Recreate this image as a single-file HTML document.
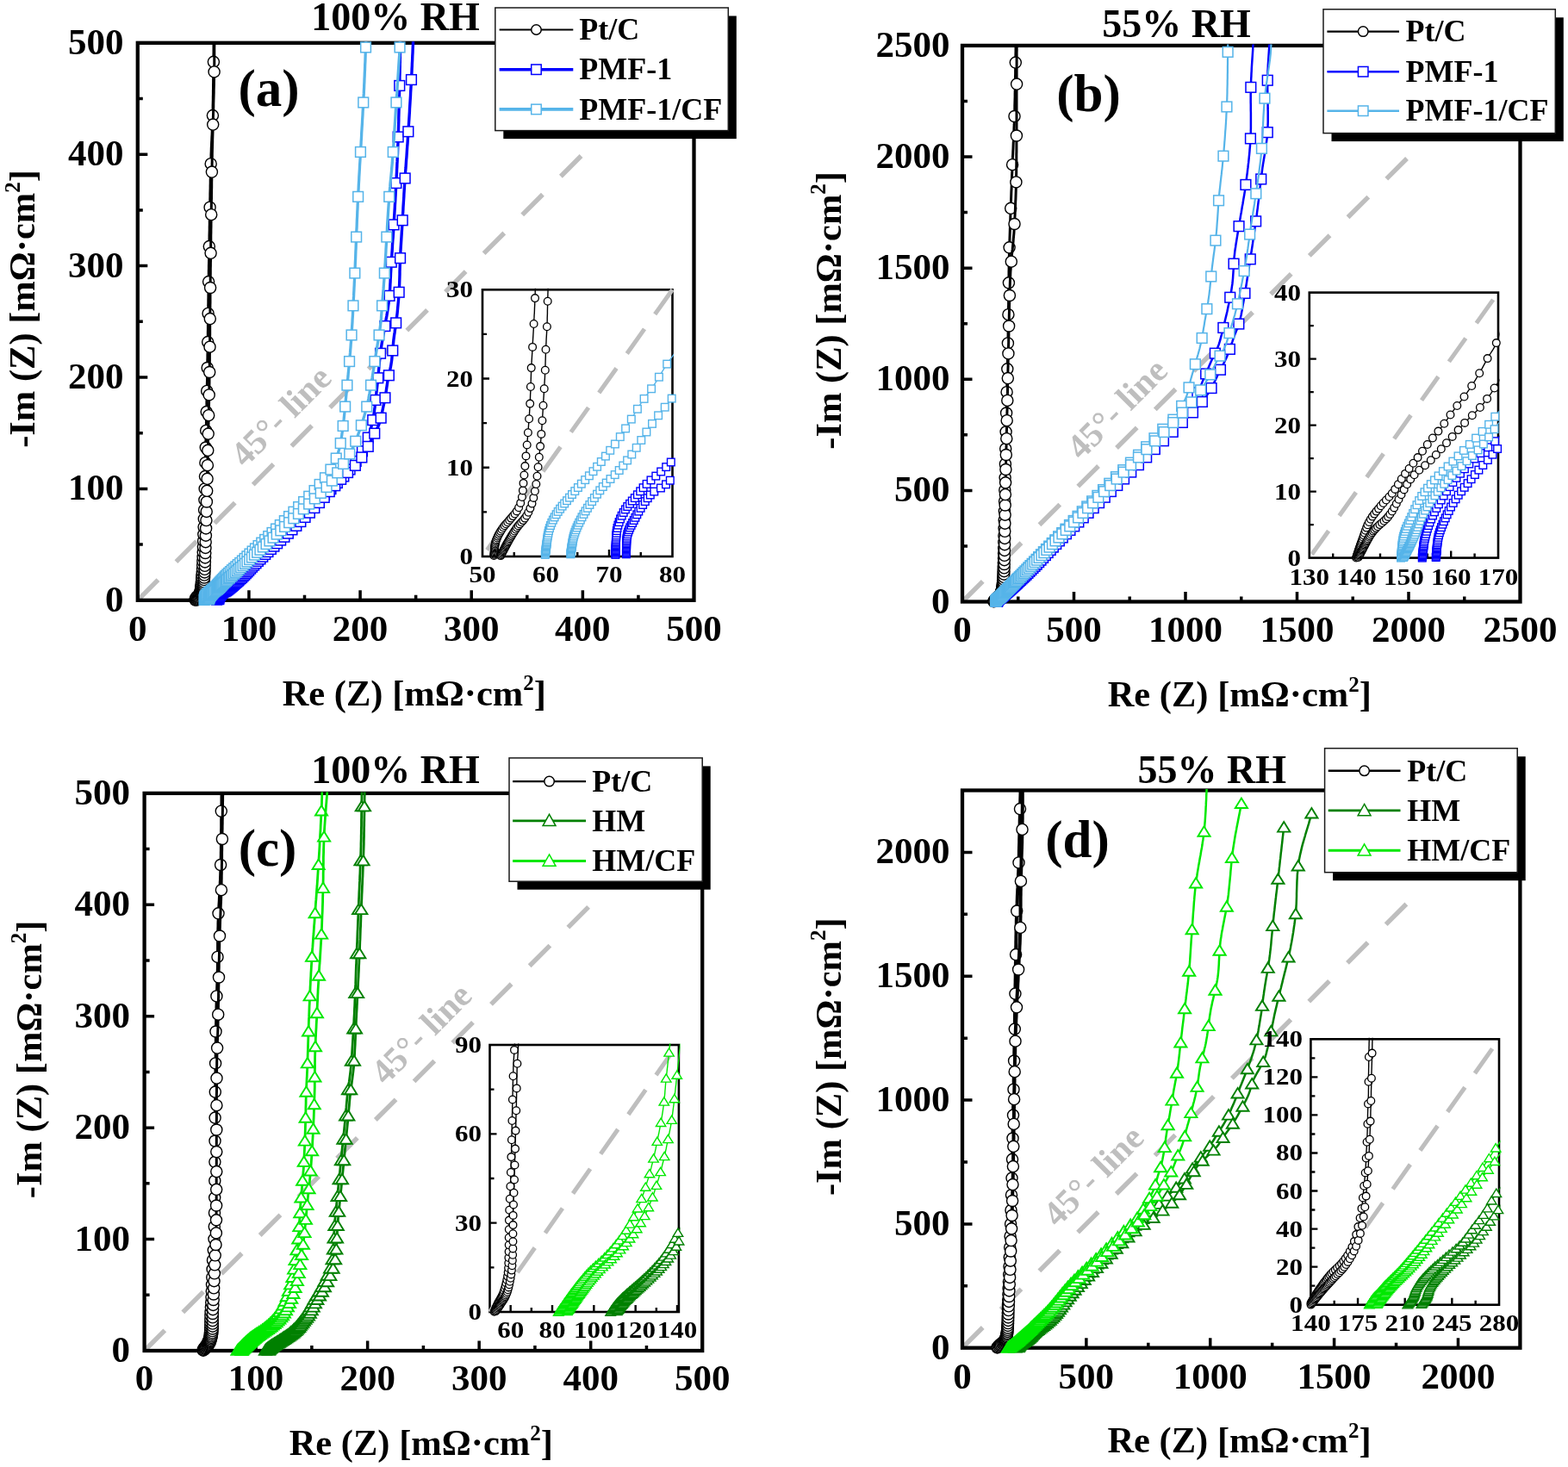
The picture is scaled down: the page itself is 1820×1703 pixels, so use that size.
<!DOCTYPE html>
<html><head><meta charset="utf-8"><title>Nyquist plots</title>
<style>html,body{margin:0;padding:0;background:#fff;} svg{display:block;}</style></head>
<body><svg xmlns="http://www.w3.org/2000/svg" width="1820" height="1703" viewBox="0 0 1820 1703" font-family="'Liberation Serif','Times New Roman',serif" font-weight="bold">
<rect width="1820" height="1703" fill="#fff"/>
<line x1="159.80" y1="696.80" x2="676.36" y2="179.20" stroke="#bebebe" stroke-width="5.4" stroke-dasharray="33.5 29.7" stroke-dashoffset="0"/>
<text x="0" y="0" font-size="41" fill="#bebebe" text-anchor="middle" transform="translate(335.50 492.50) rotate(-45)">45°- line</text>
<rect x="159.80" y="49.80" width="645.70" height="647.00" fill="none" stroke="#000" stroke-width="4.3"/>
<path d="M288.94 696.80v-11.5M418.08 696.80v-11.5M547.22 696.80v-11.5M676.36 696.80v-11.5M224.37 696.80v-6M353.51 696.80v-6M482.65 696.80v-6M611.79 696.80v-6M740.93 696.80v-6M159.80 567.40h11.5M159.80 438.00h11.5M159.80 308.60h11.5M159.80 179.20h11.5M159.80 632.10h6M159.80 502.70h6M159.80 373.30h6M159.80 243.90h6M159.80 114.50h6" stroke="#000" stroke-width="3.5" fill="none"/>
<text x="159.80" y="743.50" font-size="43" text-anchor="middle" fill="#000" >0</text>
<text x="143.50" y="709.80" font-size="43" text-anchor="end" fill="#000" >0</text>
<text x="288.94" y="743.50" font-size="43" text-anchor="middle" fill="#000" >100</text>
<text x="143.50" y="580.40" font-size="43" text-anchor="end" fill="#000" >100</text>
<text x="418.08" y="743.50" font-size="43" text-anchor="middle" fill="#000" >200</text>
<text x="143.50" y="451.00" font-size="43" text-anchor="end" fill="#000" >200</text>
<text x="547.22" y="743.50" font-size="43" text-anchor="middle" fill="#000" >300</text>
<text x="143.50" y="321.60" font-size="43" text-anchor="end" fill="#000" >300</text>
<text x="676.36" y="743.50" font-size="43" text-anchor="middle" fill="#000" >400</text>
<text x="143.50" y="192.20" font-size="43" text-anchor="end" fill="#000" >400</text>
<text x="805.50" y="743.50" font-size="43" text-anchor="middle" fill="#000" >500</text>
<text x="143.50" y="62.80" font-size="43" text-anchor="end" fill="#000" >500</text>
<clipPath id="cl1"><rect x="158.30" y="48.30" width="648.70" height="650.00"/></clipPath>
<g>
<polyline clip-path="url(#cl1)" fill="none" stroke="#000000" stroke-width="3.0" stroke-linejoin="round" points="226.7,696.8 226.8,695.7 227.1,694.6 227.7,693.6 228.5,692.7 229.3,692.0 230.1,691.4 230.9,690.7 231.6,689.9 232.1,689.2 232.4,688.4 232.6,687.2 232.8,685.8 233.0,683.9 233.3,681.9 233.5,680.3 233.7,678.7 233.9,676.8 234.1,674.8 234.2,672.3 234.3,669.8 234.4,668.0 234.6,666.4 234.7,664.7 234.8,663.0 235.0,661.4 235.1,659.2 235.2,657.3 235.3,655.0 235.4,652.3 235.5,649.3 235.6,646.0 235.7,642.6 235.8,639.1 235.9,635.6 236.0,632.1 236.1,629.4 236.2,626.6 236.2,623.7 236.3,620.7 236.4,617.7 236.5,614.6 236.6,611.5 236.7,608.3 236.8,605.1 236.9,601.9 236.9,598.6 237.0,595.3 237.1,592.1 237.2,588.8 237.3,585.5 237.4,582.5 237.4,579.5 237.5,576.5 237.6,573.5 237.6,570.5 237.7,567.4 237.8,564.4 237.9,561.3 237.9,558.2 238.0,555.1 238.1,551.9 238.1,548.7 238.2,545.5 238.3,542.2 238.3,538.9 238.4,535.5 238.5,532.1 238.6,528.6 238.6,525.9 238.7,523.2 238.8,520.4 238.8,517.7 238.9,514.9 238.9,512.1 239.0,509.2 239.1,506.3 239.1,503.5 239.2,500.5 239.3,497.6 239.3,494.6 239.4,491.6 239.5,488.6 239.5,485.6 239.6,482.6 239.7,479.5 239.7,476.4 239.8,473.3 239.9,470.2 239.9,467.0 240.0,463.9 240.1,460.7 240.1,457.5 240.2,454.3 240.3,451.0 240.3,447.8 240.4,444.6 240.5,441.3 240.5,438.0 240.6,435.2 240.6,432.5 240.7,429.7 240.7,426.8 240.8,424.0 240.8,421.1 240.8,418.2 240.9,415.3 240.9,412.4 241.0,409.5 241.0,406.5 241.1,403.6 241.1,400.6 241.2,397.6 241.2,394.6 241.2,391.5 241.3,388.5 241.3,385.5 241.4,382.4 241.4,379.3 241.4,376.3 241.5,373.2 241.5,370.1 241.6,367.0 241.6,363.9 241.7,360.8 241.7,357.7 241.7,354.7 241.8,351.6 241.8,348.5 241.9,345.4 241.9,342.3 242.0,339.2 242.0,336.1 242.1,333.0 242.1,329.9 242.1,326.8 242.2,323.8 242.2,320.7 242.3,317.7 242.3,314.6 242.4,311.6 242.4,308.6 242.5,305.6 242.6,302.5 242.6,299.4 242.7,296.3 242.7,293.1 242.8,289.9 242.8,286.7 242.9,283.5 242.9,280.2 243.0,276.9 243.0,273.7 243.1,270.4 243.2,267.1 243.2,263.8 243.3,260.5 243.3,257.2 243.4,253.9 243.5,250.6 243.5,247.3 243.6,244.0 243.6,240.8 243.7,237.6 243.8,234.4 243.8,231.2 243.9,228.0 243.9,224.9 244.0,221.8 244.1,218.7 244.1,215.7 244.2,212.8 244.2,209.8 244.3,206.9 244.4,204.1 244.4,201.3 244.5,198.6 244.6,195.9 244.6,193.3 244.7,190.8 244.8,188.3 244.8,185.9 244.9,183.6 245.0,181.4 245.0,179.2 245.2,175.2 245.3,171.5 245.5,168.2 245.6,165.0 245.8,162.0 245.9,159.1 246.1,156.2 246.2,153.3 246.3,150.3 246.5,147.2 246.6,143.9 246.7,140.4 246.8,137.6 246.9,134.8 246.9,131.8 247.0,128.8 247.1,125.7 247.1,122.5 247.2,119.2 247.3,115.9 247.3,112.6 247.4,109.2 247.4,105.9 247.5,102.5 247.5,99.2 247.6,95.9 247.6,92.6 247.7,89.4 247.7,86.2 247.7,83.1 247.8,80.1 247.8,77.2 247.8,74.5 247.9,71.8 247.9,68.2 247.9,64.7 248.0,61.4 248.0,58.2 248.0,55.1 248.0,52.1 248.1,49.1 248.1,46.1 248.1,43.1 248.1,40.0 248.1,36.9"/>
<g fill="#fff" stroke="#000000" stroke-width="1.4"><circle cx="226.7" cy="696.5" r="6.55"/><circle cx="226.9" cy="695.6" r="6.55"/><circle cx="227.1" cy="694.7" r="6.55"/><circle cx="227.6" cy="693.8" r="6.55"/><circle cx="228.3" cy="692.9" r="6.55"/><circle cx="229.3" cy="692.0" r="6.55"/><circle cx="230.4" cy="691.1" r="6.55"/><circle cx="231.4" cy="690.2" r="6.55"/><circle cx="232.0" cy="689.3" r="6.55"/><circle cx="232.4" cy="688.4" r="6.55"/><circle cx="232.6" cy="687.4" r="6.55"/><circle cx="232.7" cy="686.4" r="6.55"/><circle cx="232.8" cy="685.2" r="6.55"/><circle cx="233.0" cy="684.0" r="6.55"/><circle cx="233.2" cy="682.5" r="6.55"/><circle cx="233.4" cy="681.0" r="6.55"/><circle cx="233.6" cy="679.2" r="6.55"/><circle cx="233.8" cy="677.3" r="6.55"/><circle cx="234.0" cy="675.1" r="6.55"/><circle cx="234.2" cy="672.7" r="6.55"/><circle cx="234.3" cy="670.0" r="6.55"/><circle cx="234.5" cy="667.1" r="6.55"/><circle cx="234.8" cy="663.8" r="6.55"/><circle cx="235.0" cy="660.1" r="6.55"/><circle cx="235.2" cy="656.0" r="6.55"/><circle cx="235.4" cy="651.5" r="6.55"/><circle cx="235.6" cy="646.5" r="6.55"/><circle cx="235.7" cy="640.9" r="6.55"/><circle cx="235.9" cy="634.8" r="6.55"/><circle cx="236.1" cy="627.9" r="6.55"/><circle cx="236.3" cy="620.3" r="6.55"/><circle cx="236.6" cy="611.8" r="6.55"/><circle cx="236.8" cy="602.4" r="6.55"/><circle cx="237.1" cy="591.9" r="6.55"/><circle cx="237.4" cy="580.3" r="6.55"/><circle cx="237.7" cy="567.4" r="6.55"/><circle cx="238.0" cy="553.1" r="6.55"/><circle cx="238.4" cy="537.2" r="6.55"/><circle cx="238.8" cy="519.5" r="6.55"/><circle cx="239.2" cy="499.9" r="6.55"/><circle cx="239.7" cy="478.1" r="6.55"/><circle cx="240.2" cy="453.9" r="6.55"/><circle cx="240.7" cy="427.0" r="6.55"/><circle cx="241.2" cy="397.1" r="6.55"/><circle cx="241.6" cy="363.9" r="6.55"/><circle cx="242.1" cy="327.1" r="6.55"/><circle cx="242.8" cy="286.1" r="6.55"/><circle cx="243.6" cy="240.7" r="6.55"/><circle cx="244.7" cy="190.2" r="6.55"/><circle cx="246.9" cy="134.1" r="6.55"/><circle cx="247.9" cy="71.8" r="6.55"/></g>
<polyline clip-path="url(#cl1)" fill="none" stroke="#000000" stroke-width="3.0" stroke-linejoin="round" points="228.0,696.8 229.0,695.4 230.1,694.1 230.8,693.2 231.6,692.4 232.4,691.8 233.2,691.1 233.8,690.3 234.3,689.4 234.8,688.3 235.1,687.2 235.3,686.3 235.5,685.3 235.7,683.7 236.0,681.9 236.2,680.5 236.4,678.9 236.6,676.9 236.8,674.7 237.0,672.2 237.2,669.8 237.2,668.2 237.3,666.8 237.4,665.0 237.5,663.2 237.6,661.6 237.7,659.7 237.7,657.8 237.8,655.4 237.9,652.7 238.0,649.6 238.1,646.3 238.2,642.8 238.4,639.2 238.5,635.6 238.6,632.1 238.7,629.4 238.7,626.5 238.8,623.6 238.9,620.7 239.0,617.6 239.1,614.6 239.2,611.4 239.3,608.3 239.4,605.1 239.4,601.8 239.5,598.6 239.6,595.3 239.7,592.1 239.8,588.8 239.9,585.5 239.9,582.5 240.0,579.5 240.1,576.5 240.2,573.5 240.2,570.5 240.3,567.4 240.4,564.4 240.4,561.3 240.5,558.2 240.6,555.1 240.6,551.9 240.7,548.7 240.8,545.5 240.9,542.2 240.9,538.9 241.0,535.5 241.1,532.1 241.2,528.6 241.2,525.9 241.3,523.2 241.3,520.4 241.4,517.7 241.5,514.9 241.5,512.1 241.6,509.2 241.7,506.3 241.7,503.5 241.8,500.5 241.9,497.6 241.9,494.6 242.0,491.6 242.1,488.6 242.2,485.6 242.2,482.6 242.3,479.5 242.4,476.4 242.4,473.3 242.5,470.2 242.6,467.0 242.6,463.9 242.7,460.7 242.8,457.5 242.8,454.3 242.9,451.0 242.9,447.8 243.0,444.6 243.0,441.3 243.1,438.0 243.1,435.2 243.2,432.5 243.2,429.7 243.3,426.8 243.3,424.0 243.3,421.1 243.4,418.2 243.4,415.3 243.4,412.4 243.5,409.5 243.5,406.5 243.5,403.6 243.5,400.6 243.6,397.6 243.6,394.6 243.6,391.5 243.7,388.5 243.7,385.5 243.7,382.4 243.7,379.3 243.8,376.3 243.8,373.2 243.8,370.1 243.8,367.0 243.9,363.9 243.9,360.8 243.9,357.7 243.9,354.7 244.0,351.6 244.0,348.5 244.0,345.4 244.0,342.3 244.1,339.2 244.1,336.1 244.1,333.0 244.2,329.9 244.2,326.8 244.2,323.8 244.2,320.7 244.3,317.7 244.3,314.6 244.3,311.6 244.4,308.6 244.4,305.6 244.5,302.5 244.5,299.4 244.5,296.2 244.6,293.0 244.6,289.8 244.7,286.5 244.7,283.2 244.8,279.9 244.8,276.6 244.8,273.3 244.9,269.9 244.9,266.6 245.0,263.2 245.0,259.9 245.1,256.5 245.1,253.1 245.2,249.8 245.2,246.5 245.3,243.1 245.3,239.9 245.4,236.6 245.4,233.3 245.5,230.1 245.5,226.9 245.6,223.8 245.6,220.7 245.7,217.6 245.7,214.6 245.7,211.6 245.8,208.7 245.8,205.9 245.9,203.1 245.9,200.3 246.0,197.7 246.0,195.1 246.1,192.6 246.1,190.1 246.2,187.8 246.2,185.5 246.2,183.3 246.3,181.2 246.3,179.2 246.4,175.0 246.5,171.4 246.6,168.2 246.7,165.2 246.7,162.3 246.8,159.4 246.9,156.4 247.0,153.1 247.1,149.4 247.2,147.0 247.2,144.4 247.3,141.7 247.4,138.9 247.4,136.0 247.5,133.0 247.6,130.0 247.7,126.9 247.8,123.7 247.8,120.5 247.9,117.3 248.0,114.1 248.1,110.9 248.2,107.7 248.2,104.5 248.3,101.3 248.4,98.2 248.4,95.1 248.5,92.1 248.6,89.1 248.6,86.2 248.6,83.4 248.7,80.1 248.7,76.8 248.8,73.6 248.8,70.4 248.8,67.3 248.8,64.2 248.8,61.2 248.8,58.1 248.8,55.1 248.9,52.1 248.9,49.1 248.9,46.0 248.9,43.0 248.9,39.9 248.9,36.9"/>
<g fill="#fff" stroke="#000000" stroke-width="1.4"><circle cx="228.1" cy="696.6" r="6.55"/><circle cx="228.8" cy="695.7" r="6.55"/><circle cx="229.5" cy="694.8" r="6.55"/><circle cx="230.2" cy="693.9" r="6.55"/><circle cx="231.0" cy="693.0" r="6.55"/><circle cx="232.0" cy="692.1" r="6.55"/><circle cx="233.0" cy="691.2" r="6.55"/><circle cx="233.8" cy="690.3" r="6.55"/><circle cx="234.3" cy="689.4" r="6.55"/><circle cx="234.7" cy="688.5" r="6.55"/><circle cx="235.0" cy="687.6" r="6.55"/><circle cx="235.2" cy="686.6" r="6.55"/><circle cx="235.5" cy="685.5" r="6.55"/><circle cx="235.7" cy="684.2" r="6.55"/><circle cx="235.9" cy="682.8" r="6.55"/><circle cx="236.1" cy="681.3" r="6.55"/><circle cx="236.3" cy="679.5" r="6.55"/><circle cx="236.5" cy="677.6" r="6.55"/><circle cx="236.7" cy="675.5" r="6.55"/><circle cx="236.9" cy="673.1" r="6.55"/><circle cx="237.1" cy="670.5" r="6.55"/><circle cx="237.2" cy="667.6" r="6.55"/><circle cx="237.5" cy="664.4" r="6.55"/><circle cx="237.6" cy="660.8" r="6.55"/><circle cx="237.8" cy="656.8" r="6.55"/><circle cx="237.9" cy="652.4" r="6.55"/><circle cx="238.1" cy="647.4" r="6.55"/><circle cx="238.3" cy="642.0" r="6.55"/><circle cx="238.5" cy="635.9" r="6.55"/><circle cx="238.7" cy="629.2" r="6.55"/><circle cx="238.9" cy="621.7" r="6.55"/><circle cx="239.1" cy="613.4" r="6.55"/><circle cx="239.4" cy="604.1" r="6.55"/><circle cx="239.7" cy="593.9" r="6.55"/><circle cx="239.9" cy="582.5" r="6.55"/><circle cx="240.2" cy="569.8" r="6.55"/><circle cx="240.6" cy="555.8" r="6.55"/><circle cx="240.9" cy="540.2" r="6.55"/><circle cx="241.3" cy="522.8" r="6.55"/><circle cx="241.7" cy="503.6" r="6.55"/><circle cx="242.2" cy="482.2" r="6.55"/><circle cx="242.7" cy="458.4" r="6.55"/><circle cx="243.2" cy="432.0" r="6.55"/><circle cx="243.5" cy="402.7" r="6.55"/><circle cx="243.8" cy="370.1" r="6.55"/><circle cx="244.1" cy="334.0" r="6.55"/><circle cx="244.6" cy="293.8" r="6.55"/><circle cx="245.2" cy="249.2" r="6.55"/><circle cx="245.9" cy="199.6" r="6.55"/><circle cx="247.2" cy="144.6" r="6.55"/><circle cx="248.6" cy="83.4" r="6.55"/></g>
<polyline clip-path="url(#cl1)" fill="none" stroke="#0000ff" stroke-width="3.4" stroke-linejoin="round" points="251.5,696.5 251.6,694.5 251.9,692.7 252.5,691.4 253.3,690.2 254.4,689.1 255.6,688.1 256.8,687.1 257.9,686.2 259.1,685.5 260.3,684.8 261.5,684.0 263.0,683.0 264.8,681.5 267.2,679.6 269.9,677.3 272.8,674.8 275.7,672.2 278.6,669.6 280.6,667.8 282.6,666.0 284.7,664.1 286.7,662.2 288.8,660.2 291.0,658.2 293.2,656.0 295.5,653.8 298.0,651.4 300.6,648.9 302.3,647.2 304.2,645.3 306.2,643.4 308.2,641.4 310.3,639.3 312.4,637.2 314.6,634.9 316.8,632.7 319.1,630.4 321.4,628.0 323.7,625.7 326.1,623.3 328.5,620.9 330.8,618.5 333.2,616.1 335.6,613.7 337.9,611.3 340.3,609.0 342.6,606.6 344.9,604.4 347.1,602.2 349.3,600.0 351.4,597.9 353.5,595.9 356.0,593.5 358.4,591.2 360.9,588.9 363.4,586.5 365.9,584.3 368.3,582.0 370.8,579.8 373.2,577.6 375.5,575.4 377.9,573.3 380.1,571.2 382.4,569.1 384.5,567.1 386.6,565.2 388.6,563.3 390.5,561.4 392.3,559.6 394.9,557.0 397.3,554.6 399.5,552.3 401.6,550.1 403.7,547.8 405.7,545.4 407.7,542.8 409.6,540.4 411.5,537.8 413.3,535.2 415.1,532.5 416.9,529.7 418.6,526.9 420.3,524.0 421.8,521.1 423.2,518.2 424.6,515.2 425.8,512.2 426.9,509.2 428.0,506.1 428.9,503.0 429.8,499.8 430.7,496.5 431.5,493.2 432.3,489.8 432.9,487.0 433.4,484.2 433.9,481.3 434.3,478.4 434.7,475.5 435.1,472.5 435.4,469.4 435.8,466.4 436.1,463.3 436.4,460.2 436.8,457.1 437.1,454.0 437.5,450.9 437.8,448.0 438.1,445.0 438.4,442.0 438.7,438.9 439.0,435.7 439.3,432.6 439.6,429.5 439.9,426.4 440.2,423.2 440.4,420.2 440.8,417.1 441.1,414.1 441.4,411.2 441.7,408.4 442.1,405.6 442.6,402.4 443.1,399.3 443.6,396.2 444.1,393.3 444.6,390.3 445.2,387.4 445.7,384.6 446.3,381.7 446.8,378.8 447.3,375.9 447.8,372.7 448.3,369.6 448.9,366.6 449.4,363.5 449.9,360.4 450.4,357.3 450.8,354.1 451.3,350.8 451.7,347.4 451.9,344.7 452.2,341.8 452.4,339.0 452.6,336.1 452.8,333.1 452.9,330.1 453.1,327.1 453.2,324.0 453.4,320.9 453.5,317.7 453.7,314.5 453.9,311.3 454.0,308.0 454.2,304.7 454.4,301.9 454.6,299.1 454.8,296.3 455.0,293.4 455.2,290.5 455.4,287.5 455.5,284.5 455.7,281.5 455.9,278.5 456.2,275.5 456.4,272.4 456.6,269.3 456.8,266.2 457.0,263.1 457.2,259.9 457.4,256.7 457.5,253.6 457.7,250.4 457.9,247.1 458.1,243.9 458.3,241.1 458.4,238.2 458.6,235.3 458.8,232.5 458.9,229.6 459.1,226.6 459.2,223.7 459.4,220.8 459.6,217.8 459.7,214.9 459.9,211.9 460.0,208.9 460.2,205.9 460.3,202.8 460.5,199.8 460.6,196.7 460.8,193.6 460.9,190.5 461.1,187.4 461.2,184.3 461.3,181.1 461.5,177.9 461.6,174.7 461.7,171.5 461.9,168.2 462.0,165.0 462.1,162.1 462.2,159.2 462.3,156.2 462.4,153.2 462.5,150.0 462.6,146.8 462.7,143.6 462.8,140.3 462.8,136.9 462.9,133.6 463.0,130.2 463.1,126.8 463.2,123.3 463.3,119.9 463.4,116.4 463.4,113.0 463.5,109.6 463.6,106.2 463.7,102.8 463.7,99.5 463.8,96.2 463.9,92.9 463.9,89.7 464.0,86.6 464.1,83.5 464.1,80.6 464.2,77.6 464.2,74.8 464.3,72.1 464.3,69.5 464.4,67.0 464.4,64.6 464.5,62.3 464.5,60.1 464.5,58.1 464.6,56.3 464.6,52.1 464.7,48.6 464.7,45.6 464.8,42.7 464.8,39.9 464.8,36.9"/>
<g fill="#fff" stroke="#0000ff" stroke-width="1.5"><rect x="245.7" y="690.3" width="11.7" height="11.7"/><rect x="245.7" y="689.4" width="11.7" height="11.7"/><rect x="245.8" y="688.5" width="11.7" height="11.7"/><rect x="245.9" y="687.6" width="11.7" height="11.7"/><rect x="246.1" y="686.7" width="11.7" height="11.7"/><rect x="246.5" y="685.8" width="11.7" height="11.7"/><rect x="247.0" y="684.9" width="11.7" height="11.7"/><rect x="247.8" y="684.0" width="11.7" height="11.7"/><rect x="248.7" y="683.1" width="11.7" height="11.7"/><rect x="249.8" y="682.2" width="11.7" height="11.7"/><rect x="250.9" y="681.3" width="11.7" height="11.7"/><rect x="252.0" y="680.4" width="11.7" height="11.7"/><rect x="253.4" y="679.5" width="11.7" height="11.7"/><rect x="254.9" y="678.6" width="11.7" height="11.7"/><rect x="256.2" y="677.7" width="11.7" height="11.7"/><rect x="257.5" y="676.8" width="11.7" height="11.7"/><rect x="258.6" y="675.9" width="11.7" height="11.7"/><rect x="259.7" y="675.0" width="11.7" height="11.7"/><rect x="260.8" y="674.1" width="11.7" height="11.7"/><rect x="261.9" y="673.2" width="11.7" height="11.7"/><rect x="263.1" y="672.2" width="11.7" height="11.7"/><rect x="264.3" y="671.2" width="11.7" height="11.7"/><rect x="265.5" y="670.1" width="11.7" height="11.7"/><rect x="266.8" y="669.0" width="11.7" height="11.7"/><rect x="268.2" y="667.8" width="11.7" height="11.7"/><rect x="269.7" y="666.5" width="11.7" height="11.7"/><rect x="271.2" y="665.2" width="11.7" height="11.7"/><rect x="272.8" y="663.8" width="11.7" height="11.7"/><rect x="274.4" y="662.3" width="11.7" height="11.7"/><rect x="276.2" y="660.7" width="11.7" height="11.7"/><rect x="278.0" y="659.0" width="11.7" height="11.7"/><rect x="279.9" y="657.3" width="11.7" height="11.7"/><rect x="281.8" y="655.4" width="11.7" height="11.7"/><rect x="283.9" y="653.5" width="11.7" height="11.7"/><rect x="286.1" y="651.4" width="11.7" height="11.7"/><rect x="288.4" y="649.2" width="11.7" height="11.7"/><rect x="290.7" y="646.9" width="11.7" height="11.7"/><rect x="293.2" y="644.5" width="11.7" height="11.7"/><rect x="295.9" y="641.9" width="11.7" height="11.7"/><rect x="298.6" y="639.2" width="11.7" height="11.7"/><rect x="301.5" y="636.4" width="11.7" height="11.7"/><rect x="304.5" y="633.4" width="11.7" height="11.7"/><rect x="307.7" y="630.2" width="11.7" height="11.7"/><rect x="311.0" y="626.8" width="11.7" height="11.7"/><rect x="314.5" y="623.3" width="11.7" height="11.7"/><rect x="318.2" y="619.5" width="11.7" height="11.7"/><rect x="322.1" y="615.6" width="11.7" height="11.7"/><rect x="326.2" y="611.4" width="11.7" height="11.7"/><rect x="330.5" y="607.0" width="11.7" height="11.7"/><rect x="335.1" y="602.4" width="11.7" height="11.7"/><rect x="340.1" y="597.5" width="11.7" height="11.7"/><rect x="345.3" y="592.3" width="11.7" height="11.7"/><rect x="351.0" y="586.9" width="11.7" height="11.7"/><rect x="357.1" y="581.1" width="11.7" height="11.7"/><rect x="363.7" y="575.0" width="11.7" height="11.7"/><rect x="370.7" y="568.6" width="11.7" height="11.7"/><rect x="378.1" y="561.8" width="11.7" height="11.7"/><rect x="385.5" y="554.7" width="11.7" height="11.7"/><rect x="393.0" y="547.1" width="11.7" height="11.7"/><rect x="400.2" y="539.1" width="11.7" height="11.7"/><rect x="407.3" y="529.6" width="11.7" height="11.7"/><rect x="414.6" y="517.9" width="11.7" height="11.7"/><rect x="421.4" y="502.2" width="11.7" height="11.7"/><rect x="426.9" y="481.8" width="11.7" height="11.7"/><rect x="430.1" y="458.6" width="11.7" height="11.7"/><rect x="432.9" y="432.9" width="11.7" height="11.7"/><rect x="435.7" y="404.4" width="11.7" height="11.7"/><rect x="441.0" y="372.7" width="11.7" height="11.7"/><rect x="446.2" y="337.5" width="11.7" height="11.7"/><rect x="448.4" y="298.4" width="11.7" height="11.7"/><rect x="451.2" y="255.0" width="11.7" height="11.7"/><rect x="454.0" y="206.7" width="11.7" height="11.7"/><rect x="456.3" y="153.1" width="11.7" height="11.7"/><rect x="457.9" y="93.6" width="11.7" height="11.7"/></g>
<polyline clip-path="url(#cl1)" fill="none" stroke="#0000ff" stroke-width="3.4" stroke-linejoin="round" points="253.7,696.5 253.7,695.0 253.9,693.6 254.6,692.4 255.4,691.4 256.2,690.2 257.2,689.2 258.1,688.2 259.1,687.5 260.1,687.1 261.0,686.7 261.8,686.3 262.7,685.7 264.2,684.5 266.3,682.8 268.8,680.7 271.6,678.3 274.4,675.8 277.3,673.3 279.9,670.9 282.0,669.0 284.0,667.0 285.9,665.0 287.9,663.0 289.9,660.9 292.0,658.8 294.2,656.5 296.6,654.1 299.3,651.5 301.0,649.9 302.8,648.1 304.7,646.3 306.8,644.4 308.8,642.5 311.0,640.5 313.3,638.4 315.5,636.3 317.9,634.2 320.3,632.0 322.7,629.8 325.2,627.6 327.6,625.3 330.1,623.0 332.6,620.7 335.1,618.4 337.6,616.1 340.0,613.8 342.5,611.6 344.9,609.3 347.2,607.1 349.5,604.9 351.8,602.7 354.0,600.6 356.1,598.5 358.4,596.1 360.8,593.7 363.1,591.3 365.4,588.9 367.8,586.4 370.1,584.0 372.4,581.5 374.6,579.0 376.9,576.6 379.1,574.2 381.3,571.8 383.4,569.4 385.6,567.1 387.6,564.9 389.6,562.7 391.6,560.6 393.5,558.6 395.3,556.7 397.0,554.9 398.7,553.2 401.4,550.5 404.0,548.1 406.4,545.9 408.7,543.9 410.8,541.9 412.9,539.8 414.9,537.6 417.1,534.8 419.1,532.0 421.0,529.2 422.8,526.3 424.5,523.4 426.2,520.4 427.8,517.3 429.3,514.1 430.8,511.0 432.3,507.9 433.9,504.8 435.6,501.7 437.2,498.6 438.7,495.5 440.0,492.3 441.0,489.3 441.9,486.2 442.6,483.1 443.2,480.0 443.9,476.8 444.6,473.5 445.3,470.1 446.0,466.8 446.7,463.4 447.3,460.0 447.8,456.7 448.3,453.4 448.8,450.1 449.3,446.7 449.8,443.2 450.4,440.2 451.0,437.2 451.7,434.1 452.4,430.9 453.1,427.7 453.7,424.4 454.2,421.2 454.7,418.1 455.0,414.9 455.3,411.7 455.6,408.5 455.9,405.2 456.2,401.9 456.5,398.6 456.8,395.3 457.2,392.2 457.6,389.1 458.1,385.9 458.5,382.8 459.0,379.6 459.5,376.4 459.9,373.2 460.3,370.0 460.7,366.8 461.1,363.6 461.4,360.3 461.7,357.1 462.0,353.8 462.3,350.6 462.6,347.3 462.8,343.9 463.1,340.5 463.3,337.1 463.4,334.1 463.6,331.1 463.7,328.1 463.8,325.0 463.9,321.9 464.0,318.8 464.0,315.6 464.1,312.4 464.2,309.2 464.3,306.0 464.4,302.8 464.6,299.5 464.7,296.5 464.9,293.4 465.0,290.3 465.2,287.2 465.4,284.1 465.6,280.9 465.8,277.7 466.0,274.5 466.2,271.4 466.4,268.2 466.6,265.0 466.8,261.8 467.0,258.7 467.2,255.5 467.3,252.5 467.5,249.5 467.7,246.5 467.9,243.5 468.0,240.5 468.2,237.5 468.4,234.5 468.6,231.5 468.8,228.5 468.9,225.4 469.1,222.4 469.3,219.2 469.5,216.1 469.7,212.8 469.9,209.9 470.1,207.0 470.3,204.0 470.5,201.1 470.7,198.0 471.0,195.0 471.2,191.9 471.4,188.8 471.6,185.7 471.9,182.6 472.1,179.5 472.3,176.3 472.5,173.2 472.7,170.0 473.0,166.8 473.2,163.6 473.4,160.4 473.6,157.2 473.8,154.2 474.0,151.2 474.2,148.2 474.4,145.1 474.6,142.0 474.8,138.9 475.0,135.8 475.2,132.7 475.4,129.6 475.5,126.4 475.7,123.3 475.9,120.1 476.1,117.0 476.3,113.9 476.5,110.8 476.6,107.7 476.8,104.6 477.0,101.5 477.2,98.5 477.3,95.5 477.5,92.5 477.7,89.3 477.8,86.1 478.0,83.0 478.1,79.9 478.3,76.7 478.4,73.6 478.6,70.6 478.7,67.5 478.8,64.4 479.0,61.4 479.1,58.3 479.2,55.3 479.4,52.2 479.5,49.1 479.6,46.1 479.8,43.0 479.9,39.9 480.1,36.9"/>
<g fill="#fff" stroke="#0000ff" stroke-width="1.5"><rect x="247.9" y="689.8" width="11.7" height="11.7"/><rect x="247.9" y="688.9" width="11.7" height="11.7"/><rect x="248.0" y="688.0" width="11.7" height="11.7"/><rect x="248.4" y="687.1" width="11.7" height="11.7"/><rect x="249.0" y="686.2" width="11.7" height="11.7"/><rect x="249.7" y="685.3" width="11.7" height="11.7"/><rect x="250.3" y="684.4" width="11.7" height="11.7"/><rect x="251.1" y="683.5" width="11.7" height="11.7"/><rect x="252.0" y="682.6" width="11.7" height="11.7"/><rect x="253.1" y="681.7" width="11.7" height="11.7"/><rect x="255.2" y="680.8" width="11.7" height="11.7"/><rect x="256.7" y="679.9" width="11.7" height="11.7"/><rect x="257.9" y="679.0" width="11.7" height="11.7"/><rect x="259.0" y="678.1" width="11.7" height="11.7"/><rect x="260.1" y="677.2" width="11.7" height="11.7"/><rect x="261.2" y="676.3" width="11.7" height="11.7"/><rect x="262.3" y="675.4" width="11.7" height="11.7"/><rect x="263.4" y="674.5" width="11.7" height="11.7"/><rect x="264.4" y="673.6" width="11.7" height="11.7"/><rect x="265.5" y="672.7" width="11.7" height="11.7"/><rect x="266.7" y="671.7" width="11.7" height="11.7"/><rect x="267.9" y="670.6" width="11.7" height="11.7"/><rect x="269.1" y="669.5" width="11.7" height="11.7"/><rect x="270.5" y="668.3" width="11.7" height="11.7"/><rect x="271.8" y="667.1" width="11.7" height="11.7"/><rect x="273.3" y="665.8" width="11.7" height="11.7"/><rect x="274.8" y="664.4" width="11.7" height="11.7"/><rect x="276.3" y="662.9" width="11.7" height="11.7"/><rect x="277.9" y="661.4" width="11.7" height="11.7"/><rect x="279.5" y="659.8" width="11.7" height="11.7"/><rect x="281.2" y="658.1" width="11.7" height="11.7"/><rect x="282.9" y="656.3" width="11.7" height="11.7"/><rect x="284.8" y="654.3" width="11.7" height="11.7"/><rect x="286.7" y="652.3" width="11.7" height="11.7"/><rect x="288.8" y="650.2" width="11.7" height="11.7"/><rect x="291.1" y="648.0" width="11.7" height="11.7"/><rect x="293.5" y="645.6" width="11.7" height="11.7"/><rect x="296.1" y="643.1" width="11.7" height="11.7"/><rect x="298.9" y="640.4" width="11.7" height="11.7"/><rect x="301.9" y="637.6" width="11.7" height="11.7"/><rect x="305.1" y="634.7" width="11.7" height="11.7"/><rect x="308.5" y="631.6" width="11.7" height="11.7"/><rect x="312.1" y="628.3" width="11.7" height="11.7"/><rect x="315.8" y="624.9" width="11.7" height="11.7"/><rect x="319.8" y="621.2" width="11.7" height="11.7"/><rect x="324.1" y="617.4" width="11.7" height="11.7"/><rect x="328.5" y="613.3" width="11.7" height="11.7"/><rect x="333.1" y="609.0" width="11.7" height="11.7"/><rect x="338.0" y="604.5" width="11.7" height="11.7"/><rect x="343.0" y="599.7" width="11.7" height="11.7"/><rect x="348.2" y="594.6" width="11.7" height="11.7"/><rect x="353.5" y="589.3" width="11.7" height="11.7"/><rect x="359.0" y="583.7" width="11.7" height="11.7"/><rect x="364.6" y="577.7" width="11.7" height="11.7"/><rect x="370.4" y="571.5" width="11.7" height="11.7"/><rect x="376.4" y="564.8" width="11.7" height="11.7"/><rect x="382.9" y="557.9" width="11.7" height="11.7"/><rect x="389.8" y="550.5" width="11.7" height="11.7"/><rect x="397.7" y="542.7" width="11.7" height="11.7"/><rect x="406.5" y="534.5" width="11.7" height="11.7"/><rect x="414.0" y="525.1" width="11.7" height="11.7"/><rect x="421.4" y="512.5" width="11.7" height="11.7"/><rect x="428.9" y="497.3" width="11.7" height="11.7"/><rect x="436.3" y="479.3" width="11.7" height="11.7"/><rect x="441.1" y="455.9" width="11.7" height="11.7"/><rect x="445.5" y="429.9" width="11.7" height="11.7"/><rect x="449.9" y="401.1" width="11.7" height="11.7"/><rect x="453.8" y="369.0" width="11.7" height="11.7"/><rect x="457.3" y="333.4" width="11.7" height="11.7"/><rect x="458.7" y="293.8" width="11.7" height="11.7"/><rect x="461.3" y="249.9" width="11.7" height="11.7"/><rect x="464.3" y="201.1" width="11.7" height="11.7"/><rect x="468.0" y="146.9" width="11.7" height="11.7"/><rect x="471.6" y="86.7" width="11.7" height="11.7"/></g>
<polyline clip-path="url(#cl1)" fill="none" stroke="#56b4e9" stroke-width="3.3" stroke-linejoin="round" points="237.2,696.5 237.5,694.5 238.1,692.7 238.8,691.5 239.6,690.5 240.7,689.4 241.9,688.4 243.1,687.4 244.3,686.4 245.5,685.5 246.8,684.5 248.4,683.2 249.9,681.8 251.1,680.7 252.3,679.6 253.4,678.4 254.5,677.1 255.6,675.8 256.8,674.4 258.1,673.1 259.5,671.7 260.7,670.3 262.3,668.5 263.7,667.1 265.3,665.6 267.2,663.8 269.4,661.9 271.7,659.8 274.2,657.5 276.8,655.2 279.5,652.7 282.3,650.2 285.1,647.6 286.9,646.0 288.7,644.2 290.7,642.3 292.8,640.4 294.9,638.4 297.1,636.3 299.4,634.2 301.7,632.0 304.0,629.8 306.4,627.6 308.8,625.3 311.2,623.0 313.7,620.7 316.1,618.3 318.5,616.0 320.9,613.7 323.3,611.4 325.7,609.2 328.0,606.9 330.3,604.7 332.5,602.6 334.6,600.5 336.7,598.4 338.7,596.5 340.6,594.6 343.1,592.1 345.5,589.7 347.9,587.3 350.2,585.0 352.5,582.7 354.7,580.4 356.8,578.2 359.0,576.0 361.0,573.9 363.0,571.7 364.9,569.7 366.8,567.6 368.6,565.5 370.3,563.5 372.4,561.0 374.5,558.5 376.4,556.1 378.2,553.8 379.9,551.4 381.5,549.1 383.0,546.6 384.5,544.1 386.1,541.2 387.6,538.2 389.0,535.1 390.2,532.0 391.4,528.8 392.5,525.5 393.5,522.1 394.3,519.2 395.0,516.1 395.6,513.0 396.1,509.8 396.6,506.6 397.0,503.3 397.5,499.9 397.9,496.5 398.3,493.2 398.7,489.8 399.1,486.9 399.4,484.1 399.7,481.2 400.0,478.3 400.3,475.4 400.6,472.5 400.9,469.5 401.2,466.5 401.4,463.5 401.7,460.4 402.0,457.3 402.3,454.2 402.6,450.9 402.8,448.2 403.1,445.4 403.4,442.5 403.7,439.6 404.0,436.8 404.2,433.8 404.5,430.9 404.8,427.9 405.1,424.9 405.4,421.9 405.7,418.8 405.9,415.7 406.2,412.6 406.5,409.4 406.7,406.3 407.0,403.1 407.2,399.8 407.5,396.6 407.7,393.8 407.9,391.0 408.1,388.2 408.3,385.3 408.4,382.5 408.6,379.6 408.8,376.7 409.0,373.7 409.1,370.8 409.3,367.8 409.5,364.8 409.6,361.8 409.8,358.8 409.9,355.7 410.1,352.7 410.3,349.6 410.4,346.5 410.6,343.4 410.7,340.3 410.9,337.2 411.0,334.1 411.2,331.0 411.3,327.8 411.5,324.7 411.6,321.5 411.8,318.6 411.9,315.7 412.0,312.8 412.2,309.8 412.3,306.8 412.4,303.8 412.6,300.7 412.7,297.7 412.8,294.6 412.9,291.5 413.1,288.5 413.2,285.4 413.3,282.3 413.4,279.2 413.6,276.0 413.7,272.9 413.8,269.8 413.9,266.8 414.1,263.7 414.2,260.6 414.3,257.5 414.4,254.5 414.6,251.5 414.7,248.5 414.8,245.5 415.0,242.5 415.1,239.6 415.2,236.7 415.4,233.8 415.5,231.0 415.7,227.7 415.8,224.5 416.0,221.3 416.2,218.1 416.3,214.9 416.5,211.7 416.7,208.6 416.8,205.4 417.0,202.3 417.2,199.2 417.4,196.1 417.5,193.0 417.7,190.0 417.9,187.0 418.1,184.0 418.2,181.0 418.4,178.1 418.6,175.2 418.7,172.3 418.9,169.4 419.1,166.6 419.2,163.8 419.4,161.1 419.6,157.7 419.7,154.4 419.9,151.3 420.1,148.1 420.3,145.1 420.5,142.0 420.6,139.1 420.8,136.1 421.0,133.1 421.1,130.1 421.3,127.1 421.5,124.0 421.6,120.9 421.8,117.8 422.0,114.5 422.1,111.5 422.3,108.4 422.4,105.1 422.6,101.8 422.7,98.5 422.9,95.1 423.0,91.6 423.2,88.2 423.3,84.8 423.5,81.3 423.6,78.0 423.7,74.7 423.9,71.5 424.0,68.4 424.1,65.4 424.2,62.5 424.3,59.8 424.4,57.3 424.5,55.0 424.7,51.4 424.8,48.2 424.9,45.3 425.0,42.5 425.1,39.8 425.2,36.9"/>
<g fill="#fff" stroke="#56b4e9" stroke-width="1.5"><rect x="231.3" y="690.6" width="11.7" height="11.7"/><rect x="231.5" y="689.7" width="11.7" height="11.7"/><rect x="231.7" y="688.8" width="11.7" height="11.7"/><rect x="231.9" y="687.9" width="11.7" height="11.7"/><rect x="232.2" y="687.0" width="11.7" height="11.7"/><rect x="232.6" y="686.1" width="11.7" height="11.7"/><rect x="233.3" y="685.2" width="11.7" height="11.7"/><rect x="234.1" y="684.3" width="11.7" height="11.7"/><rect x="235.1" y="683.4" width="11.7" height="11.7"/><rect x="236.2" y="682.5" width="11.7" height="11.7"/><rect x="237.2" y="681.6" width="11.7" height="11.7"/><rect x="238.3" y="680.7" width="11.7" height="11.7"/><rect x="239.5" y="679.8" width="11.7" height="11.7"/><rect x="240.7" y="678.9" width="11.7" height="11.7"/><rect x="241.8" y="678.0" width="11.7" height="11.7"/><rect x="242.8" y="677.1" width="11.7" height="11.7"/><rect x="243.8" y="676.2" width="11.7" height="11.7"/><rect x="244.8" y="675.3" width="11.7" height="11.7"/><rect x="245.8" y="674.4" width="11.7" height="11.7"/><rect x="246.7" y="673.5" width="11.7" height="11.7"/><rect x="247.5" y="672.5" width="11.7" height="11.7"/><rect x="248.4" y="671.5" width="11.7" height="11.7"/><rect x="249.3" y="670.4" width="11.7" height="11.7"/><rect x="250.3" y="669.3" width="11.7" height="11.7"/><rect x="251.4" y="668.1" width="11.7" height="11.7"/><rect x="252.6" y="666.9" width="11.7" height="11.7"/><rect x="253.9" y="665.6" width="11.7" height="11.7"/><rect x="255.1" y="664.2" width="11.7" height="11.7"/><rect x="256.4" y="662.7" width="11.7" height="11.7"/><rect x="258.0" y="661.1" width="11.7" height="11.7"/><rect x="259.7" y="659.5" width="11.7" height="11.7"/><rect x="261.6" y="657.8" width="11.7" height="11.7"/><rect x="263.6" y="655.9" width="11.7" height="11.7"/><rect x="265.8" y="654.0" width="11.7" height="11.7"/><rect x="268.0" y="652.0" width="11.7" height="11.7"/><rect x="270.4" y="649.8" width="11.7" height="11.7"/><rect x="272.9" y="647.6" width="11.7" height="11.7"/><rect x="275.6" y="645.2" width="11.7" height="11.7"/><rect x="278.3" y="642.6" width="11.7" height="11.7"/><rect x="281.1" y="640.0" width="11.7" height="11.7"/><rect x="284.1" y="637.2" width="11.7" height="11.7"/><rect x="287.3" y="634.2" width="11.7" height="11.7"/><rect x="290.6" y="631.1" width="11.7" height="11.7"/><rect x="294.2" y="627.7" width="11.7" height="11.7"/><rect x="297.9" y="624.3" width="11.7" height="11.7"/><rect x="301.8" y="620.6" width="11.7" height="11.7"/><rect x="305.9" y="616.7" width="11.7" height="11.7"/><rect x="310.2" y="612.6" width="11.7" height="11.7"/><rect x="314.7" y="608.2" width="11.7" height="11.7"/><rect x="319.5" y="603.7" width="11.7" height="11.7"/><rect x="324.5" y="598.8" width="11.7" height="11.7"/><rect x="329.7" y="593.7" width="11.7" height="11.7"/><rect x="335.1" y="588.4" width="11.7" height="11.7"/><rect x="340.8" y="582.7" width="11.7" height="11.7"/><rect x="346.8" y="576.7" width="11.7" height="11.7"/><rect x="352.9" y="570.4" width="11.7" height="11.7"/><rect x="359.2" y="563.7" width="11.7" height="11.7"/><rect x="365.3" y="556.6" width="11.7" height="11.7"/><rect x="371.6" y="548.9" width="11.7" height="11.7"/><rect x="378.1" y="539.2" width="11.7" height="11.7"/><rect x="384.4" y="526.2" width="11.7" height="11.7"/><rect x="389.4" y="508.7" width="11.7" height="11.7"/><rect x="392.3" y="488.6" width="11.7" height="11.7"/><rect x="394.8" y="466.2" width="11.7" height="11.7"/><rect x="397.1" y="441.3" width="11.7" height="11.7"/><rect x="399.7" y="413.7" width="11.7" height="11.7"/><rect x="402.2" y="383.1" width="11.7" height="11.7"/><rect x="404.1" y="349.0" width="11.7" height="11.7"/><rect x="406.0" y="311.2" width="11.7" height="11.7"/><rect x="407.8" y="269.2" width="11.7" height="11.7"/><rect x="409.8" y="222.5" width="11.7" height="11.7"/><rect x="412.6" y="170.6" width="11.7" height="11.7"/><rect x="415.9" y="113.1" width="11.7" height="11.7"/><rect x="418.7" y="49.1" width="11.7" height="11.7"/></g>
<polyline clip-path="url(#cl1)" fill="none" stroke="#56b4e9" stroke-width="3.3" stroke-linejoin="round" points="242.3,696.5 242.7,695.0 243.1,693.6 243.8,692.3 244.6,691.1 245.7,689.9 246.8,688.6 248.0,687.5 249.2,686.4 250.7,685.4 252.3,684.2 253.8,682.9 255.2,681.5 256.6,680.0 257.9,678.6 258.9,677.6 259.9,676.6 261.1,675.5 262.7,674.0 264.1,672.8 265.7,671.3 267.7,669.5 269.9,667.6 272.3,665.4 274.9,663.1 277.6,660.6 280.3,658.1 283.2,655.5 286.1,652.8 288.9,650.2 290.8,648.5 292.7,646.7 294.7,644.9 296.8,643.0 298.9,641.0 301.1,638.9 303.4,636.9 305.7,634.7 308.0,632.6 310.3,630.4 312.7,628.1 315.1,625.9 317.5,623.7 319.9,621.4 322.4,619.1 324.8,616.9 327.2,614.6 329.5,612.4 331.9,610.2 334.2,608.0 336.5,605.9 338.7,603.8 340.9,601.7 343.0,599.7 345.1,597.7 347.1,595.9 349.5,593.5 352.0,591.2 354.4,589.0 356.9,586.7 359.3,584.5 361.6,582.3 364.0,580.2 366.2,578.1 368.5,576.0 370.6,573.9 372.7,571.9 374.7,569.9 376.7,567.9 378.5,566.0 380.3,564.1 381.9,562.2 384.2,559.5 386.2,556.9 388.1,554.3 389.8,551.9 391.4,549.4 393.1,546.8 394.8,544.1 396.4,541.7 398.1,539.2 399.8,536.6 401.4,534.0 403.1,531.4 404.7,528.8 406.2,526.1 407.7,523.5 409.0,520.8 410.4,518.0 411.6,515.1 412.8,512.2 413.9,509.3 415.0,506.4 416.0,503.5 417.1,500.5 418.1,497.5 419.0,494.7 420.0,491.9 420.9,489.1 421.8,486.2 422.7,483.3 423.5,480.4 424.3,477.5 425.1,474.6 425.8,471.6 426.5,468.7 427.2,465.7 427.8,462.8 428.3,459.8 428.9,456.8 429.4,453.7 429.9,450.7 430.5,447.6 431.0,444.5 431.5,441.4 432.1,438.2 432.6,435.0 433.1,431.7 433.6,428.5 434.1,425.2 434.6,421.9 435.1,418.6 435.6,415.4 436.2,412.1 436.7,408.9 437.2,405.6 437.8,402.4 438.3,399.1 438.9,395.9 439.4,392.6 440.0,389.4 440.5,386.2 440.9,383.0 441.3,379.8 441.7,376.4 442.1,373.1 442.4,369.9 442.6,366.6 442.9,363.3 443.1,360.1 443.4,356.8 443.6,353.4 443.9,350.0 444.1,347.0 444.4,344.0 444.6,341.1 444.8,338.2 445.1,335.2 445.3,332.1 445.5,329.0 445.8,325.8 446.0,322.4 446.2,318.8 446.5,315.1 446.7,312.6 446.8,310.1 447.0,307.4 447.2,304.6 447.3,301.7 447.5,298.7 447.7,295.7 447.9,292.6 448.0,289.4 448.2,286.2 448.4,282.9 448.6,279.6 448.8,276.3 449.0,273.0 449.2,269.6 449.4,266.3 449.5,262.9 449.7,259.6 449.9,256.4 450.1,253.1 450.3,249.9 450.5,246.8 450.7,243.7 450.9,240.7 451.1,237.8 451.3,235.0 451.5,232.3 451.7,229.7 451.9,226.1 452.2,222.7 452.5,219.4 452.8,216.2 453.0,213.1 453.3,210.1 453.6,207.1 453.9,204.2 454.2,201.2 454.5,198.3 454.7,195.2 455.0,192.2 455.3,189.0 455.5,185.7 455.7,182.8 456.0,179.9 456.2,177.0 456.4,174.1 456.6,171.1 456.8,168.1 457.0,165.1 457.2,162.1 457.4,159.0 457.6,155.9 457.8,152.8 458.0,149.7 458.2,146.6 458.4,143.4 458.6,140.3 458.8,137.1 459.0,133.9 459.2,130.7 459.4,127.4 459.6,124.5 459.8,121.5 460.0,118.4 460.2,115.3 460.4,112.0 460.7,108.7 460.9,105.4 461.1,102.1 461.3,98.7 461.6,95.4 461.8,92.0 462.0,88.7 462.2,85.4 462.4,82.1 462.6,79.0 462.8,75.8 463.0,72.8 463.2,69.9 463.4,67.1 463.6,64.4 463.7,61.8 463.8,59.3 464.0,57.1 464.1,55.0 464.2,51.3 464.3,48.0 464.4,45.2 464.4,42.5 464.5,39.7 464.6,36.9"/>
<g fill="#fff" stroke="#56b4e9" stroke-width="1.5"><rect x="236.6" y="690.0" width="11.7" height="11.7"/><rect x="236.8" y="689.1" width="11.7" height="11.7"/><rect x="237.1" y="688.2" width="11.7" height="11.7"/><rect x="237.4" y="687.3" width="11.7" height="11.7"/><rect x="237.9" y="686.4" width="11.7" height="11.7"/><rect x="238.6" y="685.5" width="11.7" height="11.7"/><rect x="239.3" y="684.6" width="11.7" height="11.7"/><rect x="240.1" y="683.7" width="11.7" height="11.7"/><rect x="240.9" y="682.8" width="11.7" height="11.7"/><rect x="241.8" y="681.9" width="11.7" height="11.7"/><rect x="242.8" y="681.0" width="11.7" height="11.7"/><rect x="244.0" y="680.1" width="11.7" height="11.7"/><rect x="245.2" y="679.2" width="11.7" height="11.7"/><rect x="246.5" y="678.3" width="11.7" height="11.7"/><rect x="247.5" y="677.4" width="11.7" height="11.7"/><rect x="248.5" y="676.5" width="11.7" height="11.7"/><rect x="249.4" y="675.6" width="11.7" height="11.7"/><rect x="250.2" y="674.7" width="11.7" height="11.7"/><rect x="251.1" y="673.8" width="11.7" height="11.7"/><rect x="251.9" y="672.9" width="11.7" height="11.7"/><rect x="252.9" y="671.9" width="11.7" height="11.7"/><rect x="253.9" y="670.9" width="11.7" height="11.7"/><rect x="255.1" y="669.8" width="11.7" height="11.7"/><rect x="256.4" y="668.6" width="11.7" height="11.7"/><rect x="257.7" y="667.4" width="11.7" height="11.7"/><rect x="259.2" y="666.1" width="11.7" height="11.7"/><rect x="260.7" y="664.7" width="11.7" height="11.7"/><rect x="262.3" y="663.3" width="11.7" height="11.7"/><rect x="263.9" y="661.8" width="11.7" height="11.7"/><rect x="265.7" y="660.2" width="11.7" height="11.7"/><rect x="267.6" y="658.5" width="11.7" height="11.7"/><rect x="269.6" y="656.7" width="11.7" height="11.7"/><rect x="271.7" y="654.8" width="11.7" height="11.7"/><rect x="273.8" y="652.8" width="11.7" height="11.7"/><rect x="276.2" y="650.7" width="11.7" height="11.7"/><rect x="278.6" y="648.5" width="11.7" height="11.7"/><rect x="281.1" y="646.2" width="11.7" height="11.7"/><rect x="283.8" y="643.7" width="11.7" height="11.7"/><rect x="286.6" y="641.1" width="11.7" height="11.7"/><rect x="289.6" y="638.3" width="11.7" height="11.7"/><rect x="292.8" y="635.4" width="11.7" height="11.7"/><rect x="296.1" y="632.4" width="11.7" height="11.7"/><rect x="299.5" y="629.1" width="11.7" height="11.7"/><rect x="303.2" y="625.7" width="11.7" height="11.7"/><rect x="307.1" y="622.1" width="11.7" height="11.7"/><rect x="311.2" y="618.3" width="11.7" height="11.7"/><rect x="315.4" y="614.3" width="11.7" height="11.7"/><rect x="320.0" y="610.0" width="11.7" height="11.7"/><rect x="324.7" y="605.6" width="11.7" height="11.7"/><rect x="329.8" y="600.8" width="11.7" height="11.7"/><rect x="335.0" y="595.9" width="11.7" height="11.7"/><rect x="340.6" y="590.6" width="11.7" height="11.7"/><rect x="346.5" y="585.0" width="11.7" height="11.7"/><rect x="352.8" y="579.2" width="11.7" height="11.7"/><rect x="359.5" y="573.0" width="11.7" height="11.7"/><rect x="366.4" y="566.5" width="11.7" height="11.7"/><rect x="373.2" y="559.6" width="11.7" height="11.7"/><rect x="379.5" y="552.2" width="11.7" height="11.7"/><rect x="385.9" y="543.0" width="11.7" height="11.7"/><rect x="392.7" y="532.6" width="11.7" height="11.7"/><rect x="399.9" y="521.1" width="11.7" height="11.7"/><rect x="406.9" y="506.4" width="11.7" height="11.7"/><rect x="413.5" y="487.9" width="11.7" height="11.7"/><rect x="419.9" y="466.2" width="11.7" height="11.7"/><rect x="424.7" y="441.3" width="11.7" height="11.7"/><rect x="429.1" y="413.7" width="11.7" height="11.7"/><rect x="434.2" y="383.1" width="11.7" height="11.7"/><rect x="437.7" y="349.0" width="11.7" height="11.7"/><rect x="440.5" y="311.2" width="11.7" height="11.7"/><rect x="443.0" y="269.2" width="11.7" height="11.7"/><rect x="445.9" y="222.5" width="11.7" height="11.7"/><rect x="450.4" y="170.6" width="11.7" height="11.7"/><rect x="454.1" y="113.1" width="11.7" height="11.7"/><rect x="458.2" y="49.1" width="11.7" height="11.7"/></g>
</g>
<rect x="560.00" y="336.30" width="220.50" height="309.70" fill="none" stroke="#000" stroke-width="2.6"/>
<line x1="780.50" y1="336.30" x2="560.00" y2="646.00" stroke="#bebebe" stroke-width="5.0" stroke-dasharray="35 21" stroke-dashoffset="0"/>
<path d="M633.50 646.00v-8M707.00 646.00v-8M596.75 646.00v-5M670.25 646.00v-5M743.75 646.00v-5M560.00 542.77h8M560.00 439.53h8M560.00 594.38h5M560.00 491.15h5M560.00 387.92h5" stroke="#000" stroke-width="2.4" fill="none"/>
<text font-size="27.5" text-anchor="middle" transform="translate(560.00 675.50) scale(1.13 1)">50</text>
<text font-size="27.5" text-anchor="middle" transform="translate(633.50 675.50) scale(1.13 1)">60</text>
<text font-size="27.5" text-anchor="middle" transform="translate(707.00 675.50) scale(1.13 1)">70</text>
<text font-size="27.5" text-anchor="middle" transform="translate(780.50 675.50) scale(1.13 1)">80</text>
<text font-size="27.5" text-anchor="end" transform="translate(549.00 655.00) scale(1.13 1)">0</text>
<text font-size="27.5" text-anchor="end" transform="translate(549.00 551.77) scale(1.13 1)">10</text>
<text font-size="27.5" text-anchor="end" transform="translate(549.00 448.53) scale(1.13 1)">20</text>
<text font-size="27.5" text-anchor="end" transform="translate(549.00 345.30) scale(1.13 1)">30</text>
<clipPath id="cl2"><rect x="558.50" y="334.80" width="223.50" height="312.70"/></clipPath>
<g>
<polyline clip-path="url(#cl2)" fill="none" stroke="#000000" stroke-width="1.4" stroke-linejoin="round" points="573.2,646.0 573.6,642.5 573.8,638.9 574.1,635.3 574.6,631.8 575.4,628.5 576.6,625.2 578.1,621.9 579.9,618.8 581.7,615.8 583.5,613.0 585.6,610.2 587.8,607.7 590.1,605.2 592.3,602.6 594.7,599.9 597.0,597.1 599.3,594.3 601.2,591.3 602.6,588.4 603.8,585.4 604.7,582.3 605.6,578.9 606.2,575.8 606.6,572.6 606.9,569.2 607.2,565.7 607.4,562.0 607.8,558.3 608.1,555.4 608.4,552.4 608.7,549.3 609.0,546.2 609.3,543.0 609.6,539.8 609.9,536.6 610.2,533.4 610.4,530.3 610.7,527.3 611.0,524.0 611.3,520.7 611.6,517.5 611.9,514.4 612.1,511.2 612.4,508.0 612.7,504.8 612.9,501.5 613.2,498.5 613.4,495.5 613.6,492.5 613.9,489.5 614.1,486.4 614.3,483.3 614.5,480.2 614.7,477.0 614.9,473.8 615.1,470.5 615.3,467.6 615.4,464.5 615.5,461.4 615.6,458.2 615.8,455.0 615.9,451.8 616.0,448.6 616.1,445.4 616.2,442.2 616.3,439.1 616.4,436.0 616.5,433.1 616.6,430.2 616.8,426.6 616.9,423.1 617.1,419.8 617.3,416.5 617.5,413.2 617.7,410.0 617.9,406.7 618.1,403.4 618.2,400.1 618.4,396.7 618.6,393.4 618.8,390.1 619.0,386.8 619.2,383.4 619.4,380.0 619.5,376.6 619.7,373.7 619.8,371.0 620.0,368.4 620.1,365.8 620.3,363.2 620.4,360.4 620.5,357.3 620.7,354.0 620.8,350.3 621.0,346.1 621.1,344.4 621.1,342.7 621.2,340.9 621.2,339.0 621.3,337.1 621.4,335.2 621.4,333.1 621.5,331.0 621.6,328.9 621.6,326.7 621.7,324.4 621.8,322.1 621.8,319.7 621.9,317.3 622.0,314.9 622.0,312.4 622.1,309.8 622.2,307.2 622.2,304.6 622.3,301.9 622.4,299.2 622.4,296.4 622.5,293.6 622.6,290.7 622.6,287.8 622.7,284.9 622.8,282.0 622.9,279.0 622.9,275.9 623.0,272.9 623.1,269.8 623.1,266.7 623.2,263.5 623.3,260.3 623.4,257.1 623.4,253.9 623.5,250.6 623.6,247.4 623.7,244.1 623.7,240.7 623.8,237.4 623.9,234.0 624.0,230.6 624.0,227.2 624.1,223.8 624.2,220.4 624.3,217.0 624.3,213.5 624.4,210.1 624.5,206.6 624.6,203.1 624.6,199.6 624.7,196.1 624.8,192.6 624.9,189.1 624.9,185.6 625.0,182.1 625.1,178.6 625.2,175.0 625.2,171.5 625.3,168.0 625.4,164.5 625.5,161.0 625.6,157.5 625.6,154.0 625.7,150.5 625.8,147.0 625.9,143.6 625.9,140.1 626.0,136.7 626.1,133.2 626.1,129.8 626.2,127.2 626.3,124.6 626.3,121.9 626.4,119.3 626.4,116.6 626.5,113.9 626.6,111.2 626.6,108.5 626.7,105.8 626.7,103.0 626.8,100.3 626.8,97.5 626.9,94.8 627.0,92.0 627.0,89.2 627.1,86.4 627.1,83.6 627.2,80.8 627.2,77.9 627.3,75.1 627.4,72.3 627.4,69.4 627.5,66.5 627.5,63.6 627.6,60.7 627.7,57.8 627.7,54.9 627.8,52.0 627.8,49.1 627.9,46.2 628.0,43.2 628.0,40.3 628.1,37.3 628.1,34.3 628.2,31.4 628.3,28.4 628.3,25.4 628.4,22.4 628.4,19.4 628.5,16.4 628.5,13.4 628.6,10.3 628.7,7.3 628.7,4.3 628.8,1.2 628.8,-1.8 628.9,-4.9 629.0,-7.9 629.0,-11.0 629.1,-14.1 629.1,-17.2 629.2,-20.2 629.3,-23.3 629.3,-26.4 629.4,-29.5 629.4,-32.6 629.5,-35.7 629.6,-38.8 629.6,-41.9 629.7,-45.1 629.8,-48.2 629.8,-51.3 629.9,-54.4 629.9,-57.6 630.0,-60.7 630.1,-63.8 630.1,-67.0 630.2,-70.1 630.2,-73.2 630.3,-76.4 630.4,-79.5 630.4,-82.7 630.5,-85.8 630.5,-89.0 630.6,-92.1 630.7,-95.3 630.7,-98.4 630.8,-101.6 630.8,-104.8 630.9,-107.9 631.0,-111.1 631.0,-114.2 631.1,-117.4 631.1,-120.5 631.2,-123.7 631.3,-126.8 631.3,-130.0 631.4,-133.2 631.4,-136.3 631.5,-139.5 631.6,-142.6 631.6,-145.8 631.7,-148.9 631.8,-152.1 631.8,-155.2 631.9,-158.3 631.9,-161.5 632.0,-164.6 632.1,-167.8 632.1,-170.9 632.2,-174.0 632.2,-177.1 632.3,-180.3 632.4,-183.4 632.4,-186.5 632.5,-189.6 632.5,-192.7 632.6,-195.8 632.7,-198.9 632.7,-202.0 632.8,-205.1 632.8,-208.2 632.9,-211.3 633.0,-214.4 633.0,-217.4 633.1,-220.5 633.1,-223.6 633.2,-226.6 633.3,-229.7 633.3,-232.7 633.4,-235.8 633.4,-238.8 633.5,-241.8"/>
<g fill="#fff" stroke="#000000" stroke-width="1.3"><circle cx="573.3" cy="645.0" r="4.35"/><circle cx="573.4" cy="643.8" r="4.35"/><circle cx="573.6" cy="642.6" r="4.35"/><circle cx="573.6" cy="641.4" r="4.35"/><circle cx="573.7" cy="640.2" r="4.35"/><circle cx="573.8" cy="639.0" r="4.35"/><circle cx="573.9" cy="637.8" r="4.35"/><circle cx="574.0" cy="636.6" r="4.35"/><circle cx="574.1" cy="635.4" r="4.35"/><circle cx="574.3" cy="634.2" r="4.35"/><circle cx="574.5" cy="632.9" r="4.35"/><circle cx="574.7" cy="631.5" r="4.35"/><circle cx="575.1" cy="629.9" r="4.35"/><circle cx="575.6" cy="628.1" r="4.35"/><circle cx="576.2" cy="626.4" r="4.35"/><circle cx="577.0" cy="624.5" r="4.35"/><circle cx="577.8" cy="622.6" r="4.35"/><circle cx="578.8" cy="620.6" r="4.35"/><circle cx="580.0" cy="618.6" r="4.35"/><circle cx="581.2" cy="616.6" r="4.35"/><circle cx="582.5" cy="614.5" r="4.35"/><circle cx="584.0" cy="612.3" r="4.35"/><circle cx="585.6" cy="610.2" r="4.35"/><circle cx="587.3" cy="608.2" r="4.35"/><circle cx="589.2" cy="606.2" r="4.35"/><circle cx="591.2" cy="603.9" r="4.35"/><circle cx="593.2" cy="601.6" r="4.35"/><circle cx="595.3" cy="599.1" r="4.35"/><circle cx="597.5" cy="596.5" r="4.35"/><circle cx="599.8" cy="593.4" r="4.35"/><circle cx="602.1" cy="589.3" r="4.35"/><circle cx="604.2" cy="583.9" r="4.35"/><circle cx="605.9" cy="577.0" r="4.35"/><circle cx="606.9" cy="569.4" r="4.35"/><circle cx="607.5" cy="560.9" r="4.35"/><circle cx="608.4" cy="551.5" r="4.35"/><circle cx="609.4" cy="541.1" r="4.35"/><circle cx="610.5" cy="529.4" r="4.35"/><circle cx="611.7" cy="516.5" r="4.35"/><circle cx="612.9" cy="502.2" r="4.35"/><circle cx="614.1" cy="486.3" r="4.35"/><circle cx="615.2" cy="468.6" r="4.35"/><circle cx="615.9" cy="449.0" r="4.35"/><circle cx="616.7" cy="427.1" r="4.35"/><circle cx="618.1" cy="402.9" r="4.35"/><circle cx="619.6" cy="376.0" r="4.35"/><circle cx="621.0" cy="346.1" r="4.35"/></g>
<polyline clip-path="url(#cl2)" fill="none" stroke="#000000" stroke-width="1.4" stroke-linejoin="round" points="580.6,646.0 582.1,643.3 583.5,640.4 585.0,637.6 586.5,634.8 588.0,632.0 589.5,629.3 590.9,626.8 592.3,624.3 594.1,621.4 595.9,618.6 597.6,615.9 599.4,613.4 601.2,610.9 603.4,608.2 605.7,605.8 607.9,603.3 610.0,600.6 611.9,597.5 613.6,594.2 615.2,590.7 616.6,587.2 617.5,584.4 618.4,581.5 619.1,578.5 619.8,575.5 620.4,572.5 621.0,569.6 621.6,566.6 622.0,563.8 622.4,560.9 622.8,557.9 623.2,554.6 623.5,551.9 623.9,549.1 624.2,546.1 624.6,542.9 624.9,539.8 625.2,536.6 625.5,533.4 625.8,530.3 626.1,527.3 626.5,523.8 626.8,520.5 627.1,517.2 627.5,513.9 627.8,510.6 628.1,507.1 628.4,503.5 628.6,500.7 628.8,497.8 629.0,494.8 629.2,491.7 629.4,488.6 629.6,485.5 629.8,482.3 630.0,479.1 630.2,475.9 630.4,472.7 630.6,469.5 630.7,466.5 630.9,463.5 631.1,460.4 631.3,457.3 631.5,454.1 631.7,451.0 631.9,447.9 632.0,444.7 632.2,441.7 632.4,438.7 632.5,435.8 632.6,432.9 632.8,430.2 632.9,426.6 633.0,423.1 633.1,419.8 633.2,416.5 633.3,413.3 633.4,410.0 633.5,406.5 633.6,403.4 633.8,400.3 634.0,397.1 634.1,393.8 634.3,390.6 634.5,387.3 634.7,384.0 634.8,380.8 635.0,377.6 635.1,374.6 635.2,371.9 635.2,369.2 635.3,366.6 635.4,363.9 635.4,361.0 635.5,357.7 635.6,354.0 635.7,349.7 635.7,348.1 635.8,346.4 635.8,344.7 635.9,342.9 635.9,341.0 636.0,339.1 636.0,337.1 636.1,335.0 636.1,332.9 636.2,330.7 636.2,328.5 636.3,326.2 636.3,323.9 636.4,321.5 636.5,319.0 636.5,316.6 636.6,314.0 636.6,311.4 636.7,308.8 636.8,306.1 636.8,303.4 636.9,300.6 637.0,297.8 637.0,295.0 637.1,292.1 637.2,289.2 637.3,286.2 637.3,283.2 637.4,280.2 637.5,277.1 637.5,274.0 637.6,270.9 637.7,267.7 637.8,264.5 637.9,261.3 637.9,258.0 638.0,254.8 638.1,251.5 638.2,248.2 638.2,244.8 638.3,241.5 638.4,238.1 638.5,234.7 638.6,231.3 638.6,227.8 638.7,224.4 638.8,220.9 638.9,217.4 639.0,214.0 639.0,210.5 639.1,206.9 639.2,203.4 639.3,199.9 639.4,196.4 639.4,192.9 639.5,189.3 639.6,185.8 639.7,182.2 639.8,178.7 639.8,175.2 639.9,171.6 640.0,168.1 640.1,164.6 640.2,161.1 640.2,157.5 640.3,154.0 640.4,150.5 640.5,147.1 640.6,143.6 640.6,140.1 640.7,136.7 640.8,133.2 640.9,129.8 640.9,127.2 641.0,124.6 641.0,121.9 641.1,119.2 641.1,116.5 641.2,113.8 641.2,111.1 641.3,108.4 641.4,105.7 641.4,102.9 641.5,100.2 641.5,97.4 641.6,94.7 641.7,91.9 641.7,89.1 641.8,86.3 641.8,83.4 641.9,80.6 641.9,77.8 642.0,74.9 642.1,72.1 642.1,69.2 642.2,66.3 642.2,63.4 642.3,60.6 642.4,57.6 642.4,54.7 642.5,51.8 642.5,48.9 642.6,46.0 642.6,43.0 642.7,40.1 642.8,37.1 642.8,34.1 642.9,31.1 642.9,28.2 643.0,25.2 643.1,22.2 643.1,19.2 643.2,16.2 643.2,13.1 643.3,10.1 643.4,7.1 643.4,4.0 643.5,1.0 643.5,-2.0 643.6,-5.1 643.7,-8.2 643.7,-11.2 643.8,-14.3 643.8,-17.4 643.9,-20.5 644.0,-23.5 644.0,-26.6 644.1,-29.7 644.1,-32.8 644.2,-35.9 644.3,-39.0 644.3,-42.1 644.4,-45.2 644.4,-48.4 644.5,-51.5 644.6,-54.6 644.6,-57.7 644.7,-60.9 644.8,-64.0 644.8,-67.1 644.9,-70.3 644.9,-73.4 645.0,-76.5 645.1,-79.7 645.1,-82.8 645.2,-86.0 645.2,-89.1 645.3,-92.3 645.4,-95.4 645.4,-98.6 645.5,-101.7 645.5,-104.9 645.6,-108.0 645.7,-111.2 645.7,-114.3 645.8,-117.5 645.8,-120.6 645.9,-123.8 646.0,-126.9 646.0,-130.1 646.1,-133.2 646.1,-136.4 646.2,-139.5 646.3,-142.7 646.3,-145.8 646.4,-149.0 646.5,-152.1 646.5,-155.3 646.6,-158.4 646.6,-161.5 646.7,-164.7 646.8,-167.8 646.8,-170.9 646.9,-174.1 646.9,-177.2 647.0,-180.3 647.1,-183.4 647.1,-186.5 647.2,-189.6 647.2,-192.7 647.3,-195.9 647.4,-198.9 647.4,-202.0 647.5,-205.1 647.5,-208.2 647.6,-211.3 647.7,-214.4 647.7,-217.4 647.8,-220.5 647.8,-223.6 647.9,-226.6 648.0,-229.7 648.0,-232.7 648.1,-235.8 648.1,-238.8 648.2,-241.8"/>
<g fill="#fff" stroke="#000000" stroke-width="1.3"><circle cx="581.1" cy="645.1" r="4.35"/><circle cx="581.7" cy="643.9" r="4.35"/><circle cx="582.3" cy="642.7" r="4.35"/><circle cx="583.0" cy="641.5" r="4.35"/><circle cx="583.6" cy="640.3" r="4.35"/><circle cx="584.2" cy="639.1" r="4.35"/><circle cx="584.9" cy="637.9" r="4.35"/><circle cx="585.5" cy="636.7" r="4.35"/><circle cx="586.1" cy="635.5" r="4.35"/><circle cx="586.8" cy="634.3" r="4.35"/><circle cx="587.4" cy="633.1" r="4.35"/><circle cx="588.1" cy="631.9" r="4.35"/><circle cx="588.7" cy="630.7" r="4.35"/><circle cx="589.4" cy="629.5" r="4.35"/><circle cx="590.1" cy="628.2" r="4.35"/><circle cx="590.9" cy="626.8" r="4.35"/><circle cx="591.8" cy="625.3" r="4.35"/><circle cx="592.7" cy="623.7" r="4.35"/><circle cx="593.7" cy="622.1" r="4.35"/><circle cx="594.8" cy="620.3" r="4.35"/><circle cx="596.0" cy="618.5" r="4.35"/><circle cx="597.2" cy="616.5" r="4.35"/><circle cx="598.6" cy="614.5" r="4.35"/><circle cx="600.0" cy="612.4" r="4.35"/><circle cx="601.6" cy="610.4" r="4.35"/><circle cx="603.3" cy="608.4" r="4.35"/><circle cx="605.2" cy="606.3" r="4.35"/><circle cx="607.2" cy="604.1" r="4.35"/><circle cx="609.2" cy="601.6" r="4.35"/><circle cx="611.3" cy="598.5" r="4.35"/><circle cx="613.3" cy="594.7" r="4.35"/><circle cx="615.4" cy="590.1" r="4.35"/><circle cx="617.5" cy="584.6" r="4.35"/><circle cx="619.3" cy="577.9" r="4.35"/><circle cx="620.9" cy="570.3" r="4.35"/><circle cx="622.3" cy="562.0" r="4.35"/><circle cx="623.5" cy="552.7" r="4.35"/><circle cx="624.6" cy="542.3" r="4.35"/><circle cx="625.8" cy="530.8" r="4.35"/><circle cx="627.1" cy="518.1" r="4.35"/><circle cx="628.3" cy="503.9" r="4.35"/><circle cx="629.4" cy="488.2" r="4.35"/><circle cx="630.5" cy="470.7" r="4.35"/><circle cx="631.7" cy="451.3" r="4.35"/><circle cx="632.8" cy="429.8" r="4.35"/><circle cx="633.5" cy="405.8" r="4.35"/><circle cx="634.9" cy="379.3" r="4.35"/><circle cx="635.7" cy="349.7" r="4.35"/></g>
<polyline clip-path="url(#cl2)" fill="none" stroke="#0000ff" stroke-width="1.4" stroke-linejoin="round" points="714.4,643.9 714.5,640.8 714.7,637.6 714.8,634.4 714.8,631.2 714.9,628.0 715.1,624.8 715.3,621.7 715.6,618.7 716.0,615.7 716.6,613.0 717.4,609.9 718.3,606.9 719.4,604.0 720.5,601.3 721.8,598.6 723.2,595.9 724.6,593.4 726.3,590.8 728.0,588.4 729.9,586.0 731.9,583.7 733.9,581.4 735.9,579.1 737.9,576.8 740.0,574.2 742.2,571.5 744.4,568.8 746.6,566.2 748.8,563.7 751.1,561.3 753.7,558.9 756.3,556.7 758.9,554.5 761.6,552.3 764.3,550.0 766.4,548.2 768.4,546.5 770.3,544.7 772.3,542.9 774.5,540.8 777.0,538.4 779.8,535.5 781.0,534.3 782.2,532.9 783.5,531.5 784.9,530.0 786.3,528.4 787.8,526.8 789.3,525.1 790.9,523.3 792.5,521.4 794.1,519.5 795.9,517.6 797.6,515.6 799.4,513.5 801.2,511.4 803.1,509.2 805.0,507.0 806.9,504.7 808.9,502.4 810.8,500.0 812.9,497.6 814.9,495.2 817.0,492.7 819.0,490.2 821.1,487.7 823.3,485.1 825.4,482.6 827.6,480.0 829.7,477.3 831.9,474.7 834.1,472.0 836.3,469.4 838.5,466.7 840.7,464.0 842.9,461.3 845.1,458.6 847.3,455.9 849.4,453.2 851.6,450.5 853.8,447.8 856.0,445.1 858.1,442.4 860.3,439.7 862.4,437.1 864.5,434.4 866.6,431.8 868.7,429.2 870.4,427.1 872.1,425.0 873.8,422.8 875.5,420.6 877.2,418.4 878.9,416.3 880.6,414.0 882.4,411.8 884.1,409.6 885.9,407.3 887.6,405.1 889.4,402.8 891.1,400.5 892.9,398.2 894.7,395.9 896.5,393.6 898.2,391.2 900.0,388.9 901.8,386.5 903.6,384.2 905.4,381.8 907.2,379.4 909.0,377.0 910.8,374.6 912.7,372.2 914.5,369.8 916.3,367.4 918.1,365.0 920.0,362.5 921.8,360.1 923.6,357.6 925.5,355.2 927.3,352.7 929.1,350.3 931.0,347.8 932.8,345.3 934.7,342.9 936.5,340.4 938.4,337.9 940.2,335.4 942.1,333.0 943.9,330.5 945.8,328.0 947.6,325.5 949.5,323.0 951.3,320.5 953.2,318.0 955.0,315.6 956.9,313.1 958.8,310.6 960.6,308.1 962.5,305.6 964.3,303.1 966.2,300.7 968.0,298.2 969.9,295.7 971.7,293.2 973.5,290.8 975.4,288.3 977.2,285.9 979.1,283.4 980.9,281.0 982.7,278.5 984.6,276.1 986.4,273.7 988.2,271.3 990.0,268.8 991.8,266.4 993.6,264.0"/>
<g fill="#fff" stroke="#0000ff" stroke-width="1.4"><rect x="710.1" y="639.6" width="8.6" height="8.6"/><rect x="710.1" y="638.4" width="8.6" height="8.6"/><rect x="710.2" y="637.2" width="8.6" height="8.6"/><rect x="710.3" y="636.0" width="8.6" height="8.6"/><rect x="710.3" y="634.8" width="8.6" height="8.6"/><rect x="710.3" y="633.6" width="8.6" height="8.6"/><rect x="710.4" y="632.4" width="8.6" height="8.6"/><rect x="710.4" y="631.2" width="8.6" height="8.6"/><rect x="710.5" y="630.0" width="8.6" height="8.6"/><rect x="710.5" y="628.8" width="8.6" height="8.6"/><rect x="710.5" y="627.6" width="8.6" height="8.6"/><rect x="710.6" y="626.3" width="8.6" height="8.6"/><rect x="710.6" y="624.8" width="8.6" height="8.6"/><rect x="710.7" y="623.2" width="8.6" height="8.6"/><rect x="710.7" y="621.4" width="8.6" height="8.6"/><rect x="710.9" y="619.3" width="8.6" height="8.6"/><rect x="711.0" y="617.1" width="8.6" height="8.6"/><rect x="711.3" y="614.6" width="8.6" height="8.6"/><rect x="711.6" y="611.8" width="8.6" height="8.6"/><rect x="712.2" y="608.7" width="8.6" height="8.6"/><rect x="713.1" y="605.3" width="8.6" height="8.6"/><rect x="714.3" y="601.8" width="8.6" height="8.6"/><rect x="715.7" y="598.1" width="8.6" height="8.6"/><rect x="717.4" y="594.4" width="8.6" height="8.6"/><rect x="719.4" y="590.7" width="8.6" height="8.6"/><rect x="721.6" y="587.1" width="8.6" height="8.6"/><rect x="724.0" y="583.7" width="8.6" height="8.6"/><rect x="726.7" y="580.5" width="8.6" height="8.6"/><rect x="729.5" y="577.2" width="8.6" height="8.6"/><rect x="732.5" y="573.8" width="8.6" height="8.6"/><rect x="735.6" y="570.0" width="8.6" height="8.6"/><rect x="738.9" y="566.0" width="8.6" height="8.6"/><rect x="742.3" y="561.9" width="8.6" height="8.6"/><rect x="746.3" y="557.6" width="8.6" height="8.6"/><rect x="751.2" y="553.1" width="8.6" height="8.6"/><rect x="757.0" y="548.3" width="8.6" height="8.6"/><rect x="762.9" y="543.2" width="8.6" height="8.6"/><rect x="768.9" y="537.8" width="8.6" height="8.6"/><rect x="774.5" y="532.2" width="8.6" height="8.6"/></g>
<polyline clip-path="url(#cl2)" fill="none" stroke="#0000ff" stroke-width="1.4" stroke-linejoin="round" points="726.8,643.9 727.0,640.5 727.0,637.0 727.1,633.5 727.1,630.1 727.3,626.6 727.7,623.3 728.3,620.2 729.3,617.1 730.5,614.1 731.8,611.2 733.3,608.3 734.9,605.5 736.4,602.6 738.0,599.7 739.6,596.6 741.3,593.6 743.1,590.7 744.9,587.8 746.7,585.1 748.8,582.1 750.9,579.2 753.1,576.4 755.4,573.9 757.7,571.7 760.4,569.8 763.2,568.4 766.1,567.1 768.7,565.5 771.0,563.8 773.1,562.2 775.4,560.1 778.3,557.2 779.3,556.2 780.4,555.1 781.5,553.9 782.7,552.5 784.0,551.1 785.4,549.6 786.8,548.1 788.3,546.4 789.8,544.7 791.4,542.8 793.1,541.0 794.8,539.0 796.6,537.0 798.4,534.9 800.2,532.7 802.1,530.5 804.1,528.2 806.1,525.9 808.1,523.5 810.1,521.1 812.2,518.6 814.3,516.1 816.5,513.5 818.6,510.9 820.8,508.3 823.1,505.6 825.3,502.9 827.5,500.2 829.8,497.4 832.1,494.7 834.3,491.9 836.6,489.1 838.9,486.3 841.2,483.5 843.5,480.7 845.8,477.8 848.0,475.0 850.3,472.2 852.6,469.4 854.8,466.6 857.1,463.8 859.3,461.0 861.5,458.2 863.6,455.5 865.8,452.7 867.9,450.0 870.0,447.4 872.0,444.7 874.1,442.1 876.0,439.5 877.8,437.3 879.5,435.0 881.3,432.7 883.0,430.4 884.8,428.1 886.5,425.8 888.2,423.4 890.0,421.1 891.7,418.7 893.5,416.4 895.2,414.0 897.0,411.6 898.7,409.2 900.5,406.8 902.2,404.4 904.0,402.0 905.7,399.5 907.5,397.1 909.2,394.7 910.9,392.2 912.7,389.8 914.4,387.3 916.2,384.8 918.0,382.4 919.7,379.9 921.5,377.4 923.2,374.9 925.0,372.4 926.7,369.9 928.5,367.4 930.2,364.9 932.0,362.4 933.7,359.9 935.5,357.4 937.2,354.9 939.0,352.4 940.7,349.8 942.5,347.3 944.2,344.8 946.0,342.3 947.7,339.7 949.5,337.2 951.3,334.7 953.0,332.2 954.8,329.7 956.5,327.1 958.3,324.6 960.0,322.1 961.8,319.6 963.5,317.1 965.3,314.5 967.0,312.0 968.8,309.5 970.5,307.0 972.3,304.5 974.0,302.0 975.8,299.5 977.5,297.0 979.3,294.6 981.0,292.1 982.8,289.6 984.5,287.1 986.3,284.7"/>
<g fill="#fff" stroke="#0000ff" stroke-width="1.4"><rect x="722.6" y="639.0" width="8.6" height="8.6"/><rect x="722.6" y="637.8" width="8.6" height="8.6"/><rect x="722.7" y="636.6" width="8.6" height="8.6"/><rect x="722.7" y="635.4" width="8.6" height="8.6"/><rect x="722.7" y="634.2" width="8.6" height="8.6"/><rect x="722.7" y="633.0" width="8.6" height="8.6"/><rect x="722.7" y="631.8" width="8.6" height="8.6"/><rect x="722.8" y="630.6" width="8.6" height="8.6"/><rect x="722.8" y="629.4" width="8.6" height="8.6"/><rect x="722.8" y="628.2" width="8.6" height="8.6"/><rect x="722.8" y="627.0" width="8.6" height="8.6"/><rect x="722.8" y="625.6" width="8.6" height="8.6"/><rect x="722.9" y="624.0" width="8.6" height="8.6"/><rect x="723.0" y="622.3" width="8.6" height="8.6"/><rect x="723.2" y="620.4" width="8.6" height="8.6"/><rect x="723.6" y="618.2" width="8.6" height="8.6"/><rect x="724.0" y="615.9" width="8.6" height="8.6"/><rect x="724.8" y="613.3" width="8.6" height="8.6"/><rect x="725.8" y="610.8" width="8.6" height="8.6"/><rect x="726.9" y="608.1" width="8.6" height="8.6"/><rect x="728.3" y="605.5" width="8.6" height="8.6"/><rect x="729.8" y="602.7" width="8.6" height="8.6"/><rect x="731.4" y="599.7" width="8.6" height="8.6"/><rect x="733.1" y="596.5" width="8.6" height="8.6"/><rect x="735.0" y="593.0" width="8.6" height="8.6"/><rect x="737.0" y="589.3" width="8.6" height="8.6"/><rect x="739.3" y="585.5" width="8.6" height="8.6"/><rect x="741.8" y="581.7" width="8.6" height="8.6"/><rect x="744.5" y="577.8" width="8.6" height="8.6"/><rect x="747.4" y="573.9" width="8.6" height="8.6"/><rect x="750.5" y="570.2" width="8.6" height="8.6"/><rect x="755.0" y="566.3" width="8.6" height="8.6"/><rect x="762.6" y="562.2" width="8.6" height="8.6"/><rect x="768.7" y="558.0" width="8.6" height="8.6"/><rect x="773.5" y="553.4" width="8.6" height="8.6"/></g>
<polyline clip-path="url(#cl2)" fill="none" stroke="#56b4e9" stroke-width="1.4" stroke-linejoin="round" points="632.8,643.9 633.2,640.8 633.7,637.6 634.1,634.3 634.5,631.1 634.9,627.8 635.4,624.6 635.9,621.5 636.5,618.5 637.1,615.7 637.9,613.0 639.1,609.7 640.4,606.6 641.8,603.7 643.3,600.9 645.0,598.2 646.7,595.4 648.4,593.0 650.2,590.5 652.1,588.2 654.1,585.8 656.0,583.5 658.0,581.2 660.0,578.9 662.1,576.3 664.3,573.7 666.5,571.1 668.7,568.5 670.9,566.0 673.2,563.4 675.2,561.2 677.3,559.1 679.4,556.9 681.5,554.8 683.6,552.6 685.7,550.3 687.9,547.9 689.8,545.7 691.8,543.4 693.8,540.9 695.8,538.5 697.8,536.0 699.8,533.5 701.8,531.0 703.7,528.6 705.5,526.2 707.5,523.7 709.5,521.2 711.4,518.7 713.3,516.2 715.1,513.8 716.9,511.3 718.8,508.7 720.6,506.0 722.4,503.2 724.2,500.5 725.9,497.7 727.7,494.8 729.5,492.0 731.3,489.1 732.9,486.4 734.5,483.7 736.1,481.0 737.7,478.3 739.4,475.6 741.0,472.8 742.7,470.1 744.5,467.4 746.3,464.7 748.2,462.0 750.1,459.3 752.1,456.7 754.1,454.0 756.0,451.3 758.0,448.5 759.9,445.7 761.5,443.3 762.9,441.1 764.2,438.8 765.5,436.6 766.9,434.3 768.3,431.9 769.9,429.3 771.7,426.4 773.7,423.3 776.1,419.9 777.1,418.5 778.1,417.1 779.1,415.7 780.2,414.2 781.3,412.6 782.5,411.0 783.7,409.4 784.9,407.8 786.2,406.1 787.5,404.3 788.8,402.6 790.2,400.8 791.6,398.9 793.0,397.0 794.5,395.1 796.0,393.2 797.5,391.2 799.1,389.2 800.7,387.2 802.3,385.1 803.9,383.0 805.6,380.9 807.3,378.7 809.0,376.5 810.8,374.3 812.5,372.0 814.3,369.8 816.2,367.5 818.0,365.1 819.9,362.8 821.8,360.4 823.7,358.0 825.6,355.5 827.5,353.1 829.5,350.6 831.5,348.1 833.5,345.6 835.5,343.0 837.6,340.5 839.6,337.9 841.7,335.3 843.8,332.7 845.8,330.0 848.0,327.4 850.1,324.7 852.2,322.0 854.4,319.3 856.5,316.6 858.7,313.8 860.9,311.1 863.0,308.3 865.2,305.5 867.4,302.7 869.7,299.9 871.9,297.1 874.1,294.2 876.3,291.4 878.5,288.5 880.8,285.7 883.0,282.8 885.3,279.9 887.5,277.0 889.7,274.1 892.0,271.2 894.2,268.3 896.5,265.4 898.7,262.5 901.0,259.6 903.2,256.6 905.5,253.7 906.9,251.9 908.3,250.0 909.7,248.1 911.2,246.2 912.6,244.3 914.1,242.4 915.5,240.5 917.0,238.5 918.5,236.6 920.0,234.6 921.5,232.6 923.0,230.7 924.5,228.7 926.0,226.7 927.5,224.6 929.1,222.6 930.6,220.6 932.2,218.5 933.7,216.4 935.3,214.4 936.9,212.3 938.4,210.2 940.0,208.1 941.6,206.0 943.2,203.8 944.8,201.7 946.4,199.6 948.1,197.4 949.7,195.2 951.3,193.1 953.0,190.9 954.6,188.7 956.3,186.5 957.9,184.3 959.6,182.1 961.3,179.8 963.0,177.6 964.6,175.3 966.3,173.1 968.0,170.8 969.7,168.6 971.4,166.3 973.2,164.0 974.9,161.7 976.6,159.4 978.3,157.1 980.1,154.8 981.8,152.4 983.6,150.1 985.3,147.8 987.1,145.4 988.8,143.0 990.6,140.7 992.4,138.3 994.1,135.9 995.9,133.6 997.7,131.2 999.5,128.8 1001.3,126.4 1003.1,123.9 1004.9,121.5 1006.7,119.1 1008.5,116.7 1010.3,114.2 1012.2,111.8 1014.0,109.4 1015.8,106.9 1017.6,104.5 1019.5,102.0 1021.3,99.5 1023.2,97.1 1025.0,94.6 1026.9,92.1 1028.7,89.6 1030.6,87.1 1032.4,84.6 1034.3,82.1 1036.2,79.6 1038.0,77.1 1039.9,74.6 1041.8,72.1 1043.6,69.6 1045.5,67.0 1047.4,64.5 1049.3,62.0 1051.2,59.4 1053.1,56.9 1055.0,54.3 1056.8,51.8 1058.7,49.3 1060.6,46.7 1062.5,44.1 1064.4,41.6 1066.3,39.0 1068.3,36.5 1070.2,33.9 1072.1,31.3 1074.0,28.8 1075.9,26.2 1077.8,23.6 1079.7,21.0 1081.6,18.5 1083.5,15.9 1085.5,13.3 1087.4,10.7 1089.3,8.1 1091.2,5.6 1093.1,3.0 1095.1,0.4 1097.0,-2.2 1098.9,-4.8 1100.8,-7.4 1102.8,-10.0 1104.7,-12.6 1106.6,-15.1 1108.5,-17.7 1110.5,-20.3 1112.4,-22.9 1114.3,-25.5 1116.2,-28.1 1118.2,-30.7 1120.1,-33.3 1122.0,-35.9 1123.9,-38.5 1125.9,-41.0 1127.8,-43.6 1129.7,-46.2 1131.6,-48.8 1133.5,-51.4 1135.5,-54.0 1137.4,-56.6 1139.3,-59.1 1141.2,-61.7 1143.1,-64.3 1145.0,-66.9 1147.0,-69.4 1148.9,-72.0 1150.8,-74.6 1152.7,-77.1 1154.6,-79.7 1156.5,-82.3 1158.4,-84.8 1160.3,-87.4 1162.2,-89.9 1164.1,-92.5 1166.0,-95.0 1167.9,-97.6 1169.8,-100.1 1171.7,-102.7 1173.5,-105.2 1175.4,-107.7 1177.3,-110.3 1179.2,-112.8 1181.1,-115.3 1182.9,-117.8 1184.8,-120.3 1186.7,-122.8 1188.5,-125.3 1190.4,-127.8 1192.3,-130.3 1194.1,-132.8 1196.0,-135.3 1197.8,-137.8 1199.7,-140.3 1201.5,-142.7 1203.3,-145.2 1205.2,-147.7 1207.0,-150.1 1208.8,-152.6 1210.6,-155.0 1212.5,-157.4 1214.3,-159.9 1216.1,-162.3 1217.9,-164.7 1219.7,-167.1 1221.5,-169.5"/>
<g fill="#fff" stroke="#56b4e9" stroke-width="1.4"><rect x="628.5" y="639.6" width="8.6" height="8.6"/><rect x="628.7" y="638.4" width="8.6" height="8.6"/><rect x="628.8" y="637.2" width="8.6" height="8.6"/><rect x="629.0" y="636.0" width="8.6" height="8.6"/><rect x="629.2" y="634.8" width="8.6" height="8.6"/><rect x="629.3" y="633.6" width="8.6" height="8.6"/><rect x="629.5" y="632.4" width="8.6" height="8.6"/><rect x="629.6" y="631.2" width="8.6" height="8.6"/><rect x="629.8" y="630.0" width="8.6" height="8.6"/><rect x="629.9" y="628.8" width="8.6" height="8.6"/><rect x="630.1" y="627.6" width="8.6" height="8.6"/><rect x="630.3" y="626.3" width="8.6" height="8.6"/><rect x="630.5" y="624.8" width="8.6" height="8.6"/><rect x="630.7" y="623.2" width="8.6" height="8.6"/><rect x="630.9" y="621.4" width="8.6" height="8.6"/><rect x="631.2" y="619.3" width="8.6" height="8.6"/><rect x="631.6" y="617.1" width="8.6" height="8.6"/><rect x="632.1" y="614.6" width="8.6" height="8.6"/><rect x="632.7" y="611.8" width="8.6" height="8.6"/><rect x="633.6" y="608.8" width="8.6" height="8.6"/><rect x="634.7" y="605.7" width="8.6" height="8.6"/><rect x="636.0" y="602.5" width="8.6" height="8.6"/><rect x="637.6" y="599.3" width="8.6" height="8.6"/><rect x="639.3" y="596.1" width="8.6" height="8.6"/><rect x="641.3" y="592.9" width="8.6" height="8.6"/><rect x="643.4" y="589.6" width="8.6" height="8.6"/><rect x="645.8" y="586.4" width="8.6" height="8.6"/><rect x="648.3" y="583.3" width="8.6" height="8.6"/><rect x="650.9" y="580.2" width="8.6" height="8.6"/><rect x="653.7" y="576.9" width="8.6" height="8.6"/><rect x="656.7" y="573.4" width="8.6" height="8.6"/><rect x="659.7" y="569.7" width="8.6" height="8.6"/><rect x="663.0" y="565.8" width="8.6" height="8.6"/><rect x="666.6" y="561.7" width="8.6" height="8.6"/><rect x="670.5" y="557.4" width="8.6" height="8.6"/><rect x="674.9" y="552.8" width="8.6" height="8.6"/><rect x="679.6" y="548.0" width="8.6" height="8.6"/><rect x="684.2" y="542.9" width="8.6" height="8.6"/><rect x="688.8" y="537.5" width="8.6" height="8.6"/><rect x="693.5" y="531.7" width="8.6" height="8.6"/><rect x="698.6" y="525.3" width="8.6" height="8.6"/><rect x="703.9" y="518.5" width="8.6" height="8.6"/><rect x="709.6" y="511.2" width="8.6" height="8.6"/><rect x="715.5" y="502.8" width="8.6" height="8.6"/><rect x="721.8" y="493.1" width="8.6" height="8.6"/><rect x="728.5" y="482.3" width="8.6" height="8.6"/><rect x="735.6" y="470.5" width="8.6" height="8.6"/><rect x="743.3" y="458.6" width="8.6" height="8.6"/><rect x="751.8" y="447.0" width="8.6" height="8.6"/><rect x="760.6" y="433.4" width="8.6" height="8.6"/><rect x="769.9" y="418.3" width="8.6" height="8.6"/></g>
<polyline clip-path="url(#cl2)" fill="none" stroke="#56b4e9" stroke-width="1.4" stroke-linejoin="round" points="662.2,643.9 662.7,640.9 663.1,637.9 663.6,634.9 664.1,631.9 664.5,628.9 665.1,625.9 665.8,623.0 666.6,620.2 667.6,617.2 668.7,614.4 669.9,611.6 671.2,608.8 672.5,606.0 673.9,603.3 675.4,600.6 677.0,597.7 678.7,594.9 680.5,592.0 682.3,589.2 684.1,586.4 686.0,583.7 687.9,581.0 689.7,578.4 691.5,575.8 693.3,573.3 695.2,570.8 697.1,568.3 699.1,565.9 701.1,563.4 703.2,561.2 705.3,559.0 707.5,556.9 709.8,554.8 712.1,552.6 714.4,550.4 716.6,548.2 718.8,545.9 720.7,543.6 722.7,541.3 724.6,538.9 726.5,536.5 728.4,534.1 730.2,531.7 732.1,529.2 733.9,526.7 735.7,524.2 737.5,521.6 739.3,518.9 741.0,516.2 742.8,513.5 744.5,510.7 746.2,508.0 747.8,505.4 749.5,502.9 751.1,500.4 753.0,497.7 754.8,495.1 756.5,492.6 758.3,490.1 760.2,487.6 762.1,485.0 763.9,482.6 765.5,480.5 767.2,478.3 769.0,476.1 770.9,473.7 773.0,471.0 775.5,467.9 778.3,464.3 779.2,463.1 780.2,461.9 781.2,460.6 782.3,459.2 783.4,457.8 784.5,456.4 785.7,454.9 786.9,453.4 788.1,451.9 789.4,450.3 790.6,448.6 792.0,446.9 793.3,445.2 794.7,443.5 796.1,441.7 797.6,439.8 799.1,438.0 800.6,436.1 802.1,434.1 803.7,432.1 805.3,430.1 806.9,428.1 808.5,426.0 810.2,423.9 811.9,421.7 813.6,419.6 815.4,417.4 817.1,415.1 818.9,412.9 820.7,410.6 822.6,408.2 824.4,405.9 826.3,403.5 828.2,401.1 830.1,398.7 832.0,396.3 834.0,393.8 836.0,391.3 837.9,388.8 839.9,386.2 842.0,383.7 844.0,381.1 846.0,378.5 848.1,375.9 850.2,373.2 852.3,370.6 854.4,367.9 856.5,365.2 858.6,362.5 860.8,359.8 862.9,357.0 865.1,354.3 867.3,351.5 869.4,348.8 871.6,346.0 873.8,343.2 876.0,340.4 878.2,337.5 880.5,334.7 882.7,331.9 884.9,329.0 887.1,326.2 889.4,323.3 891.6,320.5 893.9,317.6 896.1,314.7 898.4,311.8 900.6,309.0 902.9,306.1 905.1,303.2 907.4,300.3 909.6,297.4 911.9,294.5 914.1,291.6 916.3,288.7 918.6,285.9 920.8,283.0 923.1,280.1 925.3,277.2 927.5,274.4 929.0,272.5 930.5,270.5 932.0,268.6 933.5,266.7 935.0,264.7 936.5,262.7 938.0,260.8 939.5,258.8 941.1,256.8 942.6,254.8 944.2,252.8 945.7,250.8 947.3,248.7 948.9,246.7 950.5,244.6 952.0,242.6 953.6,240.5 955.2,238.4 956.8,236.3 958.5,234.2 960.1,232.1 961.7,230.0 963.3,227.9 965.0,225.7 966.6,223.6 968.3,221.4 969.9,219.3 971.6,217.1 973.3,214.9 974.9,212.8 976.6,210.6 978.3,208.4 980.0,206.2 981.7,203.9 983.4,201.7 985.1,199.5 986.8,197.2 988.6,195.0 990.3,192.7 992.0,190.5 993.8,188.2 995.5,185.9 997.2,183.6 999.0,181.3 1000.8,179.1 1002.5,176.7 1004.3,174.4 1006.1,172.1 1007.8,169.8 1009.6,167.5 1011.4,165.1 1013.2,162.8 1015.0,160.4 1016.8,158.1 1018.6,155.7 1020.4,153.3 1022.2,151.0 1024.0,148.6 1025.8,146.2 1027.7,143.8 1029.5,141.4 1031.3,139.0 1033.2,136.6 1035.0,134.2 1036.8,131.8 1038.7,129.4 1040.5,126.9 1042.4,124.5 1044.2,122.1 1046.1,119.6 1048.0,117.2 1049.8,114.7 1051.7,112.3 1053.6,109.8 1055.5,107.3 1057.3,104.9 1059.2,102.4 1061.1,99.9 1063.0,97.4 1064.9,95.0 1066.8,92.5 1068.7,90.0 1070.6,87.5 1072.5,85.0 1074.4,82.5 1076.3,80.0 1078.2,77.5 1080.1,75.0 1082.0,72.5 1083.9,69.9 1085.8,67.4 1087.8,64.9 1089.7,62.4 1091.6,59.9 1093.5,57.3 1095.4,54.8 1097.4,52.3 1099.3,49.7 1101.2,47.2 1103.2,44.7 1105.1,42.1 1107.0,39.6 1109.0,37.0 1110.9,34.5 1112.8,31.9 1114.8,29.4 1116.7,26.8 1118.6,24.3 1120.6,21.7 1122.5,19.2 1124.5,16.6 1126.4,14.1 1128.4,11.5 1130.3,9.0 1132.2,6.4 1134.2,3.8 1136.1,1.3 1138.1,-1.3 1140.0,-3.8 1142.0,-6.4 1143.9,-9.0 1145.9,-11.5 1147.8,-14.1 1149.7,-16.6 1151.7,-19.2 1153.6,-21.8 1155.6,-24.3 1157.5,-26.9 1159.5,-29.4 1161.4,-32.0 1163.3,-34.5 1165.3,-37.1 1167.2,-39.6 1169.2,-42.2 1171.1,-44.7 1173.0,-47.3 1175.0,-49.8 1176.9,-52.4 1178.9,-54.9 1180.8,-57.5 1182.7,-60.0 1184.7,-62.6 1186.6,-65.1 1188.5,-67.6 1190.4,-70.2 1192.4,-72.7 1194.3,-75.2 1196.2,-77.8 1198.1,-80.3 1200.0,-82.8 1202.0,-85.3 1203.9,-87.8 1205.8,-90.3 1207.7,-92.9 1209.6,-95.4 1211.5,-97.9 1213.4,-100.4 1215.3,-102.9 1217.2,-105.4 1219.1,-107.9 1221.0,-110.3 1222.9,-112.8 1224.8,-115.3 1226.7,-117.8 1228.6,-120.3 1230.4,-122.7 1232.3,-125.2 1234.2,-127.7 1236.1,-130.1 1237.9,-132.6 1239.8,-135.0 1241.7,-137.5 1243.5,-139.9 1245.4,-142.3 1247.2,-144.8 1249.1,-147.2 1250.9,-149.6 1252.8,-152.0 1254.6,-154.4 1256.4,-156.8 1258.2,-159.2"/>
<g fill="#fff" stroke="#56b4e9" stroke-width="1.4"><rect x="658.0" y="639.0" width="8.6" height="8.6"/><rect x="658.2" y="637.8" width="8.6" height="8.6"/><rect x="658.4" y="636.6" width="8.6" height="8.6"/><rect x="658.6" y="635.4" width="8.6" height="8.6"/><rect x="658.8" y="634.2" width="8.6" height="8.6"/><rect x="658.9" y="633.0" width="8.6" height="8.6"/><rect x="659.1" y="631.8" width="8.6" height="8.6"/><rect x="659.3" y="630.6" width="8.6" height="8.6"/><rect x="659.5" y="629.4" width="8.6" height="8.6"/><rect x="659.7" y="628.2" width="8.6" height="8.6"/><rect x="659.9" y="627.0" width="8.6" height="8.6"/><rect x="660.1" y="625.6" width="8.6" height="8.6"/><rect x="660.4" y="624.0" width="8.6" height="8.6"/><rect x="660.7" y="622.3" width="8.6" height="8.6"/><rect x="661.1" y="620.4" width="8.6" height="8.6"/><rect x="661.6" y="618.2" width="8.6" height="8.6"/><rect x="662.3" y="615.9" width="8.6" height="8.6"/><rect x="663.1" y="613.5" width="8.6" height="8.6"/><rect x="664.1" y="610.9" width="8.6" height="8.6"/><rect x="665.2" y="608.2" width="8.6" height="8.6"/><rect x="666.4" y="605.4" width="8.6" height="8.6"/><rect x="667.9" y="602.4" width="8.6" height="8.6"/><rect x="669.5" y="599.3" width="8.6" height="8.6"/><rect x="671.2" y="596.0" width="8.6" height="8.6"/><rect x="673.2" y="592.6" width="8.6" height="8.6"/><rect x="675.3" y="589.1" width="8.6" height="8.6"/><rect x="677.6" y="585.5" width="8.6" height="8.6"/><rect x="680.1" y="581.7" width="8.6" height="8.6"/><rect x="682.8" y="577.8" width="8.6" height="8.6"/><rect x="685.6" y="573.7" width="8.6" height="8.6"/><rect x="688.7" y="569.4" width="8.6" height="8.6"/><rect x="692.0" y="565.0" width="8.6" height="8.6"/><rect x="695.5" y="560.7" width="8.6" height="8.6"/><rect x="699.4" y="556.3" width="8.6" height="8.6"/><rect x="704.2" y="551.7" width="8.6" height="8.6"/><rect x="709.4" y="546.8" width="8.6" height="8.6"/><rect x="714.4" y="541.7" width="8.6" height="8.6"/><rect x="719.0" y="536.2" width="8.6" height="8.6"/><rect x="723.8" y="530.1" width="8.6" height="8.6"/><rect x="729.0" y="523.2" width="8.6" height="8.6"/><rect x="734.4" y="515.5" width="8.6" height="8.6"/><rect x="740.0" y="506.7" width="8.6" height="8.6"/><rect x="746.1" y="497.2" width="8.6" height="8.6"/><rect x="752.7" y="487.6" width="8.6" height="8.6"/><rect x="759.8" y="478.0" width="8.6" height="8.6"/><rect x="767.4" y="468.4" width="8.6" height="8.6"/><rect x="775.4" y="458.3" width="8.6" height="8.6"/></g>
</g>
<text x="459.10" y="34.50" font-size="46" text-anchor="middle" fill="#000" >100% RH</text>
<text x="312.00" y="122.70" font-size="61" text-anchor="middle" fill="#000" >(a)</text>
<text x="480.75" y="818.60" font-size="42.5" text-anchor="middle">Re (Z) [mΩ·cm<tspan font-size="25" dy="-17.5">2</tspan><tspan dy="17.5">]</tspan></text>
<text x="0" y="0" font-size="42.5" text-anchor="middle" transform="translate(40.20 358.50) rotate(-90)">-Im (Z) [mΩ·cm<tspan font-size="25" dy="-17.5">2</tspan><tspan dy="17.5">]</tspan></text>
<rect x="584.30" y="18.50" width="270.5" height="142.6" fill="#000"/>
<rect x="574.80" y="9.00" width="270.5" height="142.6" fill="#fff" stroke="#1a1a1a" stroke-width="1.5"/>
<line x1="579.6" y1="34.5" x2="665.3" y2="34.5" stroke="#000" stroke-width="2.2"/>
<circle cx="622.45" cy="34.50" r="5.75" fill="#fff" stroke="#000" stroke-width="1.5"/>
<text x="672.30" y="46.20" font-size="36" text-anchor="start" fill="#000" >Pt/C</text>
<line x1="579.6" y1="80.7" x2="665.3" y2="80.7" stroke="#0000ff" stroke-width="3.6"/>
<rect x="616.70" y="74.95" width="11.50" height="11.50" fill="#fff" stroke="#0000ff" stroke-width="1.5"/>
<text x="672.30" y="92.40" font-size="36" text-anchor="start" fill="#000" >PMF-1</text>
<line x1="579.6" y1="126.9" x2="665.3" y2="126.9" stroke="#56b4e9" stroke-width="3.6"/>
<rect x="616.70" y="121.15" width="11.50" height="11.50" fill="#fff" stroke="#56b4e9" stroke-width="1.5"/>
<text x="672.30" y="138.60" font-size="36" text-anchor="start" fill="#000" >PMF-1/CF</text>
<line x1="1117.00" y1="698.50" x2="1635.00" y2="182.02" stroke="#bebebe" stroke-width="5.4" stroke-dasharray="33.5 29.7" stroke-dashoffset="0"/>
<text x="0" y="0" font-size="41" fill="#bebebe" text-anchor="middle" transform="translate(1306.00 484.00) rotate(-45)">45°- line</text>
<rect x="1117.00" y="52.90" width="647.50" height="645.60" fill="none" stroke="#000" stroke-width="4.3"/>
<path d="M1246.50 698.50v-11.5M1376.00 698.50v-11.5M1505.50 698.50v-11.5M1635.00 698.50v-11.5M1181.75 698.50v-6M1311.25 698.50v-6M1440.75 698.50v-6M1570.25 698.50v-6M1699.75 698.50v-6M1117.00 569.38h11.5M1117.00 440.26h11.5M1117.00 311.14h11.5M1117.00 182.02h11.5M1117.00 633.94h6M1117.00 504.82h6M1117.00 375.70h6M1117.00 246.58h6M1117.00 117.46h6" stroke="#000" stroke-width="3.5" fill="none"/>
<text x="1117.00" y="745.00" font-size="43" text-anchor="middle" fill="#000" >0</text>
<text x="1102.50" y="711.50" font-size="43" text-anchor="end" fill="#000" >0</text>
<text x="1246.50" y="745.00" font-size="43" text-anchor="middle" fill="#000" >500</text>
<text x="1102.50" y="582.38" font-size="43" text-anchor="end" fill="#000" >500</text>
<text x="1376.00" y="745.00" font-size="43" text-anchor="middle" fill="#000" >1000</text>
<text x="1102.50" y="453.26" font-size="43" text-anchor="end" fill="#000" >1000</text>
<text x="1505.50" y="745.00" font-size="43" text-anchor="middle" fill="#000" >1500</text>
<text x="1102.50" y="324.14" font-size="43" text-anchor="end" fill="#000" >1500</text>
<text x="1635.00" y="745.00" font-size="43" text-anchor="middle" fill="#000" >2000</text>
<text x="1102.50" y="195.02" font-size="43" text-anchor="end" fill="#000" >2000</text>
<text x="1764.50" y="745.00" font-size="43" text-anchor="middle" fill="#000" >2500</text>
<text x="1102.50" y="65.90" font-size="43" text-anchor="end" fill="#000" >2500</text>
<clipPath id="cl3"><rect x="1115.50" y="51.40" width="650.50" height="648.60"/></clipPath>
<g>
<polyline clip-path="url(#cl3)" fill="none" stroke="#000000" stroke-width="3.0" stroke-linejoin="round" points="1153.2,698.5 1153.4,698.2 1153.5,697.9 1153.7,697.5 1154.0,697.1 1154.3,696.8 1154.6,696.5 1154.9,696.2 1155.2,696.0 1155.5,695.6 1155.8,695.3 1156.2,695.0 1156.5,694.7 1156.8,694.4 1157.1,694.1 1157.5,693.7 1158.0,693.4 1158.3,693.0 1158.6,692.7 1158.9,692.4 1159.2,692.1 1159.6,691.8 1159.9,691.5 1160.2,691.1 1160.5,690.6 1160.7,690.4 1160.9,690.1 1161.7,688.3 1162.6,685.6 1163.1,682.9 1163.5,679.9 1163.9,676.5 1164.1,673.6 1164.3,670.5 1164.4,667.2 1164.5,663.6 1164.7,659.8 1164.7,657.1 1164.8,654.3 1164.9,651.3 1165.0,648.3 1165.0,645.1 1165.1,641.8 1165.1,638.4 1165.2,635.0 1165.3,631.5 1165.3,628.0 1165.4,624.5 1165.4,621.0 1165.5,618.1 1165.5,615.2 1165.6,612.3 1165.6,609.4 1165.7,606.5 1165.7,603.5 1165.8,600.5 1165.8,597.4 1165.9,594.3 1165.9,591.2 1166.0,588.1 1166.0,584.8 1166.1,581.6 1166.2,578.2 1166.2,574.8 1166.3,571.4 1166.3,567.8 1166.4,565.2 1166.4,562.5 1166.5,559.8 1166.5,557.0 1166.6,554.2 1166.7,551.3 1166.7,548.4 1166.8,545.4 1166.8,542.4 1166.9,539.4 1166.9,536.3 1167.0,533.3 1167.1,530.2 1167.1,527.0 1167.2,523.9 1167.2,520.8 1167.3,517.6 1167.4,514.4 1167.4,511.3 1167.5,508.1 1167.6,504.9 1167.6,501.8 1167.7,498.6 1167.8,495.5 1167.8,492.4 1167.9,489.3 1168.0,486.2 1168.0,483.1 1168.1,480.1 1168.1,477.1 1168.2,474.1 1168.3,471.0 1168.3,467.9 1168.4,464.8 1168.5,461.7 1168.5,458.6 1168.6,455.6 1168.7,452.5 1168.8,449.5 1168.8,446.4 1168.9,443.4 1169.0,440.4 1169.0,437.4 1169.1,434.3 1169.2,431.3 1169.3,428.3 1169.3,425.3 1169.4,422.3 1169.5,419.2 1169.5,416.2 1169.6,413.2 1169.7,410.1 1169.7,407.1 1169.8,404.0 1169.9,401.0 1169.9,397.9 1170.0,394.8 1170.0,391.7 1170.1,388.6 1170.1,385.6 1170.2,382.5 1170.2,379.3 1170.3,376.2 1170.3,373.0 1170.4,369.8 1170.4,366.5 1170.5,363.3 1170.5,360.0 1170.5,356.7 1170.6,353.5 1170.6,350.2 1170.6,346.9 1170.7,343.6 1170.7,340.4 1170.8,337.2 1170.8,333.9 1170.8,330.7 1170.9,327.6 1170.9,324.4 1170.9,321.3 1171.0,318.3 1171.0,315.2 1171.1,312.3 1171.1,309.4 1171.2,306.5 1171.2,303.7 1171.3,300.9 1171.3,298.3 1171.4,295.6 1171.5,292.1 1171.6,288.6 1171.7,285.3 1171.8,282.1 1171.9,279.0 1172.0,276.0 1172.1,273.0 1172.2,270.0 1172.3,267.1 1172.4,264.2 1172.5,261.2 1172.6,258.2 1172.7,255.2 1172.8,252.1 1172.9,248.9 1173.0,246.0 1173.2,243.0 1173.3,240.0 1173.4,237.0 1173.5,234.0 1173.6,231.0 1173.7,227.9 1173.8,224.9 1173.9,221.8 1174.1,218.7 1174.2,215.6 1174.3,212.5 1174.4,209.4 1174.5,206.3 1174.6,203.2 1174.8,200.1 1174.9,197.0 1175.0,193.9 1175.1,190.9 1175.3,187.8 1175.4,184.8 1175.5,181.7 1175.7,178.7 1175.8,175.7 1176.0,172.6 1176.1,169.5 1176.2,166.5 1176.4,163.4 1176.5,160.3 1176.7,157.2 1176.8,154.1 1176.9,151.0 1177.0,147.8 1177.2,144.7 1177.3,141.5 1177.4,138.3 1177.5,135.0 1177.6,132.0 1177.7,128.9 1177.8,125.7 1177.8,122.5 1177.9,119.2 1178.0,115.8 1178.1,112.4 1178.1,109.0 1178.2,105.6 1178.3,102.2 1178.3,98.8 1178.4,95.4 1178.5,92.1 1178.5,88.8 1178.6,85.6 1178.6,82.4 1178.7,79.3 1178.7,76.3 1178.7,73.5 1178.8,70.7 1178.8,68.1 1178.9,65.6 1178.9,63.2 1179.0,59.2 1179.0,55.7 1179.0,52.4 1179.1,49.3 1179.1,46.3 1179.1,43.2 1179.2,40.0"/>
<g fill="#fff" stroke="#000000" stroke-width="1.4"><circle cx="1153.5" cy="697.9" r="6.55"/><circle cx="1154.0" cy="697.0" r="6.55"/><circle cx="1155.1" cy="696.1" r="6.55"/><circle cx="1155.9" cy="695.2" r="6.55"/><circle cx="1156.9" cy="694.3" r="6.55"/><circle cx="1157.9" cy="693.4" r="6.55"/><circle cx="1158.9" cy="692.5" r="6.55"/><circle cx="1159.7" cy="691.6" r="6.55"/><circle cx="1160.5" cy="690.7" r="6.55"/><circle cx="1161.1" cy="689.8" r="6.55"/><circle cx="1161.5" cy="688.9" r="6.55"/><circle cx="1161.8" cy="688.0" r="6.55"/><circle cx="1162.2" cy="686.9" r="6.55"/><circle cx="1162.6" cy="685.6" r="6.55"/><circle cx="1162.9" cy="684.2" r="6.55"/><circle cx="1163.2" cy="682.6" r="6.55"/><circle cx="1163.4" cy="680.9" r="6.55"/><circle cx="1163.6" cy="678.9" r="6.55"/><circle cx="1163.9" cy="676.8" r="6.55"/><circle cx="1164.1" cy="674.4" r="6.55"/><circle cx="1164.2" cy="671.7" r="6.55"/><circle cx="1164.4" cy="668.7" r="6.55"/><circle cx="1164.5" cy="665.4" r="6.55"/><circle cx="1164.6" cy="661.7" r="6.55"/><circle cx="1164.7" cy="657.7" r="6.55"/><circle cx="1164.8" cy="653.2" r="6.55"/><circle cx="1165.0" cy="648.1" r="6.55"/><circle cx="1165.1" cy="642.6" r="6.55"/><circle cx="1165.2" cy="636.4" r="6.55"/><circle cx="1165.3" cy="629.5" r="6.55"/><circle cx="1165.4" cy="621.9" r="6.55"/><circle cx="1165.6" cy="613.4" r="6.55"/><circle cx="1165.7" cy="603.9" r="6.55"/><circle cx="1165.9" cy="593.5" r="6.55"/><circle cx="1166.1" cy="581.9" r="6.55"/><circle cx="1166.3" cy="568.9" r="6.55"/><circle cx="1166.6" cy="554.6" r="6.55"/><circle cx="1166.9" cy="538.7" r="6.55"/><circle cx="1167.2" cy="521.0" r="6.55"/><circle cx="1167.6" cy="501.3" r="6.55"/><circle cx="1168.1" cy="479.5" r="6.55"/><circle cx="1168.6" cy="455.2" r="6.55"/><circle cx="1169.3" cy="428.3" r="6.55"/><circle cx="1169.9" cy="398.4" r="6.55"/><circle cx="1170.4" cy="365.2" r="6.55"/><circle cx="1170.9" cy="328.3" r="6.55"/><circle cx="1171.6" cy="287.3" r="6.55"/><circle cx="1173.2" cy="241.8" r="6.55"/><circle cx="1175.1" cy="191.2" r="6.55"/><circle cx="1177.5" cy="135.0" r="6.55"/><circle cx="1178.8" cy="72.6" r="6.55"/></g>
<polyline clip-path="url(#cl3)" fill="none" stroke="#000000" stroke-width="3.0" stroke-linejoin="round" points="1153.3,698.5 1153.7,698.0 1154.2,697.5 1154.6,697.2 1155.0,696.9 1155.6,696.1 1156.3,695.4 1156.8,695.0 1157.3,694.7 1157.9,694.3 1158.4,693.9 1158.8,693.5 1159.2,693.2 1159.7,692.9 1160.1,692.6 1160.4,692.3 1160.8,691.9 1161.6,691.1 1162.3,690.0 1163.3,687.5 1164.1,684.3 1164.6,681.3 1164.8,677.9 1165.0,674.1 1165.2,670.1 1165.3,667.4 1165.4,664.7 1165.5,661.8 1165.6,658.9 1165.7,655.8 1165.7,652.5 1165.8,649.1 1165.9,645.5 1166.0,641.7 1166.0,639.3 1166.0,636.8 1166.1,634.2 1166.1,631.5 1166.2,628.7 1166.2,625.9 1166.2,622.9 1166.3,620.0 1166.3,616.9 1166.4,613.8 1166.4,610.7 1166.4,607.5 1166.5,604.2 1166.5,601.0 1166.6,597.7 1166.6,594.4 1166.6,591.1 1166.7,587.7 1166.7,584.4 1166.8,581.0 1166.8,577.7 1166.9,574.4 1166.9,571.1 1167.0,567.8 1167.0,565.0 1167.1,562.1 1167.2,559.2 1167.2,556.2 1167.3,553.3 1167.3,550.3 1167.4,547.3 1167.5,544.3 1167.5,541.3 1167.6,538.3 1167.7,535.2 1167.7,532.2 1167.8,529.1 1167.9,526.0 1167.9,522.9 1168.0,519.8 1168.1,516.8 1168.2,513.7 1168.2,510.6 1168.3,507.5 1168.4,504.4 1168.4,501.3 1168.5,498.2 1168.6,495.2 1168.7,492.1 1168.7,489.1 1168.8,486.1 1168.9,483.0 1168.9,480.0 1169.0,477.1 1169.1,474.1 1169.1,471.0 1169.2,467.8 1169.3,464.7 1169.3,461.6 1169.4,458.5 1169.5,455.4 1169.5,452.3 1169.6,449.2 1169.6,446.1 1169.7,443.0 1169.8,439.9 1169.8,436.8 1169.9,433.8 1169.9,430.7 1170.0,427.6 1170.1,424.6 1170.1,421.5 1170.2,418.5 1170.3,415.5 1170.3,412.4 1170.4,409.4 1170.5,406.4 1170.5,403.4 1170.6,400.4 1170.7,397.5 1170.7,394.5 1170.8,391.6 1170.9,388.6 1170.9,385.4 1171.0,382.3 1171.1,379.1 1171.2,375.9 1171.2,372.7 1171.3,369.5 1171.3,366.3 1171.4,363.2 1171.5,360.0 1171.5,356.9 1171.6,353.7 1171.7,350.6 1171.7,347.5 1171.8,344.4 1171.9,341.4 1172.0,338.3 1172.1,335.3 1172.2,332.4 1172.3,329.4 1172.4,326.5 1172.5,323.6 1172.7,320.8 1172.8,318.0 1172.9,315.3 1173.2,311.8 1173.4,308.4 1173.7,305.1 1173.9,301.9 1174.2,298.7 1174.5,295.6 1174.8,292.5 1175.2,289.4 1175.5,286.4 1175.8,283.3 1176.1,280.2 1176.3,277.1 1176.6,274.0 1176.9,270.8 1177.1,267.5 1177.3,264.5 1177.5,261.6 1177.6,258.6 1177.8,255.5 1177.9,252.5 1178.1,249.5 1178.2,246.4 1178.4,243.3 1178.5,240.2 1178.6,237.2 1178.7,234.1 1178.9,231.0 1179.0,227.9 1179.1,224.8 1179.2,221.7 1179.3,218.6 1179.3,215.6 1179.4,212.5 1179.5,209.4 1179.6,206.4 1179.6,203.4 1179.7,200.3 1179.7,197.3 1179.7,194.3 1179.8,191.3 1179.8,188.2 1179.8,185.2 1179.8,182.2 1179.8,179.1 1179.9,176.1 1179.9,173.0 1179.9,169.9 1179.9,166.9 1179.9,163.8 1179.9,160.6 1179.9,157.5 1180.0,154.4 1180.0,151.4 1180.0,148.3 1180.0,145.2 1180.0,142.1 1180.0,138.9 1180.0,135.8 1180.0,132.6 1180.0,129.4 1180.0,126.2 1180.0,123.1 1180.0,119.9 1180.0,116.7 1180.0,113.6 1180.0,110.4 1180.0,107.3 1180.1,104.2 1180.1,101.1 1180.1,98.0 1180.1,95.0 1180.1,91.9 1180.1,88.7 1180.1,85.6 1180.1,82.5 1180.1,79.5 1180.1,76.4 1180.1,73.3 1180.1,70.3 1180.1,67.3 1180.1,64.2 1180.1,61.2 1180.2,58.2 1180.2,55.2 1180.2,52.1 1180.2,49.1 1180.2,46.1 1180.2,43.0 1180.2,40.0"/>
<g fill="#fff" stroke="#000000" stroke-width="1.4"><circle cx="1153.5" cy="698.3" r="6.55"/><circle cx="1154.3" cy="697.4" r="6.55"/><circle cx="1155.4" cy="696.5" r="6.55"/><circle cx="1156.1" cy="695.6" r="6.55"/><circle cx="1157.4" cy="694.7" r="6.55"/><circle cx="1158.5" cy="693.8" r="6.55"/><circle cx="1159.7" cy="692.9" r="6.55"/><circle cx="1160.8" cy="692.0" r="6.55"/><circle cx="1161.6" cy="691.1" r="6.55"/><circle cx="1162.2" cy="690.2" r="6.55"/><circle cx="1162.6" cy="689.3" r="6.55"/><circle cx="1163.0" cy="688.4" r="6.55"/><circle cx="1163.4" cy="687.4" r="6.55"/><circle cx="1163.7" cy="686.2" r="6.55"/><circle cx="1164.0" cy="684.8" r="6.55"/><circle cx="1164.3" cy="683.3" r="6.55"/><circle cx="1164.5" cy="681.6" r="6.55"/><circle cx="1164.7" cy="679.7" r="6.55"/><circle cx="1164.8" cy="677.6" r="6.55"/><circle cx="1164.9" cy="675.3" r="6.55"/><circle cx="1165.1" cy="672.7" r="6.55"/><circle cx="1165.2" cy="669.9" r="6.55"/><circle cx="1165.3" cy="666.7" r="6.55"/><circle cx="1165.5" cy="663.2" r="6.55"/><circle cx="1165.6" cy="659.3" r="6.55"/><circle cx="1165.7" cy="655.0" r="6.55"/><circle cx="1165.8" cy="650.2" r="6.55"/><circle cx="1165.9" cy="644.8" r="6.55"/><circle cx="1166.0" cy="638.9" r="6.55"/><circle cx="1166.1" cy="632.2" r="6.55"/><circle cx="1166.2" cy="624.9" r="6.55"/><circle cx="1166.3" cy="616.8" r="6.55"/><circle cx="1166.4" cy="607.7" r="6.55"/><circle cx="1166.6" cy="597.7" r="6.55"/><circle cx="1166.7" cy="586.5" r="6.55"/><circle cx="1166.9" cy="574.1" r="6.55"/><circle cx="1167.1" cy="560.3" r="6.55"/><circle cx="1167.4" cy="545.0" r="6.55"/><circle cx="1167.8" cy="528.0" r="6.55"/><circle cx="1168.3" cy="509.2" r="6.55"/><circle cx="1168.7" cy="488.2" r="6.55"/><circle cx="1169.3" cy="464.9" r="6.55"/><circle cx="1169.8" cy="439.1" r="6.55"/><circle cx="1170.4" cy="410.4" r="6.55"/><circle cx="1171.1" cy="378.5" r="6.55"/><circle cx="1171.9" cy="343.0" r="6.55"/><circle cx="1173.8" cy="303.7" r="6.55"/><circle cx="1177.5" cy="260.0" r="6.55"/><circle cx="1179.4" cy="211.4" r="6.55"/><circle cx="1179.9" cy="157.5" r="6.55"/><circle cx="1180.1" cy="97.6" r="6.55"/></g>
<polyline clip-path="url(#cl3)" fill="none" stroke="#0000ff" stroke-width="2.5" stroke-linejoin="round" points="1156.9,698.5 1156.9,698.1 1157.0,697.7 1157.2,697.4 1157.3,697.0 1157.6,696.6 1157.9,696.3 1158.2,695.9 1158.5,695.6 1158.9,695.3 1159.2,695.0 1159.6,694.7 1160.0,694.5 1160.4,694.3 1160.9,693.9 1161.8,693.2 1163.0,692.1 1164.6,690.8 1166.5,689.1 1168.6,687.1 1170.9,685.0 1173.4,682.7 1176.1,680.2 1178.8,677.6 1181.6,675.0 1184.3,672.4 1187.1,669.7 1189.8,667.2 1192.3,664.7 1194.7,662.3 1196.8,660.3 1198.9,658.2 1201.0,656.1 1203.1,653.9 1205.2,651.8 1207.2,649.6 1209.3,647.4 1211.4,645.2 1213.6,643.0 1215.7,640.8 1217.8,638.5 1220.0,636.3 1222.2,634.0 1224.4,631.7 1226.6,629.4 1228.9,627.0 1231.2,624.7 1233.5,622.3 1235.6,620.3 1237.6,618.3 1239.6,616.2 1241.7,614.2 1243.7,612.1 1245.8,610.1 1247.9,608.0 1250.0,605.9 1252.1,603.8 1254.3,601.7 1256.5,599.6 1258.6,597.4 1260.8,595.3 1263.0,593.1 1265.3,590.9 1267.5,588.7 1269.8,586.5 1272.0,584.3 1274.3,582.1 1276.7,579.8 1279.0,577.6 1281.3,575.3 1283.7,573.0 1286.1,570.7 1288.5,568.3 1290.5,566.4 1292.6,564.4 1294.7,562.3 1297.0,560.2 1299.2,558.1 1301.6,556.0 1303.9,553.8 1306.3,551.6 1308.8,549.3 1311.2,547.0 1313.7,544.8 1316.2,542.5 1318.7,540.2 1321.3,537.9 1323.8,535.6 1326.3,533.3 1328.8,530.9 1331.3,528.7 1333.8,526.4 1336.2,524.1 1338.6,521.8 1341.0,519.6 1343.3,517.4 1345.6,515.2 1347.9,513.1 1350.0,511.0 1352.2,508.9 1354.2,506.9 1356.2,504.9 1358.1,503.0 1359.9,501.1 1361.6,499.3 1363.2,497.6 1364.7,495.9 1366.1,494.2 1367.5,492.7 1369.9,489.5 1372.1,486.6 1373.9,483.8 1375.5,481.2 1376.9,478.7 1378.3,476.3 1379.7,473.8 1381.2,471.2 1383.0,468.2 1384.7,465.3 1386.4,462.4 1388.0,459.5 1389.5,456.6 1391.0,453.7 1392.5,450.5 1394.0,447.3 1395.3,444.1 1396.6,440.9 1398.0,437.7 1399.3,434.7 1400.6,431.7 1401.9,428.7 1403.2,425.6 1404.5,422.6 1405.8,419.6 1407.1,416.7 1408.5,413.9 1409.9,411.1 1411.3,408.3 1412.6,405.4 1413.8,402.3 1414.8,399.6 1415.7,396.7 1416.5,393.8 1417.3,390.8 1418.1,387.8 1418.8,384.8 1419.5,381.8 1420.3,378.8 1421.0,375.9 1421.7,373.0 1422.4,370.0 1423.1,367.1 1423.8,364.2 1424.5,361.3 1425.1,358.3 1425.7,355.3 1426.4,352.2 1427.0,349.0 1427.7,345.9 1428.3,342.7 1428.9,339.5 1429.4,336.2 1429.9,332.9 1430.4,329.5 1430.7,326.6 1431.0,323.6 1431.2,320.5 1431.4,317.5 1431.6,314.3 1431.8,311.2 1431.9,308.0 1432.1,304.8 1432.4,301.6 1432.6,298.4 1433.0,295.1 1433.3,292.2 1433.7,289.2 1434.2,286.2 1434.6,283.2 1435.1,280.2 1435.6,277.1 1436.1,274.1 1436.6,271.0 1437.1,267.9 1437.7,264.8 1438.2,261.8 1438.7,258.7 1439.2,255.6 1439.7,252.5 1440.2,249.4 1440.8,246.3 1441.3,243.2 1441.8,240.1 1442.4,237.0 1442.9,233.9 1443.4,230.8 1444.0,227.6 1444.5,224.4 1445.0,221.2 1445.5,217.9 1445.9,214.6 1446.3,211.8 1446.7,208.9 1447.0,206.1 1447.4,203.2 1447.8,200.3 1448.1,197.3 1448.5,194.4 1448.8,191.4 1449.2,188.4 1449.5,185.3 1449.8,182.3 1450.1,179.3 1450.4,176.2 1450.6,173.1 1450.9,170.1 1451.1,167.0 1451.3,163.9 1451.5,160.8 1451.6,157.9 1451.8,155.0 1451.8,152.0 1451.9,149.0 1451.9,146.0 1451.9,143.0 1451.9,140.0 1451.9,136.9 1451.9,133.9 1451.9,130.9 1451.8,127.8 1451.8,124.8 1451.8,121.7 1451.7,118.7 1451.7,115.6 1451.7,112.6 1451.7,109.5 1451.8,106.5 1451.8,103.4 1451.9,100.4 1452.0,97.4 1452.1,94.4 1452.2,91.3 1452.4,88.3 1452.5,85.3 1452.7,82.3 1452.8,79.3 1453.0,76.2 1453.2,73.2 1453.4,70.2 1453.6,67.2 1453.8,64.2 1454.0,61.1 1454.2,58.1 1454.3,55.1 1454.5,52.1 1454.7,49.1 1454.9,46.0 1455.1,43.0 1455.3,40.0"/>
<g fill="#fff" stroke="#0000ff" stroke-width="1.5"><rect x="1151.1" y="692.3" width="11.7" height="11.7"/><rect x="1151.4" y="691.4" width="11.7" height="11.7"/><rect x="1152.0" y="690.5" width="11.7" height="11.7"/><rect x="1152.8" y="689.6" width="11.7" height="11.7"/><rect x="1154.0" y="688.7" width="11.7" height="11.7"/><rect x="1155.4" y="687.8" width="11.7" height="11.7"/><rect x="1156.5" y="686.9" width="11.7" height="11.7"/><rect x="1157.5" y="686.0" width="11.7" height="11.7"/><rect x="1158.5" y="685.1" width="11.7" height="11.7"/><rect x="1159.5" y="684.2" width="11.7" height="11.7"/><rect x="1160.5" y="683.3" width="11.7" height="11.7"/><rect x="1161.5" y="682.4" width="11.7" height="11.7"/><rect x="1162.5" y="681.5" width="11.7" height="11.7"/><rect x="1163.5" y="680.6" width="11.7" height="11.7"/><rect x="1164.5" y="679.7" width="11.7" height="11.7"/><rect x="1165.4" y="678.8" width="11.7" height="11.7"/><rect x="1166.4" y="677.9" width="11.7" height="11.7"/><rect x="1167.4" y="677.0" width="11.7" height="11.7"/><rect x="1168.3" y="676.1" width="11.7" height="11.7"/><rect x="1169.3" y="675.2" width="11.7" height="11.7"/><rect x="1170.3" y="674.2" width="11.7" height="11.7"/><rect x="1171.4" y="673.2" width="11.7" height="11.7"/><rect x="1172.6" y="672.1" width="11.7" height="11.7"/><rect x="1173.8" y="671.0" width="11.7" height="11.7"/><rect x="1175.1" y="669.8" width="11.7" height="11.7"/><rect x="1176.4" y="668.5" width="11.7" height="11.7"/><rect x="1177.8" y="667.2" width="11.7" height="11.7"/><rect x="1179.3" y="665.7" width="11.7" height="11.7"/><rect x="1180.8" y="664.3" width="11.7" height="11.7"/><rect x="1182.5" y="662.7" width="11.7" height="11.7"/><rect x="1184.2" y="661.0" width="11.7" height="11.7"/><rect x="1186.0" y="659.3" width="11.7" height="11.7"/><rect x="1187.9" y="657.4" width="11.7" height="11.7"/><rect x="1189.9" y="655.5" width="11.7" height="11.7"/><rect x="1192.0" y="653.4" width="11.7" height="11.7"/><rect x="1194.1" y="651.2" width="11.7" height="11.7"/><rect x="1196.4" y="648.9" width="11.7" height="11.7"/><rect x="1198.8" y="646.5" width="11.7" height="11.7"/><rect x="1201.2" y="643.9" width="11.7" height="11.7"/><rect x="1203.8" y="641.2" width="11.7" height="11.7"/><rect x="1206.6" y="638.4" width="11.7" height="11.7"/><rect x="1209.4" y="635.4" width="11.7" height="11.7"/><rect x="1212.5" y="632.2" width="11.7" height="11.7"/><rect x="1215.7" y="628.8" width="11.7" height="11.7"/><rect x="1219.1" y="625.3" width="11.7" height="11.7"/><rect x="1222.7" y="621.5" width="11.7" height="11.7"/><rect x="1226.6" y="617.6" width="11.7" height="11.7"/><rect x="1230.7" y="613.4" width="11.7" height="11.7"/><rect x="1235.1" y="609.0" width="11.7" height="11.7"/><rect x="1239.8" y="604.4" width="11.7" height="11.7"/><rect x="1244.7" y="599.5" width="11.7" height="11.7"/><rect x="1250.0" y="594.3" width="11.7" height="11.7"/><rect x="1255.5" y="588.9" width="11.7" height="11.7"/><rect x="1261.4" y="583.1" width="11.7" height="11.7"/><rect x="1267.6" y="577.0" width="11.7" height="11.7"/><rect x="1274.2" y="570.6" width="11.7" height="11.7"/><rect x="1281.2" y="563.9" width="11.7" height="11.7"/><rect x="1288.6" y="556.7" width="11.7" height="11.7"/><rect x="1296.7" y="549.2" width="11.7" height="11.7"/><rect x="1305.4" y="541.2" width="11.7" height="11.7"/><rect x="1314.5" y="532.8" width="11.7" height="11.7"/><rect x="1324.2" y="523.9" width="11.7" height="11.7"/><rect x="1334.3" y="514.6" width="11.7" height="11.7"/><rect x="1344.6" y="504.7" width="11.7" height="11.7"/><rect x="1355.0" y="494.3" width="11.7" height="11.7"/><rect x="1364.6" y="483.0" width="11.7" height="11.7"/><rect x="1374.1" y="467.6" width="11.7" height="11.7"/><rect x="1384.0" y="450.0" width="11.7" height="11.7"/><rect x="1393.8" y="428.1" width="11.7" height="11.7"/><rect x="1404.5" y="404.3" width="11.7" height="11.7"/><rect x="1414.0" y="374.6" width="11.7" height="11.7"/><rect x="1421.9" y="339.4" width="11.7" height="11.7"/><rect x="1426.2" y="300.3" width="11.7" height="11.7"/><rect x="1432.2" y="256.8" width="11.7" height="11.7"/><rect x="1440.1" y="208.6" width="11.7" height="11.7"/><rect x="1445.6" y="155.0" width="11.7" height="11.7"/><rect x="1446.0" y="95.5" width="11.7" height="11.7"/></g>
<polyline clip-path="url(#cl3)" fill="none" stroke="#0000ff" stroke-width="2.5" stroke-linejoin="round" points="1157.6,698.5 1157.7,698.1 1157.8,697.6 1158.0,697.2 1158.2,696.9 1158.4,696.5 1158.7,696.2 1159.0,695.9 1159.3,695.6 1159.7,695.3 1160.1,695.0 1160.4,694.8 1160.8,694.4 1161.6,693.7 1162.8,692.7 1164.4,691.3 1166.2,689.7 1168.4,687.8 1170.7,685.7 1173.2,683.4 1175.9,681.0 1178.7,678.6 1181.5,676.0 1184.3,673.4 1187.0,670.9 1189.7,668.4 1192.3,665.9 1194.7,663.6 1196.8,661.6 1198.9,659.5 1201.0,657.4 1203.1,655.3 1205.1,653.1 1207.2,651.0 1209.3,648.8 1211.4,646.6 1213.5,644.3 1215.6,642.1 1217.8,639.8 1219.9,637.6 1222.1,635.3 1224.3,633.0 1226.6,630.7 1228.9,628.3 1231.2,626.0 1233.5,623.6 1235.5,621.7 1237.5,619.7 1239.5,617.7 1241.6,615.8 1243.6,613.8 1245.7,611.8 1247.8,609.8 1249.9,607.8 1252.0,605.8 1254.2,603.7 1256.3,601.7 1258.5,599.6 1260.7,597.6 1262.9,595.5 1265.1,593.4 1267.4,591.3 1269.6,589.2 1271.9,587.0 1274.2,584.9 1276.5,582.7 1278.8,580.5 1281.1,578.3 1283.5,576.1 1285.8,573.9 1288.2,571.6 1290.5,569.4 1292.5,567.4 1294.6,565.5 1296.7,563.4 1298.9,561.4 1301.1,559.2 1303.4,557.1 1305.6,554.9 1308.0,552.7 1310.3,550.4 1312.7,548.1 1315.0,545.9 1317.4,543.5 1319.9,541.2 1322.3,538.9 1324.7,536.6 1327.1,534.2 1329.5,531.9 1331.9,529.6 1334.3,527.3 1336.7,525.0 1339.1,522.7 1341.4,520.5 1343.7,518.3 1346.0,516.1 1348.2,513.9 1350.4,511.8 1352.6,509.7 1354.7,507.6 1356.7,505.7 1358.7,503.7 1360.6,501.8 1362.5,500.0 1364.3,498.2 1366.1,496.6 1367.7,494.9 1369.3,493.4 1370.8,491.9 1373.8,489.1 1376.5,486.5 1379.0,484.1 1381.3,481.9 1383.5,479.8 1385.6,477.8 1387.6,475.7 1389.6,473.5 1391.5,471.2 1393.6,468.8 1395.5,466.3 1397.4,463.8 1399.2,461.3 1400.9,458.7 1402.6,456.2 1404.1,453.7 1405.7,451.1 1407.2,448.4 1408.6,445.6 1409.9,442.9 1411.2,440.1 1412.5,437.4 1413.7,434.7 1415.0,432.0 1416.5,429.0 1418.0,426.2 1419.6,423.3 1421.1,420.4 1422.5,417.5 1423.9,414.4 1425.1,411.6 1426.2,408.6 1427.3,405.7 1428.3,402.6 1429.3,399.6 1430.4,396.6 1431.4,393.5 1432.6,390.4 1433.7,387.4 1434.9,384.3 1436.1,381.2 1437.2,378.1 1438.2,374.9 1439.2,371.6 1439.9,368.7 1440.6,365.7 1441.2,362.6 1441.8,359.5 1442.3,356.4 1442.8,353.2 1443.4,350.1 1443.9,347.0 1444.4,343.9 1444.9,340.7 1445.5,337.5 1446.0,334.4 1446.5,331.2 1447.0,328.1 1447.5,324.8 1448.0,321.5 1448.5,318.1 1449.0,315.1 1449.5,312.0 1450.0,308.9 1450.5,305.7 1451.0,302.4 1451.5,299.1 1452.0,295.8 1452.5,292.5 1453.0,289.3 1453.5,286.0 1454.0,282.7 1454.4,279.5 1454.9,276.3 1455.4,273.2 1455.8,270.0 1456.3,266.9 1456.7,263.7 1457.2,260.5 1457.6,257.2 1458.1,253.9 1458.6,250.6 1459.0,247.1 1459.4,244.2 1459.8,241.3 1460.1,238.3 1460.5,235.3 1460.9,232.2 1461.2,229.1 1461.6,225.9 1462.0,222.8 1462.3,219.6 1462.7,216.4 1463.1,213.3 1463.5,210.1 1463.8,207.0 1464.2,203.9 1464.6,200.8 1465.0,197.8 1465.4,194.6 1465.9,191.4 1466.4,188.3 1466.9,185.2 1467.4,182.2 1467.9,179.1 1468.4,176.1 1468.9,173.0 1469.4,169.9 1469.8,166.8 1470.2,163.6 1470.6,160.4 1470.9,157.0 1471.2,153.6 1471.4,150.8 1471.5,147.8 1471.6,144.8 1471.7,141.8 1471.7,138.7 1471.7,135.5 1471.7,132.3 1471.7,129.1 1471.6,125.9 1471.6,122.6 1471.5,119.4 1471.5,116.1 1471.4,112.9 1471.3,109.6 1471.3,106.4 1471.2,103.2 1471.2,100.1 1471.2,97.0 1471.2,93.9 1471.2,90.9 1471.3,88.0 1471.4,84.8 1471.5,81.7 1471.7,78.5 1471.8,75.5 1472.0,72.5 1472.2,69.5 1472.4,66.5 1472.6,63.5 1472.8,60.6 1473.0,57.7 1473.2,54.7 1473.4,51.8 1473.6,48.9 1473.8,45.9 1474.0,43.0 1474.2,40.0"/>
<g fill="#fff" stroke="#0000ff" stroke-width="1.5"><rect x="1151.8" y="692.4" width="11.7" height="11.7"/><rect x="1152.0" y="691.5" width="11.7" height="11.7"/><rect x="1152.6" y="690.6" width="11.7" height="11.7"/><rect x="1153.6" y="689.7" width="11.7" height="11.7"/><rect x="1154.6" y="688.8" width="11.7" height="11.7"/><rect x="1155.7" y="687.9" width="11.7" height="11.7"/><rect x="1156.7" y="687.0" width="11.7" height="11.7"/><rect x="1157.8" y="686.1" width="11.7" height="11.7"/><rect x="1158.8" y="685.2" width="11.7" height="11.7"/><rect x="1159.8" y="684.3" width="11.7" height="11.7"/><rect x="1160.8" y="683.4" width="11.7" height="11.7"/><rect x="1161.9" y="682.5" width="11.7" height="11.7"/><rect x="1162.9" y="681.6" width="11.7" height="11.7"/><rect x="1163.9" y="680.7" width="11.7" height="11.7"/><rect x="1164.9" y="679.8" width="11.7" height="11.7"/><rect x="1165.9" y="678.9" width="11.7" height="11.7"/><rect x="1166.9" y="678.0" width="11.7" height="11.7"/><rect x="1167.9" y="677.1" width="11.7" height="11.7"/><rect x="1168.9" y="676.2" width="11.7" height="11.7"/><rect x="1169.9" y="675.3" width="11.7" height="11.7"/><rect x="1171.0" y="674.3" width="11.7" height="11.7"/><rect x="1172.1" y="673.3" width="11.7" height="11.7"/><rect x="1173.3" y="672.2" width="11.7" height="11.7"/><rect x="1174.6" y="671.1" width="11.7" height="11.7"/><rect x="1175.9" y="669.9" width="11.7" height="11.7"/><rect x="1177.2" y="668.7" width="11.7" height="11.7"/><rect x="1178.7" y="667.3" width="11.7" height="11.7"/><rect x="1180.2" y="665.9" width="11.7" height="11.7"/><rect x="1181.8" y="664.4" width="11.7" height="11.7"/><rect x="1183.5" y="662.9" width="11.7" height="11.7"/><rect x="1185.3" y="661.2" width="11.7" height="11.7"/><rect x="1187.1" y="659.5" width="11.7" height="11.7"/><rect x="1189.0" y="657.6" width="11.7" height="11.7"/><rect x="1191.0" y="655.7" width="11.7" height="11.7"/><rect x="1193.1" y="653.6" width="11.7" height="11.7"/><rect x="1195.2" y="651.5" width="11.7" height="11.7"/><rect x="1197.4" y="649.2" width="11.7" height="11.7"/><rect x="1199.8" y="646.8" width="11.7" height="11.7"/><rect x="1202.2" y="644.2" width="11.7" height="11.7"/><rect x="1204.8" y="641.5" width="11.7" height="11.7"/><rect x="1207.5" y="638.7" width="11.7" height="11.7"/><rect x="1210.3" y="635.7" width="11.7" height="11.7"/><rect x="1213.3" y="632.6" width="11.7" height="11.7"/><rect x="1216.5" y="629.2" width="11.7" height="11.7"/><rect x="1219.9" y="625.7" width="11.7" height="11.7"/><rect x="1223.5" y="622.0" width="11.7" height="11.7"/><rect x="1227.4" y="618.1" width="11.7" height="11.7"/><rect x="1231.6" y="613.9" width="11.7" height="11.7"/><rect x="1236.1" y="609.6" width="11.7" height="11.7"/><rect x="1240.9" y="605.0" width="11.7" height="11.7"/><rect x="1246.0" y="600.1" width="11.7" height="11.7"/><rect x="1251.4" y="595.0" width="11.7" height="11.7"/><rect x="1257.2" y="589.5" width="11.7" height="11.7"/><rect x="1263.3" y="583.8" width="11.7" height="11.7"/><rect x="1269.7" y="577.8" width="11.7" height="11.7"/><rect x="1276.4" y="571.4" width="11.7" height="11.7"/><rect x="1283.5" y="564.7" width="11.7" height="11.7"/><rect x="1290.9" y="557.6" width="11.7" height="11.7"/><rect x="1298.7" y="550.1" width="11.7" height="11.7"/><rect x="1306.9" y="542.2" width="11.7" height="11.7"/><rect x="1315.6" y="533.8" width="11.7" height="11.7"/><rect x="1324.8" y="525.0" width="11.7" height="11.7"/><rect x="1334.4" y="515.7" width="11.7" height="11.7"/><rect x="1344.6" y="505.9" width="11.7" height="11.7"/><rect x="1355.3" y="495.5" width="11.7" height="11.7"/><rect x="1366.5" y="484.6" width="11.7" height="11.7"/><rect x="1378.6" y="473.0" width="11.7" height="11.7"/><rect x="1389.5" y="460.6" width="11.7" height="11.7"/><rect x="1400.2" y="444.7" width="11.7" height="11.7"/><rect x="1410.6" y="423.4" width="11.7" height="11.7"/><rect x="1421.5" y="399.5" width="11.7" height="11.7"/><rect x="1432.0" y="370.2" width="11.7" height="11.7"/><rect x="1439.1" y="334.6" width="11.7" height="11.7"/><rect x="1445.4" y="295.0" width="11.7" height="11.7"/><rect x="1451.8" y="251.0" width="11.7" height="11.7"/><rect x="1457.9" y="202.1" width="11.7" height="11.7"/><rect x="1465.4" y="147.8" width="11.7" height="11.7"/><rect x="1465.4" y="87.4" width="11.7" height="11.7"/></g>
<polyline clip-path="url(#cl3)" fill="none" stroke="#56b4e9" stroke-width="2.2" stroke-linejoin="round" points="1155.7,698.5 1155.8,698.1 1155.8,697.6 1156.0,697.2 1156.3,696.9 1156.5,696.5 1156.8,696.1 1157.2,695.8 1157.6,695.5 1158.0,695.2 1158.4,694.9 1158.8,694.5 1159.2,694.2 1159.7,693.9 1160.1,693.6 1160.3,693.4 1160.7,693.1 1161.4,692.5 1162.5,691.4 1163.9,690.0 1165.6,688.3 1167.5,686.3 1169.6,684.1 1171.9,681.7 1174.4,679.1 1176.9,676.5 1179.5,673.7 1182.2,671.0 1184.8,668.2 1187.5,665.5 1190.0,662.8 1192.4,660.3 1194.7,658.0 1196.8,655.8 1198.9,653.6 1201.0,651.4 1203.1,649.3 1205.2,647.1 1207.3,644.9 1209.5,642.7 1211.6,640.5 1213.7,638.2 1215.9,636.0 1218.1,633.8 1220.2,631.5 1222.4,629.2 1224.6,627.0 1226.8,624.7 1229.1,622.3 1231.3,620.0 1233.5,617.7 1235.6,615.5 1237.7,613.4 1239.8,611.2 1241.9,609.0 1244.0,606.7 1246.1,604.5 1248.3,602.2 1250.4,599.9 1252.6,597.7 1254.7,595.4 1256.9,593.1 1259.1,590.8 1261.3,588.5 1263.4,586.2 1265.6,583.9 1267.8,581.6 1270.0,579.4 1272.1,577.1 1274.3,574.9 1276.4,572.7 1278.6,570.5 1280.7,568.3 1282.9,566.1 1285.1,563.9 1287.3,561.7 1289.6,559.5 1291.8,557.3 1294.1,555.1 1296.3,552.9 1298.5,550.7 1300.8,548.5 1303.0,546.4 1305.2,544.2 1307.4,542.1 1309.6,540.0 1311.8,537.8 1313.9,535.8 1316.0,533.7 1318.1,531.6 1320.2,529.5 1322.2,527.5 1324.2,525.5 1326.5,523.1 1328.8,520.8 1331.1,518.3 1333.3,515.9 1335.6,513.5 1337.9,511.1 1340.1,508.7 1342.2,506.3 1344.3,504.1 1346.4,501.9 1348.3,499.8 1350.2,497.8 1352.0,496.0 1353.7,494.2 1355.3,492.7 1358.2,490.1 1360.7,488.1 1363.0,486.1 1365.1,483.9 1366.9,481.3 1368.3,478.5 1369.6,475.6 1371.0,472.6 1372.7,469.4 1374.4,466.1 1376.0,462.7 1377.5,459.1 1378.4,456.2 1379.3,453.1 1380.0,449.9 1380.7,446.7 1381.4,443.5 1382.2,440.3 1383.1,437.1 1384.0,433.9 1385.0,430.7 1385.9,427.6 1386.9,424.3 1387.8,421.0 1388.7,417.8 1389.6,414.6 1390.6,411.3 1391.5,408.0 1392.4,404.7 1393.2,401.3 1394.0,397.9 1394.7,394.8 1395.3,391.6 1395.9,388.4 1396.4,385.2 1396.9,381.9 1397.5,378.6 1398.0,375.4 1398.5,372.1 1399.1,369.1 1399.6,366.1 1400.1,363.1 1400.6,360.1 1401.1,357.1 1401.7,354.1 1402.2,351.0 1402.6,347.9 1403.1,344.7 1403.5,341.8 1403.8,338.9 1404.2,335.9 1404.5,332.9 1404.8,329.8 1405.2,326.7 1405.5,323.7 1405.8,320.5 1406.1,317.4 1406.5,314.3 1406.8,311.1 1407.2,308.0 1407.6,304.9 1408.0,301.8 1408.4,298.7 1408.8,295.5 1409.3,292.3 1409.7,289.2 1410.1,285.9 1410.5,282.7 1410.9,279.5 1411.3,276.2 1411.6,272.9 1411.9,269.9 1412.2,266.9 1412.4,263.8 1412.6,260.7 1412.8,257.7 1413.1,254.6 1413.3,251.4 1413.5,248.3 1413.7,245.2 1413.9,242.0 1414.1,238.8 1414.3,235.7 1414.6,232.5 1414.8,229.3 1415.1,226.3 1415.4,223.3 1415.7,220.3 1416.1,217.3 1416.4,214.3 1416.7,211.3 1417.1,208.3 1417.4,205.3 1417.8,202.2 1418.1,199.2 1418.5,196.1 1418.8,193.0 1419.1,189.9 1419.4,186.8 1419.7,183.6 1420.0,180.5 1420.3,177.4 1420.6,174.4 1420.8,171.3 1421.1,168.2 1421.3,165.2 1421.6,162.0 1421.8,158.9 1422.0,155.8 1422.2,152.7 1422.5,149.5 1422.7,146.3 1422.9,143.2 1423.1,140.0 1423.3,136.8 1423.4,133.6 1423.6,130.4 1423.8,127.1 1423.9,123.9 1424.0,120.8 1424.2,117.6 1424.3,114.3 1424.4,111.0 1424.5,107.6 1424.5,104.2 1424.6,100.8 1424.7,97.4 1424.7,94.0 1424.8,90.6 1424.8,87.2 1424.9,83.9 1424.9,80.7 1424.9,77.5 1425.0,74.5 1425.0,71.5 1425.0,68.7 1425.1,66.0 1425.1,63.4 1425.1,61.0 1425.1,57.4 1425.2,54.2 1425.2,51.2 1425.2,48.4 1425.2,45.7 1425.2,42.9 1425.2,40.0"/>
<g fill="#fff" stroke="#56b4e9" stroke-width="1.5"><rect x="1149.9" y="692.1" width="11.7" height="11.7"/><rect x="1150.3" y="691.2" width="11.7" height="11.7"/><rect x="1150.9" y="690.3" width="11.7" height="11.7"/><rect x="1151.9" y="689.4" width="11.7" height="11.7"/><rect x="1153.2" y="688.5" width="11.7" height="11.7"/><rect x="1154.4" y="687.6" width="11.7" height="11.7"/><rect x="1155.4" y="686.7" width="11.7" height="11.7"/><rect x="1156.3" y="685.8" width="11.7" height="11.7"/><rect x="1157.2" y="684.9" width="11.7" height="11.7"/><rect x="1158.1" y="684.0" width="11.7" height="11.7"/><rect x="1159.0" y="683.1" width="11.7" height="11.7"/><rect x="1159.9" y="682.2" width="11.7" height="11.7"/><rect x="1160.7" y="681.3" width="11.7" height="11.7"/><rect x="1161.6" y="680.4" width="11.7" height="11.7"/><rect x="1162.5" y="679.5" width="11.7" height="11.7"/><rect x="1163.4" y="678.6" width="11.7" height="11.7"/><rect x="1164.2" y="677.7" width="11.7" height="11.7"/><rect x="1165.1" y="676.8" width="11.7" height="11.7"/><rect x="1166.0" y="675.9" width="11.7" height="11.7"/><rect x="1166.9" y="675.0" width="11.7" height="11.7"/><rect x="1167.8" y="674.0" width="11.7" height="11.7"/><rect x="1168.8" y="673.0" width="11.7" height="11.7"/><rect x="1169.8" y="671.9" width="11.7" height="11.7"/><rect x="1170.9" y="670.8" width="11.7" height="11.7"/><rect x="1172.1" y="669.6" width="11.7" height="11.7"/><rect x="1173.3" y="668.3" width="11.7" height="11.7"/><rect x="1174.6" y="666.9" width="11.7" height="11.7"/><rect x="1176.0" y="665.5" width="11.7" height="11.7"/><rect x="1177.4" y="664.0" width="11.7" height="11.7"/><rect x="1179.0" y="662.4" width="11.7" height="11.7"/><rect x="1180.6" y="660.7" width="11.7" height="11.7"/><rect x="1182.3" y="658.9" width="11.7" height="11.7"/><rect x="1184.1" y="657.1" width="11.7" height="11.7"/><rect x="1186.0" y="655.1" width="11.7" height="11.7"/><rect x="1188.0" y="653.0" width="11.7" height="11.7"/><rect x="1190.1" y="650.8" width="11.7" height="11.7"/><rect x="1192.3" y="648.5" width="11.7" height="11.7"/><rect x="1194.7" y="646.1" width="11.7" height="11.7"/><rect x="1197.2" y="643.5" width="11.7" height="11.7"/><rect x="1199.8" y="640.7" width="11.7" height="11.7"/><rect x="1202.6" y="637.9" width="11.7" height="11.7"/><rect x="1205.5" y="634.8" width="11.7" height="11.7"/><rect x="1208.6" y="631.6" width="11.7" height="11.7"/><rect x="1211.9" y="628.2" width="11.7" height="11.7"/><rect x="1215.4" y="624.6" width="11.7" height="11.7"/><rect x="1219.0" y="620.9" width="11.7" height="11.7"/><rect x="1222.8" y="616.9" width="11.7" height="11.7"/><rect x="1226.9" y="612.7" width="11.7" height="11.7"/><rect x="1231.1" y="608.3" width="11.7" height="11.7"/><rect x="1235.6" y="603.6" width="11.7" height="11.7"/><rect x="1240.3" y="598.6" width="11.7" height="11.7"/><rect x="1245.2" y="593.4" width="11.7" height="11.7"/><rect x="1250.4" y="587.9" width="11.7" height="11.7"/><rect x="1255.9" y="582.1" width="11.7" height="11.7"/><rect x="1261.8" y="576.0" width="11.7" height="11.7"/><rect x="1268.0" y="569.5" width="11.7" height="11.7"/><rect x="1274.7" y="562.7" width="11.7" height="11.7"/><rect x="1281.9" y="555.4" width="11.7" height="11.7"/><rect x="1289.6" y="547.8" width="11.7" height="11.7"/><rect x="1297.9" y="539.8" width="11.7" height="11.7"/><rect x="1306.6" y="531.3" width="11.7" height="11.7"/><rect x="1315.7" y="522.4" width="11.7" height="11.7"/><rect x="1324.8" y="512.9" width="11.7" height="11.7"/><rect x="1334.1" y="502.9" width="11.7" height="11.7"/><rect x="1343.9" y="492.4" width="11.7" height="11.7"/><rect x="1356.0" y="481.3" width="11.7" height="11.7"/><rect x="1365.8" y="465.5" width="11.7" height="11.7"/><rect x="1374.2" y="444.0" width="11.7" height="11.7"/><rect x="1381.5" y="416.9" width="11.7" height="11.7"/><rect x="1389.3" y="386.6" width="11.7" height="11.7"/><rect x="1395.0" y="352.8" width="11.7" height="11.7"/><rect x="1399.9" y="315.1" width="11.7" height="11.7"/><rect x="1405.1" y="273.3" width="11.7" height="11.7"/><rect x="1408.7" y="226.9" width="11.7" height="11.7"/><rect x="1414.1" y="175.3" width="11.7" height="11.7"/><rect x="1418.1" y="118.1" width="11.7" height="11.7"/><rect x="1419.3" y="54.5" width="11.7" height="11.7"/></g>
<polyline clip-path="url(#cl3)" fill="none" stroke="#56b4e9" stroke-width="2.2" stroke-linejoin="round" points="1155.8,698.5 1156.1,698.1 1156.4,697.7 1156.6,697.3 1156.9,696.8 1157.3,696.4 1157.7,696.0 1158.1,695.6 1158.5,695.3 1158.9,695.0 1159.3,694.7 1159.8,694.4 1160.2,694.1 1160.4,693.9 1160.8,693.5 1161.5,692.8 1162.6,691.7 1164.0,690.3 1165.6,688.7 1167.6,686.7 1169.7,684.6 1172.0,682.3 1174.4,679.8 1177.0,677.2 1179.6,674.6 1182.2,671.9 1184.9,669.2 1187.5,666.6 1190.0,664.0 1192.4,661.6 1194.7,659.2 1196.8,657.1 1198.9,655.0 1201.0,652.8 1203.1,650.7 1205.2,648.5 1207.3,646.3 1209.4,644.1 1211.5,641.9 1213.7,639.7 1215.8,637.5 1218.0,635.2 1220.2,633.0 1222.3,630.7 1224.5,628.5 1226.8,626.2 1229.0,623.9 1231.3,621.6 1233.5,619.2 1235.6,617.2 1237.6,615.1 1239.6,613.1 1241.6,611.0 1243.7,608.9 1245.7,606.8 1247.7,604.8 1249.8,602.7 1251.9,600.6 1254.0,598.4 1256.1,596.3 1258.2,594.2 1260.3,592.0 1262.5,589.8 1264.6,587.7 1266.8,585.4 1269.0,583.2 1271.2,581.0 1273.5,578.7 1275.8,576.4 1278.1,574.1 1280.4,571.7 1282.8,569.4 1284.7,567.4 1286.7,565.4 1288.8,563.3 1290.9,561.2 1293.1,559.0 1295.3,556.8 1297.6,554.6 1299.9,552.3 1302.2,550.0 1304.6,547.7 1306.9,545.3 1309.3,543.0 1311.7,540.6 1314.1,538.2 1316.6,535.8 1319.0,533.4 1321.4,531.1 1323.7,528.7 1326.1,526.4 1328.5,524.0 1330.8,521.7 1333.1,519.5 1335.3,517.2 1337.6,515.0 1339.7,512.9 1341.8,510.7 1343.9,508.7 1345.9,506.7 1347.9,504.7 1349.7,502.8 1351.5,501.0 1353.2,499.3 1354.9,497.6 1356.4,496.0 1357.9,494.5 1360.8,491.5 1363.4,488.7 1365.7,486.3 1367.9,483.9 1369.9,481.7 1371.9,479.5 1373.9,477.2 1376.0,474.9 1378.1,472.5 1380.1,470.1 1382.1,467.7 1384.1,465.3 1386.0,462.9 1387.9,460.6 1389.8,458.2 1391.5,455.8 1393.4,453.2 1395.1,450.6 1396.9,448.1 1398.5,445.5 1400.1,442.9 1401.7,440.3 1403.2,437.7 1404.8,434.7 1406.4,431.6 1407.8,428.6 1409.3,425.6 1410.7,422.6 1412.3,419.6 1413.8,416.9 1415.4,414.2 1417.0,411.6 1418.6,409.0 1420.1,406.2 1421.5,403.3 1422.7,400.4 1423.8,397.3 1424.8,394.1 1425.8,390.9 1426.7,387.6 1427.6,384.3 1428.6,381.1 1429.5,377.9 1430.5,374.8 1431.4,371.6 1432.3,368.5 1433.3,365.3 1434.1,362.0 1435.0,358.7 1435.7,355.7 1436.4,352.8 1437.1,349.8 1437.8,346.7 1438.4,343.7 1439.1,340.5 1439.7,337.4 1440.4,334.2 1441.0,331.0 1441.6,328.1 1442.1,325.2 1442.7,322.2 1443.3,319.2 1443.8,316.1 1444.4,313.1 1444.9,310.0 1445.4,306.9 1446.0,303.9 1446.5,300.8 1447.0,297.7 1447.5,294.6 1447.9,291.5 1448.4,288.4 1448.8,285.3 1449.2,282.2 1449.7,279.1 1450.1,276.0 1450.5,272.8 1451.0,269.6 1451.4,266.4 1451.9,263.1 1452.3,260.2 1452.8,257.3 1453.2,254.4 1453.7,251.5 1454.2,248.5 1454.6,245.5 1455.1,242.5 1455.6,239.5 1456.1,236.5 1456.5,233.4 1457.0,230.4 1457.5,227.4 1457.9,224.3 1458.4,221.3 1458.8,218.2 1459.2,215.1 1459.7,212.0 1460.1,208.9 1460.6,205.8 1461.0,202.7 1461.4,199.6 1461.8,196.5 1462.2,193.4 1462.6,190.2 1463.0,186.9 1463.4,183.6 1463.7,180.3 1464.1,176.9 1464.3,174.0 1464.6,171.0 1464.8,168.0 1465.0,164.9 1465.2,161.8 1465.3,158.7 1465.5,155.5 1465.7,152.3 1465.8,149.1 1466.0,145.8 1466.1,142.6 1466.3,139.3 1466.4,136.1 1466.6,132.9 1466.8,129.7 1467.0,126.5 1467.2,123.3 1467.4,120.2 1467.7,117.1 1467.9,114.1 1468.3,110.8 1468.7,107.5 1469.1,104.1 1469.5,100.8 1470.0,97.4 1470.5,94.0 1470.9,90.7 1471.4,87.3 1471.9,84.1 1472.4,80.9 1472.9,77.7 1473.3,74.6 1473.7,71.7 1474.1,68.8 1474.4,66.0 1474.7,63.4 1474.9,60.9 1475.2,56.9 1475.4,53.2 1475.5,49.9 1475.6,46.6 1475.6,43.4 1475.7,40.0"/>
<g fill="#fff" stroke="#56b4e9" stroke-width="1.5"><rect x="1150.1" y="692.4" width="11.7" height="11.7"/><rect x="1150.7" y="691.5" width="11.7" height="11.7"/><rect x="1151.3" y="690.6" width="11.7" height="11.7"/><rect x="1152.3" y="689.7" width="11.7" height="11.7"/><rect x="1153.5" y="688.8" width="11.7" height="11.7"/><rect x="1154.7" y="687.9" width="11.7" height="11.7"/><rect x="1155.6" y="687.0" width="11.7" height="11.7"/><rect x="1156.5" y="686.1" width="11.7" height="11.7"/><rect x="1157.4" y="685.2" width="11.7" height="11.7"/><rect x="1158.3" y="684.3" width="11.7" height="11.7"/><rect x="1159.2" y="683.4" width="11.7" height="11.7"/><rect x="1160.1" y="682.5" width="11.7" height="11.7"/><rect x="1161.0" y="681.6" width="11.7" height="11.7"/><rect x="1161.9" y="680.7" width="11.7" height="11.7"/><rect x="1162.8" y="679.8" width="11.7" height="11.7"/><rect x="1163.7" y="678.9" width="11.7" height="11.7"/><rect x="1164.6" y="678.0" width="11.7" height="11.7"/><rect x="1165.4" y="677.1" width="11.7" height="11.7"/><rect x="1166.3" y="676.2" width="11.7" height="11.7"/><rect x="1167.2" y="675.3" width="11.7" height="11.7"/><rect x="1168.2" y="674.3" width="11.7" height="11.7"/><rect x="1169.2" y="673.3" width="11.7" height="11.7"/><rect x="1170.3" y="672.3" width="11.7" height="11.7"/><rect x="1171.4" y="671.1" width="11.7" height="11.7"/><rect x="1172.6" y="669.9" width="11.7" height="11.7"/><rect x="1173.8" y="668.7" width="11.7" height="11.7"/><rect x="1175.1" y="667.3" width="11.7" height="11.7"/><rect x="1176.5" y="665.9" width="11.7" height="11.7"/><rect x="1178.0" y="664.5" width="11.7" height="11.7"/><rect x="1179.5" y="662.9" width="11.7" height="11.7"/><rect x="1181.1" y="661.2" width="11.7" height="11.7"/><rect x="1182.9" y="659.5" width="11.7" height="11.7"/><rect x="1184.7" y="657.7" width="11.7" height="11.7"/><rect x="1186.6" y="655.7" width="11.7" height="11.7"/><rect x="1188.6" y="653.7" width="11.7" height="11.7"/><rect x="1190.7" y="651.5" width="11.7" height="11.7"/><rect x="1192.9" y="649.2" width="11.7" height="11.7"/><rect x="1195.3" y="646.8" width="11.7" height="11.7"/><rect x="1197.7" y="644.3" width="11.7" height="11.7"/><rect x="1200.3" y="641.6" width="11.7" height="11.7"/><rect x="1203.1" y="638.8" width="11.7" height="11.7"/><rect x="1206.0" y="635.8" width="11.7" height="11.7"/><rect x="1209.0" y="632.6" width="11.7" height="11.7"/><rect x="1212.2" y="629.3" width="11.7" height="11.7"/><rect x="1215.6" y="625.8" width="11.7" height="11.7"/><rect x="1219.2" y="622.0" width="11.7" height="11.7"/><rect x="1223.1" y="618.1" width="11.7" height="11.7"/><rect x="1227.1" y="614.0" width="11.7" height="11.7"/><rect x="1231.4" y="609.6" width="11.7" height="11.7"/><rect x="1235.9" y="605.0" width="11.7" height="11.7"/><rect x="1240.7" y="600.2" width="11.7" height="11.7"/><rect x="1245.7" y="595.0" width="11.7" height="11.7"/><rect x="1251.1" y="589.6" width="11.7" height="11.7"/><rect x="1256.7" y="583.9" width="11.7" height="11.7"/><rect x="1262.7" y="577.9" width="11.7" height="11.7"/><rect x="1269.0" y="571.5" width="11.7" height="11.7"/><rect x="1275.7" y="564.8" width="11.7" height="11.7"/><rect x="1282.8" y="557.7" width="11.7" height="11.7"/><rect x="1290.3" y="550.2" width="11.7" height="11.7"/><rect x="1298.3" y="542.3" width="11.7" height="11.7"/><rect x="1306.7" y="533.9" width="11.7" height="11.7"/><rect x="1315.6" y="525.1" width="11.7" height="11.7"/><rect x="1325.0" y="515.8" width="11.7" height="11.7"/><rect x="1334.8" y="506.0" width="11.7" height="11.7"/><rect x="1345.2" y="495.7" width="11.7" height="11.7"/><rect x="1355.8" y="484.7" width="11.7" height="11.7"/><rect x="1366.5" y="473.2" width="11.7" height="11.7"/><rect x="1377.0" y="461.0" width="11.7" height="11.7"/><rect x="1387.8" y="447.0" width="11.7" height="11.7"/><rect x="1398.9" y="429.0" width="11.7" height="11.7"/><rect x="1410.2" y="407.3" width="11.7" height="11.7"/><rect x="1421.1" y="380.8" width="11.7" height="11.7"/><rect x="1430.6" y="346.9" width="11.7" height="11.7"/><rect x="1438.3" y="308.7" width="11.7" height="11.7"/><rect x="1444.8" y="266.2" width="11.7" height="11.7"/><rect x="1452.0" y="218.9" width="11.7" height="11.7"/><rect x="1458.6" y="166.5" width="11.7" height="11.7"/><rect x="1462.1" y="108.3" width="11.7" height="11.7"/></g>
</g>
<rect x="1519.80" y="339.60" width="219.20" height="308.00" fill="none" stroke="#000" stroke-width="2.6"/>
<line x1="1519.80" y1="647.60" x2="1739.00" y2="339.60" stroke="#bebebe" stroke-width="5.0" stroke-dasharray="33.5 21.4" stroke-dashoffset="-5"/>
<path d="M1574.60 647.60v-8M1629.40 647.60v-8M1684.20 647.60v-8M1547.20 647.60v-5M1602.00 647.60v-5M1656.80 647.60v-5M1711.60 647.60v-5M1519.80 570.60h8M1519.80 493.60h8M1519.80 416.60h8M1519.80 609.10h5M1519.80 532.10h5M1519.80 455.10h5M1519.80 378.10h5" stroke="#000" stroke-width="2.4" fill="none"/>
<text font-size="27.5" text-anchor="middle" transform="translate(1519.80 678.50) scale(1.13 1)">130</text>
<text font-size="27.5" text-anchor="middle" transform="translate(1574.60 678.50) scale(1.13 1)">140</text>
<text font-size="27.5" text-anchor="middle" transform="translate(1629.40 678.50) scale(1.13 1)">150</text>
<text font-size="27.5" text-anchor="middle" transform="translate(1684.20 678.50) scale(1.13 1)">160</text>
<text font-size="27.5" text-anchor="middle" transform="translate(1739.00 678.50) scale(1.13 1)">170</text>
<text font-size="27.5" text-anchor="end" transform="translate(1510.00 656.60) scale(1.13 1)">0</text>
<text font-size="27.5" text-anchor="end" transform="translate(1510.00 579.60) scale(1.13 1)">10</text>
<text font-size="27.5" text-anchor="end" transform="translate(1510.00 502.60) scale(1.13 1)">20</text>
<text font-size="27.5" text-anchor="end" transform="translate(1510.00 425.60) scale(1.13 1)">30</text>
<text font-size="27.5" text-anchor="end" transform="translate(1510.00 348.60) scale(1.13 1)">40</text>
<clipPath id="cl4"><rect x="1518.30" y="338.10" width="222.20" height="311.00"/></clipPath>
<g>
<polyline clip-path="url(#cl4)" fill="none" stroke="#000000" stroke-width="1.4" stroke-linejoin="round" points="1574.1,647.6 1575.1,644.4 1576.2,641.2 1577.3,638.1 1578.3,634.9 1579.5,631.7 1580.6,628.4 1581.6,625.5 1582.6,622.6 1583.6,619.6 1584.6,616.6 1585.6,613.7 1586.8,610.8 1588.0,607.9 1589.4,605.2 1591.0,602.5 1592.8,599.8 1594.6,597.3 1596.6,594.8 1598.6,592.4 1600.6,589.9 1602.5,587.5 1604.8,584.9 1607.1,582.4 1609.4,579.9 1611.8,577.4 1614.0,574.9 1616.2,572.1 1618.2,569.5 1620.1,566.6 1621.9,563.7 1623.8,560.8 1625.6,557.8 1627.5,554.9 1629.4,552.1 1631.3,549.5 1633.3,546.9 1635.2,544.4 1637.2,541.9 1639.2,539.4 1641.2,536.9 1643.1,534.4 1645.0,531.9 1646.8,529.4 1648.6,526.9 1650.5,524.4 1652.3,521.9 1654.2,519.3 1656.3,516.7 1658.1,514.3 1660.1,511.9 1662.2,509.4 1664.3,506.8 1666.4,504.3 1668.4,501.8 1670.5,499.3 1672.5,496.8 1674.3,494.4 1676.4,491.7 1678.3,489.0 1680.1,486.3 1682.0,483.7 1683.8,481.1 1685.6,478.5 1687.5,475.9 1689.4,473.3 1691.4,470.8 1693.4,468.3 1695.4,465.8 1697.3,463.3 1699.3,460.8 1701.2,458.2 1703.1,455.4 1705.0,452.7 1706.9,449.9 1708.8,447.0 1710.6,444.1 1712.5,441.2 1714.3,438.2 1715.9,435.5 1717.5,432.8 1719.1,430.0 1720.6,427.1 1722.2,424.2 1723.7,421.4 1725.2,418.7 1726.7,416.0 1728.0,413.5 1729.9,410.5 1731.6,407.9 1733.2,405.3 1735.0,402.2 1736.8,398.1 1737.4,396.6 1738.0,395.0 1738.7,393.3 1739.3,391.4 1740.0,389.5 1740.7,387.5 1741.4,385.4 1742.2,383.2 1742.9,381.0 1743.6,378.6 1744.4,376.2 1745.2,373.7 1746.0,371.1 1746.8,368.5 1747.6,365.7 1748.4,363.0 1749.2,360.1 1750.0,357.2 1750.8,354.3 1751.7,351.2 1752.5,348.2 1753.3,345.1 1754.2,341.9 1755.0,338.7 1755.9,335.5 1756.7,332.2 1757.5,328.9 1758.4,325.5 1759.2,322.1 1760.0,318.7 1760.8,315.3 1761.7,311.8 1762.5,308.3 1763.3,304.8 1764.0,301.3 1764.8,297.8 1765.6,294.3 1766.4,290.8 1767.1,287.2 1767.8,283.7 1768.5,280.1 1769.2,276.6 1769.9,273.1 1770.6,269.6 1771.2,266.1 1771.9,262.6 1772.3,260.1 1772.8,257.6 1773.2,255.1 1773.6,252.5 1774.0,250.0 1774.4,247.4 1774.8,244.8 1775.2,242.1 1775.6,239.5 1776.0,236.8 1776.4,234.1 1776.8,231.4 1777.2,228.7 1777.5,225.9 1777.9,223.1 1778.2,220.4 1778.6,217.5 1779.0,214.7 1779.3,211.9 1779.6,209.0 1780.0,206.2 1780.3,203.3 1780.6,200.4 1781.0,197.5 1781.3,194.6 1781.6,191.6 1781.9,188.7 1782.2,185.7 1782.6,182.7 1782.9,179.7 1783.2,176.7 1783.5,173.7 1783.8,170.7 1784.1,167.7 1784.3,164.6 1784.6,161.6 1784.9,158.5 1785.2,155.5 1785.5,152.4 1785.8,149.3 1786.0,146.2 1786.3,143.1 1786.6,140.0 1786.9,136.9 1787.1,133.7 1787.4,130.6 1787.7,127.5 1787.9,124.3 1788.2,121.2 1788.5,118.0 1788.7,114.9 1789.0,111.7 1789.3,108.6 1789.5,105.4 1789.8,102.3 1790.0,99.1 1790.3,95.9 1790.6,92.8 1790.8,89.6 1791.1,86.4 1791.3,83.3 1791.6,80.1 1791.8,76.9 1792.1,73.8 1792.4,70.6 1792.6,67.4 1792.9,64.3 1793.1,61.1 1793.4,57.9 1793.7,54.8 1793.9,51.7 1794.2,48.5 1794.5,45.4 1794.7,42.2 1795.0,39.1 1795.3,36.0 1795.5,32.9 1795.8,29.8 1796.1,26.7 1796.4,23.6 1796.7,20.5 1796.9,17.4 1797.2,14.3 1797.5,11.3 1797.8,8.2 1798.1,5.2 1798.4,2.1 1798.7,-0.9 1799.0,-3.9 1799.3,-6.9"/>
<g fill="#fff" stroke="#000000" stroke-width="1.3"><circle cx="1574.1" cy="647.5" r="4.35"/><circle cx="1574.5" cy="646.3" r="4.35"/><circle cx="1574.9" cy="645.1" r="4.35"/><circle cx="1575.3" cy="643.9" r="4.35"/><circle cx="1575.7" cy="642.7" r="4.35"/><circle cx="1576.1" cy="641.5" r="4.35"/><circle cx="1576.5" cy="640.3" r="4.35"/><circle cx="1576.9" cy="639.1" r="4.35"/><circle cx="1577.3" cy="637.9" r="4.35"/><circle cx="1577.7" cy="636.7" r="4.35"/><circle cx="1578.1" cy="635.5" r="4.35"/><circle cx="1578.5" cy="634.3" r="4.35"/><circle cx="1579.0" cy="632.9" r="4.35"/><circle cx="1579.5" cy="631.4" r="4.35"/><circle cx="1580.1" cy="629.8" r="4.35"/><circle cx="1580.7" cy="628.0" r="4.35"/><circle cx="1581.4" cy="626.1" r="4.35"/><circle cx="1582.2" cy="623.8" r="4.35"/><circle cx="1583.0" cy="621.4" r="4.35"/><circle cx="1583.9" cy="618.7" r="4.35"/><circle cx="1584.9" cy="615.8" r="4.35"/><circle cx="1586.1" cy="612.6" r="4.35"/><circle cx="1587.4" cy="609.3" r="4.35"/><circle cx="1589.0" cy="606.0" r="4.35"/><circle cx="1590.9" cy="602.8" r="4.35"/><circle cx="1592.9" cy="599.6" r="4.35"/><circle cx="1595.2" cy="596.6" r="4.35"/><circle cx="1597.5" cy="593.6" r="4.35"/><circle cx="1600.1" cy="590.6" r="4.35"/><circle cx="1602.7" cy="587.3" r="4.35"/><circle cx="1605.6" cy="584.0" r="4.35"/><circle cx="1608.9" cy="580.5" r="4.35"/><circle cx="1612.4" cy="576.7" r="4.35"/><circle cx="1615.8" cy="572.7" r="4.35"/><circle cx="1619.2" cy="567.9" r="4.35"/><circle cx="1622.9" cy="562.2" r="4.35"/><circle cx="1626.8" cy="556.0" r="4.35"/><circle cx="1631.0" cy="549.9" r="4.35"/><circle cx="1635.6" cy="544.0" r="4.35"/><circle cx="1640.4" cy="537.8" r="4.35"/><circle cx="1645.6" cy="531.1" r="4.35"/><circle cx="1651.0" cy="523.7" r="4.35"/><circle cx="1656.8" cy="516.0" r="4.35"/><circle cx="1662.9" cy="508.5" r="4.35"/><circle cx="1669.4" cy="500.6" r="4.35"/><circle cx="1676.3" cy="491.8" r="4.35"/><circle cx="1683.5" cy="481.5" r="4.35"/><circle cx="1691.3" cy="471.0" r="4.35"/><circle cx="1699.5" cy="460.5" r="4.35"/><circle cx="1708.2" cy="448.0" r="4.35"/><circle cx="1717.2" cy="433.3" r="4.35"/><circle cx="1726.6" cy="416.1" r="4.35"/><circle cx="1736.8" cy="398.1" r="4.35"/></g>
<polyline clip-path="url(#cl4)" fill="none" stroke="#000000" stroke-width="1.4" stroke-linejoin="round" points="1576.2,647.6 1577.8,644.8 1579.4,641.9 1580.9,638.9 1582.4,636.0 1584.0,633.0 1585.5,630.1 1587.1,627.2 1588.7,624.4 1590.3,621.8 1592.0,619.2 1593.8,616.8 1595.9,614.3 1598.1,612.1 1600.3,610.1 1602.6,608.2 1604.9,606.2 1607.2,604.1 1609.6,601.8 1611.9,599.1 1613.4,597.0 1615.0,594.7 1616.5,592.3 1618.1,589.7 1619.6,587.0 1621.2,584.2 1622.7,581.3 1624.3,578.4 1625.9,575.4 1627.4,572.5 1629.0,569.6 1630.6,566.7 1632.2,564.0 1633.8,561.4 1635.4,558.9 1637.1,556.6 1638.7,554.4 1641.1,551.7 1643.5,549.2 1645.9,547.0 1648.4,544.9 1650.9,542.9 1653.3,540.9 1655.8,538.8 1658.2,536.7 1660.6,534.4 1662.7,532.3 1664.8,530.1 1666.9,527.9 1669.0,525.6 1671.0,523.3 1673.1,521.0 1675.2,518.7 1677.2,516.4 1679.2,514.1 1681.2,511.9 1683.1,509.8 1685.5,507.2 1687.8,504.6 1690.0,502.0 1692.3,499.5 1694.5,497.0 1696.7,494.6 1698.9,492.2 1701.2,489.8 1703.4,487.5 1705.6,485.3 1707.8,483.1 1710.1,481.0 1712.3,478.8 1714.5,476.6 1716.6,474.4 1718.7,472.0 1720.8,469.6 1722.8,467.2 1724.7,464.7 1726.6,462.2 1728.5,459.6 1730.5,456.8 1732.5,453.8 1734.6,450.5 1736.0,448.4 1737.3,446.3 1738.8,444.1 1740.2,441.9 1741.7,439.6 1743.3,437.3 1744.8,434.9 1746.4,432.4 1748.0,429.9 1749.6,427.3 1751.2,424.6 1752.8,421.9 1754.4,419.1 1756.0,416.2 1757.5,413.2 1759.1,410.1 1760.6,407.0 1762.1,403.8 1763.6,400.4 1765.0,397.0 1766.4,393.5 1767.2,391.3 1768.0,389.1 1768.8,386.8 1769.6,384.5 1770.4,382.1 1771.1,379.7 1771.9,377.2 1772.7,374.6 1773.4,372.1 1774.1,369.4 1774.9,366.8 1775.6,364.1 1776.3,361.3 1777.0,358.5 1777.7,355.7 1778.4,352.8 1779.1,349.9 1779.8,347.0 1780.4,344.1 1781.1,341.1 1781.8,338.1 1782.4,335.0 1783.1,331.9 1783.7,328.9 1784.4,325.8 1785.0,322.6 1785.7,319.5 1786.3,316.3 1786.9,313.1 1787.6,309.9 1788.2,306.7 1788.8,303.5 1789.5,300.3 1790.1,297.1 1790.7,293.8 1791.3,290.6 1792.0,287.3 1792.6,284.1 1793.2,280.8 1793.8,277.6 1794.5,274.3 1795.1,271.1 1795.7,267.9 1796.3,264.6 1797.0,261.4 1797.6,258.2 1798.2,255.0 1798.9,251.8 1799.5,248.7 1800.2,245.5 1800.8,242.4 1801.5,239.3 1802.1,236.2 1802.8,233.1 1803.4,230.1 1804.1,227.1 1804.8,224.1"/>
<g fill="#fff" stroke="#000000" stroke-width="1.3"><circle cx="1576.6" cy="647.0" r="4.35"/><circle cx="1577.3" cy="645.8" r="4.35"/><circle cx="1577.9" cy="644.6" r="4.35"/><circle cx="1578.6" cy="643.4" r="4.35"/><circle cx="1579.2" cy="642.2" r="4.35"/><circle cx="1579.8" cy="641.0" r="4.35"/><circle cx="1580.5" cy="639.8" r="4.35"/><circle cx="1581.1" cy="638.6" r="4.35"/><circle cx="1581.7" cy="637.4" r="4.35"/><circle cx="1582.3" cy="636.2" r="4.35"/><circle cx="1582.9" cy="635.0" r="4.35"/><circle cx="1583.6" cy="633.8" r="4.35"/><circle cx="1584.2" cy="632.6" r="4.35"/><circle cx="1584.9" cy="631.3" r="4.35"/><circle cx="1585.6" cy="630.0" r="4.35"/><circle cx="1586.3" cy="628.6" r="4.35"/><circle cx="1587.2" cy="627.1" r="4.35"/><circle cx="1588.1" cy="625.5" r="4.35"/><circle cx="1589.1" cy="623.8" r="4.35"/><circle cx="1590.1" cy="622.1" r="4.35"/><circle cx="1591.3" cy="620.3" r="4.35"/><circle cx="1592.6" cy="618.4" r="4.35"/><circle cx="1593.9" cy="616.6" r="4.35"/><circle cx="1595.4" cy="614.9" r="4.35"/><circle cx="1597.1" cy="613.1" r="4.35"/><circle cx="1599.1" cy="611.2" r="4.35"/><circle cx="1601.4" cy="609.1" r="4.35"/><circle cx="1604.0" cy="607.0" r="4.35"/><circle cx="1606.5" cy="604.7" r="4.35"/><circle cx="1609.0" cy="602.4" r="4.35"/><circle cx="1611.2" cy="599.9" r="4.35"/><circle cx="1613.4" cy="597.0" r="4.35"/><circle cx="1615.8" cy="593.5" r="4.35"/><circle cx="1618.2" cy="589.4" r="4.35"/><circle cx="1620.8" cy="584.8" r="4.35"/><circle cx="1623.5" cy="579.8" r="4.35"/><circle cx="1626.5" cy="574.2" r="4.35"/><circle cx="1629.7" cy="568.4" r="4.35"/><circle cx="1633.2" cy="562.3" r="4.35"/><circle cx="1637.2" cy="556.4" r="4.35"/><circle cx="1641.6" cy="551.2" r="4.35"/><circle cx="1647.3" cy="545.8" r="4.35"/><circle cx="1654.1" cy="540.2" r="4.35"/><circle cx="1660.8" cy="534.2" r="4.35"/><circle cx="1666.8" cy="528.0" r="4.35"/><circle cx="1672.8" cy="521.3" r="4.35"/><circle cx="1679.0" cy="514.3" r="4.35"/><circle cx="1685.7" cy="506.9" r="4.35"/><circle cx="1692.6" cy="499.1" r="4.35"/><circle cx="1700.1" cy="490.9" r="4.35"/><circle cx="1708.8" cy="482.2" r="4.35"/><circle cx="1717.9" cy="473.0" r="4.35"/><circle cx="1726.1" cy="462.9" r="4.35"/><circle cx="1734.6" cy="450.5" r="4.35"/></g>
<polyline clip-path="url(#cl4)" fill="none" stroke="#0000ff" stroke-width="1.4" stroke-linejoin="round" points="1650.8,647.6 1651.2,644.6 1651.5,641.6 1651.8,638.5 1652.2,635.5 1652.5,632.5 1653.0,629.5 1653.5,626.6 1654.1,623.7 1654.8,620.8 1655.6,617.9 1656.4,615.0 1657.4,612.2 1658.4,609.4 1659.5,606.6 1660.6,603.7 1661.8,600.9 1663.1,598.1 1664.5,595.3 1666.0,592.5 1667.5,589.6 1669.0,586.8 1670.6,584.1 1672.1,581.4 1673.9,578.4 1675.7,575.5 1677.5,572.6 1679.4,569.7 1681.3,566.9 1683.3,564.1 1685.3,561.4 1687.2,559.0 1689.1,556.6 1691.0,554.2 1693.1,551.9 1695.1,549.6 1697.1,547.3 1699.2,545.1 1701.2,542.9 1703.3,540.6 1705.5,538.3 1707.6,536.1 1709.7,534.0 1711.9,531.8 1714.2,529.7 1716.5,527.5 1718.7,525.6 1720.8,524.0 1722.9,522.5 1725.0,521.0 1727.4,519.2 1730.1,517.0 1733.2,514.2 1736.8,510.5 1737.9,509.4 1739.0,508.2 1740.2,506.9 1741.4,505.6 1742.7,504.2 1744.0,502.7 1745.4,501.2 1746.8,499.5 1748.3,497.9 1749.8,496.1 1751.3,494.3 1752.9,492.5 1754.6,490.5 1756.3,488.6 1758.0,486.5 1759.8,484.4 1761.6,482.2 1763.5,480.0 1765.4,477.7 1767.4,475.3 1769.3,472.9 1771.4,470.5 1773.5,467.9 1775.6,465.4 1777.7,462.7 1780.0,460.0 1782.2,457.3 1784.5,454.5 1786.8,451.6 1789.2,448.7 1791.6,445.7 1794.0,442.7 1796.5,439.6 1799.0,436.5 1801.5,433.3 1804.1,430.0 1806.7,426.7 1809.4,423.4 1812.1,420.0 1814.8,416.6 1817.6,413.1 1820.4,409.6 1823.2,406.0 1826.1,402.4 1829.0,398.7 1831.9,394.9 1834.9,391.2 1837.9,387.4 1840.9,383.5 1844.0,379.6 1847.1,375.6 1850.2,371.7 1853.4,367.6 1856.6,363.5 1859.8,359.4 1863.0,355.2 1866.3,351.0 1869.6,346.8 1873.0,342.5 1876.3,338.2 1879.7,333.8 1883.1,329.4 1886.6,325.0 1890.0,320.5 1893.5,316.0 1897.1,311.4 1900.6,306.8 1904.2,302.2 1907.8,297.5 1911.4,292.8 1915.0,288.1 1918.7,283.3 1922.4,278.6 1926.1,273.7 1929.8,268.9 1933.6,264.0 1937.4,259.0 1941.2,254.1 1945.0,249.1 1948.9,244.1 1952.7,239.0 1956.6,233.9 1960.5,228.8 1964.4,223.7 1968.4,218.5 1972.3,213.4 1976.3,208.1 1980.3,202.9 1984.3,197.6 1988.4,192.4 1992.4,187.0 1996.5,181.7 2000.5,176.3 2004.6,170.9 2008.7,165.5 2012.9,160.1 2017.0,154.7 2021.2,149.2 2025.3,143.7 2029.5,138.2 2033.7,132.6 2037.9,127.1 2042.1,121.5 2046.3,115.9 2050.6,110.3 2054.8,104.7 2059.1,99.1 2063.4,93.4 2067.7,87.7 2072.0,82.0 2076.3,76.3 2080.6,70.6 2084.9,64.9 2089.2,59.1 2093.5,53.4 2097.9,47.6 2102.2,41.8 2106.6,36.1 2111.0,30.2 2115.3,24.4 2119.7,18.6 2124.1,12.8 2128.5,6.9 2132.8,1.1 2137.2,-4.8 2141.6,-10.6 2146.0,-16.5 2150.4,-22.4 2154.8,-28.3 2159.2,-34.1 2163.7,-40.0 2168.1,-45.9 2172.5,-51.8 2176.9,-57.7 2181.3,-63.7 2185.7,-69.6 2190.1,-75.5 2194.5,-81.4 2199.0,-87.3 2203.4,-93.2 2207.8,-99.1 2212.2,-105.1 2216.6,-111.0 2221.0,-116.9 2225.4,-122.8 2229.8,-128.7 2234.2,-134.6 2238.5,-140.5 2242.9,-146.4 2247.3,-152.3 2251.7,-158.2 2256.0,-164.1 2260.4,-169.9 2264.7,-175.8 2269.1,-181.7 2273.4,-187.5 2277.7,-193.4 2282.1,-199.2 2286.4,-205.0 2290.7,-210.9 2295.0,-216.7 2299.3,-222.5 2303.5,-228.3 2307.8,-234.1 2312.1,-239.8 2316.3,-245.6 2320.5,-251.3 2324.8,-257.0 2329.0,-262.8 2333.2,-268.5 2337.3,-274.1 2341.5,-279.8 2345.7,-285.5 2349.8,-291.1 2353.9,-296.7 2358.0,-302.3 2362.1,-307.9 2366.2,-313.5 2370.3,-319.0 2374.3,-324.6 2378.4,-330.1 2382.4,-335.6 2386.4,-341.0 2390.4,-346.5 2394.3,-351.9 2398.3,-357.3 2402.2,-362.7 2406.1,-368.1 2410.0,-373.4 2413.9,-378.7 2417.7,-384.0 2421.6,-389.3 2425.4,-394.5 2429.2,-399.7 2432.9,-404.9 2436.7,-410.1 2440.4,-415.2 2444.1,-420.3 2447.7,-425.4 2451.4,-430.4 2455.4,-436.0 2459.5,-441.6 2463.5,-447.1 2467.5,-452.7 2471.6,-458.3 2475.6,-464.0 2479.6,-469.6 2483.7,-475.2 2487.7,-480.8 2491.8,-486.5 2495.8,-492.1 2499.9,-497.8 2503.9,-503.5 2508.0,-509.1 2512.0,-514.8 2516.1,-520.5 2520.1,-526.2 2524.2,-531.9 2528.2,-537.6 2532.3,-543.3 2536.4,-549.0 2540.4,-554.8 2544.5,-560.5 2548.5,-566.2 2552.6,-572.0 2556.7,-577.7 2560.7,-583.5 2564.8,-589.3 2568.9,-595.0 2573.0,-600.8 2577.0,-606.6 2581.1,-612.4 2585.2,-618.2 2589.3,-624.0 2593.3,-629.8 2597.4,-635.6 2601.5,-641.4 2605.6,-647.2 2609.7,-653.1 2613.7,-658.9 2617.8,-664.8 2621.9,-670.6 2626.0,-676.5 2630.1,-682.3 2634.2,-688.2 2638.3,-694.1 2642.4,-699.9 2646.5,-705.8 2650.5,-711.7 2654.6,-717.6 2658.7,-723.5 2662.8,-729.4 2666.9,-735.3 2671.0,-741.2 2675.1,-747.1 2679.2,-753.0 2683.3,-759.0 2687.4,-764.9 2691.5,-770.8 2695.6,-776.8 2699.7,-782.7 2703.8,-788.6 2708.0,-794.6 2712.1,-800.5 2716.2,-806.5 2720.3,-812.5 2724.4,-818.4 2728.5,-824.4 2732.6,-830.4 2736.7,-836.4 2740.8,-842.3 2744.9,-848.3 2749.1,-854.3 2753.2,-860.3 2757.3,-866.3 2761.4,-872.3 2765.5,-878.3 2769.6,-884.3 2773.8,-890.3 2777.9,-896.3 2782.0,-902.4 2786.1,-908.4 2790.2,-914.4 2794.4,-920.4 2798.5,-926.5 2802.6,-932.5 2806.7,-938.5 2810.9,-944.6 2815.0,-950.6 2819.1,-956.6 2823.2,-962.7 2827.4,-968.7 2831.5,-974.8 2835.6,-980.8 2839.7,-986.9 2843.9,-993.0 2848.0,-999.0 2852.1,-1005.1 2856.3,-1011.1 2860.4,-1017.2 2864.5,-1023.3 2868.7,-1029.3 2872.8,-1035.4 2876.9,-1041.5 2881.0,-1047.6 2885.2,-1053.6 2889.3,-1059.7 2893.4,-1065.8 2897.6,-1071.9 2901.7,-1078.0 2905.8,-1084.0 2910.0,-1090.1 2914.1,-1096.2 2918.2,-1102.3 2922.4,-1108.4 2926.5,-1114.5 2930.7,-1120.6 2934.8,-1126.7 2938.9,-1132.8 2943.1,-1138.9 2947.2,-1145.0 2951.3,-1151.1 2955.5,-1157.1 2959.6,-1163.2 2963.7,-1169.3 2967.9,-1175.4 2972.0,-1181.5 2976.1,-1187.6 2980.3,-1193.7 2984.4,-1199.8 2988.6,-1205.9 2992.7,-1212.0 2996.8,-1218.1 3001.0,-1224.2 3005.1,-1230.3 3009.2,-1236.4 3013.4,-1242.5 3017.5,-1248.6 3021.7,-1254.7 3025.8,-1260.8 3029.9,-1266.9 3034.1,-1273.0 3038.2,-1279.1 3042.3,-1285.2 3046.5,-1291.3 3050.6,-1297.4 3054.7,-1303.5 3058.9,-1309.6 3063.0,-1315.7 3067.1,-1321.8 3071.3,-1327.9 3075.4,-1334.0 3079.6,-1340.1 3083.7,-1346.2 3087.8,-1352.2 3092.0,-1358.3 3096.1,-1364.4 3100.2,-1370.5 3104.4,-1376.6 3108.5,-1382.7 3112.6,-1388.7 3116.7,-1394.8 3120.9,-1400.9 3125.0,-1407.0 3129.1,-1413.0 3133.3,-1419.1 3137.4,-1425.2 3141.5,-1431.2 3145.7,-1437.3 3149.8,-1443.4 3153.9,-1449.4 3158.0,-1455.5 3162.2,-1461.5 3166.3,-1467.6 3170.4,-1473.6 3174.6,-1479.7 3178.7,-1485.7 3182.8,-1491.8 3186.9,-1497.8 3191.1,-1503.8 3195.2,-1509.9 3199.3,-1515.9 3203.4,-1521.9 3207.5,-1528.0 3211.7,-1534.0 3215.8,-1540.0 3219.9,-1546.0 3224.0,-1552.0 3228.1,-1558.0 3232.3,-1564.0 3236.4,-1570.0 3240.5,-1576.0 3244.6,-1582.0 3248.7,-1588.0 3252.8,-1594.0 3257.0,-1600.0 3261.1,-1606.0 3265.2,-1612.0 3269.3,-1617.9 3273.4,-1623.9"/>
<g fill="#fff" stroke="#0000ff" stroke-width="1.4"><rect x="1646.5" y="643.3" width="8.6" height="8.6"/><rect x="1646.6" y="642.1" width="8.6" height="8.6"/><rect x="1646.8" y="640.9" width="8.6" height="8.6"/><rect x="1646.9" y="639.7" width="8.6" height="8.6"/><rect x="1647.1" y="638.5" width="8.6" height="8.6"/><rect x="1647.2" y="637.3" width="8.6" height="8.6"/><rect x="1647.3" y="636.1" width="8.6" height="8.6"/><rect x="1647.5" y="634.9" width="8.6" height="8.6"/><rect x="1647.6" y="633.7" width="8.6" height="8.6"/><rect x="1647.7" y="632.5" width="8.6" height="8.6"/><rect x="1647.9" y="631.3" width="8.6" height="8.6"/><rect x="1648.0" y="630.0" width="8.6" height="8.6"/><rect x="1648.2" y="628.5" width="8.6" height="8.6"/><rect x="1648.4" y="626.8" width="8.6" height="8.6"/><rect x="1648.7" y="625.0" width="8.6" height="8.6"/><rect x="1649.0" y="623.0" width="8.6" height="8.6"/><rect x="1649.5" y="620.7" width="8.6" height="8.6"/><rect x="1650.1" y="618.2" width="8.6" height="8.6"/><rect x="1650.8" y="615.5" width="8.6" height="8.6"/><rect x="1651.6" y="612.5" width="8.6" height="8.6"/><rect x="1652.6" y="609.2" width="8.6" height="8.6"/><rect x="1653.8" y="605.8" width="8.6" height="8.6"/><rect x="1655.2" y="602.1" width="8.6" height="8.6"/><rect x="1656.8" y="598.2" width="8.6" height="8.6"/><rect x="1658.7" y="594.2" width="8.6" height="8.6"/><rect x="1660.7" y="590.0" width="8.6" height="8.6"/><rect x="1663.0" y="585.6" width="8.6" height="8.6"/><rect x="1665.6" y="581.0" width="8.6" height="8.6"/><rect x="1668.4" y="576.2" width="8.6" height="8.6"/><rect x="1671.4" y="571.2" width="8.6" height="8.6"/><rect x="1674.7" y="566.0" width="8.6" height="8.6"/><rect x="1678.3" y="560.8" width="8.6" height="8.6"/><rect x="1682.1" y="555.6" width="8.6" height="8.6"/><rect x="1686.2" y="550.5" width="8.6" height="8.6"/><rect x="1690.7" y="545.4" width="8.6" height="8.6"/><rect x="1695.6" y="540.0" width="8.6" height="8.6"/><rect x="1701.0" y="534.2" width="8.6" height="8.6"/><rect x="1707.0" y="528.2" width="8.6" height="8.6"/><rect x="1713.9" y="521.8" width="8.6" height="8.6"/><rect x="1723.0" y="515.0" width="8.6" height="8.6"/><rect x="1730.8" y="507.9" width="8.6" height="8.6"/></g>
<polyline clip-path="url(#cl4)" fill="none" stroke="#0000ff" stroke-width="1.4" stroke-linejoin="round" points="1666.7,647.6 1667.0,644.3 1667.3,641.0 1667.6,637.7 1667.9,634.3 1668.3,631.0 1668.7,627.8 1669.3,624.6 1670.0,621.4 1670.9,618.1 1672.0,614.8 1673.2,611.6 1674.5,608.4 1675.9,605.3 1677.3,602.2 1678.7,599.1 1680.1,596.1 1681.6,593.2 1683.1,590.3 1684.7,587.4 1686.3,584.6 1687.9,581.8 1689.7,579.1 1691.5,576.4 1693.4,573.9 1695.3,571.3 1697.3,568.8 1699.3,566.4 1701.3,563.9 1703.4,561.4 1705.2,559.1 1707.1,556.7 1709.0,554.4 1710.9,552.1 1712.9,549.8 1714.8,547.5 1716.8,545.2 1718.7,542.9 1720.8,540.6 1722.6,538.6 1724.4,536.7 1726.3,534.7 1728.5,532.3 1731.2,529.2 1734.6,525.2 1735.6,524.0 1736.6,522.8 1737.7,521.5 1738.8,520.2 1739.9,518.8 1741.2,517.3 1742.4,515.8 1743.7,514.2 1745.1,512.5 1746.5,510.8 1748.0,509.0 1749.5,507.2 1751.1,505.3 1752.7,503.3 1754.3,501.3 1756.0,499.2 1757.8,497.1 1759.6,494.9 1761.4,492.6 1763.3,490.3 1765.2,488.0 1767.2,485.5 1769.2,483.1 1771.3,480.5 1773.4,477.9 1775.5,475.3 1777.7,472.6 1779.9,469.9 1782.2,467.1 1784.5,464.2 1786.9,461.3 1789.3,458.3 1791.7,455.3 1794.2,452.3 1796.7,449.2 1799.3,446.0 1801.8,442.8 1804.5,439.5 1807.1,436.2 1809.8,432.9 1812.6,429.5 1815.4,426.1 1818.2,422.6 1821.0,419.0 1823.9,415.4 1826.8,411.8 1829.8,408.1 1832.8,404.4 1835.8,400.7 1838.9,396.9 1841.9,393.0 1845.1,389.1 1848.2,385.2 1851.4,381.3 1854.6,377.2 1857.9,373.2 1861.2,369.1 1864.5,365.0 1867.8,360.8 1871.2,356.6 1874.6,352.4 1878.0,348.1 1881.4,343.8 1884.9,339.4 1888.4,335.0 1892.0,330.6 1895.5,326.1 1899.1,321.6 1902.7,317.1 1906.4,312.6 1910.1,308.0 1913.7,303.3 1917.5,298.7 1921.2,294.0 1925.0,289.3 1928.8,284.5 1932.6,279.7 1936.4,274.9 1940.2,270.1 1944.1,265.2 1948.0,260.3 1951.9,255.4 1955.9,250.4 1959.8,245.4 1963.8,240.4 1967.8,235.4 1971.8,230.3 1975.9,225.2 1979.9,220.1 1984.0,215.0 1988.1,209.8 1992.2,204.6 1996.3,199.4 2000.4,194.2 2004.6,189.0 2008.8,183.7 2013.0,178.4 2017.2,173.1 2021.4,167.7 2025.6,162.4 2029.8,157.0 2034.1,151.6 2038.4,146.2 2042.6,140.8 2046.9,135.4 2051.2,129.9 2055.5,124.4 2059.9,118.9 2064.2,113.4 2068.6,107.9 2072.9,102.4 2077.3,96.8 2081.6,91.2 2086.0,85.7 2090.4,80.1 2094.8,74.5 2099.2,68.8 2103.6,63.2 2108.0,57.6 2112.5,51.9 2116.9,46.3 2121.3,40.6 2125.8,34.9 2130.2,29.2 2134.7,23.6 2139.1,17.9 2143.6,12.2 2148.0,6.4 2152.5,0.7 2156.9,-5.0 2161.4,-10.7 2165.9,-16.5 2170.3,-22.2 2174.8,-28.0 2179.3,-33.7 2183.7,-39.4 2188.2,-45.2 2192.7,-50.9 2197.1,-56.7 2201.6,-62.5 2206.1,-68.2 2210.5,-74.0 2215.0,-79.7 2219.4,-85.5 2223.9,-91.2 2228.3,-97.0 2232.8,-102.7 2237.2,-108.5 2241.6,-114.2 2246.0,-120.0 2250.5,-125.7 2254.9,-131.4 2259.3,-137.2 2263.7,-142.9 2268.1,-148.6 2272.4,-154.3 2276.8,-160.0 2281.2,-165.7 2285.5,-171.4 2289.9,-177.0 2294.2,-182.7 2298.5,-188.4 2302.9,-194.0 2307.2,-199.7 2311.5,-205.3 2315.7,-210.9 2320.0,-216.5 2324.3,-222.1 2328.5,-227.7 2332.7,-233.3 2336.9,-238.8 2341.1,-244.3 2345.3,-249.9 2349.5,-255.4 2353.7,-260.9 2357.8,-266.4 2361.9,-271.8 2366.0,-277.3 2370.1,-282.7 2374.2,-288.1 2378.2,-293.5 2382.3,-298.9 2386.3,-304.2 2390.3,-309.6 2394.3,-314.9 2398.2,-320.2 2402.2,-325.5 2406.1,-330.7 2410.0,-335.9 2413.9,-341.1 2417.7,-346.3 2421.6,-351.5 2425.4,-356.6 2429.2,-361.7 2432.9,-366.8 2436.7,-371.9 2440.4,-376.9 2444.1,-382.0 2447.8,-386.9 2451.4,-391.9 2455.5,-397.4 2459.5,-403.0 2463.6,-408.5 2467.6,-414.0 2471.7,-419.6 2475.7,-425.2 2479.8,-430.7 2483.8,-436.3 2487.9,-441.9 2492.0,-447.5 2496.0,-453.1 2500.1,-458.8 2504.2,-464.4 2508.2,-470.0 2512.3,-475.7 2516.4,-481.3 2520.4,-487.0 2524.5,-492.6 2528.6,-498.3 2532.7,-504.0 2536.7,-509.7 2540.8,-515.4 2544.9,-521.1 2549.0,-526.8 2553.0,-532.5 2557.1,-538.2 2561.2,-544.0 2565.3,-549.7 2569.3,-555.4 2573.4,-561.2 2577.5,-567.0 2581.6,-572.7 2585.7,-578.5 2589.8,-584.3 2593.9,-590.1 2597.9,-595.9 2602.0,-601.7 2606.1,-607.5 2610.2,-613.3 2614.3,-619.1 2618.4,-624.9 2622.5,-630.8 2626.6,-636.6 2630.7,-642.5 2634.8,-648.3 2638.9,-654.2 2643.0,-660.0 2647.1,-665.9 2651.2,-671.8 2655.3,-677.7 2659.4,-683.5 2663.5,-689.4 2667.6,-695.3 2671.7,-701.2 2675.8,-707.1 2679.9,-713.1 2684.0,-719.0 2688.1,-724.9 2692.2,-730.8 2696.3,-736.8 2700.4,-742.7 2704.5,-748.6 2708.6,-754.6 2712.7,-760.5 2716.8,-766.5 2720.9,-772.5 2725.0,-778.4 2729.1,-784.4 2733.3,-790.4 2737.4,-796.4 2741.5,-802.3 2745.6,-808.3 2749.7,-814.3 2753.8,-820.3 2757.9,-826.3 2762.0,-832.3 2766.2,-838.3 2770.3,-844.3 2774.4,-850.4 2778.5,-856.4 2782.6,-862.4 2786.7,-868.4 2790.9,-874.5 2795.0,-880.5 2799.1,-886.5 2803.2,-892.6 2807.3,-898.6 2811.5,-904.7 2815.6,-910.7 2819.7,-916.8 2823.8,-922.8 2827.9,-928.9 2832.1,-934.9 2836.2,-941.0 2840.3,-947.1 2844.4,-953.1 2848.6,-959.2 2852.7,-965.3 2856.8,-971.4 2860.9,-977.4 2865.1,-983.5 2869.2,-989.6 2873.3,-995.7 2877.4,-1001.8 2881.6,-1007.9 2885.7,-1013.9 2889.8,-1020.0 2893.9,-1026.1 2898.1,-1032.2 2902.2,-1038.3 2906.3,-1044.4 2910.5,-1050.5 2914.6,-1056.6 2918.7,-1062.7 2922.8,-1068.8 2927.0,-1074.9 2931.1,-1081.1 2935.2,-1087.2 2939.3,-1093.3 2943.5,-1099.4 2947.6,-1105.5 2951.7,-1111.6 2955.9,-1117.7 2960.0,-1123.8 2964.1,-1129.9 2968.3,-1136.1 2972.4,-1142.2 2976.5,-1148.3 2980.6,-1154.4 2984.8,-1160.5 2988.9,-1166.6 2993.0,-1172.8 2997.2,-1178.9 3001.3,-1185.0 3005.4,-1191.1 3009.5,-1197.2 3013.7,-1203.3 3017.8,-1209.5 3021.9,-1215.6 3026.1,-1221.7 3030.2,-1227.8 3034.3,-1233.9 3038.5,-1240.0 3042.6,-1246.2 3046.7,-1252.3 3050.8,-1258.4 3055.0,-1264.5 3059.1,-1270.6 3063.2,-1276.7 3067.4,-1282.8 3071.5,-1288.9 3075.6,-1295.0 3079.7,-1301.1 3083.9,-1307.2 3088.0,-1313.3 3092.1,-1319.4 3096.2,-1325.5 3100.4,-1331.6 3104.5,-1337.7 3108.6,-1343.8 3112.8,-1349.9 3116.9,-1356.0 3121.0,-1362.1 3125.1,-1368.2 3129.3,-1374.3 3133.4,-1380.4 3137.5,-1386.4 3141.6,-1392.5 3145.8,-1398.6 3149.9,-1404.7 3154.0,-1410.7 3158.1,-1416.8 3162.2,-1422.9 3166.4,-1428.9 3170.5,-1435.0 3174.6,-1441.0 3178.7,-1447.1 3182.9,-1453.1 3187.0,-1459.2 3191.1,-1465.2 3195.2,-1471.3 3199.3,-1477.3 3203.5,-1483.4 3207.6,-1489.4 3211.7,-1495.4 3215.8,-1501.4 3219.9,-1507.5 3224.0,-1513.5 3228.2,-1519.5 3232.3,-1525.5 3236.4,-1531.5 3240.5,-1537.5 3244.6,-1543.5 3248.7,-1549.5 3252.8,-1555.5 3257.0,-1561.5 3261.1,-1567.5 3265.2,-1573.5 3269.3,-1579.4 3273.4,-1585.4"/>
<g fill="#fff" stroke="#0000ff" stroke-width="1.4"><rect x="1662.4" y="642.7" width="8.6" height="8.6"/><rect x="1662.6" y="641.5" width="8.6" height="8.6"/><rect x="1662.7" y="640.3" width="8.6" height="8.6"/><rect x="1662.8" y="639.1" width="8.6" height="8.6"/><rect x="1662.9" y="637.9" width="8.6" height="8.6"/><rect x="1663.0" y="636.7" width="8.6" height="8.6"/><rect x="1663.1" y="635.5" width="8.6" height="8.6"/><rect x="1663.3" y="634.3" width="8.6" height="8.6"/><rect x="1663.4" y="633.1" width="8.6" height="8.6"/><rect x="1663.5" y="631.9" width="8.6" height="8.6"/><rect x="1663.6" y="630.6" width="8.6" height="8.6"/><rect x="1663.7" y="629.2" width="8.6" height="8.6"/><rect x="1663.9" y="627.7" width="8.6" height="8.6"/><rect x="1664.1" y="625.9" width="8.6" height="8.6"/><rect x="1664.3" y="624.0" width="8.6" height="8.6"/><rect x="1664.7" y="621.9" width="8.6" height="8.6"/><rect x="1665.1" y="619.5" width="8.6" height="8.6"/><rect x="1665.7" y="616.9" width="8.6" height="8.6"/><rect x="1666.5" y="614.0" width="8.6" height="8.6"/><rect x="1667.5" y="611.0" width="8.6" height="8.6"/><rect x="1668.7" y="607.8" width="8.6" height="8.6"/><rect x="1670.1" y="604.4" width="8.6" height="8.6"/><rect x="1671.6" y="600.9" width="8.6" height="8.6"/><rect x="1673.4" y="597.1" width="8.6" height="8.6"/><rect x="1675.3" y="593.0" width="8.6" height="8.6"/><rect x="1677.4" y="588.7" width="8.6" height="8.6"/><rect x="1679.7" y="584.2" width="8.6" height="8.6"/><rect x="1682.4" y="579.6" width="8.6" height="8.6"/><rect x="1685.3" y="575.0" width="8.6" height="8.6"/><rect x="1688.4" y="570.4" width="8.6" height="8.6"/><rect x="1691.8" y="566.0" width="8.6" height="8.6"/><rect x="1695.4" y="561.5" width="8.6" height="8.6"/><rect x="1699.3" y="556.8" width="8.6" height="8.6"/><rect x="1703.3" y="551.9" width="8.6" height="8.6"/><rect x="1707.6" y="546.7" width="8.6" height="8.6"/><rect x="1712.1" y="541.3" width="8.6" height="8.6"/><rect x="1717.0" y="535.7" width="8.6" height="8.6"/><rect x="1722.6" y="529.7" width="8.6" height="8.6"/><rect x="1728.2" y="523.4" width="8.6" height="8.6"/><rect x="1733.8" y="516.7" width="8.6" height="8.6"/></g>
<polyline clip-path="url(#cl4)" fill="none" stroke="#56b4e9" stroke-width="1.4" stroke-linejoin="round" points="1626.1,647.6 1626.5,644.3 1626.8,641.0 1627.1,637.7 1627.3,634.3 1627.7,631.0 1628.1,627.8 1628.7,624.6 1629.4,621.4 1630.3,618.5 1631.3,615.6 1632.4,612.8 1633.6,610.1 1634.8,607.3 1636.1,604.6 1637.4,601.8 1638.7,599.1 1640.0,596.3 1641.2,593.4 1642.5,590.6 1643.8,587.7 1645.2,584.9 1646.6,582.2 1648.1,579.4 1649.7,576.8 1651.4,574.1 1653.3,571.5 1655.2,569.0 1657.2,566.5 1659.3,564.0 1661.4,561.5 1663.5,559.1 1665.6,556.7 1667.7,554.4 1669.8,552.2 1672.0,550.0 1674.2,547.8 1676.4,545.6 1678.7,543.4 1680.9,541.3 1683.1,539.0 1685.4,536.7 1687.6,534.4 1689.9,532.1 1692.1,529.8 1694.4,527.5 1696.7,525.1 1698.9,522.8 1701.2,520.6 1703.4,518.3 1705.6,516.1 1707.9,513.8 1710.1,511.6 1712.3,509.4 1714.5,507.2 1716.7,505.0 1718.7,502.8 1720.9,500.5 1722.8,498.6 1724.6,496.8 1726.6,494.5 1729.1,491.5 1732.4,487.4 1733.3,486.3 1734.3,485.0 1735.3,483.7 1736.4,482.3 1737.5,480.8 1738.7,479.2 1739.9,477.6 1741.2,475.9 1742.5,474.1 1743.8,472.2 1745.3,470.3 1746.7,468.3 1748.2,466.2 1749.8,464.0 1751.4,461.8 1753.1,459.5 1754.8,457.1 1756.5,454.7 1758.3,452.1 1760.2,449.6 1762.1,446.9 1764.0,444.2 1766.0,441.4 1768.0,438.5 1770.1,435.6 1772.2,432.6 1774.3,429.6 1776.5,426.4 1778.8,423.3 1781.0,420.0 1783.4,416.7 1785.7,413.3 1788.1,409.9 1790.6,406.4 1793.0,402.8 1795.6,399.2 1798.1,395.6 1800.7,391.8 1803.4,388.0 1806.0,384.2 1808.8,380.3 1811.5,376.3 1814.3,372.3 1817.1,368.2 1820.0,364.1 1822.9,359.9 1825.8,355.7 1828.8,351.4 1831.8,347.1 1834.8,342.7 1837.9,338.2 1841.0,333.7 1844.1,329.2 1847.2,324.6 1850.4,320.0 1853.7,315.3 1856.9,310.5 1860.2,305.8 1863.5,300.9 1866.9,296.1 1870.3,291.1 1873.7,286.2 1877.1,281.2 1880.6,276.1 1884.1,271.0 1887.6,265.9 1891.2,260.7 1894.7,255.5 1898.3,250.2 1902.0,244.9 1905.6,239.6 1909.3,234.2 1913.0,228.8 1916.7,223.3 1920.5,217.9 1924.3,212.3 1928.1,206.8 1931.9,201.2 1935.8,195.6 1939.6,189.9 1943.5,184.2 1947.4,178.5 1951.4,172.7 1955.3,166.9 1959.3,161.1 1963.3,155.2 1967.3,149.3 1971.4,143.4 1975.4,137.5 1979.5,131.5 1983.6,125.5 1987.7,119.5 1991.8,113.4 1996.0,107.4 2000.1,101.3 2004.3,95.1 2008.5,89.0 2012.7,82.8 2016.9,76.6 2021.1,70.4 2025.4,64.2 2029.7,57.9 2033.9,51.6 2038.2,45.3 2042.5,39.0 2046.8,32.7 2051.2,26.3 2055.5,20.0 2059.9,13.6 2064.2,7.2 2068.6,0.7 2073.0,-5.7 2077.4,-12.1 2081.8,-18.6 2086.2,-25.1 2090.6,-31.6 2095.0,-38.1 2099.4,-44.6 2103.9,-51.1 2108.3,-57.6 2112.8,-64.2 2117.2,-70.7 2121.7,-77.3 2126.2,-83.9 2130.6,-90.5 2135.1,-97.0 2139.6,-103.6 2144.1,-110.2 2148.6,-116.8 2153.1,-123.4 2157.5,-130.0 2162.0,-136.6 2166.5,-143.3 2171.0,-149.9 2175.5,-156.5 2180.0,-163.1 2184.5,-169.7 2189.0,-176.3 2193.5,-183.0 2198.0,-189.6 2202.5,-196.2 2207.0,-202.8 2211.5,-209.4 2216.0,-216.0 2220.5,-222.6 2225.0,-229.2 2229.5,-235.8 2233.9,-242.4 2238.4,-248.9 2242.9,-255.5 2247.3,-262.1 2251.8,-268.6 2256.3,-275.2 2260.7,-281.7 2265.1,-288.2 2269.6,-294.7 2274.0,-301.2 2278.4,-307.7 2282.8,-314.2 2287.2,-320.6 2291.6,-327.1 2296.0,-333.5 2300.3,-339.9 2304.7,-346.3 2309.0,-352.7 2313.4,-359.1 2317.7,-365.4 2322.0,-371.8 2326.3,-378.1 2330.6,-384.4 2334.9,-390.7 2339.1,-396.9 2343.4,-403.1 2347.6,-409.3 2351.8,-415.5 2356.0,-421.7 2360.2,-427.8 2364.4,-434.0 2368.6,-440.1 2372.7,-446.1 2376.8,-452.2 2380.9,-458.2 2385.0,-464.2 2389.1,-470.1 2393.1,-476.1 2397.2,-482.0 2401.2,-487.9 2405.2,-493.7 2409.1,-499.5 2413.1,-505.3 2417.0,-511.0 2420.9,-516.8 2424.8,-522.5 2428.7,-528.1 2432.5,-533.7 2436.4,-539.3 2440.1,-544.9 2443.9,-550.4 2447.7,-555.9 2451.4,-561.3 2455.4,-567.1 2459.4,-572.9 2463.3,-578.7 2467.3,-584.5 2471.3,-590.4 2475.3,-596.2 2479.3,-602.0 2483.3,-607.8 2487.3,-613.7 2491.3,-619.5 2495.3,-625.4 2499.3,-631.2 2503.3,-637.1 2507.3,-642.9 2511.3,-648.8 2515.3,-654.6 2519.3,-660.5 2523.3,-666.4 2527.4,-672.2 2531.4,-678.1 2535.4,-684.0 2539.4,-689.9 2543.5,-695.8 2547.5,-701.6 2551.5,-707.5 2555.6,-713.4 2559.6,-719.3 2563.7,-725.2 2567.7,-731.1 2571.7,-737.0 2575.8,-743.0 2579.8,-748.9 2583.9,-754.8 2587.9,-760.7 2592.0,-766.6 2596.1,-772.6 2600.1,-778.5 2604.2,-784.4 2608.2,-790.4 2612.3,-796.3 2616.4,-802.2 2620.4,-808.2 2624.5,-814.1 2628.6,-820.1 2632.7,-826.0 2636.7,-832.0 2640.8,-838.0 2644.9,-843.9 2649.0,-849.9 2653.1,-855.8 2657.2,-861.8 2661.2,-867.8 2665.3,-873.8 2669.4,-879.7 2673.5,-885.7 2677.6,-891.7 2681.7,-897.7 2685.8,-903.7 2689.9,-909.7 2694.0,-915.6 2698.1,-921.6 2702.2,-927.6 2706.3,-933.6 2710.4,-939.6 2714.5,-945.6 2718.6,-951.6 2722.7,-957.6 2726.8,-963.6 2731.0,-969.7 2735.1,-975.7 2739.2,-981.7 2743.3,-987.7 2747.4,-993.7 2751.5,-999.7 2755.7,-1005.8 2759.8,-1011.8 2763.9,-1017.8 2768.0,-1023.8 2772.1,-1029.9 2776.3,-1035.9 2780.4,-1041.9 2784.5,-1048.0 2788.7,-1054.0 2792.8,-1060.0 2796.9,-1066.1 2801.1,-1072.1 2805.2,-1078.1 2809.3,-1084.2 2813.5,-1090.2 2817.6,-1096.3 2821.7,-1102.3 2825.9,-1108.4 2830.0,-1114.4 2834.1,-1120.5 2838.3,-1126.5 2842.4,-1132.6 2846.6,-1138.6 2850.7,-1144.7 2854.8,-1150.7 2859.0,-1156.8 2863.1,-1162.8 2867.3,-1168.9 2871.4,-1175.0 2875.6,-1181.0 2879.7,-1187.1 2883.9,-1193.1 2888.0,-1199.2 2892.2,-1205.3 2896.3,-1211.3 2900.5,-1217.4 2904.6,-1223.5 2908.8,-1229.5 2912.9,-1235.6 2917.1,-1241.7 2921.2,-1247.7 2925.4,-1253.8 2929.5,-1259.9 2933.7,-1266.0 2937.8,-1272.0 2942.0,-1278.1 2946.1,-1284.2 2950.3,-1290.2 2954.4,-1296.3 2958.6,-1302.4 2962.8,-1308.5 2966.9,-1314.5 2971.1,-1320.6 2975.2,-1326.7 2979.4,-1332.7 2983.5,-1338.8 2987.7,-1344.9 2991.8,-1351.0 2996.0,-1357.0 3000.2,-1363.1 3004.3,-1369.2 3008.5,-1375.3 3012.6,-1381.3 3016.8,-1387.4 3020.9,-1393.5 3025.1,-1399.6 3029.2,-1405.6 3033.4,-1411.7 3037.5,-1417.8 3041.7,-1423.9 3045.9,-1429.9 3050.0,-1436.0 3054.2,-1442.1 3058.3,-1448.1 3062.5,-1454.2 3066.6,-1460.3 3070.8,-1466.4 3074.9,-1472.4 3079.1,-1478.5 3083.2,-1484.6 3087.4,-1490.6 3091.5,-1496.7 3095.7,-1502.8 3099.8,-1508.8 3104.0,-1514.9 3108.1,-1521.0 3112.3,-1527.0 3116.4,-1533.1 3120.6,-1539.1 3124.7,-1545.2 3128.9,-1551.3 3133.0,-1557.3 3137.2,-1563.4 3141.3,-1569.4 3145.4,-1575.5 3149.6,-1581.5 3153.7,-1587.6 3157.9,-1593.6 3162.0,-1599.7 3166.1,-1605.7 3170.3,-1611.8 3174.4,-1617.8 3178.6,-1623.9 3182.7,-1629.9 3186.8,-1636.0 3191.0,-1642.0 3195.1,-1648.1 3199.2,-1654.1 3203.3,-1660.1 3207.5,-1666.2 3211.6,-1672.2 3215.7,-1678.2 3219.9,-1684.3 3224.0,-1690.3 3228.1,-1696.3 3232.2,-1702.3 3236.4,-1708.4 3240.5,-1714.4 3244.6,-1720.4 3248.7,-1726.4 3252.8,-1732.4 3256.9,-1738.5 3261.1,-1744.5 3265.2,-1750.5 3269.3,-1756.5 3273.4,-1762.5"/>
<g fill="#fff" stroke="#56b4e9" stroke-width="1.4"><rect x="1621.8" y="643.3" width="8.6" height="8.6"/><rect x="1621.9" y="642.1" width="8.6" height="8.6"/><rect x="1622.1" y="640.9" width="8.6" height="8.6"/><rect x="1622.2" y="639.7" width="8.6" height="8.6"/><rect x="1622.3" y="638.5" width="8.6" height="8.6"/><rect x="1622.4" y="637.3" width="8.6" height="8.6"/><rect x="1622.5" y="636.1" width="8.6" height="8.6"/><rect x="1622.6" y="634.9" width="8.6" height="8.6"/><rect x="1622.7" y="633.7" width="8.6" height="8.6"/><rect x="1622.8" y="632.5" width="8.6" height="8.6"/><rect x="1622.9" y="631.3" width="8.6" height="8.6"/><rect x="1623.1" y="630.0" width="8.6" height="8.6"/><rect x="1623.2" y="628.5" width="8.6" height="8.6"/><rect x="1623.4" y="626.8" width="8.6" height="8.6"/><rect x="1623.6" y="625.0" width="8.6" height="8.6"/><rect x="1623.9" y="623.0" width="8.6" height="8.6"/><rect x="1624.3" y="620.7" width="8.6" height="8.6"/><rect x="1624.8" y="618.2" width="8.6" height="8.6"/><rect x="1625.6" y="615.5" width="8.6" height="8.6"/><rect x="1626.5" y="612.6" width="8.6" height="8.6"/><rect x="1627.6" y="609.6" width="8.6" height="8.6"/><rect x="1629.0" y="606.5" width="8.6" height="8.6"/><rect x="1630.5" y="603.2" width="8.6" height="8.6"/><rect x="1632.1" y="599.7" width="8.6" height="8.6"/><rect x="1633.9" y="595.9" width="8.6" height="8.6"/><rect x="1635.8" y="591.6" width="8.6" height="8.6"/><rect x="1637.9" y="586.9" width="8.6" height="8.6"/><rect x="1640.2" y="581.9" width="8.6" height="8.6"/><rect x="1642.9" y="576.8" width="8.6" height="8.6"/><rect x="1645.9" y="571.7" width="8.6" height="8.6"/><rect x="1649.2" y="566.9" width="8.6" height="8.6"/><rect x="1652.7" y="562.4" width="8.6" height="8.6"/><rect x="1656.5" y="557.8" width="8.6" height="8.6"/><rect x="1660.7" y="553.1" width="8.6" height="8.6"/><rect x="1665.3" y="548.1" width="8.6" height="8.6"/><rect x="1670.6" y="542.8" width="8.6" height="8.6"/><rect x="1676.3" y="537.2" width="8.6" height="8.6"/><rect x="1682.1" y="531.3" width="8.6" height="8.6"/><rect x="1688.2" y="525.1" width="8.6" height="8.6"/><rect x="1694.6" y="518.6" width="8.6" height="8.6"/><rect x="1701.5" y="511.6" width="8.6" height="8.6"/><rect x="1708.8" y="504.3" width="8.6" height="8.6"/><rect x="1716.3" y="496.6" width="8.6" height="8.6"/><rect x="1723.8" y="488.5" width="8.6" height="8.6"/><rect x="1731.0" y="479.4" width="8.6" height="8.6"/></g>
<polyline clip-path="url(#cl4)" fill="none" stroke="#56b4e9" stroke-width="1.4" stroke-linejoin="round" points="1628.9,647.6 1630.3,644.7 1631.7,641.9 1633.2,639.0 1634.7,636.2 1636.1,633.3 1637.5,630.5 1639.0,627.5 1640.4,624.5 1641.5,621.8 1642.6,619.1 1643.7,616.3 1644.8,613.5 1645.9,610.6 1647.0,607.8 1648.1,605.0 1649.3,602.2 1650.5,599.5 1651.9,596.8 1653.4,593.9 1655.0,591.0 1656.7,588.2 1658.5,585.4 1660.3,582.7 1662.1,580.0 1664.0,577.3 1665.9,574.7 1667.8,572.1 1669.8,569.5 1672.0,566.9 1674.1,564.3 1676.3,561.8 1678.5,559.3 1680.8,556.9 1683.0,554.5 1685.3,552.1 1687.5,549.8 1689.8,547.6 1692.0,545.4 1694.3,543.2 1696.6,541.0 1698.9,538.8 1701.1,536.6 1703.4,534.4 1705.6,532.2 1707.9,530.0 1710.1,527.8 1712.4,525.7 1714.6,523.5 1716.8,521.2 1718.9,519.0 1720.9,516.7 1722.9,514.4 1724.5,512.4 1726.0,510.4 1727.5,508.2 1729.3,505.6 1731.6,502.4 1734.6,498.2 1735.5,497.0 1736.5,495.7 1737.5,494.3 1738.5,492.8 1739.6,491.2 1740.8,489.6 1742.0,487.9 1743.3,486.2 1744.6,484.3 1745.9,482.4 1747.3,480.5 1748.8,478.4 1750.3,476.3 1751.9,474.1 1753.5,471.9 1755.1,469.5 1756.8,467.2 1758.5,464.7 1760.3,462.2 1762.2,459.6 1764.1,457.0 1766.0,454.2 1767.9,451.5 1770.0,448.6 1772.0,445.7 1774.1,442.8 1776.3,439.7 1778.4,436.7 1780.7,433.5 1782.9,430.3 1785.3,427.0 1787.6,423.7 1790.0,420.3 1792.4,416.9 1794.9,413.4 1797.4,409.8 1800.0,406.2 1802.6,402.6 1805.2,398.8 1807.9,395.1 1810.6,391.2 1813.3,387.4 1816.1,383.4 1818.9,379.4 1821.7,375.4 1824.6,371.3 1827.6,367.2 1830.5,363.0 1833.5,358.8 1836.5,354.5 1839.6,350.1 1842.7,345.8 1845.8,341.3 1849.0,336.9 1852.1,332.3 1855.4,327.8 1858.6,323.2 1861.9,318.5 1865.2,313.8 1868.5,309.1 1871.9,304.3 1875.3,299.5 1878.8,294.6 1882.2,289.7 1885.7,284.7 1889.2,279.7 1892.8,274.7 1896.3,269.6 1899.9,264.5 1903.5,259.4 1907.2,254.2 1910.9,249.0 1914.6,243.7 1918.3,238.4 1922.0,233.1 1925.8,227.8 1929.6,222.4 1933.4,216.9 1937.3,211.5 1941.1,206.0 1945.0,200.5 1948.9,194.9 1952.8,189.3 1956.8,183.7 1960.8,178.1 1964.7,172.4 1968.8,166.7 1972.8,161.0 1976.8,155.2 1980.9,149.4 1985.0,143.6 1989.1,137.8 1993.2,131.9 1997.3,126.1 2001.5,120.2 2005.6,114.2 2009.8,108.3 2014.0,102.3 2018.2,96.3 2022.5,90.3 2026.7,84.3 2031.0,78.2 2035.2,72.1 2039.5,66.0 2043.8,59.9 2048.1,53.8 2052.4,47.6 2056.8,41.5 2061.1,35.3 2065.4,29.1 2069.8,22.9 2074.2,16.7 2078.6,10.4 2082.9,4.2 2087.3,-2.1 2091.8,-8.4 2096.2,-14.7 2100.6,-21.0 2105.0,-27.3 2109.5,-33.6 2113.9,-39.9 2118.3,-46.3 2122.8,-52.6 2127.2,-59.0 2131.7,-65.4 2136.2,-71.7 2140.7,-78.1 2145.1,-84.5 2149.6,-90.9 2154.1,-97.3 2158.6,-103.7 2163.1,-110.1 2167.5,-116.5 2172.0,-122.9 2176.5,-129.3 2181.0,-135.7 2185.5,-142.1 2190.0,-148.5 2194.5,-154.9 2199.0,-161.3 2203.4,-167.7 2207.9,-174.1 2212.4,-180.5 2216.9,-186.9 2221.4,-193.3 2225.8,-199.7 2230.3,-206.1 2234.8,-212.4 2239.2,-218.8 2243.7,-225.2 2248.1,-231.5 2252.6,-237.9 2257.0,-244.2 2261.4,-250.6 2265.9,-256.9 2270.3,-263.2 2274.7,-269.5 2279.1,-275.8 2283.5,-282.1 2287.9,-288.3 2292.2,-294.6 2296.6,-300.8 2301.0,-307.1 2305.3,-313.3 2309.6,-319.5 2314.0,-325.7 2318.3,-331.8 2322.6,-338.0 2326.8,-344.1 2331.1,-350.2 2335.4,-356.3 2339.6,-362.4 2343.9,-368.5 2348.1,-374.5 2352.3,-380.5 2356.5,-386.5 2360.6,-392.5 2364.8,-398.5 2368.9,-404.4 2373.1,-410.3 2377.2,-416.2 2381.2,-422.1 2385.3,-427.9 2389.4,-433.7 2393.4,-439.5 2397.4,-445.3 2401.4,-451.0 2405.4,-456.7 2409.3,-462.4 2413.3,-468.0 2417.2,-473.6 2421.1,-479.2 2425.0,-484.8 2428.8,-490.3 2432.6,-495.8 2436.4,-501.3 2440.2,-506.7 2444.0,-512.1 2447.7,-517.5 2451.4,-522.8 2455.4,-528.5 2459.4,-534.3 2463.4,-540.0 2467.3,-545.7 2471.3,-551.5 2475.3,-557.2 2479.3,-563.0 2483.3,-568.8 2487.3,-574.5 2491.3,-580.3 2495.4,-586.1 2499.4,-591.9 2503.4,-597.6 2507.4,-603.4 2511.4,-609.2 2515.4,-615.0 2519.4,-620.8 2523.5,-626.6 2527.5,-632.4 2531.5,-638.2 2535.6,-644.1 2539.6,-649.9 2543.6,-655.7 2547.7,-661.5 2551.7,-667.4 2555.7,-673.2 2559.8,-679.0 2563.8,-684.9 2567.9,-690.7 2571.9,-696.6 2576.0,-702.5 2580.0,-708.3 2584.1,-714.2 2588.1,-720.0 2592.2,-725.9 2596.3,-731.8 2600.3,-737.7 2604.4,-743.5 2608.4,-749.4 2612.5,-755.3 2616.6,-761.2 2620.7,-767.1 2624.7,-773.0 2628.8,-778.9 2632.9,-784.8 2637.0,-790.7 2641.0,-796.6 2645.1,-802.5 2649.2,-808.5 2653.3,-814.4 2657.4,-820.3 2661.5,-826.2 2665.6,-832.2 2669.6,-838.1 2673.7,-844.0 2677.8,-850.0 2681.9,-855.9 2686.0,-861.9 2690.1,-867.8 2694.2,-873.8 2698.3,-879.7 2702.4,-885.7 2706.5,-891.6 2710.6,-897.6 2714.8,-903.5 2718.9,-909.5 2723.0,-915.5 2727.1,-921.4 2731.2,-927.4 2735.3,-933.4 2739.4,-939.4 2743.5,-945.3 2747.7,-951.3 2751.8,-957.3 2755.9,-963.3 2760.0,-969.3 2764.1,-975.3 2768.3,-981.3 2772.4,-987.3 2776.5,-993.3 2780.6,-999.2 2784.8,-1005.2 2788.9,-1011.2 2793.0,-1017.3 2797.1,-1023.3 2801.3,-1029.3 2805.4,-1035.3 2809.5,-1041.3 2813.7,-1047.3 2817.8,-1053.3 2821.9,-1059.3 2826.1,-1065.3 2830.2,-1071.4 2834.4,-1077.4 2838.5,-1083.4 2842.6,-1089.4 2846.8,-1095.4 2850.9,-1101.5 2855.1,-1107.5 2859.2,-1113.5 2863.3,-1119.5 2867.5,-1125.6 2871.6,-1131.6 2875.8,-1137.6 2879.9,-1143.7 2884.1,-1149.7 2888.2,-1155.7 2892.3,-1161.8 2896.5,-1167.8 2900.6,-1173.8 2904.8,-1179.9 2908.9,-1185.9 2913.1,-1192.0 2917.2,-1198.0 2921.4,-1204.1 2925.5,-1210.1 2929.7,-1216.1 2933.8,-1222.2 2938.0,-1228.2 2942.1,-1234.3 2946.3,-1240.3 2950.4,-1246.4 2954.6,-1252.4 2958.7,-1258.4 2962.9,-1264.5 2967.0,-1270.5 2971.2,-1276.6 2975.4,-1282.6 2979.5,-1288.7 2983.7,-1294.7 2987.8,-1300.8 2992.0,-1306.8 2996.1,-1312.9 3000.3,-1318.9 3004.4,-1325.0 3008.6,-1331.0 3012.7,-1337.1 3016.9,-1343.1 3021.0,-1349.2 3025.2,-1355.2 3029.3,-1361.3 3033.5,-1367.3 3037.6,-1373.3 3041.8,-1379.4 3045.9,-1385.4 3050.1,-1391.5 3054.2,-1397.5 3058.4,-1403.6 3062.5,-1409.6 3066.7,-1415.7 3070.8,-1421.7 3075.0,-1427.7 3079.1,-1433.8 3083.3,-1439.8 3087.4,-1445.9 3091.6,-1451.9 3095.7,-1457.9 3099.9,-1464.0 3104.0,-1470.0 3108.2,-1476.1 3112.3,-1482.1 3116.5,-1488.1 3120.6,-1494.2 3124.8,-1500.2 3128.9,-1506.2 3133.0,-1512.2 3137.2,-1518.3 3141.3,-1524.3 3145.5,-1530.3 3149.6,-1536.4 3153.7,-1542.4 3157.9,-1548.4 3162.0,-1554.4 3166.2,-1560.4 3170.3,-1566.5 3174.4,-1572.5 3178.6,-1578.5 3182.7,-1584.5 3186.8,-1590.5 3191.0,-1596.5 3195.1,-1602.5 3199.2,-1608.5 3203.4,-1614.5 3207.5,-1620.5 3211.6,-1626.5 3215.7,-1632.5 3219.9,-1638.5 3224.0,-1644.5 3228.1,-1650.5 3232.2,-1656.5 3236.4,-1662.5 3240.5,-1668.5 3244.6,-1674.5 3248.7,-1680.5 3252.8,-1686.4 3256.9,-1692.4 3261.1,-1698.4 3265.2,-1704.4 3269.3,-1710.3 3273.4,-1716.3"/>
<g fill="#fff" stroke="#56b4e9" stroke-width="1.4"><rect x="1624.9" y="642.7" width="8.6" height="8.6"/><rect x="1625.5" y="641.5" width="8.6" height="8.6"/><rect x="1626.1" y="640.3" width="8.6" height="8.6"/><rect x="1626.7" y="639.1" width="8.6" height="8.6"/><rect x="1627.3" y="637.9" width="8.6" height="8.6"/><rect x="1627.9" y="636.7" width="8.6" height="8.6"/><rect x="1628.5" y="635.5" width="8.6" height="8.6"/><rect x="1629.1" y="634.3" width="8.6" height="8.6"/><rect x="1629.7" y="633.1" width="8.6" height="8.6"/><rect x="1630.4" y="631.9" width="8.6" height="8.6"/><rect x="1631.0" y="630.7" width="8.6" height="8.6"/><rect x="1631.6" y="629.5" width="8.6" height="8.6"/><rect x="1632.2" y="628.3" width="8.6" height="8.6"/><rect x="1632.8" y="627.0" width="8.6" height="8.6"/><rect x="1633.5" y="625.6" width="8.6" height="8.6"/><rect x="1634.2" y="624.1" width="8.6" height="8.6"/><rect x="1635.0" y="622.4" width="8.6" height="8.6"/><rect x="1635.9" y="620.6" width="8.6" height="8.6"/><rect x="1636.8" y="618.5" width="8.6" height="8.6"/><rect x="1637.8" y="616.2" width="8.6" height="8.6"/><rect x="1638.8" y="613.6" width="8.6" height="8.6"/><rect x="1639.9" y="610.7" width="8.6" height="8.6"/><rect x="1641.1" y="607.6" width="8.6" height="8.6"/><rect x="1642.5" y="604.1" width="8.6" height="8.6"/><rect x="1644.0" y="600.3" width="8.6" height="8.6"/><rect x="1645.7" y="596.4" width="8.6" height="8.6"/><rect x="1647.6" y="592.4" width="8.6" height="8.6"/><rect x="1649.9" y="588.3" width="8.6" height="8.6"/><rect x="1652.3" y="584.1" width="8.6" height="8.6"/><rect x="1655.0" y="579.8" width="8.6" height="8.6"/><rect x="1658.0" y="575.4" width="8.6" height="8.6"/><rect x="1661.1" y="571.0" width="8.6" height="8.6"/><rect x="1664.5" y="566.5" width="8.6" height="8.6"/><rect x="1668.1" y="562.0" width="8.6" height="8.6"/><rect x="1672.0" y="557.5" width="8.6" height="8.6"/><rect x="1676.3" y="552.8" width="8.6" height="8.6"/><rect x="1681.1" y="547.7" width="8.6" height="8.6"/><rect x="1686.3" y="542.4" width="8.6" height="8.6"/><rect x="1692.1" y="536.8" width="8.6" height="8.6"/><rect x="1698.2" y="530.9" width="8.6" height="8.6"/><rect x="1704.6" y="524.7" width="8.6" height="8.6"/><rect x="1711.3" y="518.1" width="8.6" height="8.6"/><rect x="1717.6" y="511.2" width="8.6" height="8.6"/><rect x="1723.8" y="503.1" width="8.6" height="8.6"/><rect x="1730.3" y="493.9" width="8.6" height="8.6"/></g>
</g>
<text x="1365.50" y="43.20" font-size="46" text-anchor="middle" fill="#000" >55% RH</text>
<text x="1263.50" y="129.00" font-size="61" text-anchor="middle" fill="#000" >(b)</text>
<text x="1438.75" y="820.00" font-size="42.5" text-anchor="middle">Re (Z) [mΩ·cm<tspan font-size="25" dy="-17.5">2</tspan><tspan dy="17.5">]</tspan></text>
<text x="0" y="0" font-size="42.5" text-anchor="middle" transform="translate(975.50 360.40) rotate(-90)">-Im (Z) [mΩ·cm<tspan font-size="25" dy="-17.5">2</tspan><tspan dy="17.5">]</tspan></text>
<rect x="1545.50" y="20.30" width="269.3" height="143.8" fill="#000"/>
<rect x="1536.00" y="10.80" width="269.3" height="143.8" fill="#fff" stroke="#1a1a1a" stroke-width="1.5"/>
<line x1="1540.4" y1="36.6" x2="1624" y2="36.6" stroke="#000" stroke-width="2.2"/>
<circle cx="1582.20" cy="36.60" r="5.75" fill="#fff" stroke="#000" stroke-width="1.5"/>
<text x="1631.50" y="48.30" font-size="36" text-anchor="start" fill="#000" >Pt/C</text>
<line x1="1540.4" y1="83.2" x2="1624" y2="83.2" stroke="#0000ff" stroke-width="2.6"/>
<rect x="1576.45" y="77.45" width="11.50" height="11.50" fill="#fff" stroke="#0000ff" stroke-width="1.5"/>
<text x="1631.50" y="94.90" font-size="36" text-anchor="start" fill="#000" >PMF-1</text>
<line x1="1540.4" y1="128.7" x2="1624" y2="128.7" stroke="#56b4e9" stroke-width="2.4"/>
<rect x="1576.45" y="122.95" width="11.50" height="11.50" fill="#fff" stroke="#56b4e9" stroke-width="1.5"/>
<text x="1631.50" y="140.40" font-size="36" text-anchor="start" fill="#000" >PMF-1/CF</text>
<line x1="167.60" y1="1568.00" x2="685.68" y2="1050.32" stroke="#bebebe" stroke-width="5.4" stroke-dasharray="33.5 29.7" stroke-dashoffset="0"/>
<text x="0" y="0" font-size="41" fill="#bebebe" text-anchor="middle" transform="translate(498.50 1209.40) rotate(-45)">45°- line</text>
<rect x="167.60" y="920.90" width="647.60" height="647.10" fill="none" stroke="#000" stroke-width="4.3"/>
<path d="M297.12 1568.00v-11.5M426.64 1568.00v-11.5M556.16 1568.00v-11.5M685.68 1568.00v-11.5M232.36 1568.00v-6M361.88 1568.00v-6M491.40 1568.00v-6M620.92 1568.00v-6M750.44 1568.00v-6M167.60 1438.58h11.5M167.60 1309.16h11.5M167.60 1179.74h11.5M167.60 1050.32h11.5M167.60 1503.29h6M167.60 1373.87h6M167.60 1244.45h6M167.60 1115.03h6M167.60 985.61h6" stroke="#000" stroke-width="3.5" fill="none"/>
<text x="167.60" y="1614.00" font-size="43" text-anchor="middle" fill="#000" >0</text>
<text x="151.00" y="1581.00" font-size="43" text-anchor="end" fill="#000" >0</text>
<text x="297.12" y="1614.00" font-size="43" text-anchor="middle" fill="#000" >100</text>
<text x="151.00" y="1451.58" font-size="43" text-anchor="end" fill="#000" >100</text>
<text x="426.64" y="1614.00" font-size="43" text-anchor="middle" fill="#000" >200</text>
<text x="151.00" y="1322.16" font-size="43" text-anchor="end" fill="#000" >200</text>
<text x="556.16" y="1614.00" font-size="43" text-anchor="middle" fill="#000" >300</text>
<text x="151.00" y="1192.74" font-size="43" text-anchor="end" fill="#000" >300</text>
<text x="685.68" y="1614.00" font-size="43" text-anchor="middle" fill="#000" >400</text>
<text x="151.00" y="1063.32" font-size="43" text-anchor="end" fill="#000" >400</text>
<text x="815.20" y="1614.00" font-size="43" text-anchor="middle" fill="#000" >500</text>
<text x="151.00" y="933.90" font-size="43" text-anchor="end" fill="#000" >500</text>
<clipPath id="cl5"><rect x="166.10" y="919.40" width="650.60" height="650.10"/></clipPath>
<g>
<polyline clip-path="url(#cl5)" fill="none" stroke="#000000" stroke-width="3.0" stroke-linejoin="round" points="235.1,1568.0 236.3,1566.1 237.5,1564.1 239.0,1562.3 240.5,1560.2 242.2,1556.3 243.5,1552.0 244.0,1547.9 244.1,1543.5 244.2,1540.6 244.3,1537.3 244.3,1533.8 244.3,1530.3 244.4,1526.8 244.5,1523.5 244.7,1520.1 244.9,1516.8 245.1,1513.4 245.3,1510.0 245.5,1506.7 245.6,1503.3 245.7,1499.9 245.8,1496.6 246.0,1493.2 246.1,1489.8 246.2,1486.5 246.3,1483.1 246.4,1479.7 246.5,1476.4 246.6,1472.9 246.7,1469.3 246.8,1465.7 247.0,1462.5 247.1,1459.7 247.4,1456.7 247.6,1453.7 247.8,1451.2 248.0,1448.6 248.2,1445.5 248.4,1441.8 248.6,1437.3 248.6,1435.8 248.6,1434.2 248.7,1432.5 248.7,1430.7 248.8,1428.8 248.8,1426.7 248.8,1424.6 248.9,1422.3 248.9,1420.0 248.9,1417.5 248.9,1415.0 249.0,1412.4 249.0,1409.6 249.0,1406.9 249.1,1404.0 249.1,1401.1 249.1,1398.1 249.1,1395.0 249.1,1391.9 249.2,1388.7 249.2,1385.5 249.2,1382.2 249.2,1378.9 249.2,1375.5 249.3,1372.1 249.3,1368.6 249.3,1365.2 249.3,1361.7 249.3,1358.1 249.4,1354.6 249.4,1351.0 249.4,1347.5 249.4,1343.9 249.4,1340.3 249.4,1336.7 249.4,1333.1 249.5,1329.5 249.5,1326.0 249.5,1322.4 249.5,1318.9 249.5,1315.4 249.5,1311.9 249.5,1308.4 249.6,1305.0 249.6,1301.6 249.6,1298.3 249.6,1294.9 249.6,1291.7 249.6,1288.5 249.7,1285.3 249.7,1282.2 249.7,1279.2 249.7,1276.2 249.7,1273.3 249.8,1270.5 249.8,1267.7 249.8,1265.1 249.8,1262.5 249.8,1260.0 249.9,1256.4 249.9,1253.0 249.9,1249.5 250.0,1246.1 250.0,1242.8 250.0,1239.5 250.1,1236.2 250.1,1233.0 250.1,1229.9 250.2,1226.7 250.2,1223.6 250.2,1220.6 250.3,1217.6 250.3,1214.6 250.3,1211.6 250.4,1208.7 250.4,1205.8 250.4,1203.0 250.5,1200.1 250.5,1197.4 250.6,1194.6 250.6,1191.8 250.6,1189.1 250.7,1186.4 250.7,1183.8 250.8,1181.1 250.8,1178.5 250.9,1175.9 251.0,1172.4 251.0,1169.1 251.1,1165.8 251.2,1162.7 251.3,1159.6 251.4,1156.5 251.5,1153.5 251.6,1150.5 251.7,1147.6 251.8,1144.6 251.9,1141.7 252.0,1138.8 252.1,1135.8 252.2,1132.8 252.2,1129.8 252.3,1126.7 252.4,1123.7 252.4,1120.7 252.4,1117.7 252.5,1114.7 252.5,1111.7 252.5,1108.8 252.5,1105.8 252.6,1102.8 252.6,1099.8 252.6,1096.7 252.6,1093.7 252.7,1090.6 252.7,1087.5 252.7,1084.4 252.8,1081.3 252.9,1078.1 253.0,1074.9 253.0,1072.1 253.1,1069.2 253.3,1066.3 253.4,1063.4 253.5,1060.5 253.7,1057.5 253.8,1054.5 253.9,1051.5 254.1,1048.5 254.3,1045.5 254.4,1042.4 254.6,1039.4 254.7,1036.3 254.9,1033.3 255.1,1030.2 255.2,1027.2 255.3,1024.1 255.5,1021.1 255.6,1018.0 255.7,1015.0 255.8,1011.9 255.9,1008.9 256.0,1005.8 256.1,1002.7 256.2,999.6 256.2,996.4 256.3,993.2 256.3,990.0 256.4,986.7 256.4,983.5 256.5,980.3 256.5,977.1 256.5,973.9 256.6,970.7 256.6,967.5 256.6,964.4 256.7,961.3 256.7,958.3 256.7,955.3 256.7,952.4 256.8,949.6 256.8,946.9 256.8,944.2 256.8,941.6 256.9,938.1 256.9,934.8 257.0,931.6 257.0,928.5 257.0,925.5 257.1,922.6 257.1,919.7 257.1,916.8 257.2,913.9 257.2,911.0 257.2,908.0"/>
<g fill="#fff" stroke="#000000" stroke-width="1.4"><circle cx="235.6" cy="1567.2" r="6.55"/><circle cx="236.1" cy="1566.3" r="6.55"/><circle cx="236.7" cy="1565.4" r="6.55"/><circle cx="237.3" cy="1564.5" r="6.55"/><circle cx="238.0" cy="1563.6" r="6.55"/><circle cx="238.7" cy="1562.7" r="6.55"/><circle cx="239.4" cy="1561.8" r="6.55"/><circle cx="240.0" cy="1560.9" r="6.55"/><circle cx="240.6" cy="1560.0" r="6.55"/><circle cx="241.0" cy="1559.1" r="6.55"/><circle cx="241.4" cy="1558.2" r="6.55"/><circle cx="241.8" cy="1557.3" r="6.55"/><circle cx="242.2" cy="1556.3" r="6.55"/><circle cx="242.6" cy="1555.1" r="6.55"/><circle cx="243.0" cy="1553.7" r="6.55"/><circle cx="243.5" cy="1552.1" r="6.55"/><circle cx="243.7" cy="1550.4" r="6.55"/><circle cx="243.9" cy="1548.4" r="6.55"/><circle cx="244.0" cy="1546.2" r="6.55"/><circle cx="244.1" cy="1543.8" r="6.55"/><circle cx="244.2" cy="1541.2" r="6.55"/><circle cx="244.3" cy="1538.2" r="6.55"/><circle cx="244.3" cy="1534.9" r="6.55"/><circle cx="244.3" cy="1531.2" r="6.55"/><circle cx="244.4" cy="1527.1" r="6.55"/><circle cx="244.6" cy="1522.6" r="6.55"/><circle cx="244.9" cy="1517.6" r="6.55"/><circle cx="245.2" cy="1512.0" r="6.55"/><circle cx="245.5" cy="1505.8" r="6.55"/><circle cx="245.8" cy="1498.9" r="6.55"/><circle cx="246.0" cy="1491.3" r="6.55"/><circle cx="246.3" cy="1482.8" r="6.55"/><circle cx="246.6" cy="1473.4" r="6.55"/><circle cx="247.0" cy="1462.9" r="6.55"/><circle cx="247.8" cy="1451.3" r="6.55"/><circle cx="248.5" cy="1438.3" r="6.55"/><circle cx="248.8" cy="1424.0" r="6.55"/><circle cx="249.0" cy="1408.0" r="6.55"/><circle cx="249.2" cy="1390.3" r="6.55"/><circle cx="249.3" cy="1370.7" r="6.55"/><circle cx="249.4" cy="1348.8" r="6.55"/><circle cx="249.5" cy="1324.5" r="6.55"/><circle cx="249.6" cy="1297.6" r="6.55"/><circle cx="249.8" cy="1267.6" r="6.55"/><circle cx="250.1" cy="1234.4" r="6.55"/><circle cx="250.5" cy="1197.5" r="6.55"/><circle cx="251.4" cy="1156.4" r="6.55"/><circle cx="252.5" cy="1110.9" r="6.55"/><circle cx="253.5" cy="1060.3" r="6.55"/><circle cx="256.1" cy="1004.0" r="6.55"/><circle cx="256.8" cy="941.6" r="6.55"/></g>
<polyline clip-path="url(#cl5)" fill="none" stroke="#000000" stroke-width="3.0" stroke-linejoin="round" points="235.7,1568.0 237.6,1566.1 239.5,1564.1 241.2,1562.3 242.7,1560.2 244.4,1556.3 245.6,1552.0 246.2,1547.9 246.6,1543.5 246.7,1540.6 246.8,1537.3 246.8,1533.8 246.8,1530.3 246.9,1526.8 247.0,1523.5 247.1,1520.1 247.3,1516.8 247.5,1513.4 247.6,1510.0 247.8,1506.7 247.9,1503.3 248.0,1499.9 248.2,1496.6 248.3,1493.2 248.4,1489.8 248.6,1486.5 248.7,1483.1 248.8,1479.7 248.9,1476.4 249.0,1472.9 249.1,1469.3 249.2,1465.7 249.3,1462.5 249.5,1459.7 249.7,1456.7 250.0,1453.7 250.1,1451.3 250.3,1448.6 250.5,1445.6 250.6,1441.9 250.8,1437.3 250.8,1435.9 250.8,1434.4 250.8,1432.7 250.9,1431.0 250.9,1429.1 250.9,1427.1 251.0,1425.0 251.0,1422.7 251.0,1420.4 251.0,1418.0 251.0,1415.4 251.1,1412.8 251.1,1410.1 251.1,1407.3 251.1,1404.5 251.1,1401.5 251.1,1398.5 251.2,1395.4 251.2,1392.2 251.2,1389.0 251.2,1385.7 251.2,1382.3 251.2,1378.9 251.2,1375.5 251.2,1372.0 251.2,1368.4 251.2,1364.9 251.2,1361.3 251.3,1357.6 251.3,1353.9 251.3,1350.3 251.3,1346.5 251.3,1342.8 251.3,1339.1 251.3,1335.3 251.3,1331.6 251.3,1327.8 251.3,1324.1 251.3,1320.3 251.3,1316.6 251.3,1312.9 251.3,1309.2 251.3,1305.5 251.3,1301.8 251.4,1298.2 251.4,1294.6 251.4,1291.0 251.4,1287.5 251.4,1284.0 251.4,1280.5 251.4,1277.2 251.4,1273.8 251.4,1270.5 251.5,1267.3 251.5,1264.2 251.5,1261.1 251.5,1258.1 251.5,1255.2 251.5,1252.3 251.6,1249.5 251.6,1246.8 251.6,1244.2 251.6,1241.7 251.6,1239.3 251.7,1237.0 251.7,1234.8 251.7,1232.8 251.8,1230.8 251.8,1228.9 251.9,1224.7 252.0,1221.0 252.1,1217.5 252.2,1214.4 252.3,1211.4 252.4,1208.6 252.5,1205.9 252.6,1203.2 252.7,1200.5 252.8,1197.6 252.9,1194.6 253.0,1191.4 253.0,1188.4 253.1,1185.4 253.2,1182.4 253.2,1179.3 253.3,1176.2 253.3,1173.0 253.4,1169.9 253.4,1166.7 253.5,1163.4 253.5,1160.2 253.6,1157.0 253.6,1153.8 253.7,1150.5 253.7,1147.3 253.8,1144.1 253.9,1140.9 253.9,1137.9 254.0,1134.9 254.0,1131.8 254.1,1128.8 254.1,1125.8 254.2,1122.7 254.2,1119.7 254.3,1116.7 254.3,1113.6 254.4,1110.6 254.5,1107.5 254.5,1104.5 254.6,1101.4 254.7,1098.4 254.7,1095.3 254.8,1092.2 254.9,1089.1 255.0,1086.2 255.1,1083.2 255.2,1080.2 255.3,1077.2 255.4,1074.2 255.5,1071.2 255.6,1068.2 255.8,1065.2 255.9,1062.2 256.0,1059.2 256.1,1056.2 256.2,1053.2 256.3,1050.1 256.5,1047.1 256.6,1044.0 256.7,1041.0 256.8,1037.9 256.8,1034.8 256.9,1031.8 257.0,1028.9 257.1,1025.9 257.1,1022.9 257.2,1019.9 257.2,1016.9 257.3,1013.9 257.3,1010.8 257.4,1007.8 257.4,1004.7 257.5,1001.7 257.5,998.6 257.6,995.6 257.6,992.5 257.6,989.4 257.7,986.3 257.7,983.3 257.8,980.2 257.8,977.1 257.9,974.0 257.9,971.0 258.0,968.1 258.0,965.1 258.1,962.1 258.1,959.1 258.2,956.2 258.2,953.2 258.3,950.2 258.3,947.2 258.3,944.1 258.4,941.1 258.4,938.1 258.5,935.1 258.5,932.1 258.6,929.1 258.6,926.0 258.7,923.0 258.7,920.0 258.8,917.0 258.8,914.0 258.9,911.0 258.9,908.0"/>
<g fill="#fff" stroke="#000000" stroke-width="1.4"><circle cx="236.0" cy="1567.7" r="6.55"/><circle cx="236.9" cy="1566.8" r="6.55"/><circle cx="237.8" cy="1565.9" r="6.55"/><circle cx="238.6" cy="1565.0" r="6.55"/><circle cx="239.5" cy="1564.1" r="6.55"/><circle cx="240.3" cy="1563.2" r="6.55"/><circle cx="241.2" cy="1562.3" r="6.55"/><circle cx="241.8" cy="1561.4" r="6.55"/><circle cx="242.5" cy="1560.5" r="6.55"/><circle cx="243.0" cy="1559.6" r="6.55"/><circle cx="243.4" cy="1558.7" r="6.55"/><circle cx="243.7" cy="1557.8" r="6.55"/><circle cx="244.1" cy="1556.9" r="6.55"/><circle cx="244.5" cy="1555.8" r="6.55"/><circle cx="244.9" cy="1554.4" r="6.55"/><circle cx="245.3" cy="1552.9" r="6.55"/><circle cx="245.7" cy="1551.3" r="6.55"/><circle cx="246.0" cy="1549.4" r="6.55"/><circle cx="246.3" cy="1547.4" r="6.55"/><circle cx="246.5" cy="1545.1" r="6.55"/><circle cx="246.7" cy="1542.5" r="6.55"/><circle cx="246.8" cy="1539.7" r="6.55"/><circle cx="246.8" cy="1536.6" r="6.55"/><circle cx="246.8" cy="1533.1" r="6.55"/><circle cx="246.8" cy="1529.3" r="6.55"/><circle cx="246.9" cy="1525.0" r="6.55"/><circle cx="247.1" cy="1520.2" r="6.55"/><circle cx="247.4" cy="1514.9" r="6.55"/><circle cx="247.7" cy="1509.0" r="6.55"/><circle cx="247.9" cy="1502.5" r="6.55"/><circle cx="248.2" cy="1495.3" r="6.55"/><circle cx="248.5" cy="1487.2" r="6.55"/><circle cx="248.9" cy="1478.3" r="6.55"/><circle cx="249.2" cy="1468.3" r="6.55"/><circle cx="249.7" cy="1457.3" r="6.55"/><circle cx="250.5" cy="1445.0" r="6.55"/><circle cx="250.9" cy="1431.4" r="6.55"/><circle cx="251.0" cy="1416.3" r="6.55"/><circle cx="251.1" cy="1399.5" r="6.55"/><circle cx="251.2" cy="1380.8" r="6.55"/><circle cx="251.3" cy="1360.1" r="6.55"/><circle cx="251.3" cy="1337.1" r="6.55"/><circle cx="251.3" cy="1311.5" r="6.55"/><circle cx="251.4" cy="1283.2" r="6.55"/><circle cx="251.5" cy="1251.6" r="6.55"/><circle cx="252.1" cy="1216.6" r="6.55"/><circle cx="253.2" cy="1177.7" r="6.55"/><circle cx="254.0" cy="1134.5" r="6.55"/><circle cx="255.0" cy="1086.5" r="6.55"/><circle cx="256.9" cy="1033.2" r="6.55"/><circle cx="257.9" cy="974.0" r="6.55"/></g>
<polyline clip-path="url(#cl5)" fill="none" stroke="#008000" stroke-width="2.8" stroke-linejoin="round" points="307.5,1568.0 308.7,1566.7 310.1,1565.4 312.1,1563.7 314.6,1561.9 317.2,1560.2 320.4,1558.3 323.6,1556.3 326.7,1554.4 330.0,1552.2 333.2,1550.0 336.2,1547.7 338.8,1545.5 341.2,1543.3 343.4,1541.1 345.8,1538.2 348.2,1535.1 349.9,1532.9 351.7,1530.5 353.6,1528.0 355.4,1525.3 357.0,1522.7 358.5,1519.8 360.0,1516.9 361.6,1514.0 363.2,1511.1 365.0,1508.0 366.8,1504.8 368.7,1501.7 370.5,1498.6 372.2,1495.5 374.0,1492.3 375.6,1489.1 377.2,1485.9 378.7,1482.6 380.1,1479.5 381.4,1476.5 382.7,1473.3 383.9,1469.8 384.9,1465.8 385.4,1463.4 385.8,1460.8 386.2,1458.1 386.5,1455.2 386.7,1452.2 387.0,1449.0 387.2,1445.8 387.3,1442.5 387.5,1439.1 387.7,1435.8 387.8,1432.4 388.0,1429.1 388.2,1425.8 388.4,1422.6 388.6,1419.5 388.8,1416.6 389.1,1413.4 389.4,1410.4 389.7,1407.3 390.0,1404.3 390.3,1401.3 390.6,1398.4 390.9,1395.4 391.2,1392.5 391.5,1389.6 391.8,1386.6 392.1,1383.7 392.4,1380.7 392.7,1377.8 393.0,1374.7 393.3,1371.7 393.6,1368.7 393.9,1365.6 394.2,1362.6 394.6,1359.6 394.9,1356.5 395.2,1353.5 395.5,1350.4 395.8,1347.4 396.1,1344.4 396.4,1341.3 396.7,1338.3 397.0,1335.2 397.3,1332.1 397.7,1329.0 398.0,1325.9 398.3,1322.8 398.6,1319.7 399.0,1316.6 399.3,1313.5 399.6,1310.5 399.9,1307.5 400.2,1304.5 400.5,1301.6 400.7,1298.8 401.1,1295.4 401.3,1292.2 401.6,1289.0 401.9,1285.9 402.1,1282.8 402.4,1279.7 402.7,1276.7 403.0,1273.5 403.3,1270.3 403.7,1267.3 404.0,1264.4 404.4,1261.4 404.8,1258.5 405.3,1255.5 405.7,1252.5 406.1,1249.4 406.5,1246.2 406.9,1242.8 407.2,1239.3 407.5,1236.6 407.7,1233.8 407.9,1231.0 408.2,1228.1 408.4,1225.1 408.6,1222.0 408.8,1218.9 409.0,1215.7 409.2,1212.5 409.4,1209.2 409.6,1206.0 409.8,1202.7 410.0,1199.4 410.2,1196.1 410.4,1192.8 410.6,1189.5 410.8,1186.2 410.9,1183.0 411.1,1179.7 411.3,1176.7 411.4,1173.7 411.5,1170.6 411.7,1167.6 411.8,1164.5 411.9,1161.5 412.1,1158.4 412.2,1155.3 412.3,1152.2 412.4,1149.1 412.5,1146.0 412.7,1142.9 412.8,1139.8 412.9,1136.7 413.0,1133.6 413.1,1130.5 413.2,1127.4 413.3,1124.3 413.4,1121.2 413.6,1118.1 413.7,1115.0 413.8,1111.9 413.9,1108.9 414.1,1105.8 414.2,1102.7 414.3,1099.6 414.4,1096.5 414.6,1093.5 414.7,1090.4 414.8,1087.3 414.9,1084.2 415.0,1081.1 415.2,1078.1 415.3,1075.0 415.4,1071.9 415.5,1068.8 415.7,1065.7 415.8,1062.6 415.9,1059.6 416.0,1056.5 416.2,1053.4 416.3,1050.3 416.4,1047.2 416.5,1044.2 416.7,1041.1 416.8,1038.1 416.9,1035.0 417.1,1032.0 417.2,1029.0 417.3,1025.9 417.5,1022.9 417.6,1019.9 417.7,1016.8 417.9,1013.8 418.0,1010.7 418.1,1007.6 418.2,1004.5 418.3,1001.4 418.5,998.3 418.6,995.2 418.7,992.0 418.8,988.8 418.9,985.6 419.0,982.6 419.0,979.6 419.1,976.6 419.2,973.6 419.2,970.5 419.3,967.5 419.3,964.4 419.4,961.3 419.5,958.2 419.5,955.1 419.5,951.9 419.6,948.8 419.6,945.7 419.7,942.5 419.7,939.4 419.8,936.2 419.8,933.1 419.8,929.9 419.9,926.7 419.9,923.6 420.0,920.5 420.0,917.3 420.1,914.2 420.1,911.1 420.2,908.0"/>
<g fill="#fff" stroke="#008000" stroke-width="1.9"><path d="M307.9 1561.3L315.0 1572.8H300.9Z"/><path d="M308.8 1560.4L315.9 1571.9H301.7Z"/><path d="M309.7 1559.5L316.8 1571.0H302.7Z"/><path d="M310.8 1558.6L317.9 1570.1H303.7Z"/><path d="M311.9 1557.7L318.9 1569.2H304.8Z"/><path d="M313.1 1556.8L320.2 1568.3H306.0Z"/><path d="M314.3 1555.9L321.4 1567.4H307.2Z"/><path d="M315.7 1555.0L322.7 1566.5H308.6Z"/><path d="M317.1 1554.1L324.1 1565.6H310.0Z"/><path d="M318.5 1553.2L325.6 1564.7H311.4Z"/><path d="M320.0 1552.3L327.1 1563.8H312.9Z"/><path d="M321.5 1551.4L328.6 1562.9H314.4Z"/><path d="M323.0 1550.5L330.0 1562.0H315.9Z"/><path d="M324.4 1549.6L331.5 1561.1H317.3Z"/><path d="M325.8 1548.7L332.9 1560.2H318.8Z"/><path d="M327.2 1547.8L334.3 1559.3H320.2Z"/><path d="M328.6 1546.9L335.7 1558.4H321.5Z"/><path d="M329.9 1546.0L337.0 1557.5H322.9Z"/><path d="M331.2 1545.1L338.3 1556.6H324.2Z"/><path d="M332.6 1544.2L339.7 1555.6H325.5Z"/><path d="M333.9 1543.2L341.0 1554.7H326.9Z"/><path d="M335.3 1542.2L342.4 1553.6H328.2Z"/><path d="M336.7 1541.1L343.8 1552.5H329.6Z"/><path d="M338.0 1539.9L345.1 1551.4H331.0Z"/><path d="M339.4 1538.7L346.5 1550.2H332.3Z"/><path d="M340.8 1537.4L347.9 1548.9H333.7Z"/><path d="M342.1 1536.1L349.2 1547.6H335.1Z"/><path d="M343.5 1534.7L350.6 1546.1H336.4Z"/><path d="M344.8 1533.2L351.9 1544.6H337.7Z"/><path d="M346.1 1531.5L353.2 1543.0H339.1Z"/><path d="M347.5 1529.7L354.6 1541.2H340.5Z"/><path d="M349.0 1527.8L356.1 1539.2H342.0Z"/><path d="M350.6 1525.7L357.7 1537.2H343.6Z"/><path d="M352.3 1523.5L359.4 1534.9H345.2Z"/><path d="M354.1 1521.0L361.2 1532.5H347.0Z"/><path d="M356.0 1518.1L363.0 1529.6H348.9Z"/><path d="M357.9 1514.7L365.0 1526.2H350.8Z"/><path d="M359.9 1510.9L367.0 1522.4H352.9Z"/><path d="M362.1 1506.7L369.2 1518.2H355.1Z"/><path d="M364.6 1502.4L371.7 1513.9H357.5Z"/><path d="M367.3 1497.9L374.3 1509.4H360.2Z"/><path d="M370.1 1493.0L377.2 1504.5H363.1Z"/><path d="M373.2 1487.6L380.2 1499.1H366.1Z"/><path d="M376.3 1481.5L383.4 1492.9H369.3Z"/><path d="M379.6 1474.3L386.7 1485.8H372.6Z"/><path d="M383.0 1466.1L390.1 1477.6H376.0Z"/><path d="M385.6 1455.8L392.7 1467.2H378.5Z"/><path d="M386.9 1444.0L393.9 1455.5H379.8Z"/><path d="M387.6 1431.0L394.7 1442.5H380.5Z"/><path d="M388.4 1416.5L395.4 1428.0H381.3Z"/><path d="M389.8 1400.4L396.8 1411.9H382.7Z"/><path d="M391.6 1382.6L398.6 1394.0H384.5Z"/><path d="M393.6 1362.7L400.7 1374.2H386.5Z"/><path d="M395.8 1340.7L402.9 1352.2H388.8Z"/><path d="M398.4 1316.2L405.4 1327.7H391.3Z"/><path d="M401.1 1289.0L408.1 1300.5H394.0Z"/><path d="M404.0 1258.8L411.0 1270.3H396.9Z"/><path d="M407.9 1225.3L415.0 1236.8H400.8Z"/><path d="M410.3 1188.0L417.4 1199.5H403.2Z"/><path d="M412.3 1146.7L419.4 1158.1H405.2Z"/><path d="M414.0 1100.7L421.1 1112.2H406.9Z"/><path d="M416.1 1049.7L423.1 1061.1H409.0Z"/><path d="M418.4 993.0L425.5 1004.4H411.4Z"/><path d="M419.8 930.0L426.8 941.4H412.7Z"/></g>
<polyline clip-path="url(#cl5)" fill="none" stroke="#008000" stroke-width="2.8" stroke-linejoin="round" points="311.4,1568.0 312.6,1566.7 314.0,1565.4 316.0,1563.7 318.5,1561.9 321.0,1560.2 324.0,1558.3 327.2,1556.3 330.1,1554.4 333.5,1552.2 336.8,1550.0 339.9,1547.7 342.4,1545.5 344.8,1543.3 347.0,1541.1 349.3,1538.2 351.5,1535.1 353.3,1532.9 355.3,1530.5 357.4,1528.0 359.3,1525.3 360.9,1522.7 362.4,1519.9 363.9,1516.9 365.5,1514.0 367.1,1511.1 368.8,1508.0 370.7,1504.8 372.6,1501.7 374.4,1498.6 376.1,1495.5 377.9,1492.3 379.5,1489.1 381.1,1485.9 382.6,1482.6 383.9,1479.5 385.2,1476.5 386.4,1473.3 387.5,1469.8 388.4,1465.8 388.9,1463.4 389.3,1460.8 389.6,1458.1 389.9,1455.2 390.2,1452.1 390.4,1449.0 390.6,1445.8 390.8,1442.5 391.0,1439.1 391.1,1435.8 391.3,1432.4 391.5,1429.1 391.7,1425.8 391.9,1422.6 392.1,1419.5 392.3,1416.6 392.6,1413.4 392.9,1410.4 393.2,1407.3 393.5,1404.3 393.8,1401.3 394.1,1398.4 394.4,1395.4 394.7,1392.5 395.0,1389.6 395.3,1386.6 395.6,1383.7 395.9,1380.7 396.2,1377.8 396.5,1374.7 396.8,1371.7 397.1,1368.7 397.4,1365.6 397.7,1362.6 398.0,1359.6 398.3,1356.5 398.6,1353.5 398.9,1350.4 399.2,1347.4 399.5,1344.4 399.8,1341.3 400.1,1338.3 400.4,1335.2 400.7,1332.1 401.0,1329.0 401.3,1325.9 401.6,1322.8 401.9,1319.7 402.2,1316.6 402.5,1313.5 402.8,1310.5 403.1,1307.5 403.4,1304.5 403.7,1301.6 404.0,1298.8 404.3,1295.4 404.6,1292.2 404.8,1289.0 405.1,1285.9 405.4,1282.8 405.6,1279.7 405.9,1276.7 406.2,1273.5 406.6,1270.3 406.9,1267.3 407.3,1264.4 407.7,1261.4 408.1,1258.5 408.5,1255.5 408.9,1252.5 409.3,1249.4 409.7,1246.2 410.1,1242.8 410.5,1239.3 410.7,1236.6 410.9,1233.8 411.1,1231.0 411.3,1228.1 411.5,1225.1 411.7,1222.0 411.8,1218.9 412.0,1215.7 412.2,1212.5 412.3,1209.2 412.5,1206.0 412.6,1202.7 412.8,1199.4 412.9,1196.1 413.1,1192.8 413.2,1189.5 413.4,1186.2 413.5,1183.0 413.7,1179.7 413.8,1176.7 414.0,1173.7 414.2,1170.6 414.3,1167.6 414.5,1164.5 414.6,1161.4 414.8,1158.4 415.0,1155.3 415.1,1152.2 415.3,1149.1 415.4,1146.0 415.6,1142.9 415.7,1139.8 415.9,1136.7 416.1,1133.6 416.2,1130.5 416.4,1127.4 416.5,1124.3 416.6,1121.2 416.8,1118.1 416.9,1115.0 417.1,1111.9 417.2,1108.9 417.3,1105.8 417.5,1102.7 417.6,1099.6 417.7,1096.5 417.8,1093.5 418.0,1090.4 418.1,1087.3 418.2,1084.2 418.3,1081.1 418.4,1078.1 418.6,1075.0 418.7,1071.9 418.8,1068.8 418.9,1065.7 419.0,1062.6 419.2,1059.6 419.3,1056.5 419.4,1053.4 419.5,1050.3 419.6,1047.2 419.8,1044.2 419.9,1041.1 420.0,1038.1 420.2,1035.0 420.3,1032.0 420.4,1029.0 420.6,1025.9 420.7,1022.9 420.8,1019.9 421.0,1016.8 421.1,1013.8 421.2,1010.7 421.3,1007.6 421.5,1004.5 421.6,1001.4 421.7,998.3 421.8,995.2 421.9,992.0 422.0,988.8 422.1,985.6 422.2,982.6 422.3,979.6 422.3,976.6 422.4,973.6 422.5,970.5 422.5,967.5 422.6,964.4 422.6,961.3 422.7,958.2 422.7,955.1 422.8,951.9 422.8,948.8 422.9,945.7 422.9,942.5 423.0,939.4 423.0,936.2 423.0,933.1 423.1,929.9 423.1,926.7 423.2,923.6 423.2,920.5 423.3,917.3 423.3,914.2 423.4,911.1 423.4,908.0"/>
<g fill="#fff" stroke="#008000" stroke-width="1.9"><path d="M311.9 1561.2L319.0 1572.7H304.8Z"/><path d="M312.8 1560.3L319.8 1571.8H305.7Z"/><path d="M313.7 1559.4L320.8 1570.9H306.6Z"/><path d="M314.8 1558.5L321.8 1570.0H307.7Z"/><path d="M315.9 1557.6L322.9 1569.1H308.8Z"/><path d="M317.1 1556.7L324.1 1568.2H310.0Z"/><path d="M318.3 1555.8L325.4 1567.3H311.2Z"/><path d="M319.6 1554.9L326.7 1566.4H312.6Z"/><path d="M321.0 1554.0L328.1 1565.5H313.9Z"/><path d="M322.4 1553.1L329.5 1564.6H315.3Z"/><path d="M323.8 1552.2L330.9 1563.7H316.7Z"/><path d="M325.2 1551.3L332.3 1562.8H318.2Z"/><path d="M326.7 1550.4L333.7 1561.9H319.6Z"/><path d="M328.1 1549.5L335.1 1561.0H321.0Z"/><path d="M329.5 1548.6L336.5 1560.1H322.4Z"/><path d="M330.8 1547.7L337.9 1559.2H323.8Z"/><path d="M332.2 1546.8L339.3 1558.3H325.1Z"/><path d="M333.6 1545.9L340.6 1557.4H326.5Z"/><path d="M334.9 1545.0L342.0 1556.5H327.8Z"/><path d="M336.3 1544.1L343.3 1555.6H329.2Z"/><path d="M337.6 1543.1L344.7 1554.6H330.6Z"/><path d="M339.0 1542.1L346.1 1553.5H331.9Z"/><path d="M340.4 1541.0L347.5 1552.5H333.3Z"/><path d="M341.8 1539.8L348.9 1551.3H334.7Z"/><path d="M343.2 1538.6L350.2 1550.1H336.1Z"/><path d="M344.6 1537.3L351.6 1548.8H337.5Z"/><path d="M345.9 1536.0L353.0 1547.4H338.8Z"/><path d="M347.2 1534.5L354.3 1546.0H340.2Z"/><path d="M348.5 1532.9L355.6 1544.4H341.4Z"/><path d="M349.9 1531.2L356.9 1542.6H342.8Z"/><path d="M351.3 1529.2L358.4 1540.7H344.2Z"/><path d="M352.8 1527.3L359.9 1538.8H345.7Z"/><path d="M354.4 1525.4L361.5 1536.8H347.3Z"/><path d="M356.1 1523.3L363.2 1534.8H349.0Z"/><path d="M357.9 1521.0L365.0 1532.5H350.8Z"/><path d="M359.8 1518.3L366.9 1529.7H352.7Z"/><path d="M361.7 1514.9L368.8 1526.4H354.7Z"/><path d="M363.8 1511.1L370.8 1522.6H356.7Z"/><path d="M365.9 1506.9L373.0 1518.4H358.9Z"/><path d="M368.4 1502.6L375.4 1514.0H361.3Z"/><path d="M371.0 1498.1L378.1 1509.5H364.0Z"/><path d="M373.9 1493.3L381.0 1504.7H366.8Z"/><path d="M376.9 1487.8L384.0 1499.3H369.8Z"/><path d="M380.1 1481.8L387.2 1493.2H373.0Z"/><path d="M383.4 1474.6L390.4 1486.1H376.3Z"/><path d="M386.6 1466.2L393.7 1477.7H379.6Z"/><path d="M389.1 1455.8L396.2 1467.2H382.0Z"/><path d="M390.3 1444.0L397.4 1455.5H383.2Z"/><path d="M391.1 1431.0L398.1 1442.5H384.0Z"/><path d="M391.9 1416.5L398.9 1428.0H384.8Z"/><path d="M393.3 1400.4L400.3 1411.9H386.2Z"/><path d="M395.1 1382.6L402.2 1394.0H388.0Z"/><path d="M397.1 1362.7L404.1 1374.2H390.0Z"/><path d="M399.2 1340.7L406.3 1352.2H392.2Z"/><path d="M401.7 1316.2L408.7 1327.7H394.6Z"/><path d="M404.3 1289.0L411.4 1300.5H397.2Z"/><path d="M407.2 1258.8L414.3 1270.3H400.1Z"/><path d="M411.1 1225.3L418.1 1236.8H404.0Z"/><path d="M413.0 1188.0L420.1 1199.5H405.9Z"/><path d="M415.1 1146.7L422.2 1158.1H408.0Z"/><path d="M417.3 1100.7L424.4 1112.2H410.2Z"/><path d="M419.3 1049.7L426.4 1061.1H412.2Z"/><path d="M421.7 993.0L428.7 1004.4H414.6Z"/><path d="M423.0 930.0L430.1 941.4H415.9Z"/></g>
<polyline clip-path="url(#cl5)" fill="none" stroke="#00e800" stroke-width="2.8" stroke-linejoin="round" points="275.1,1568.0 277.0,1566.1 279.0,1564.1 280.8,1562.3 282.9,1560.2 285.1,1558.2 287.7,1555.8 290.4,1553.4 293.2,1551.2 296.1,1549.2 299.1,1547.3 302.1,1545.4 304.9,1543.4 307.5,1541.4 310.0,1539.4 312.4,1537.3 314.6,1535.1 317.2,1532.4 319.5,1529.6 321.7,1526.7 323.6,1524.0 325.3,1521.1 326.9,1518.3 328.3,1515.6 329.6,1512.8 330.8,1510.0 331.9,1507.2 333.0,1504.4 334.0,1501.6 335.4,1497.4 336.6,1493.2 337.8,1489.0 339.0,1484.8 339.9,1480.6 340.8,1476.4 341.3,1472.2 341.8,1468.1 342.4,1463.9 343.1,1459.7 343.7,1455.7 344.4,1451.5 344.9,1448.4 345.4,1445.1 345.9,1441.5 346.3,1437.3 346.6,1434.9 346.8,1432.2 347.0,1429.4 347.2,1426.4 347.4,1423.3 347.5,1420.1 347.7,1416.8 347.9,1413.5 348.1,1410.1 348.3,1406.8 348.5,1403.5 348.7,1400.3 348.9,1397.2 349.2,1393.9 349.4,1390.7 349.7,1387.4 350.0,1384.2 350.3,1381.0 350.6,1377.8 350.9,1374.5 351.2,1371.3 351.4,1368.1 351.7,1364.8 351.9,1361.6 352.2,1358.3 352.4,1355.3 352.5,1352.2 352.7,1349.2 352.9,1346.2 353.0,1343.1 353.2,1340.1 353.3,1337.1 353.5,1334.0 353.6,1330.9 353.7,1327.8 353.9,1324.6 354.0,1321.4 354.1,1318.2 354.2,1315.3 354.3,1312.2 354.4,1309.1 354.5,1306.0 354.6,1302.8 354.6,1299.6 354.7,1296.4 354.8,1293.2 354.9,1290.0 354.9,1286.8 355.0,1283.7 355.1,1280.6 355.1,1277.6 355.2,1274.6 355.3,1271.8 355.4,1269.0 355.5,1265.4 355.7,1262.0 355.8,1258.7 356.0,1255.5 356.1,1252.4 356.3,1249.2 356.4,1246.0 356.6,1242.7 356.7,1239.3 356.8,1236.4 356.9,1233.4 357.0,1230.5 357.1,1227.4 357.2,1224.4 357.3,1221.3 357.4,1218.1 357.5,1215.0 357.6,1211.8 357.7,1208.7 357.8,1205.5 357.9,1202.3 358.0,1199.2 358.1,1196.1 358.2,1193.0 358.3,1189.8 358.4,1186.7 358.5,1183.5 358.7,1180.4 358.8,1177.2 358.9,1174.0 359.0,1170.8 359.1,1167.7 359.3,1164.5 359.4,1161.4 359.5,1158.3 359.7,1155.2 359.8,1151.9 360.0,1148.8 360.1,1145.6 360.3,1142.5 360.4,1139.4 360.6,1136.3 360.8,1133.2 360.9,1130.0 361.1,1126.8 361.3,1123.6 361.5,1120.4 361.7,1117.1 361.9,1113.7 362.1,1110.9 362.2,1108.0 362.4,1105.1 362.6,1102.2 362.9,1099.2 363.1,1096.2 363.3,1093.2 363.5,1090.1 363.7,1087.1 364.0,1084.0 364.2,1080.9 364.4,1077.8 364.6,1074.7 364.9,1071.6 365.1,1068.6 365.3,1065.5 365.5,1062.4 365.8,1059.4 366.0,1056.3 366.2,1053.3 366.4,1050.2 366.6,1047.2 366.9,1044.2 367.1,1041.2 367.3,1038.1 367.5,1035.1 367.7,1032.1 368.0,1029.0 368.2,1026.0 368.4,1022.9 368.6,1019.8 368.8,1016.6 369.0,1013.5 369.2,1010.3 369.4,1007.0 369.7,1003.7 369.8,1000.8 370.0,997.8 370.2,994.7 370.4,991.5 370.6,988.3 370.8,985.0 371.0,981.7 371.1,978.3 371.3,974.9 371.5,971.5 371.7,968.2 371.9,964.8 372.1,961.5 372.2,958.2 372.4,954.9 372.6,951.7 372.7,948.6 372.9,945.6 373.0,942.7 373.1,939.9 373.3,937.2 373.4,934.6 373.5,932.2 373.5,930.0 373.7,926.1 373.7,922.7 373.8,919.6 373.8,916.7 373.9,913.9 373.9,911.0 373.9,908.0"/>
<g fill="#fff" stroke="#00e800" stroke-width="1.9"><path d="M275.6 1561.3L282.7 1572.7H268.5Z"/><path d="M276.5 1560.4L283.6 1571.8H269.4Z"/><path d="M277.4 1559.5L284.5 1570.9H270.3Z"/><path d="M278.3 1558.6L285.4 1570.0H271.2Z"/><path d="M279.2 1557.7L286.3 1569.1H272.1Z"/><path d="M280.1 1556.8L287.2 1568.2H273.0Z"/><path d="M281.0 1555.9L288.0 1567.3H273.9Z"/><path d="M281.9 1555.0L289.0 1566.4H274.8Z"/><path d="M282.8 1554.1L289.9 1565.5H275.7Z"/><path d="M283.8 1553.2L290.8 1564.6H276.7Z"/><path d="M284.7 1552.3L291.8 1563.7H277.7Z"/><path d="M285.7 1551.4L292.8 1562.8H278.6Z"/><path d="M286.7 1550.5L293.8 1561.9H279.6Z"/><path d="M287.7 1549.6L294.8 1561.0H280.6Z"/><path d="M288.7 1548.7L295.8 1560.1H281.7Z"/><path d="M289.8 1547.8L296.9 1559.2H282.7Z"/><path d="M290.8 1546.9L297.9 1558.3H283.8Z"/><path d="M292.0 1546.0L299.0 1557.4H284.9Z"/><path d="M293.1 1545.1L300.2 1556.5H286.0Z"/><path d="M294.4 1544.2L301.4 1555.6H287.3Z"/><path d="M295.8 1543.2L302.8 1554.6H288.7Z"/><path d="M297.3 1542.1L304.4 1553.6H290.3Z"/><path d="M299.1 1541.1L306.1 1552.5H292.0Z"/><path d="M300.9 1539.9L308.0 1551.4H293.8Z"/><path d="M302.7 1538.7L309.8 1550.2H295.7Z"/><path d="M304.6 1537.4L311.6 1548.9H297.5Z"/><path d="M306.4 1536.1L313.4 1547.5H299.3Z"/><path d="M308.2 1534.6L315.2 1546.1H301.1Z"/><path d="M310.0 1533.1L317.1 1544.6H302.9Z"/><path d="M311.8 1531.5L318.9 1543.0H304.7Z"/><path d="M313.6 1529.9L320.7 1541.3H306.5Z"/><path d="M315.4 1528.1L322.4 1539.5H308.3Z"/><path d="M317.1 1526.2L324.2 1537.7H310.1Z"/><path d="M318.8 1524.2L325.9 1535.7H311.7Z"/><path d="M320.6 1522.0L327.6 1533.5H313.5Z"/><path d="M322.4 1519.5L329.5 1531.0H315.3Z"/><path d="M324.3 1516.5L331.4 1528.0H317.3Z"/><path d="M326.4 1513.1L333.4 1524.5H319.3Z"/><path d="M328.5 1509.0L335.5 1520.5H321.4Z"/><path d="M330.6 1504.3L337.7 1515.7H323.5Z"/><path d="M332.8 1498.8L339.9 1510.3H325.7Z"/><path d="M335.0 1492.4L342.1 1503.9H327.9Z"/><path d="M337.2 1485.0L344.3 1496.4H330.1Z"/><path d="M339.4 1476.5L346.5 1488.0H332.4Z"/><path d="M341.2 1467.1L348.2 1478.6H334.1Z"/><path d="M342.6 1456.6L349.7 1468.1H335.5Z"/><path d="M344.4 1445.0L351.5 1456.4H337.4Z"/><path d="M346.2 1432.0L353.3 1443.5H339.2Z"/><path d="M347.3 1417.7L354.4 1429.1H340.3Z"/><path d="M348.2 1401.7L355.3 1413.2H341.2Z"/><path d="M349.5 1384.0L356.6 1395.5H342.4Z"/><path d="M351.2 1364.3L358.3 1375.8H344.1Z"/><path d="M352.8 1342.5L359.8 1353.9H345.7Z"/><path d="M353.9 1318.2L360.9 1329.6H346.8Z"/><path d="M354.7 1291.2L361.8 1302.7H347.6Z"/><path d="M355.5 1261.3L362.5 1272.7H348.4Z"/><path d="M356.9 1228.0L364.0 1239.4H349.8Z"/><path d="M358.1 1191.0L365.1 1202.5H351.0Z"/><path d="M359.6 1150.0L366.7 1161.4H352.6Z"/><path d="M362.1 1104.4L369.2 1115.9H355.0Z"/><path d="M365.7 1053.8L372.8 1065.2H358.6Z"/><path d="M369.7 997.5L376.7 1009.0H362.6Z"/><path d="M373.1 935.0L380.1 946.5H366.0Z"/></g>
<polyline clip-path="url(#cl5)" fill="none" stroke="#00e800" stroke-width="2.8" stroke-linejoin="round" points="280.3,1568.0 282.2,1566.1 284.2,1564.1 286.0,1562.3 288.1,1560.2 290.3,1558.2 292.8,1555.8 295.6,1553.4 298.4,1551.2 301.3,1549.2 304.2,1547.3 307.2,1545.4 310.1,1543.4 312.8,1541.4 315.4,1539.4 318.0,1537.3 320.4,1535.1 323.2,1532.4 325.8,1529.6 328.2,1526.7 330.1,1524.0 331.8,1521.1 333.4,1518.3 334.8,1515.6 336.1,1512.8 337.3,1510.0 338.4,1507.2 339.5,1504.4 340.5,1501.6 341.9,1497.4 343.1,1493.2 344.3,1489.0 345.4,1484.8 346.3,1480.6 347.0,1476.4 347.6,1472.2 348.3,1468.1 348.9,1463.9 349.6,1459.7 350.2,1455.7 350.9,1451.5 351.3,1448.4 351.8,1445.1 352.3,1441.4 352.8,1437.3 353.1,1434.9 353.4,1432.2 353.7,1429.4 353.9,1426.4 354.2,1423.3 354.6,1420.1 354.9,1416.8 355.2,1413.5 355.5,1410.1 355.8,1406.8 356.1,1403.5 356.4,1400.3 356.7,1397.2 357.0,1394.2 357.3,1391.2 357.6,1388.2 357.9,1385.2 358.2,1382.2 358.6,1379.2 358.9,1376.3 359.2,1373.3 359.5,1370.3 359.8,1367.3 360.1,1364.3 360.3,1361.3 360.6,1358.3 360.8,1355.3 361.1,1352.2 361.3,1349.2 361.5,1346.2 361.7,1343.1 361.9,1340.1 362.1,1337.1 362.3,1334.0 362.5,1330.9 362.7,1327.8 362.8,1324.6 363.0,1321.4 363.2,1318.2 363.3,1315.3 363.5,1312.3 363.6,1309.3 363.8,1306.3 363.9,1303.2 364.0,1300.1 364.2,1297.0 364.3,1293.9 364.4,1290.8 364.5,1287.7 364.6,1284.5 364.7,1281.4 364.8,1278.3 364.9,1275.2 365.0,1272.1 365.1,1269.0 365.2,1265.8 365.3,1262.6 365.3,1259.4 365.3,1256.1 365.4,1252.9 365.4,1249.7 365.4,1246.4 365.4,1243.2 365.5,1240.0 365.5,1236.8 365.5,1233.7 365.6,1230.5 365.6,1227.4 365.7,1224.2 365.8,1221.2 365.9,1217.9 366.0,1214.6 366.1,1211.4 366.3,1208.2 366.4,1205.0 366.6,1201.8 366.7,1198.6 366.9,1195.5 367.1,1192.3 367.2,1189.2 367.4,1186.0 367.6,1182.9 367.7,1179.7 367.9,1176.6 368.0,1173.6 368.1,1170.5 368.3,1167.5 368.4,1164.5 368.6,1161.4 368.7,1158.4 368.8,1155.4 369.0,1152.3 369.1,1149.2 369.3,1146.0 369.5,1142.9 369.7,1139.6 369.8,1136.6 370.0,1133.6 370.2,1130.5 370.4,1127.4 370.6,1124.3 370.8,1121.1 371.1,1118.0 371.3,1114.8 371.5,1111.6 371.7,1108.4 371.9,1105.2 372.1,1101.9 372.3,1098.7 372.5,1095.5 372.7,1092.3 372.9,1089.1 373.0,1086.1 373.2,1083.1 373.3,1080.1 373.5,1077.1 373.6,1074.2 373.7,1071.2 373.8,1068.2 373.9,1065.2 374.0,1062.2 374.2,1059.2 374.3,1056.1 374.4,1053.1 374.5,1050.0 374.6,1046.9 374.6,1043.8 374.7,1040.6 374.8,1037.4 374.9,1034.5 375.0,1031.7 375.0,1028.8 375.1,1025.8 375.1,1022.9 375.2,1019.9 375.2,1016.9 375.2,1013.9 375.3,1010.9 375.3,1007.8 375.3,1004.8 375.4,1001.7 375.4,998.7 375.4,995.6 375.5,992.5 375.6,989.5 375.6,986.4 375.7,983.4 375.8,980.4 375.9,977.4 376.0,974.4 376.1,971.4 376.3,968.3 376.4,965.3 376.6,962.2 376.8,959.2 377.0,956.2 377.2,953.2 377.4,950.1 377.6,947.1 377.8,944.1 378.1,941.1 378.3,938.1 378.5,935.1 378.8,932.1 379.0,929.0 379.3,926.0 379.5,923.0 379.7,920.0 380.0,917.0 380.2,914.0 380.4,911.0 380.7,908.0"/>
<g fill="#fff" stroke="#00e800" stroke-width="1.9"><path d="M280.4 1561.6L287.5 1573.1H273.4Z"/><path d="M281.3 1560.7L288.4 1572.2H274.3Z"/><path d="M282.2 1559.8L289.3 1571.3H275.2Z"/><path d="M283.1 1558.9L290.2 1570.4H276.1Z"/><path d="M284.0 1558.0L291.1 1569.5H277.0Z"/><path d="M284.9 1557.1L292.0 1568.6H277.9Z"/><path d="M285.8 1556.2L292.9 1567.7H278.7Z"/><path d="M286.7 1555.3L293.8 1566.8H279.6Z"/><path d="M287.6 1554.4L294.7 1565.9H280.6Z"/><path d="M288.6 1553.5L295.7 1565.0H281.5Z"/><path d="M289.6 1552.6L296.6 1564.1H282.5Z"/><path d="M290.5 1551.7L297.6 1563.2H283.5Z"/><path d="M291.5 1550.8L298.6 1562.3H284.4Z"/><path d="M292.5 1549.9L299.6 1561.4H285.4Z"/><path d="M293.5 1549.0L300.6 1560.5H286.5Z"/><path d="M294.6 1548.1L301.6 1559.6H287.5Z"/><path d="M295.6 1547.2L302.7 1558.7H288.5Z"/><path d="M296.7 1546.3L303.8 1557.8H289.7Z"/><path d="M297.8 1545.4L304.9 1556.9H290.8Z"/><path d="M299.0 1544.5L306.1 1556.0H292.0Z"/><path d="M300.4 1543.5L307.5 1555.0H293.3Z"/><path d="M301.9 1542.5L309.0 1554.0H294.8Z"/><path d="M303.6 1541.5L310.6 1552.9H296.5Z"/><path d="M305.3 1540.3L312.4 1551.8H298.2Z"/><path d="M307.2 1539.2L314.3 1550.6H300.1Z"/><path d="M309.0 1537.9L316.1 1549.4H302.0Z"/><path d="M310.9 1536.6L318.0 1548.0H303.8Z"/><path d="M312.8 1535.2L319.9 1546.6H305.7Z"/><path d="M314.7 1533.7L321.8 1545.2H307.6Z"/><path d="M316.7 1532.1L323.7 1543.6H309.6Z"/><path d="M318.6 1530.5L325.7 1542.0H311.6Z"/><path d="M320.6 1528.8L327.7 1540.2H313.5Z"/><path d="M322.5 1526.9L329.5 1538.4H315.4Z"/><path d="M324.3 1525.0L331.4 1536.5H317.3Z"/><path d="M326.2 1522.9L333.3 1534.4H319.1Z"/><path d="M328.0 1520.7L335.1 1532.2H320.9Z"/><path d="M329.9 1518.0L337.0 1529.5H322.8Z"/><path d="M331.9 1514.8L339.0 1526.2H324.8Z"/><path d="M333.9 1511.0L341.0 1522.4H326.9Z"/><path d="M336.1 1506.6L343.1 1518.0H329.0Z"/><path d="M338.2 1501.5L345.3 1512.9H331.2Z"/><path d="M340.5 1495.5L347.5 1507.0H333.4Z"/><path d="M342.6 1488.6L349.7 1500.0H335.6Z"/><path d="M344.9 1480.6L352.0 1492.1H337.8Z"/><path d="M346.7 1471.6L353.8 1483.1H339.7Z"/><path d="M348.3 1461.7L355.4 1473.1H341.2Z"/><path d="M350.0 1450.6L357.1 1462.0H343.0Z"/><path d="M351.9 1438.3L359.0 1449.7H344.8Z"/><path d="M353.5 1424.6L360.6 1436.1H346.4Z"/><path d="M355.0 1409.4L362.0 1420.9H347.9Z"/><path d="M356.5 1392.5L363.6 1404.0H349.5Z"/><path d="M358.5 1373.8L365.6 1385.3H351.4Z"/><path d="M360.5 1353.0L367.6 1364.5H353.4Z"/><path d="M362.2 1329.9L369.2 1341.3H355.1Z"/><path d="M363.6 1304.2L370.6 1315.7H356.5Z"/><path d="M364.7 1275.7L371.8 1287.2H357.7Z"/><path d="M365.4 1244.0L372.5 1255.5H358.3Z"/><path d="M366.0 1208.8L373.1 1220.3H358.9Z"/><path d="M367.9 1169.8L375.0 1181.2H360.8Z"/><path d="M370.1 1126.4L377.1 1137.8H363.0Z"/><path d="M373.1 1078.2L380.2 1089.6H366.0Z"/><path d="M375.0 1024.6L382.1 1036.1H367.9Z"/><path d="M376.1 965.2L383.2 976.6H369.1Z"/></g>
</g>
<rect x="568.50" y="1213.00" width="219.40" height="310.00" fill="none" stroke="#000" stroke-width="2.6"/>
<line x1="568.50" y1="1523.00" x2="778.03" y2="1224.37" stroke="#bebebe" stroke-width="5.0" stroke-dasharray="35 21" stroke-dashoffset="0"/>
<path d="M592.67 1523.00v-8M641.00 1523.00v-8M689.34 1523.00v-8M737.67 1523.00v-8M786.00 1523.00v-8M616.83 1523.00v-5M665.17 1523.00v-5M713.50 1523.00v-5M761.84 1523.00v-5M568.50 1419.67h8M568.50 1316.33h8M568.50 1471.33h5M568.50 1368.00h5M568.50 1264.67h5" stroke="#000" stroke-width="2.4" fill="none"/>
<text font-size="27.5" text-anchor="middle" transform="translate(592.67 1553.00) scale(1.13 1)">60</text>
<text font-size="27.5" text-anchor="middle" transform="translate(641.00 1553.00) scale(1.13 1)">80</text>
<text font-size="27.5" text-anchor="middle" transform="translate(689.34 1553.00) scale(1.13 1)">100</text>
<text font-size="27.5" text-anchor="middle" transform="translate(737.67 1553.00) scale(1.13 1)">120</text>
<text font-size="27.5" text-anchor="middle" transform="translate(786.00 1553.00) scale(1.13 1)">140</text>
<text font-size="27.5" text-anchor="end" transform="translate(559.00 1532.00) scale(1.13 1)">0</text>
<text font-size="27.5" text-anchor="end" transform="translate(559.00 1428.67) scale(1.13 1)">30</text>
<text font-size="27.5" text-anchor="end" transform="translate(559.00 1325.33) scale(1.13 1)">60</text>
<text font-size="27.5" text-anchor="end" transform="translate(559.00 1222.00) scale(1.13 1)">90</text>
<clipPath id="cl6"><rect x="567.00" y="1211.50" width="222.40" height="313.00"/></clipPath>
<g>
<polyline clip-path="url(#cl6)" fill="none" stroke="#000000" stroke-width="1.4" stroke-linejoin="round" points="573.6,1523.0 575.1,1519.5 576.6,1516.1 578.2,1512.7 580.0,1509.4 581.9,1506.1 583.7,1502.3 584.7,1499.7 585.6,1496.7 586.5,1493.5 587.3,1490.2 588.1,1486.9 588.7,1483.5 589.3,1480.3 589.7,1477.2 590.0,1474.2 590.1,1471.1 590.2,1468.1 590.3,1464.9 590.4,1461.5 590.5,1457.9 590.6,1455.2 590.6,1452.3 590.7,1449.4 590.7,1446.3 590.7,1443.2 590.7,1439.9 590.7,1436.6 590.8,1433.3 590.8,1430.0 590.8,1426.6 590.8,1423.3 590.9,1420.0 590.9,1416.7 591.0,1413.5 591.1,1410.3 591.2,1407.1 591.3,1403.9 591.4,1400.7 591.5,1397.5 591.6,1394.3 591.8,1391.1 591.9,1387.9 592.0,1384.7 592.2,1381.5 592.3,1378.3 592.4,1375.1 592.6,1371.9 592.7,1368.7 592.8,1365.5 592.9,1362.3 593.0,1359.1 593.1,1355.9 593.1,1352.7 593.2,1349.5 593.3,1346.3 593.4,1343.1 593.5,1339.9 593.6,1336.7 593.6,1333.5 593.7,1330.3 593.8,1327.1 593.9,1323.9 594.0,1320.7 594.0,1317.5 594.1,1314.3 594.2,1311.1 594.2,1307.9 594.3,1304.7 594.4,1301.5 594.4,1298.3 594.5,1295.1 594.6,1291.9 594.6,1288.7 594.7,1285.5 594.8,1282.3 594.8,1279.1 594.9,1275.9 595.0,1272.6 595.1,1269.2 595.2,1265.8 595.2,1262.3 595.3,1258.9 595.4,1255.5 595.5,1252.2 595.6,1248.9 595.7,1245.8 595.8,1242.7 595.8,1239.9 595.9,1237.2 596.1,1234.7 596.2,1231.1 596.4,1228.2 596.6,1225.4 596.8,1222.4 597.0,1218.9 597.1,1216.5 597.3,1214.2 597.4,1211.8 597.5,1209.3 597.6,1206.8 597.8,1204.1 597.9,1201.3 598.0,1198.3 598.1,1195.1 598.3,1191.6 598.4,1188.0 598.5,1184.0 598.6,1179.7 598.7,1175.1 598.7,1173.7 598.8,1172.2 598.8,1170.7 598.8,1169.2 598.9,1167.6 598.9,1166.0 598.9,1164.3 598.9,1162.6 599.0,1160.9 599.0,1159.1 599.0,1157.3 599.1,1155.4 599.1,1153.6 599.1,1151.6 599.1,1149.7 599.2,1147.7 599.2,1145.7 599.2,1143.6 599.2,1141.5 599.2,1139.4 599.3,1137.2 599.3,1135.1 599.3,1132.8 599.3,1130.6 599.4,1128.3 599.4,1126.0 599.4,1123.6 599.4,1121.2 599.5,1118.8 599.5,1116.4 599.5,1113.9 599.5,1111.4 599.5,1108.9 599.6,1106.4 599.6,1103.8 599.6,1101.2 599.6,1098.5 599.6,1095.9 599.6,1093.2 599.7,1090.5 599.7,1087.8 599.7,1085.0 599.7,1082.2 599.7,1079.4 599.8,1076.6 599.8,1073.7 599.8,1070.8 599.8,1067.9 599.8,1065.0 599.8,1062.0 599.8,1059.1 599.9,1056.1 599.9,1053.1 599.9,1050.1 599.9,1047.0 599.9,1043.9 599.9,1040.9 600.0,1037.7 600.0,1034.6 600.0,1031.5 600.0,1028.3 600.0,1025.1 600.0,1021.9 600.0,1018.7 600.1,1015.5 600.1,1012.3 600.1,1009.0 600.1,1005.7 600.1,1002.5 600.1,999.2 600.1,995.9 600.1,992.5 600.2,989.2 600.2,985.8 600.2,982.5 600.2,979.1 600.2,975.7 600.2,972.3 600.2,968.9 600.2,965.5 600.2,962.1 600.3,958.6 600.3,955.2 600.3,951.7 600.3,948.3 600.3,944.8 600.3,941.3 600.3,937.9 600.3,934.4 600.3,930.9 600.4,927.4 600.4,923.9 600.4,920.4 600.4,916.8 600.4,913.3 600.4,909.8 600.4,906.3 600.4,902.7 600.4,899.2 600.4,895.7 600.5,892.1 600.5,888.6 600.5,885.1 600.5,881.5 600.5,878.0 600.5,874.4 600.5,870.9 600.5,867.4 600.5,863.8 600.6,860.3 600.6,856.8 600.6,853.2 600.6,849.7 600.6,846.2 600.6,842.7 600.6,839.1 600.6,835.6 600.6,832.1 600.6,828.6 600.7,825.1 600.7,821.6 600.7,818.1 600.7,814.7 600.7,811.2 600.7,807.7 600.7,804.3 600.7,800.8 600.7,797.4 600.8,794.0 600.8,790.5 600.8,787.1 600.8,783.7 600.8,780.3 600.8,777.0 600.8,773.6 600.8,770.2 600.9,766.9 600.9,763.6 600.9,760.3 600.9,756.9 600.9,753.7 600.9,750.4 600.9,747.1 600.9,743.9 601.0,740.6 601.0,737.4 601.0,734.2 601.0,731.1 601.0,727.9 601.0,724.7 601.0,721.6 601.1,718.5 601.1,715.4 601.1,712.3 601.1,709.3 601.1,706.2 601.1,703.2"/>
<g fill="#fff" stroke="#000000" stroke-width="1.3"><circle cx="573.7" cy="1522.7" r="4.35"/><circle cx="574.2" cy="1521.5" r="4.35"/><circle cx="574.8" cy="1520.3" r="4.35"/><circle cx="575.3" cy="1519.1" r="4.35"/><circle cx="575.8" cy="1517.9" r="4.35"/><circle cx="576.3" cy="1516.7" r="4.35"/><circle cx="576.9" cy="1515.5" r="4.35"/><circle cx="577.4" cy="1514.3" r="4.35"/><circle cx="578.0" cy="1513.1" r="4.35"/><circle cx="578.6" cy="1511.9" r="4.35"/><circle cx="579.3" cy="1510.7" r="4.35"/><circle cx="580.0" cy="1509.5" r="4.35"/><circle cx="580.7" cy="1508.3" r="4.35"/><circle cx="581.4" cy="1507.1" r="4.35"/><circle cx="582.1" cy="1505.8" r="4.35"/><circle cx="582.8" cy="1504.3" r="4.35"/><circle cx="583.6" cy="1502.7" r="4.35"/><circle cx="584.3" cy="1500.7" r="4.35"/><circle cx="585.1" cy="1498.4" r="4.35"/><circle cx="585.9" cy="1495.8" r="4.35"/><circle cx="586.7" cy="1492.8" r="4.35"/><circle cx="587.5" cy="1489.5" r="4.35"/><circle cx="588.3" cy="1485.8" r="4.35"/><circle cx="589.1" cy="1481.6" r="4.35"/><circle cx="589.7" cy="1477.1" r="4.35"/><circle cx="590.1" cy="1472.0" r="4.35"/><circle cx="590.3" cy="1466.3" r="4.35"/><circle cx="590.4" cy="1460.0" r="4.35"/><circle cx="590.6" cy="1453.1" r="4.35"/><circle cx="590.7" cy="1445.3" r="4.35"/><circle cx="590.7" cy="1436.7" r="4.35"/><circle cx="590.8" cy="1427.2" r="4.35"/><circle cx="590.9" cy="1416.6" r="4.35"/><circle cx="591.2" cy="1404.8" r="4.35"/><circle cx="591.8" cy="1391.7" r="4.35"/><circle cx="592.4" cy="1377.2" r="4.35"/><circle cx="592.9" cy="1361.0" r="4.35"/><circle cx="593.4" cy="1343.1" r="4.35"/><circle cx="593.9" cy="1323.2" r="4.35"/><circle cx="594.4" cy="1301.0" r="4.35"/><circle cx="594.9" cy="1276.5" r="4.35"/><circle cx="595.6" cy="1249.2" r="4.35"/><circle cx="597.0" cy="1218.9" r="4.35"/></g>
<polyline clip-path="url(#cl6)" fill="none" stroke="#000000" stroke-width="1.4" stroke-linejoin="round" points="574.8,1523.0 576.6,1520.4 578.3,1517.8 580.1,1515.3 581.8,1512.7 583.9,1509.4 586.0,1506.1 587.8,1502.3 588.8,1499.7 589.7,1496.7 590.5,1493.5 591.3,1490.2 592.0,1486.9 592.6,1483.5 593.2,1480.3 593.6,1477.2 594.0,1474.1 594.3,1471.1 594.5,1468.1 594.7,1464.9 594.9,1461.5 595.1,1457.9 595.2,1455.2 595.3,1452.3 595.3,1449.4 595.4,1446.3 595.4,1443.2 595.4,1439.9 595.4,1436.6 595.4,1433.3 595.4,1430.0 595.4,1426.6 595.4,1423.3 595.5,1420.0 595.5,1416.7 595.6,1413.5 595.6,1410.3 595.7,1407.1 595.8,1403.9 595.9,1400.7 596.0,1397.5 596.1,1394.3 596.2,1391.1 596.4,1387.9 596.5,1384.7 596.6,1381.5 596.7,1378.3 596.8,1375.1 596.9,1371.9 597.0,1368.7 597.1,1365.5 597.2,1362.3 597.3,1359.1 597.4,1355.9 597.5,1352.7 597.6,1349.5 597.6,1346.3 597.7,1343.1 597.8,1339.9 597.9,1336.7 598.0,1333.5 598.1,1330.3 598.1,1327.1 598.2,1323.9 598.3,1320.7 598.4,1317.5 598.5,1314.3 598.6,1311.1 598.7,1307.9 598.8,1304.7 598.8,1301.5 598.9,1298.3 599.0,1295.1 599.1,1291.9 599.2,1288.7 599.3,1285.5 599.4,1282.3 599.4,1279.1 599.5,1275.9 599.6,1272.6 599.6,1269.2 599.7,1265.8 599.8,1262.3 599.8,1258.9 599.9,1255.5 599.9,1252.2 600.0,1248.9 600.1,1245.8 600.1,1242.7 600.2,1239.9 600.3,1237.2 600.4,1234.7 600.6,1231.1 600.8,1228.2 601.0,1225.4 601.2,1222.4 601.4,1218.9 601.5,1216.5 601.6,1214.2 601.7,1211.8 601.8,1209.4 601.9,1206.9 602.0,1204.2 602.1,1201.4 602.2,1198.4 602.3,1195.3 602.4,1191.8 602.5,1188.1 602.6,1184.1 602.7,1179.8 602.8,1175.1 602.8,1173.8 602.9,1172.4 602.9,1171.0 602.9,1169.5 602.9,1168.0 603.0,1166.5 603.0,1165.0 603.0,1163.4 603.0,1161.8 603.0,1160.1 603.1,1158.4 603.1,1156.7 603.1,1154.9 603.1,1153.1 603.1,1151.3 603.2,1149.5 603.2,1147.6 603.2,1145.7 603.2,1143.7 603.2,1141.7 603.3,1139.7 603.3,1137.7 603.3,1135.6 603.3,1133.5 603.3,1131.4 603.4,1129.2 603.4,1127.0 603.4,1124.8 603.4,1122.5 603.4,1120.3 603.4,1118.0 603.5,1115.6 603.5,1113.3 603.5,1110.9 603.5,1108.5 603.5,1106.0 603.5,1103.6 603.5,1101.1 603.6,1098.6 603.6,1096.0 603.6,1093.4 603.6,1090.9 603.6,1088.2 603.6,1085.6 603.6,1082.9 603.7,1080.3 603.7,1077.6 603.7,1074.8 603.7,1072.1 603.7,1069.3 603.7,1066.5 603.7,1063.7 603.7,1060.8 603.8,1058.0 603.8,1055.1 603.8,1052.2 603.8,1049.3 603.8,1046.3 603.8,1043.4 603.8,1040.4 603.8,1037.4 603.8,1034.4 603.9,1031.3 603.9,1028.3 603.9,1025.2 603.9,1022.1 603.9,1019.0 603.9,1015.9 603.9,1012.8 603.9,1009.6 603.9,1006.4 603.9,1003.3 603.9,1000.1 604.0,996.8 604.0,993.6 604.0,990.4 604.0,987.1 604.0,983.8 604.0,980.5 604.0,977.2 604.0,973.9 604.0,970.6 604.0,967.3 604.0,963.9 604.0,960.6 604.1,957.2 604.1,953.8 604.1,950.4 604.1,947.0 604.1,943.6 604.1,940.2 604.1,936.8 604.1,933.3 604.1,929.9 604.1,926.4 604.1,922.9 604.1,919.5 604.1,916.0 604.1,912.5 604.2,909.0 604.2,905.5 604.2,902.0 604.2,898.5 604.2,894.9 604.2,891.4 604.2,887.9 604.2,884.3 604.2,880.8 604.2,877.2 604.2,873.7 604.2,870.1 604.2,866.6 604.2,863.0 604.2,859.4 604.2,855.9 604.3,852.3 604.3,848.7 604.3,845.2 604.3,841.6 604.3,838.0 604.3,834.4 604.3,830.9 604.3,827.3 604.3,823.7 604.3,820.1 604.3,816.5 604.3,813.0 604.3,809.4 604.3,805.8 604.3,802.3 604.3,798.7 604.3,795.1 604.4,791.6 604.4,788.0 604.4,784.4 604.4,780.9 604.4,777.3 604.4,773.8 604.4,770.2 604.4,766.7 604.4,763.2 604.4,759.7 604.4,756.1 604.4,752.6 604.4,749.1 604.4,745.6 604.4,742.1 604.4,738.6 604.5,735.2 604.5,731.7 604.5,728.2 604.5,724.8 604.5,721.3 604.5,717.9 604.5,714.5 604.5,711.1 604.5,707.7 604.5,704.3 604.5,700.9 604.5,697.5 604.5,694.1 604.6,690.8 604.6,687.4 604.6,684.1 604.6,680.8 604.6,677.5 604.6,674.2 604.6,670.9 604.6,667.7 604.6,664.4 604.6,661.2 604.6,658.0 604.6,654.8 604.7,651.6 604.7,648.4 604.7,645.2 604.7,642.1 604.7,639.0 604.7,635.8 604.7,632.8 604.7,629.7 604.7,626.6 604.7,623.6 604.8,620.6"/>
<g fill="#fff" stroke="#000000" stroke-width="1.3"><circle cx="575.4" cy="1522.1" r="4.35"/><circle cx="576.2" cy="1520.9" r="4.35"/><circle cx="577.1" cy="1519.7" r="4.35"/><circle cx="577.9" cy="1518.5" r="4.35"/><circle cx="578.7" cy="1517.3" r="4.35"/><circle cx="579.6" cy="1516.1" r="4.35"/><circle cx="580.4" cy="1514.9" r="4.35"/><circle cx="581.1" cy="1513.7" r="4.35"/><circle cx="581.9" cy="1512.5" r="4.35"/><circle cx="582.7" cy="1511.3" r="4.35"/><circle cx="583.5" cy="1510.1" r="4.35"/><circle cx="584.3" cy="1508.9" r="4.35"/><circle cx="585.0" cy="1507.7" r="4.35"/><circle cx="585.8" cy="1506.5" r="4.35"/><circle cx="586.5" cy="1505.1" r="4.35"/><circle cx="587.2" cy="1503.5" r="4.35"/><circle cx="588.0" cy="1501.8" r="4.35"/><circle cx="588.8" cy="1499.7" r="4.35"/><circle cx="589.5" cy="1497.2" r="4.35"/><circle cx="590.3" cy="1494.4" r="4.35"/><circle cx="591.1" cy="1491.2" r="4.35"/><circle cx="591.8" cy="1487.7" r="4.35"/><circle cx="592.6" cy="1483.8" r="4.35"/><circle cx="593.3" cy="1479.4" r="4.35"/><circle cx="593.9" cy="1474.6" r="4.35"/><circle cx="594.4" cy="1469.3" r="4.35"/><circle cx="594.8" cy="1463.3" r="4.35"/><circle cx="595.1" cy="1456.7" r="4.35"/><circle cx="595.3" cy="1449.4" r="4.35"/><circle cx="595.4" cy="1441.2" r="4.35"/><circle cx="595.4" cy="1432.2" r="4.35"/><circle cx="595.5" cy="1422.1" r="4.35"/><circle cx="595.6" cy="1410.9" r="4.35"/><circle cx="596.0" cy="1398.5" r="4.35"/><circle cx="596.5" cy="1384.8" r="4.35"/><circle cx="597.0" cy="1369.5" r="4.35"/><circle cx="597.5" cy="1352.5" r="4.35"/><circle cx="598.0" cy="1333.6" r="4.35"/><circle cx="598.5" cy="1312.6" r="4.35"/><circle cx="599.2" cy="1289.3" r="4.35"/><circle cx="599.7" cy="1263.4" r="4.35"/><circle cx="600.4" cy="1234.7" r="4.35"/></g>
<polyline clip-path="url(#cl6)" fill="none" stroke="#008000" stroke-width="1.4" stroke-linejoin="round" points="708.7,1523.0 711.0,1519.6 713.5,1516.1 715.3,1513.9 717.3,1511.7 719.4,1509.4 722.0,1506.8 723.8,1505.1 725.8,1503.2 728.0,1501.3 730.3,1499.3 732.7,1497.2 735.1,1495.1 737.6,1493.0 740.0,1490.9 742.3,1488.8 744.4,1486.8 746.8,1484.6 749.2,1482.3 751.5,1480.1 753.8,1477.9 756.0,1475.7 758.2,1473.5 760.3,1471.2 762.3,1468.9 764.4,1466.5 766.5,1464.0 768.4,1461.4 770.3,1458.9 772.2,1456.4 773.9,1453.9 775.6,1451.4 777.3,1448.8 778.8,1446.2 780.2,1443.7 781.6,1441.1 783.0,1438.4 784.6,1435.5 786.0,1432.9 787.4,1430.3 788.9,1427.5 790.5,1424.6 792.0,1421.7 793.6,1418.7 795.1,1415.7 796.6,1412.5 798.1,1409.3 799.3,1406.7 800.4,1403.9 801.5,1401.1 802.7,1398.2 803.8,1395.3 804.9,1392.4 806.0,1389.4 807.1,1386.4 808.2,1383.4 809.3,1380.3 810.4,1377.4 811.5,1374.4 812.6,1371.4"/>
<g fill="#fff" stroke="#008000" stroke-width="1.4"><path d="M708.7 1518.0L714.4 1527.2H702.9Z"/><path d="M709.5 1516.8L715.2 1526.0H703.8Z"/><path d="M710.3 1515.6L716.0 1524.8H704.6Z"/><path d="M711.1 1514.4L716.8 1523.6H705.4Z"/><path d="M712.0 1513.2L717.7 1522.4H706.3Z"/><path d="M712.9 1512.0L718.6 1521.2H707.1Z"/><path d="M713.8 1510.8L719.5 1520.0H708.0Z"/><path d="M714.7 1509.6L720.5 1518.8H709.0Z"/><path d="M715.8 1508.4L721.5 1517.6H710.0Z"/><path d="M716.8 1507.2L722.5 1516.4H711.1Z"/><path d="M717.9 1506.0L723.6 1515.2H712.2Z"/><path d="M719.0 1504.8L724.8 1514.0H713.3Z"/><path d="M720.2 1503.6L725.9 1512.8H714.5Z"/><path d="M721.4 1502.4L727.1 1511.6H715.7Z"/><path d="M722.6 1501.2L728.3 1510.4H716.9Z"/><path d="M723.9 1500.0L729.6 1509.2H718.1Z"/><path d="M725.2 1498.8L730.9 1508.0H719.4Z"/><path d="M726.5 1497.6L732.2 1506.8H720.8Z"/><path d="M727.9 1496.4L733.6 1505.6H722.1Z"/><path d="M729.2 1495.2L735.0 1504.4H723.5Z"/><path d="M730.7 1493.9L736.4 1503.2H725.0Z"/><path d="M732.2 1492.6L738.0 1501.8H726.5Z"/><path d="M733.9 1491.1L739.6 1500.4H728.2Z"/><path d="M735.6 1489.7L741.3 1498.9H729.9Z"/><path d="M737.4 1488.1L743.2 1497.4H731.7Z"/><path d="M739.3 1486.4L745.0 1495.7H733.6Z"/><path d="M741.3 1484.7L747.0 1494.0H735.6Z"/><path d="M743.3 1482.8L749.0 1492.1H737.6Z"/><path d="M745.4 1480.9L751.1 1490.2H739.7Z"/><path d="M747.6 1478.8L753.3 1488.1H741.9Z"/><path d="M749.9 1476.7L755.6 1485.9H744.1Z"/><path d="M752.2 1474.4L758.0 1483.6H746.5Z"/><path d="M754.7 1471.9L760.4 1481.2H749.0Z"/><path d="M757.2 1469.4L763.0 1478.7H751.5Z"/><path d="M759.8 1466.7L765.5 1476.0H754.1Z"/><path d="M762.3 1463.9L768.1 1473.1H756.6Z"/><path d="M764.9 1460.8L770.6 1470.1H759.2Z"/><path d="M767.6 1457.5L773.3 1466.8H761.8Z"/><path d="M770.4 1453.8L776.1 1463.1H764.7Z"/><path d="M773.4 1449.6L779.1 1458.9H767.6Z"/><path d="M776.5 1444.9L782.2 1454.2H770.8Z"/><path d="M779.8 1439.3L785.5 1448.6H774.1Z"/><path d="M783.2 1433.0L788.9 1442.2H777.5Z"/><path d="M786.9 1426.1L792.7 1435.4H781.2Z"/></g>
<polyline clip-path="url(#cl6)" fill="none" stroke="#008000" stroke-width="1.4" stroke-linejoin="round" points="715.9,1523.0 718.2,1519.6 720.8,1516.1 722.6,1513.9 724.5,1511.7 726.7,1509.4 729.2,1506.8 731.2,1504.9 733.4,1502.8 735.8,1500.6 738.3,1498.4 740.9,1496.0 743.5,1493.7 746.1,1491.4 748.6,1489.1 751.0,1486.8 753.3,1484.6 755.7,1482.3 758.1,1480.1 760.4,1477.9 762.7,1475.7 764.9,1473.5 767.0,1471.2 769.1,1468.9 771.2,1466.5 773.3,1464.0 775.2,1461.5 777.2,1458.9 779.0,1456.4 780.7,1453.9 782.4,1451.4 784.2,1448.2 785.9,1445.2 787.4,1442.1 789.0,1438.9 790.8,1435.5 792.3,1432.9 793.8,1430.1 795.4,1427.3 797.0,1424.3 798.7,1421.3 800.4,1418.3 802.0,1415.3 803.7,1412.3 805.3,1409.3"/>
<g fill="#fff" stroke="#008000" stroke-width="1.4"><path d="M716.3 1517.4L722.0 1526.6H710.6Z"/><path d="M717.1 1516.2L722.9 1525.4H711.4Z"/><path d="M717.9 1515.0L723.7 1524.2H712.2Z"/><path d="M718.8 1513.8L724.5 1523.0H713.1Z"/><path d="M719.7 1512.6L725.4 1521.8H713.9Z"/><path d="M720.5 1511.4L726.3 1520.6H714.8Z"/><path d="M721.5 1510.2L727.2 1519.4H715.8Z"/><path d="M722.5 1509.0L728.2 1518.2H716.8Z"/><path d="M723.6 1507.8L729.3 1517.0H717.8Z"/><path d="M724.6 1506.6L730.3 1515.8H718.9Z"/><path d="M725.7 1505.4L731.5 1514.6H720.0Z"/><path d="M726.9 1504.2L732.6 1513.4H721.2Z"/><path d="M728.0 1503.0L733.8 1512.2H722.3Z"/><path d="M729.2 1501.8L734.9 1511.0H723.5Z"/><path d="M730.4 1500.6L736.2 1509.8H724.7Z"/><path d="M731.7 1499.4L737.4 1508.6H726.0Z"/><path d="M733.0 1498.2L738.7 1507.4H727.2Z"/><path d="M734.3 1497.0L740.0 1506.2H728.5Z"/><path d="M735.6 1495.8L741.3 1505.0H729.9Z"/><path d="M736.9 1494.5L742.7 1503.8H731.2Z"/><path d="M738.4 1493.2L744.1 1502.5H732.7Z"/><path d="M739.9 1491.9L745.6 1501.1H734.2Z"/><path d="M741.5 1490.4L747.3 1499.7H735.8Z"/><path d="M743.2 1488.9L749.0 1498.2H737.5Z"/><path d="M745.0 1487.3L750.8 1496.5H739.3Z"/><path d="M746.9 1485.6L752.6 1494.8H741.2Z"/><path d="M748.9 1483.8L754.6 1493.0H743.1Z"/><path d="M750.9 1481.9L756.6 1491.1H745.2Z"/><path d="M753.0 1479.9L758.7 1489.1H747.3Z"/><path d="M755.2 1477.8L761.0 1487.0H749.5Z"/><path d="M757.6 1475.5L763.3 1484.8H751.9Z"/><path d="M760.1 1473.2L765.8 1482.4H754.4Z"/><path d="M762.6 1470.7L768.4 1480.0H756.9Z"/><path d="M765.2 1468.1L770.9 1477.3H759.5Z"/><path d="M767.8 1465.3L773.5 1474.6H762.1Z"/><path d="M770.4 1462.4L776.1 1471.6H764.7Z"/><path d="M773.0 1459.2L778.7 1468.5H767.3Z"/><path d="M775.7 1455.8L781.5 1465.0H770.0Z"/><path d="M778.6 1451.8L784.4 1461.1H772.9Z"/><path d="M781.7 1447.4L787.4 1456.6H776.0Z"/><path d="M784.9 1442.1L790.6 1451.3H779.1Z"/><path d="M788.1 1435.7L793.8 1445.0H782.4Z"/></g>
<polyline clip-path="url(#cl6)" fill="none" stroke="#00e800" stroke-width="1.4" stroke-linejoin="round" points="648.3,1523.0 650.1,1520.4 651.9,1517.8 653.7,1515.3 655.5,1512.7 657.2,1510.2 658.9,1507.7 660.7,1505.2 662.8,1502.3 664.3,1500.3 665.9,1498.1 667.7,1495.7 669.7,1493.2 671.6,1490.7 673.7,1488.1 675.8,1485.5 677.9,1483.0 680.0,1480.5 682.1,1478.2 684.2,1476.0 686.3,1473.9 688.5,1471.9 690.7,1469.8 693.0,1467.8 695.2,1465.8 697.5,1463.8 699.6,1461.8 701.8,1459.7 703.8,1457.6 706.0,1455.2 708.2,1452.8 710.3,1450.4 712.3,1448.0 714.4,1445.5 716.4,1443.0 718.3,1440.5 720.2,1438.0 722.0,1435.5 723.8,1432.8 725.6,1430.0 727.4,1427.2 729.1,1424.4 730.7,1421.6 732.3,1418.8 733.8,1416.0 735.3,1413.1 736.6,1410.4 737.9,1407.6 739.2,1404.8 740.4,1402.0 741.6,1399.2 742.7,1396.4 743.8,1393.5 744.9,1390.7 746.1,1387.6 747.2,1384.5 748.2,1381.3 749.3,1378.2 750.2,1375.0 751.2,1371.9 752.2,1368.7 753.1,1365.5 754.0,1362.3 754.9,1359.1 755.8,1355.9 756.6,1352.7 757.4,1349.5 758.2,1346.3 759.0,1343.1 759.7,1339.9 760.4,1336.7 761.1,1333.5 761.7,1330.3 762.4,1327.1 763.0,1323.9 763.7,1320.7 764.3,1317.5 765.0,1314.3 765.6,1311.1 766.2,1307.9 766.8,1304.7 767.4,1301.5 767.9,1298.3 768.5,1295.1 769.0,1291.9 769.5,1288.7 769.9,1285.5 770.4,1282.3 770.8,1279.1 771.1,1276.0 771.4,1272.8 771.7,1269.7 771.9,1266.5 772.2,1263.4 772.4,1260.2 772.7,1257.1 773.0,1253.9 773.4,1250.7 773.7,1247.5 774.1,1244.3 774.4,1241.1 774.8,1237.9 775.1,1234.7 775.5,1231.6 775.8,1228.7 776.1,1225.7 776.5,1222.7 776.8,1219.6 777.2,1216.4 777.5,1213.0 777.8,1210.3 778.1,1207.5 778.4,1204.7 778.7,1201.9 779.0,1198.9 779.4,1195.9 779.7,1192.8 780.0,1189.6 780.3,1186.2 780.6,1182.7 780.9,1179.0 781.2,1175.1 781.3,1172.8 781.5,1170.4 781.6,1167.9 781.8,1165.3 781.9,1162.7 782.1,1160.0 782.2,1157.2 782.4,1154.4 782.5,1151.5 782.7,1148.6 782.8,1145.6 782.9,1142.5 783.1,1139.4 783.2,1136.3 783.3,1133.1 783.5,1130.0 783.6,1126.7 783.7,1123.5 783.9,1120.2 784.0,1116.9 784.1,1113.6 784.3,1110.3 784.4,1107.0 784.5,1103.7 784.7,1100.4 784.8,1097.1 784.9,1093.8 785.1,1090.6 785.2,1087.3 785.3,1084.1 785.5,1080.9 785.6,1077.7 785.7,1074.5 785.9,1071.4 786.0,1068.3"/>
<g fill="#fff" stroke="#00e800" stroke-width="1.4"><path d="M648.3 1518.0L654.0 1527.2H642.5Z"/><path d="M649.1 1516.8L654.8 1526.0H643.4Z"/><path d="M649.9 1515.6L655.7 1524.8H644.2Z"/><path d="M650.8 1514.4L656.5 1523.6H645.1Z"/><path d="M651.6 1513.2L657.3 1522.4H645.9Z"/><path d="M652.5 1512.0L658.2 1521.2H646.7Z"/><path d="M653.3 1510.8L659.0 1520.0H647.6Z"/><path d="M654.1 1509.6L659.9 1518.8H648.4Z"/><path d="M655.0 1508.4L660.7 1517.6H649.3Z"/><path d="M655.8 1507.2L661.5 1516.4H650.1Z"/><path d="M656.7 1506.0L662.4 1515.2H650.9Z"/><path d="M657.5 1504.8L663.2 1514.0H651.8Z"/><path d="M658.3 1503.6L664.0 1512.8H652.6Z"/><path d="M659.1 1502.4L664.8 1511.6H653.4Z"/><path d="M660.0 1501.2L665.7 1510.4H654.2Z"/><path d="M660.8 1500.0L666.5 1509.2H655.1Z"/><path d="M661.7 1498.8L667.4 1508.0H656.0Z"/><path d="M662.6 1497.5L668.3 1506.8H656.9Z"/><path d="M663.5 1496.3L669.3 1505.5H657.8Z"/><path d="M664.5 1494.9L670.3 1504.2H658.8Z"/><path d="M665.6 1493.5L671.3 1502.8H659.9Z"/><path d="M666.8 1492.0L672.5 1501.3H661.0Z"/><path d="M668.0 1490.4L673.7 1499.7H662.3Z"/><path d="M669.3 1488.7L675.0 1498.0H663.5Z"/><path d="M670.6 1486.9L676.4 1496.2H664.9Z"/><path d="M672.1 1485.1L677.8 1494.4H666.4Z"/><path d="M673.6 1483.2L679.3 1492.4H667.9Z"/><path d="M675.2 1481.2L681.0 1490.4H669.5Z"/><path d="M677.0 1479.1L682.7 1488.4H671.2Z"/><path d="M678.8 1476.9L684.5 1486.2H673.1Z"/><path d="M680.8 1474.6L686.5 1483.9H675.1Z"/><path d="M683.0 1472.2L688.7 1481.5H677.3Z"/><path d="M685.5 1469.7L691.2 1479.0H679.8Z"/><path d="M688.3 1467.0L694.0 1476.3H682.6Z"/><path d="M691.4 1464.2L697.2 1473.5H685.7Z"/><path d="M694.8 1461.2L700.5 1470.5H689.0Z"/><path d="M698.2 1458.1L704.0 1467.3H692.5Z"/><path d="M701.7 1454.7L707.4 1464.0H696.0Z"/><path d="M705.0 1451.2L710.8 1460.5H699.3Z"/><path d="M708.4 1447.5L714.1 1456.8H702.7Z"/><path d="M711.8 1443.6L717.5 1452.9H706.0Z"/><path d="M715.2 1439.4L721.0 1448.7H709.5Z"/><path d="M718.9 1434.7L724.6 1443.9H713.2Z"/><path d="M722.8 1429.3L728.5 1438.6H717.1Z"/><path d="M726.8 1423.1L732.6 1432.3H721.1Z"/><path d="M731.1 1415.8L736.8 1425.1H725.4Z"/><path d="M735.5 1407.5L741.3 1416.8H729.8Z"/><path d="M740.1 1397.8L745.8 1407.0H734.3Z"/><path d="M744.7 1386.3L750.4 1395.6H738.9Z"/><path d="M749.3 1373.0L755.0 1382.3H743.6Z"/><path d="M753.9 1357.5L759.7 1366.8H748.2Z"/><path d="M758.6 1339.8L764.3 1349.1H752.8Z"/><path d="M762.8 1320.1L768.5 1329.4H757.1Z"/><path d="M767.1 1298.2L772.8 1307.5H761.4Z"/><path d="M770.8 1273.9L776.5 1283.1H765.1Z"/><path d="M773.2 1246.8L779.0 1256.1H767.5Z"/><path d="M776.6 1216.8L782.3 1226.1H770.9Z"/></g>
<polyline clip-path="url(#cl6)" fill="none" stroke="#00e800" stroke-width="1.4" stroke-linejoin="round" points="657.9,1523.0 659.7,1520.4 661.5,1517.8 663.4,1515.2 665.2,1512.7 666.9,1510.2 668.5,1507.7 670.3,1505.2 672.4,1502.3 673.9,1500.3 675.6,1498.1 677.4,1495.7 679.3,1493.2 681.3,1490.7 683.4,1488.1 685.4,1485.5 687.6,1483.0 689.7,1480.5 691.8,1478.2 693.8,1476.0 696.0,1473.9 698.1,1471.8 700.4,1469.8 702.6,1467.8 704.8,1465.8 707.1,1463.8 709.3,1461.7 711.4,1459.7 713.5,1457.6 715.8,1455.2 718.0,1452.8 720.3,1450.4 722.5,1447.9 724.7,1445.5 726.8,1443.0 728.9,1440.5 730.9,1438.0 732.8,1435.5 734.9,1432.8 736.8,1430.0 738.8,1427.3 740.6,1424.5 742.4,1421.7 744.1,1418.8 745.8,1416.0 747.3,1413.1 748.8,1410.4 750.1,1407.6 751.4,1404.8 752.6,1402.0 753.7,1399.2 754.8,1396.4 755.9,1393.5 757.0,1390.7 758.2,1387.6 759.3,1384.5 760.3,1381.3 761.3,1378.2 762.3,1375.0 763.3,1371.9 764.3,1368.7 765.2,1365.5 766.1,1362.3 767.0,1359.1 767.9,1355.9 768.7,1352.7 769.5,1349.5 770.3,1346.3 771.1,1343.1 771.8,1339.9 772.5,1336.7 773.2,1333.5 773.8,1330.3 774.5,1327.1 775.1,1323.9 775.8,1320.7 776.4,1317.5 777.1,1314.3 777.7,1311.1 778.4,1307.9 778.9,1304.7 779.5,1301.5 780.0,1298.3 780.4,1295.1 780.8,1291.9 781.2,1288.7 781.6,1285.5 782.0,1282.3 782.4,1279.1 782.7,1276.0 783.1,1272.8 783.4,1269.7 783.8,1266.5 784.1,1263.4 784.5,1260.2 784.8,1257.1 785.1,1253.9 785.5,1250.7 785.8,1247.5 786.2,1244.3 786.5,1241.1 786.9,1237.9 787.2,1234.7 787.6,1231.6 787.9,1228.7 788.2,1225.7 788.6,1222.7 788.9,1219.6 789.3,1216.4 789.6,1213.0 789.9,1210.2 790.2,1207.3 790.5,1204.3 790.8,1201.1 791.1,1198.0 791.4,1194.7 791.7,1191.4 792.0,1188.1 792.3,1184.8 792.6,1181.5 792.9,1178.3 793.3,1175.1"/>
<g fill="#fff" stroke="#00e800" stroke-width="1.4"><path d="M658.3 1517.4L664.1 1526.6H652.6Z"/><path d="M659.2 1516.2L664.9 1525.4H653.5Z"/><path d="M660.0 1515.0L665.7 1524.2H654.3Z"/><path d="M660.9 1513.8L666.6 1523.0H655.1Z"/><path d="M661.7 1512.6L667.4 1521.8H656.0Z"/><path d="M662.5 1511.4L668.3 1520.6H656.8Z"/><path d="M663.4 1510.2L669.1 1519.4H657.7Z"/><path d="M664.2 1509.0L670.0 1518.2H658.5Z"/><path d="M665.1 1507.8L670.8 1517.0H659.4Z"/><path d="M665.9 1506.6L671.6 1515.8H660.2Z"/><path d="M666.7 1505.4L672.5 1514.6H661.0Z"/><path d="M667.6 1504.2L673.3 1513.4H661.8Z"/><path d="M668.4 1503.0L674.1 1512.2H662.6Z"/><path d="M669.2 1501.8L674.9 1511.0H663.5Z"/><path d="M670.0 1500.6L675.8 1509.8H664.3Z"/><path d="M670.9 1499.4L676.6 1508.6H665.2Z"/><path d="M671.8 1498.2L677.5 1507.4H666.1Z"/><path d="M672.7 1496.9L678.4 1506.2H667.0Z"/><path d="M673.7 1495.6L679.4 1504.9H668.0Z"/><path d="M674.7 1494.2L680.5 1503.5H669.0Z"/><path d="M675.8 1492.7L681.6 1502.0H670.1Z"/><path d="M677.0 1491.2L682.8 1500.5H671.3Z"/><path d="M678.3 1489.6L684.0 1498.8H672.6Z"/><path d="M679.6 1487.8L685.3 1497.1H673.9Z"/><path d="M681.0 1486.0L686.7 1495.3H675.3Z"/><path d="M682.5 1484.1L688.2 1493.4H676.8Z"/><path d="M684.1 1482.2L689.8 1491.4H678.4Z"/><path d="M685.8 1480.1L691.5 1489.4H680.0Z"/><path d="M687.5 1478.0L693.2 1487.3H681.8Z"/><path d="M689.4 1475.8L695.2 1485.1H683.7Z"/><path d="M691.5 1473.4L697.2 1482.7H685.8Z"/><path d="M693.9 1471.0L699.6 1480.3H688.1Z"/><path d="M696.5 1468.4L702.2 1477.6H690.8Z"/><path d="M699.5 1465.6L705.2 1474.9H693.7Z"/><path d="M702.7 1462.7L708.4 1472.0H696.9Z"/><path d="M706.1 1459.6L711.8 1468.9H700.3Z"/><path d="M709.6 1456.4L715.3 1465.7H703.8Z"/><path d="M713.0 1453.0L718.8 1462.3H707.3Z"/><path d="M716.5 1449.4L722.2 1458.7H710.8Z"/><path d="M720.0 1445.6L725.8 1454.9H714.3Z"/><path d="M723.7 1441.6L729.4 1450.8H717.9Z"/><path d="M727.3 1437.3L733.1 1446.6H721.6Z"/><path d="M731.1 1432.7L736.8 1442.0H725.4Z"/><path d="M735.1 1427.5L740.8 1436.7H729.4Z"/><path d="M739.3 1421.4L745.0 1430.7H733.5Z"/><path d="M743.7 1414.5L749.4 1423.8H738.0Z"/><path d="M748.2 1406.3L754.0 1415.6H742.5Z"/><path d="M752.8 1396.4L758.5 1405.7H747.1Z"/><path d="M757.4 1384.7L763.1 1394.0H751.6Z"/><path d="M762.0 1371.1L767.7 1380.4H756.3Z"/><path d="M766.7 1355.3L772.4 1364.6H760.9Z"/><path d="M771.2 1337.3L776.9 1346.6H765.5Z"/><path d="M775.4 1317.3L781.2 1326.6H769.7Z"/><path d="M779.7 1295.1L785.4 1304.4H774.0Z"/><path d="M782.8 1270.4L788.5 1279.7H777.1Z"/><path d="M785.8 1243.0L791.5 1252.3H780.0Z"/></g>
</g>
<text x="459.10" y="909.30" font-size="46" text-anchor="middle" fill="#000" >100% RH</text>
<text x="310.50" y="1004.50" font-size="61" text-anchor="middle" fill="#000" >(c)</text>
<text x="488.75" y="1689.40" font-size="42.5" text-anchor="middle">Re (Z) [mΩ·cm<tspan font-size="25" dy="-17.5">2</tspan><tspan dy="17.5">]</tspan></text>
<text x="0" y="0" font-size="42.5" text-anchor="middle" transform="translate(47.60 1229.90) rotate(-90)">-Im (Z) [mΩ·cm<tspan font-size="25" dy="-17.5">2</tspan><tspan dy="17.5">]</tspan></text>
<rect x="600.50" y="889.40" width="224.2" height="143.3" fill="#000"/>
<rect x="591.00" y="879.90" width="224.2" height="143.3" fill="#fff" stroke="#1a1a1a" stroke-width="1.5"/>
<line x1="595.1" y1="907.1" x2="680" y2="907.1" stroke="#000" stroke-width="2.4"/>
<circle cx="637.55" cy="907.10" r="5.75" fill="#fff" stroke="#000" stroke-width="1.5"/>
<text x="687.30" y="918.80" font-size="36" text-anchor="start" fill="#000" >Pt/C</text>
<line x1="595.1" y1="952.8" x2="680" y2="952.8" stroke="#008000" stroke-width="2.8"/>
<path d="M637.55 945.38L644.97 958.54H630.12Z" fill="#fff" stroke="#008000" stroke-width="1.5"/>
<text x="687.30" y="964.50" font-size="36" text-anchor="start" fill="#000" >HM</text>
<line x1="595.1" y1="999.4" x2="680" y2="999.4" stroke="#00e800" stroke-width="3.0"/>
<path d="M637.55 991.98L644.97 1005.14H630.12Z" fill="#fff" stroke="#00e800" stroke-width="1.5"/>
<text x="687.30" y="1011.10" font-size="36" text-anchor="start" fill="#000" >HM/CF</text>
<line x1="1117.00" y1="1564.70" x2="1649.31" y2="1032.56" stroke="#bebebe" stroke-width="5.4" stroke-dasharray="33.5 29.7" stroke-dashoffset="0"/>
<text x="0" y="0" font-size="41" fill="#bebebe" text-anchor="middle" transform="translate(1278.50 1374.50) rotate(-45)">45°- line</text>
<rect x="1117.00" y="917.50" width="647.40" height="647.20" fill="none" stroke="#000" stroke-width="4.3"/>
<path d="M1260.87 1564.70v-11.5M1404.73 1564.70v-11.5M1548.60 1564.70v-11.5M1692.47 1564.70v-11.5M1188.93 1564.70v-6M1332.80 1564.70v-6M1476.67 1564.70v-6M1620.53 1564.70v-6M1117.00 1420.88h11.5M1117.00 1277.06h11.5M1117.00 1133.23h11.5M1117.00 989.41h11.5M1117.00 1492.79h6M1117.00 1348.97h6M1117.00 1205.14h6M1117.00 1061.32h6" stroke="#000" stroke-width="3.5" fill="none"/>
<text x="1117.00" y="1612.00" font-size="43" text-anchor="middle" fill="#000" >0</text>
<text x="1102.50" y="1577.70" font-size="43" text-anchor="end" fill="#000" >0</text>
<text x="1260.87" y="1612.00" font-size="43" text-anchor="middle" fill="#000" >500</text>
<text x="1102.50" y="1433.88" font-size="43" text-anchor="end" fill="#000" >500</text>
<text x="1404.73" y="1612.00" font-size="43" text-anchor="middle" fill="#000" >1000</text>
<text x="1102.50" y="1290.06" font-size="43" text-anchor="end" fill="#000" >1000</text>
<text x="1548.60" y="1612.00" font-size="43" text-anchor="middle" fill="#000" >1500</text>
<text x="1102.50" y="1146.23" font-size="43" text-anchor="end" fill="#000" >1500</text>
<text x="1692.47" y="1612.00" font-size="43" text-anchor="middle" fill="#000" >2000</text>
<text x="1102.50" y="1002.41" font-size="43" text-anchor="end" fill="#000" >2000</text>
<clipPath id="cl7"><rect x="1115.50" y="916.00" width="650.40" height="650.20"/></clipPath>
<g>
<polyline clip-path="url(#cl7)" fill="none" stroke="#000000" stroke-width="4.0" stroke-linejoin="round" points="1157.1,1564.7 1158.1,1563.5 1159.1,1562.4 1160.3,1561.2 1161.6,1560.0 1162.9,1559.2 1164.1,1558.3 1165.2,1557.2 1166.1,1556.0 1166.8,1554.5 1167.4,1553.1 1167.8,1551.6 1168.2,1550.1 1168.4,1548.7 1168.6,1547.2 1168.8,1545.8 1169.0,1544.3 1169.1,1542.9 1169.2,1541.4 1169.3,1539.9 1169.4,1538.5 1169.4,1537.0 1169.5,1535.6 1169.6,1534.1 1169.6,1532.7 1169.6,1531.2 1169.7,1529.8 1169.7,1528.6 1169.7,1527.1 1169.8,1525.0 1169.8,1522.1 1169.9,1518.8 1170.0,1515.1 1170.1,1511.2 1170.2,1507.2 1170.3,1504.6 1170.4,1502.0 1170.5,1499.3 1170.6,1496.5 1170.7,1493.6 1170.8,1490.6 1170.9,1487.5 1171.0,1484.4 1171.1,1481.2 1171.2,1477.9 1171.3,1474.5 1171.4,1471.1 1171.6,1467.6 1171.7,1464.0 1171.7,1461.5 1171.8,1459.0 1171.9,1456.4 1172.0,1453.7 1172.1,1451.1 1172.2,1448.4 1172.3,1445.7 1172.4,1442.9 1172.4,1440.1 1172.5,1437.3 1172.6,1434.5 1172.7,1431.6 1172.8,1428.6 1172.9,1425.7 1173.0,1422.7 1173.1,1419.6 1173.2,1416.5 1173.3,1413.4 1173.4,1410.3 1173.5,1407.1 1173.6,1403.8 1173.7,1400.5 1173.8,1397.2 1173.8,1393.9 1173.9,1390.5 1174.0,1387.0 1174.1,1383.6 1174.2,1380.0 1174.3,1377.5 1174.3,1375.0 1174.4,1372.4 1174.4,1369.7 1174.5,1367.1 1174.6,1364.3 1174.6,1361.5 1174.7,1358.7 1174.8,1355.8 1174.8,1352.9 1174.9,1350.0 1175.0,1347.0 1175.0,1344.0 1175.1,1341.0 1175.1,1337.9 1175.2,1334.8 1175.3,1331.7 1175.3,1328.6 1175.4,1325.4 1175.5,1322.3 1175.5,1319.1 1175.6,1315.8 1175.6,1312.6 1175.7,1309.4 1175.8,1306.1 1175.8,1302.9 1175.9,1299.6 1176.0,1296.3 1176.0,1293.1 1176.1,1289.8 1176.1,1286.5 1176.2,1283.3 1176.3,1280.0 1176.3,1276.7 1176.4,1273.5 1176.4,1270.2 1176.5,1267.0 1176.6,1263.8 1176.6,1260.6 1176.7,1257.4 1176.7,1254.3 1176.8,1251.1 1176.8,1248.0 1176.9,1244.9 1177.0,1241.8 1177.0,1238.8 1177.1,1235.8 1177.1,1232.8 1177.2,1229.8 1177.2,1226.9 1177.3,1224.1 1177.3,1221.2 1177.4,1218.4 1177.4,1215.7 1177.5,1213.0 1177.5,1210.3 1177.6,1207.7 1177.6,1205.1 1177.7,1201.6 1177.7,1198.1 1177.8,1194.6 1177.8,1191.2 1177.9,1187.8 1177.9,1184.4 1178.0,1181.1 1178.0,1177.8 1178.1,1174.5 1178.1,1171.3 1178.2,1168.1 1178.2,1164.9 1178.3,1161.7 1178.3,1158.6 1178.4,1155.6 1178.4,1152.5 1178.4,1149.5 1178.5,1146.5 1178.5,1143.6 1178.6,1140.6 1178.6,1137.7 1178.7,1134.9 1178.7,1132.1 1178.7,1129.3 1178.8,1126.5 1178.8,1123.8 1178.9,1121.0 1178.9,1118.4 1179.0,1115.7 1179.0,1113.1 1179.1,1109.6 1179.1,1106.1 1179.2,1102.8 1179.2,1099.6 1179.3,1096.5 1179.3,1093.4 1179.4,1090.4 1179.4,1087.4 1179.5,1084.4 1179.5,1081.5 1179.6,1078.5 1179.7,1075.5 1179.8,1072.5 1179.8,1069.4 1179.9,1066.3 1180.0,1063.0 1180.1,1060.2 1180.2,1057.3 1180.3,1054.3 1180.4,1051.4 1180.6,1048.4 1180.7,1045.5 1180.8,1042.5 1180.9,1039.5 1181.1,1036.5 1181.2,1033.4 1181.4,1030.4 1181.5,1027.4 1181.6,1024.3 1181.8,1021.3 1181.9,1018.2 1182.0,1015.2 1182.2,1012.1 1182.3,1009.0 1182.4,1006.0 1182.5,1002.9 1182.6,999.9 1182.7,996.8 1182.8,993.8 1182.9,990.6 1182.9,987.5 1183.0,984.3 1183.1,981.1 1183.2,977.9 1183.2,974.7 1183.3,971.6 1183.4,968.4 1183.5,965.3 1183.5,962.2 1183.6,959.1 1183.7,956.0 1183.7,953.1 1183.8,950.1 1183.9,947.3 1183.9,944.5 1184.0,941.7 1184.0,939.1 1184.1,935.4 1184.2,931.9 1184.3,928.5 1184.4,925.2 1184.5,922.0 1184.5,918.9 1184.6,915.8 1184.7,912.6 1184.8,909.5 1184.8,906.3 1184.9,903.1"/>
<g fill="#fff" stroke="#000000" stroke-width="1.4"><circle cx="1157.6" cy="1564.1" r="6.55"/><circle cx="1158.4" cy="1563.2" r="6.55"/><circle cx="1159.2" cy="1562.3" r="6.55"/><circle cx="1160.1" cy="1561.4" r="6.55"/><circle cx="1161.1" cy="1560.5" r="6.55"/><circle cx="1162.3" cy="1559.6" r="6.55"/><circle cx="1163.6" cy="1558.7" r="6.55"/><circle cx="1164.6" cy="1557.8" r="6.55"/><circle cx="1165.4" cy="1556.9" r="6.55"/><circle cx="1166.1" cy="1556.0" r="6.55"/><circle cx="1166.6" cy="1555.1" r="6.55"/><circle cx="1167.0" cy="1554.1" r="6.55"/><circle cx="1167.3" cy="1553.1" r="6.55"/><circle cx="1167.7" cy="1551.8" r="6.55"/><circle cx="1168.1" cy="1550.4" r="6.55"/><circle cx="1168.4" cy="1548.8" r="6.55"/><circle cx="1168.6" cy="1547.1" r="6.55"/><circle cx="1168.9" cy="1545.1" r="6.55"/><circle cx="1169.1" cy="1543.0" r="6.55"/><circle cx="1169.3" cy="1540.6" r="6.55"/><circle cx="1169.4" cy="1537.9" r="6.55"/><circle cx="1169.5" cy="1534.9" r="6.55"/><circle cx="1169.6" cy="1531.6" r="6.55"/><circle cx="1169.7" cy="1528.0" r="6.55"/><circle cx="1169.8" cy="1523.9" r="6.55"/><circle cx="1169.9" cy="1519.4" r="6.55"/><circle cx="1170.0" cy="1514.4" r="6.55"/><circle cx="1170.2" cy="1508.8" r="6.55"/><circle cx="1170.4" cy="1502.6" r="6.55"/><circle cx="1170.6" cy="1495.7" r="6.55"/><circle cx="1170.9" cy="1488.1" r="6.55"/><circle cx="1171.2" cy="1479.6" r="6.55"/><circle cx="1171.5" cy="1470.2" r="6.55"/><circle cx="1171.8" cy="1459.7" r="6.55"/><circle cx="1172.2" cy="1448.1" r="6.55"/><circle cx="1172.6" cy="1435.2" r="6.55"/><circle cx="1173.1" cy="1420.9" r="6.55"/><circle cx="1173.5" cy="1404.9" r="6.55"/><circle cx="1174.0" cy="1387.2" r="6.55"/><circle cx="1174.5" cy="1367.6" r="6.55"/><circle cx="1175.0" cy="1345.8" r="6.55"/><circle cx="1175.5" cy="1321.5" r="6.55"/><circle cx="1176.0" cy="1294.6" r="6.55"/><circle cx="1176.5" cy="1264.7" r="6.55"/><circle cx="1177.1" cy="1231.5" r="6.55"/><circle cx="1177.8" cy="1194.6" r="6.55"/><circle cx="1178.4" cy="1153.6" r="6.55"/><circle cx="1179.1" cy="1108.1" r="6.55"/><circle cx="1180.2" cy="1057.6" r="6.55"/><circle cx="1182.5" cy="1001.4" r="6.55"/><circle cx="1184.0" cy="939.1" r="6.55"/></g>
<polyline clip-path="url(#cl7)" fill="none" stroke="#000000" stroke-width="4.0" stroke-linejoin="round" points="1157.3,1564.7 1158.4,1563.7 1159.6,1562.7 1160.9,1561.7 1162.2,1560.7 1163.4,1559.8 1164.5,1558.9 1165.5,1557.9 1166.5,1556.6 1167.3,1555.3 1167.9,1553.8 1168.4,1552.1 1168.8,1550.3 1169.1,1548.3 1169.4,1546.0 1169.7,1542.6 1169.9,1538.8 1170.1,1535.3 1170.2,1531.5 1170.4,1527.3 1170.5,1524.4 1170.6,1521.3 1170.7,1518.1 1170.8,1514.7 1171.0,1511.0 1171.1,1507.2 1171.2,1504.6 1171.3,1502.0 1171.4,1499.3 1171.5,1496.4 1171.6,1493.5 1171.8,1490.6 1171.9,1487.5 1172.0,1484.4 1172.2,1481.2 1172.3,1477.9 1172.4,1474.5 1172.6,1471.1 1172.7,1467.6 1172.8,1464.0 1172.9,1461.5 1173.0,1459.0 1173.1,1456.4 1173.2,1453.7 1173.3,1451.1 1173.4,1448.4 1173.5,1445.7 1173.6,1442.9 1173.6,1440.1 1173.7,1437.3 1173.8,1434.5 1173.9,1431.6 1174.0,1428.6 1174.1,1425.7 1174.2,1422.7 1174.3,1419.6 1174.4,1416.5 1174.5,1413.4 1174.6,1410.3 1174.7,1407.1 1174.8,1403.8 1174.9,1400.5 1175.0,1397.2 1175.1,1393.9 1175.1,1390.5 1175.2,1387.0 1175.3,1383.6 1175.4,1380.0 1175.5,1377.5 1175.5,1375.0 1175.6,1372.4 1175.6,1369.7 1175.7,1367.0 1175.8,1364.2 1175.8,1361.4 1175.9,1358.5 1175.9,1355.6 1176.0,1352.7 1176.0,1349.7 1176.1,1346.7 1176.1,1343.6 1176.2,1340.5 1176.2,1337.4 1176.3,1334.3 1176.3,1331.1 1176.4,1327.9 1176.4,1324.7 1176.5,1321.4 1176.5,1318.2 1176.6,1314.9 1176.6,1311.6 1176.7,1308.3 1176.7,1305.0 1176.8,1301.7 1176.8,1298.4 1176.9,1295.1 1176.9,1291.8 1176.9,1288.5 1177.0,1285.1 1177.0,1281.8 1177.1,1278.5 1177.1,1275.3 1177.2,1272.0 1177.2,1268.7 1177.3,1265.5 1177.4,1262.3 1177.4,1259.1 1177.5,1255.9 1177.5,1252.7 1177.6,1249.6 1177.6,1246.5 1177.7,1243.4 1177.7,1240.4 1177.8,1237.4 1177.9,1234.5 1177.9,1231.6 1178.0,1228.7 1178.0,1225.9 1178.1,1223.1 1178.2,1220.4 1178.2,1217.7 1178.3,1215.1 1178.4,1212.5 1178.4,1210.0 1178.5,1207.5 1178.6,1205.1 1178.7,1201.4 1178.8,1197.7 1178.9,1194.1 1179.1,1190.6 1179.2,1187.1 1179.3,1183.8 1179.5,1180.5 1179.6,1177.2 1179.8,1174.0 1179.9,1170.9 1180.1,1167.8 1180.2,1164.8 1180.3,1161.8 1180.5,1158.8 1180.6,1155.9 1180.8,1153.0 1180.9,1150.2 1181.1,1147.3 1181.2,1144.5 1181.3,1141.7 1181.5,1138.8 1181.6,1136.0 1181.7,1133.2 1181.9,1129.8 1182.1,1126.4 1182.2,1123.2 1182.4,1120.0 1182.6,1116.8 1182.7,1113.7 1182.9,1110.7 1183.1,1107.6 1183.2,1104.6 1183.4,1101.5 1183.5,1098.4 1183.7,1095.3 1183.8,1092.1 1183.9,1088.8 1184.0,1085.5 1184.1,1082.6 1184.2,1079.6 1184.3,1076.6 1184.3,1073.5 1184.4,1070.4 1184.4,1067.3 1184.5,1064.2 1184.5,1061.1 1184.5,1057.9 1184.5,1054.7 1184.6,1051.5 1184.6,1048.4 1184.6,1045.2 1184.6,1042.0 1184.7,1038.8 1184.7,1035.6 1184.8,1032.4 1184.8,1029.3 1184.8,1026.2 1184.9,1023.1 1185.0,1020.0 1185.0,1017.0 1185.1,1014.0 1185.2,1011.0 1185.3,1008.0 1185.4,1004.9 1185.5,1001.9 1185.5,998.9 1185.6,995.9 1185.7,992.9 1185.8,989.9 1185.9,986.9 1186.0,983.9 1186.1,980.9 1186.2,977.9 1186.2,974.9 1186.3,971.9 1186.4,968.9 1186.4,965.9 1186.5,962.9 1186.5,959.8 1186.6,956.6 1186.6,953.5 1186.7,950.3 1186.7,947.2 1186.7,944.0 1186.7,940.9 1186.8,937.7 1186.8,934.6 1186.8,931.5 1186.8,928.3 1186.8,925.2 1186.8,922.0 1186.8,918.9 1186.8,915.7 1186.9,912.6 1186.9,909.4 1186.9,906.3 1186.9,903.1"/>
<g fill="#fff" stroke="#000000" stroke-width="1.4"><circle cx="1157.6" cy="1564.4" r="6.55"/><circle cx="1158.6" cy="1563.5" r="6.55"/><circle cx="1159.7" cy="1562.6" r="6.55"/><circle cx="1160.8" cy="1561.7" r="6.55"/><circle cx="1162.0" cy="1560.8" r="6.55"/><circle cx="1163.3" cy="1559.9" r="6.55"/><circle cx="1164.4" cy="1559.0" r="6.55"/><circle cx="1165.3" cy="1558.1" r="6.55"/><circle cx="1166.1" cy="1557.2" r="6.55"/><circle cx="1166.7" cy="1556.3" r="6.55"/><circle cx="1167.2" cy="1555.4" r="6.55"/><circle cx="1167.6" cy="1554.5" r="6.55"/><circle cx="1168.0" cy="1553.5" r="6.55"/><circle cx="1168.4" cy="1552.3" r="6.55"/><circle cx="1168.7" cy="1551.0" r="6.55"/><circle cx="1168.9" cy="1549.4" r="6.55"/><circle cx="1169.2" cy="1547.8" r="6.55"/><circle cx="1169.4" cy="1545.9" r="6.55"/><circle cx="1169.6" cy="1543.8" r="6.55"/><circle cx="1169.8" cy="1541.5" r="6.55"/><circle cx="1169.9" cy="1538.9" r="6.55"/><circle cx="1170.1" cy="1536.1" r="6.55"/><circle cx="1170.2" cy="1532.9" r="6.55"/><circle cx="1170.3" cy="1529.4" r="6.55"/><circle cx="1170.4" cy="1525.5" r="6.55"/><circle cx="1170.6" cy="1521.1" r="6.55"/><circle cx="1170.8" cy="1516.3" r="6.55"/><circle cx="1171.0" cy="1510.9" r="6.55"/><circle cx="1171.2" cy="1505.0" r="6.55"/><circle cx="1171.4" cy="1498.4" r="6.55"/><circle cx="1171.8" cy="1491.0" r="6.55"/><circle cx="1172.1" cy="1482.9" r="6.55"/><circle cx="1172.5" cy="1473.8" r="6.55"/><circle cx="1172.8" cy="1463.7" r="6.55"/><circle cx="1173.2" cy="1452.5" r="6.55"/><circle cx="1173.6" cy="1440.1" r="6.55"/><circle cx="1174.1" cy="1426.3" r="6.55"/><circle cx="1174.6" cy="1411.0" r="6.55"/><circle cx="1175.1" cy="1394.0" r="6.55"/><circle cx="1175.5" cy="1375.1" r="6.55"/><circle cx="1175.9" cy="1354.1" r="6.55"/><circle cx="1176.3" cy="1330.8" r="6.55"/><circle cx="1176.7" cy="1304.9" r="6.55"/><circle cx="1177.1" cy="1276.2" r="6.55"/><circle cx="1177.7" cy="1244.2" r="6.55"/><circle cx="1178.5" cy="1208.7" r="6.55"/><circle cx="1180.0" cy="1169.3" r="6.55"/><circle cx="1182.1" cy="1125.5" r="6.55"/><circle cx="1184.3" cy="1076.9" r="6.55"/><circle cx="1184.9" cy="1022.9" r="6.55"/><circle cx="1186.5" cy="962.9" r="6.55"/></g>
<polyline clip-path="url(#cl7)" fill="none" stroke="#008000" stroke-width="2.5" stroke-linejoin="round" points="1178.0,1564.7 1178.6,1564.1 1179.2,1563.5 1179.6,1562.7 1180.1,1561.8 1181.4,1560.6 1183.0,1559.5 1184.6,1558.4 1186.3,1557.4 1188.0,1556.4 1189.6,1555.4 1190.8,1554.2 1192.0,1553.1 1193.3,1551.9 1194.5,1550.7 1195.6,1549.4 1197.0,1547.8 1198.4,1546.5 1200.2,1545.0 1202.3,1543.3 1204.7,1541.4 1207.3,1539.4 1210.0,1537.2 1212.7,1534.9 1215.3,1532.6 1217.7,1530.2 1219.6,1528.1 1221.5,1525.9 1223.4,1523.6 1225.3,1521.2 1227.2,1518.8 1229.1,1516.2 1231.0,1513.6 1232.9,1511.0 1234.9,1508.4 1236.9,1505.7 1238.9,1503.1 1240.9,1500.6 1242.9,1498.1 1245.0,1495.7 1247.1,1493.4 1249.2,1491.1 1251.4,1488.9 1253.5,1486.7 1255.7,1484.5 1258.0,1482.3 1260.2,1480.1 1262.5,1477.9 1264.7,1475.7 1267.0,1473.5 1269.3,1471.4 1271.5,1469.2 1273.7,1467.0 1275.9,1464.8 1278.1,1462.6 1280.3,1460.4 1282.4,1458.1 1284.6,1455.9 1286.7,1453.6 1288.8,1451.3 1291.0,1449.0 1293.1,1446.8 1295.2,1444.5 1297.3,1442.2 1299.4,1440.0 1301.5,1437.8 1303.6,1435.7 1305.7,1433.6 1307.7,1431.5 1309.8,1429.5 1312.2,1427.2 1314.6,1425.0 1317.0,1422.8 1319.4,1420.7 1321.8,1418.6 1324.2,1416.5 1326.6,1414.5 1328.9,1412.5 1331.2,1410.5 1333.4,1408.5 1335.7,1406.5 1338.1,1404.3 1340.6,1402.0 1343.0,1399.8 1345.4,1397.6 1347.8,1395.4 1350.1,1393.2 1352.3,1391.1 1354.4,1389.1 1356.4,1387.2 1358.9,1384.8 1361.2,1382.6 1363.4,1380.4 1365.5,1378.3 1367.7,1376.0 1370.0,1373.6 1372.3,1371.1 1374.6,1368.6 1376.8,1366.0 1379.0,1363.3 1380.9,1360.9 1382.8,1358.3 1384.6,1355.6 1386.4,1353.0 1388.3,1350.3 1390.2,1347.7 1392.3,1345.1 1394.4,1342.6 1396.6,1340.0 1398.8,1337.5 1400.9,1334.9 1402.9,1332.3 1404.7,1329.7 1406.4,1327.2 1408.0,1324.6 1409.6,1322.0 1411.2,1319.3 1412.8,1316.8 1414.4,1314.2 1416.1,1311.6 1417.8,1309.1 1419.4,1306.5 1421.0,1303.9 1422.6,1301.2 1424.1,1298.3 1425.6,1295.3 1427.0,1292.3 1428.4,1289.2 1429.7,1286.1 1431.1,1282.9 1432.4,1280.0 1433.6,1277.0 1434.8,1274.0 1436.0,1270.9 1437.2,1267.9 1438.4,1264.8 1439.5,1261.8 1440.8,1258.8 1442.0,1255.8 1443.2,1252.8 1444.4,1249.8 1445.6,1246.8 1446.8,1243.7 1448.0,1240.6 1449.1,1237.6 1450.2,1234.5 1451.4,1231.4 1452.5,1228.3 1453.5,1225.1 1454.6,1221.9 1455.6,1218.6 1456.5,1215.2 1457.3,1212.3 1458.0,1209.4 1458.6,1206.3 1459.3,1203.2 1459.9,1200.1 1460.5,1196.9 1461.0,1193.7 1461.6,1190.6 1462.1,1187.4 1462.6,1184.3 1463.1,1181.3 1463.6,1178.2 1464.1,1175.1 1464.5,1172.1 1464.9,1169.1 1465.3,1166.0 1465.6,1163.0 1466.0,1160.0 1466.4,1156.9 1466.9,1153.7 1467.3,1150.5 1467.8,1147.6 1468.2,1144.6 1468.7,1141.6 1469.2,1138.6 1469.7,1135.5 1470.3,1132.4 1470.8,1129.3 1471.3,1126.1 1471.8,1123.0 1472.3,1119.8 1472.8,1116.7 1473.3,1113.5 1473.7,1110.4 1474.1,1107.4 1474.4,1104.4 1474.8,1101.5 1475.1,1098.5 1475.4,1095.5 1475.6,1092.5 1475.9,1089.5 1476.2,1086.5 1476.5,1083.5 1476.8,1080.5 1477.0,1077.4 1477.3,1074.3 1477.7,1071.1 1478.0,1067.9 1478.3,1065.1 1478.6,1062.2 1478.9,1059.3 1479.3,1056.4 1479.6,1053.5 1479.9,1050.5 1480.3,1047.5 1480.6,1044.5 1481.0,1041.4 1481.3,1038.4 1481.7,1035.4 1482.1,1032.3 1482.4,1029.3 1482.8,1026.2 1483.1,1023.2 1483.5,1020.2 1483.8,1017.1 1484.1,1014.1 1484.5,1011.2 1484.8,1008.2 1485.2,1005.2 1485.5,1002.2 1485.8,999.2 1486.2,996.2 1486.5,993.2 1486.8,990.2 1487.2,987.3 1487.5,984.3 1487.8,981.3 1488.2,978.3 1488.5,975.3 1488.8,972.3 1489.2,969.3 1489.5,966.3 1489.9,963.3 1490.2,960.4"/>
<g fill="#fff" stroke="#008000" stroke-width="1.9"><path d="M1178.4 1558.1L1185.4 1569.6H1171.3Z"/><path d="M1179.2 1557.2L1186.3 1568.7H1172.1Z"/><path d="M1179.7 1556.3L1186.7 1567.8H1172.6Z"/><path d="M1180.3 1555.4L1187.3 1566.9H1173.2Z"/><path d="M1181.2 1554.5L1188.3 1566.0H1174.2Z"/><path d="M1182.4 1553.6L1189.5 1565.1H1175.4Z"/><path d="M1183.8 1552.7L1190.8 1564.2H1176.7Z"/><path d="M1185.2 1551.8L1192.3 1563.3H1178.1Z"/><path d="M1186.7 1550.9L1193.8 1562.4H1179.6Z"/><path d="M1188.2 1550.0L1195.3 1561.5H1181.1Z"/><path d="M1189.6 1549.1L1196.7 1560.6H1182.5Z"/><path d="M1190.6 1548.2L1197.7 1559.7H1183.5Z"/><path d="M1191.5 1547.3L1198.6 1558.8H1184.4Z"/><path d="M1192.5 1546.4L1199.5 1557.9H1185.4Z"/><path d="M1193.4 1545.5L1200.5 1557.0H1186.3Z"/><path d="M1194.3 1544.6L1201.4 1556.1H1187.3Z"/><path d="M1195.1 1543.7L1202.2 1555.2H1188.0Z"/><path d="M1195.9 1542.8L1202.9 1554.3H1188.8Z"/><path d="M1196.7 1541.9L1203.7 1553.4H1189.6Z"/><path d="M1197.6 1541.0L1204.7 1552.5H1190.5Z"/><path d="M1198.7 1540.1L1205.7 1551.5H1191.6Z"/><path d="M1199.9 1539.0L1207.0 1550.5H1192.8Z"/><path d="M1201.2 1538.0L1208.3 1549.4H1194.2Z"/><path d="M1202.7 1536.8L1209.8 1548.3H1195.6Z"/><path d="M1204.2 1535.6L1211.3 1547.1H1197.1Z"/><path d="M1205.8 1534.3L1212.9 1545.8H1198.7Z"/><path d="M1207.5 1533.0L1214.6 1544.5H1200.4Z"/><path d="M1209.2 1531.6L1216.3 1543.1H1202.2Z"/><path d="M1211.0 1530.1L1218.1 1541.6H1204.0Z"/><path d="M1212.9 1528.5L1219.9 1540.0H1205.8Z"/><path d="M1214.7 1526.9L1221.8 1538.3H1207.6Z"/><path d="M1216.5 1525.1L1223.6 1536.6H1209.5Z"/><path d="M1218.4 1523.3L1225.4 1534.7H1211.3Z"/><path d="M1220.1 1521.3L1227.2 1532.8H1213.1Z"/><path d="M1221.9 1519.2L1229.0 1530.7H1214.8Z"/><path d="M1223.7 1517.0L1230.8 1528.5H1216.7Z"/><path d="M1225.7 1514.5L1232.8 1526.0H1218.6Z"/><path d="M1227.7 1511.8L1234.8 1523.3H1220.7Z"/><path d="M1229.9 1508.9L1237.0 1520.4H1222.8Z"/><path d="M1232.2 1505.8L1239.3 1517.2H1225.2Z"/><path d="M1234.7 1502.4L1241.8 1513.9H1227.6Z"/><path d="M1237.3 1498.9L1244.4 1510.4H1230.2Z"/><path d="M1240.1 1495.4L1247.2 1506.8H1233.0Z"/><path d="M1243.0 1491.8L1250.1 1503.2H1236.0Z"/><path d="M1246.3 1488.1L1253.4 1499.5H1239.2Z"/><path d="M1249.9 1484.2L1257.0 1495.6H1242.9Z"/><path d="M1254.0 1480.0L1261.0 1491.5H1246.9Z"/><path d="M1258.3 1475.7L1265.4 1487.1H1251.3Z"/><path d="M1263.1 1471.1L1270.2 1482.6H1256.0Z"/><path d="M1268.1 1466.2L1275.2 1477.7H1261.0Z"/><path d="M1273.4 1461.1L1280.5 1472.6H1266.3Z"/><path d="M1278.8 1455.7L1285.8 1467.2H1271.7Z"/><path d="M1284.2 1450.0L1291.3 1461.5H1277.1Z"/><path d="M1289.9 1444.0L1296.9 1455.5H1282.8Z"/><path d="M1295.8 1437.6L1302.9 1449.1H1288.7Z"/><path d="M1302.2 1430.9L1309.2 1442.4H1295.1Z"/><path d="M1309.2 1423.9L1316.3 1435.3H1302.1Z"/><path d="M1317.2 1416.4L1324.3 1427.9H1310.2Z"/><path d="M1326.3 1408.5L1333.4 1420.0H1319.2Z"/><path d="M1335.8 1400.2L1342.8 1411.7H1328.7Z"/><path d="M1345.3 1391.4L1352.4 1402.9H1338.3Z"/><path d="M1355.2 1382.1L1362.3 1393.6H1348.1Z"/><path d="M1365.2 1372.4L1372.3 1383.8H1358.1Z"/><path d="M1374.9 1362.0L1381.9 1373.5H1367.8Z"/><path d="M1384.1 1350.2L1391.1 1361.6H1377.0Z"/><path d="M1393.8 1337.1L1400.9 1348.6H1386.7Z"/><path d="M1404.2 1324.2L1411.3 1335.7H1397.1Z"/><path d="M1414.9 1307.3L1422.0 1318.8H1407.8Z"/><path d="M1426.0 1288.1L1433.1 1299.6H1419.0Z"/><path d="M1436.6 1263.0L1443.7 1274.5H1429.6Z"/><path d="M1447.9 1234.7L1454.9 1246.2H1440.8Z"/><path d="M1458.4 1201.0L1465.5 1212.4H1451.4Z"/><path d="M1465.1 1161.4L1472.2 1172.9H1458.0Z"/><path d="M1471.7 1117.4L1478.8 1128.9H1464.7Z"/><path d="M1477.3 1068.6L1484.4 1080.1H1470.2Z"/><path d="M1483.4 1014.4L1490.5 1025.8H1476.3Z"/><path d="M1490.2 954.1L1497.3 965.6H1483.1Z"/></g>
<polyline clip-path="url(#cl7)" fill="none" stroke="#008000" stroke-width="2.5" stroke-linejoin="round" points="1180.9,1564.7 1181.5,1564.2 1182.0,1563.5 1182.4,1562.7 1182.9,1561.8 1184.2,1560.6 1185.8,1559.5 1187.3,1558.4 1188.9,1557.4 1190.5,1556.4 1192.1,1555.4 1193.4,1554.2 1194.7,1553.1 1195.8,1551.9 1197.0,1550.7 1198.1,1549.4 1199.6,1547.8 1201.0,1546.6 1202.9,1545.1 1205.0,1543.5 1207.5,1541.6 1210.1,1539.7 1212.8,1537.6 1215.5,1535.4 1218.1,1533.1 1220.6,1530.8 1222.5,1528.8 1224.4,1526.6 1226.3,1524.4 1228.2,1522.1 1230.1,1519.7 1232.0,1517.2 1233.9,1514.7 1235.8,1512.1 1237.8,1509.5 1239.8,1507.0 1241.8,1504.4 1243.8,1501.9 1245.8,1499.5 1247.9,1497.1 1250.0,1494.8 1252.1,1492.6 1254.2,1490.4 1256.4,1488.1 1258.6,1485.9 1260.8,1483.7 1263.0,1481.5 1265.2,1479.3 1267.5,1477.1 1269.7,1475.0 1272.0,1472.8 1274.2,1470.6 1276.5,1468.4 1278.8,1466.2 1281.0,1464.0 1283.3,1461.8 1285.6,1459.5 1287.9,1457.2 1290.2,1454.9 1292.5,1452.6 1294.8,1450.3 1297.1,1448.1 1299.5,1445.8 1301.8,1443.5 1304.1,1441.3 1306.4,1439.1 1308.7,1437.0 1311.0,1434.9 1313.3,1432.9 1315.5,1430.9 1318.2,1428.7 1320.9,1426.6 1323.6,1424.6 1326.2,1422.6 1328.9,1420.7 1331.6,1418.8 1334.2,1417.0 1336.8,1415.1 1339.3,1413.2 1341.8,1411.3 1344.3,1409.4 1346.8,1407.4 1349.2,1405.5 1351.6,1403.6 1353.9,1401.8 1356.2,1399.9 1358.5,1398.0 1360.8,1396.0 1363.0,1393.9 1365.2,1391.6 1367.3,1389.2 1369.1,1387.0 1370.9,1384.6 1372.6,1382.0 1374.4,1379.3 1376.1,1376.5 1377.7,1373.7 1379.4,1370.8 1381.0,1367.9 1382.6,1365.1 1384.2,1362.4 1385.7,1359.9 1387.3,1357.5 1388.7,1355.3 1390.2,1353.4 1392.6,1350.6 1394.9,1348.3 1397.1,1346.2 1399.3,1344.2 1401.5,1342.1 1403.8,1339.8 1406.2,1337.7 1408.5,1335.5 1410.7,1333.2 1412.8,1330.8 1414.6,1328.4 1416.3,1325.9 1417.9,1323.4 1419.5,1320.8 1421.2,1318.2 1423.1,1315.4 1425.1,1312.7 1427.2,1309.9 1429.2,1307.0 1431.1,1304.1 1432.8,1301.4 1434.5,1298.6 1436.2,1295.8 1437.8,1292.9 1439.4,1290.0 1441.0,1287.1 1442.5,1284.3 1444.0,1281.5 1445.4,1278.7 1446.8,1275.9 1448.2,1273.0 1449.4,1270.2 1450.6,1266.8 1451.6,1263.5 1452.6,1260.2 1453.7,1256.8 1455.0,1253.3 1456.2,1250.8 1457.5,1248.3 1459.0,1245.7 1460.5,1243.1 1462.1,1240.4 1463.7,1237.7 1465.2,1234.9 1466.5,1232.2 1467.7,1229.3 1468.8,1226.3 1469.7,1223.1 1470.5,1219.9 1471.3,1216.7 1472.0,1213.4 1472.6,1210.1 1473.3,1206.8 1473.9,1203.5 1474.7,1200.3 1475.3,1197.3 1475.9,1194.4 1476.6,1191.4 1477.2,1188.5 1477.8,1185.6 1478.4,1182.6 1479.0,1179.6 1479.6,1176.6 1480.3,1173.6 1481.0,1170.6 1481.7,1167.7 1482.4,1164.8 1483.1,1161.9 1483.8,1158.9 1484.5,1156.0 1485.3,1153.0 1486.0,1150.0 1486.8,1147.0 1487.5,1144.0 1488.3,1140.9 1489.0,1137.8 1489.7,1135.0 1490.4,1132.2 1491.1,1129.3 1491.9,1126.4 1492.6,1123.5 1493.3,1120.6 1494.0,1117.6 1494.7,1114.7 1495.4,1111.7 1496.1,1108.7 1496.8,1105.8 1497.4,1102.8 1498.0,1099.9 1498.5,1096.9 1499.1,1094.0 1499.6,1091.1 1500.1,1088.2 1500.6,1085.3 1501.1,1082.4 1501.5,1079.4 1501.9,1076.5 1502.4,1073.4 1502.8,1070.4 1503.2,1067.2 1503.5,1064.0 1503.9,1060.7 1504.1,1058.0 1504.4,1055.3 1504.5,1052.4 1504.7,1049.5 1504.8,1046.6 1504.9,1043.6 1505.0,1040.6 1505.0,1037.5 1505.1,1034.4 1505.2,1031.3 1505.3,1028.2 1505.4,1025.1 1505.5,1022.0 1505.7,1018.9 1505.8,1015.8 1506.1,1012.7 1506.3,1009.6 1506.6,1006.6 1507.0,1003.6 1507.5,1000.6 1508.0,997.6 1508.6,994.6 1509.2,991.6 1509.9,988.6 1510.6,985.6 1511.3,982.6 1512.1,979.7 1513.0,976.7 1513.8,973.7 1514.7,970.8 1515.5,967.8 1516.4,964.9 1517.3,962.0 1518.2,959.0 1519.1,956.1 1519.9,953.1 1520.8,950.2 1521.6,947.2 1522.4,944.3"/>
<g fill="#fff" stroke="#008000" stroke-width="1.9"><path d="M1181.6 1557.8L1188.6 1569.3H1174.5Z"/><path d="M1182.2 1556.9L1189.3 1568.4H1175.1Z"/><path d="M1182.7 1556.0L1189.7 1567.5H1175.6Z"/><path d="M1183.4 1555.1L1190.5 1566.6H1176.3Z"/><path d="M1184.4 1554.2L1191.5 1565.7H1177.3Z"/><path d="M1185.7 1553.3L1192.7 1564.8H1178.6Z"/><path d="M1187.0 1552.4L1194.1 1563.9H1179.9Z"/><path d="M1188.4 1551.5L1195.5 1563.0H1181.3Z"/><path d="M1189.9 1550.6L1196.9 1562.1H1182.8Z"/><path d="M1191.3 1549.7L1198.3 1561.2H1184.2Z"/><path d="M1192.5 1548.8L1199.6 1560.3H1185.4Z"/><path d="M1193.5 1547.9L1200.6 1559.4H1186.5Z"/><path d="M1194.5 1547.0L1201.6 1558.5H1187.4Z"/><path d="M1195.4 1546.1L1202.5 1557.6H1188.3Z"/><path d="M1196.3 1545.2L1203.4 1556.7H1189.2Z"/><path d="M1197.1 1544.3L1204.2 1555.8H1190.1Z"/><path d="M1197.9 1543.4L1205.0 1554.9H1190.8Z"/><path d="M1198.7 1542.5L1205.8 1554.0H1191.6Z"/><path d="M1199.5 1541.6L1206.6 1553.1H1192.5Z"/><path d="M1200.6 1540.7L1207.7 1552.2H1193.5Z"/><path d="M1201.8 1539.7L1208.9 1551.2H1194.7Z"/><path d="M1203.1 1538.7L1210.2 1550.1H1196.1Z"/><path d="M1204.6 1537.6L1211.7 1549.0H1197.5Z"/><path d="M1206.1 1536.4L1213.2 1547.9H1199.1Z"/><path d="M1207.8 1535.2L1214.9 1546.6H1200.7Z"/><path d="M1209.5 1533.9L1216.6 1545.4H1202.4Z"/><path d="M1211.3 1532.5L1218.3 1544.0H1204.2Z"/><path d="M1213.1 1531.1L1220.2 1542.5H1206.0Z"/><path d="M1215.0 1529.6L1222.1 1541.0H1207.9Z"/><path d="M1216.9 1528.0L1223.9 1539.4H1209.8Z"/><path d="M1218.8 1526.3L1225.8 1537.7H1211.7Z"/><path d="M1220.6 1524.5L1227.7 1535.9H1213.6Z"/><path d="M1222.5 1522.6L1229.5 1534.1H1215.4Z"/><path d="M1224.2 1520.6L1231.3 1532.1H1217.2Z"/><path d="M1226.0 1518.5L1233.1 1530.0H1219.0Z"/><path d="M1227.9 1516.2L1235.0 1527.7H1220.8Z"/><path d="M1229.9 1513.7L1237.0 1525.2H1222.8Z"/><path d="M1232.0 1511.0L1239.0 1522.5H1224.9Z"/><path d="M1234.2 1508.1L1241.3 1519.6H1227.1Z"/><path d="M1236.5 1505.0L1243.6 1516.4H1229.5Z"/><path d="M1239.0 1501.7L1246.1 1513.2H1232.0Z"/><path d="M1241.7 1498.3L1248.8 1509.8H1234.6Z"/><path d="M1244.5 1494.8L1251.6 1506.3H1237.4Z"/><path d="M1247.5 1491.3L1254.6 1502.8H1240.5Z"/><path d="M1250.9 1487.6L1258.0 1499.1H1243.9Z"/><path d="M1254.7 1483.7L1261.8 1495.1H1247.6Z"/><path d="M1258.8 1479.5L1265.8 1491.0H1251.7Z"/><path d="M1263.2 1475.1L1270.2 1486.6H1256.1Z"/><path d="M1267.9 1470.5L1275.0 1482.0H1260.8Z"/><path d="M1273.0 1465.6L1280.0 1477.1H1265.9Z"/><path d="M1278.3 1460.5L1285.4 1471.9H1271.2Z"/><path d="M1283.8 1455.0L1290.9 1466.5H1276.8Z"/><path d="M1289.6 1449.3L1296.7 1460.7H1282.5Z"/><path d="M1295.7 1443.2L1302.8 1454.7H1288.6Z"/><path d="M1302.3 1436.8L1309.3 1448.3H1295.2Z"/><path d="M1309.5 1430.1L1316.5 1441.5H1302.4Z"/><path d="M1317.7 1423.0L1324.7 1434.4H1310.6Z"/><path d="M1327.6 1415.4L1334.7 1426.9H1320.5Z"/><path d="M1338.6 1407.5L1345.7 1419.0H1331.6Z"/><path d="M1349.4 1399.1L1356.5 1410.6H1342.3Z"/><path d="M1360.2 1390.3L1367.3 1401.7H1353.1Z"/><path d="M1369.1 1380.9L1376.1 1392.3H1362.0Z"/><path d="M1377.2 1368.4L1384.3 1379.9H1370.1Z"/><path d="M1385.7 1353.8L1392.8 1365.2H1378.6Z"/><path d="M1395.8 1341.2L1402.8 1352.7H1388.7Z"/><path d="M1408.5 1329.2L1415.6 1340.6H1401.5Z"/><path d="M1419.5 1314.5L1426.6 1326.0H1412.5Z"/><path d="M1430.9 1298.3L1437.9 1309.7H1423.8Z"/><path d="M1442.4 1278.2L1449.5 1289.7H1435.4Z"/><path d="M1453.2 1252.1L1460.3 1263.5H1446.1Z"/><path d="M1466.2 1226.5L1473.3 1238.0H1459.2Z"/><path d="M1475.3 1190.9L1482.4 1202.4H1468.3Z"/><path d="M1484.4 1150.2L1491.5 1161.7H1477.3Z"/><path d="M1495.5 1105.0L1502.6 1116.5H1488.5Z"/><path d="M1503.9 1054.8L1510.9 1066.3H1496.8Z"/><path d="M1506.8 999.1L1513.9 1010.5H1499.7Z"/><path d="M1522.4 938.0L1529.5 949.5H1515.3Z"/></g>
<polyline clip-path="url(#cl7)" fill="none" stroke="#00e800" stroke-width="2.5" stroke-linejoin="round" points="1169.8,1564.7 1170.1,1564.3 1170.5,1563.8 1171.1,1563.4 1171.7,1563.0 1172.3,1562.4 1173.1,1561.8 1174.7,1560.7 1176.4,1559.5 1177.6,1558.5 1178.9,1557.4 1180.5,1556.0 1182.2,1554.5 1183.8,1553.1 1185.5,1551.6 1187.1,1550.1 1188.7,1548.7 1190.4,1547.2 1192.0,1545.8 1193.3,1544.6 1194.5,1543.4 1195.6,1542.3 1197.0,1540.8 1198.4,1539.4 1200.2,1537.6 1202.4,1535.5 1204.8,1533.2 1207.4,1530.7 1210.0,1528.1 1212.7,1525.4 1215.3,1522.7 1217.7,1520.1 1219.6,1517.9 1221.6,1515.7 1223.4,1513.4 1225.3,1511.1 1227.2,1508.7 1229.1,1506.3 1231.0,1503.8 1233.0,1501.4 1235.0,1498.9 1237.0,1496.5 1239.1,1494.1 1241.3,1491.6 1243.3,1489.4 1245.5,1487.2 1247.6,1485.0 1249.9,1482.8 1252.2,1480.5 1254.5,1478.3 1256.8,1476.0 1259.2,1473.8 1261.5,1471.5 1263.9,1469.3 1266.2,1467.0 1268.5,1464.8 1270.8,1462.6 1273.1,1460.4 1275.3,1458.3 1277.6,1456.0 1279.9,1453.7 1282.2,1451.3 1284.5,1449.0 1286.8,1446.7 1289.1,1444.4 1291.4,1442.2 1293.6,1439.9 1295.8,1437.7 1298.0,1435.6 1300.0,1433.5 1302.1,1431.5 1304.0,1429.5 1306.4,1427.2 1308.8,1424.9 1311.1,1422.7 1313.3,1420.6 1315.4,1418.5 1317.5,1416.5 1319.3,1414.5 1321.0,1412.5 1323.2,1409.6 1325.0,1406.8 1326.6,1404.1 1328.2,1401.3 1330.1,1398.0 1332.0,1394.7 1333.8,1391.4 1335.3,1388.7 1336.7,1386.0 1338.1,1383.2 1339.4,1380.3 1340.4,1377.6 1341.3,1374.8 1342.1,1371.9 1342.9,1368.9 1343.7,1365.9 1344.7,1362.7 1345.8,1359.3 1346.8,1356.0 1347.8,1352.6 1348.6,1349.3 1349.3,1346.2 1349.9,1343.1 1350.5,1340.1 1351.0,1336.9 1351.5,1333.7 1352.0,1330.6 1352.4,1327.3 1352.9,1324.0 1353.3,1320.6 1353.8,1317.2 1354.3,1313.9 1354.8,1310.5 1355.4,1307.2 1356.0,1303.8 1356.6,1300.4 1357.2,1297.0 1357.8,1293.5 1358.3,1290.4 1358.8,1287.4 1359.4,1284.2 1359.9,1281.1 1360.4,1277.9 1360.9,1274.6 1361.5,1271.4 1362.0,1268.1 1362.5,1265.0 1363.1,1261.9 1363.7,1258.8 1364.3,1255.6 1364.9,1252.4 1365.4,1249.2 1366.0,1245.9 1366.5,1242.6 1367.0,1239.2 1367.4,1236.3 1367.8,1233.4 1368.2,1230.5 1368.5,1227.5 1368.9,1224.5 1369.2,1221.4 1369.5,1218.4 1369.9,1215.4 1370.2,1212.3 1370.5,1209.3 1370.9,1206.3 1371.2,1203.3 1371.6,1200.1 1372.0,1197.0 1372.3,1193.8 1372.7,1190.7 1373.1,1187.6 1373.5,1184.5 1373.9,1181.3 1374.2,1178.2 1374.6,1175.0 1375.0,1171.8 1375.4,1168.6 1375.7,1165.7 1376.1,1162.8 1376.5,1159.9 1376.8,1156.9 1377.2,1154.0 1377.6,1151.0 1377.9,1148.1 1378.3,1145.1 1378.7,1142.0 1379.0,1139.0 1379.3,1135.8 1379.7,1132.7 1380.0,1129.5 1380.3,1126.6 1380.5,1123.7 1380.7,1120.8 1381.0,1117.8 1381.2,1114.8 1381.4,1111.8 1381.6,1108.7 1381.8,1105.6 1382.0,1102.5 1382.2,1099.4 1382.4,1096.3 1382.6,1093.2 1382.8,1090.1 1383.1,1087.0 1383.3,1083.9 1383.5,1080.8 1383.7,1077.7 1384.0,1074.7 1384.2,1071.6 1384.4,1068.6 1384.6,1065.6 1384.8,1062.6 1385.0,1059.5 1385.3,1056.5 1385.5,1053.5 1385.7,1050.5 1385.9,1047.4 1386.2,1044.4 1386.4,1041.3 1386.7,1038.3 1387.0,1035.2 1387.3,1032.1 1387.7,1028.9 1388.0,1025.8 1388.4,1022.9 1388.8,1019.9 1389.3,1017.0 1389.7,1014.0 1390.2,1011.1 1390.7,1008.1 1391.2,1005.1 1391.8,1002.1 1392.3,999.0 1392.8,996.0 1393.4,993.0 1393.9,989.9 1394.4,986.9 1395.0,983.9 1395.5,980.8 1395.9,977.7 1396.4,974.7 1396.8,971.6 1397.2,968.6 1397.5,965.5 1397.9,962.4 1398.2,959.4 1398.4,956.3 1398.7,953.1 1398.9,950.0 1399.1,946.9 1399.3,943.8 1399.5,940.7 1399.6,937.5 1399.8,934.4 1399.9,931.3 1400.1,928.2 1400.2,925.0 1400.3,921.9 1400.5,918.8 1400.6,915.6 1400.8,912.5 1400.9,909.4 1401.1,906.2 1401.3,903.1"/>
<g fill="#fff" stroke="#00e800" stroke-width="1.9"><path d="M1169.9 1558.4L1176.9 1569.9H1162.8Z"/><path d="M1170.7 1557.5L1177.7 1569.0H1163.6Z"/><path d="M1171.8 1556.6L1178.9 1568.1H1164.8Z"/><path d="M1173.0 1555.7L1180.0 1567.2H1165.9Z"/><path d="M1174.2 1554.8L1181.3 1566.3H1167.1Z"/><path d="M1175.5 1553.9L1182.5 1565.4H1168.4Z"/><path d="M1176.7 1553.0L1183.8 1564.5H1169.6Z"/><path d="M1177.8 1552.1L1184.9 1563.6H1170.7Z"/><path d="M1178.9 1551.2L1185.9 1562.7H1171.8Z"/><path d="M1179.9 1550.3L1187.0 1561.8H1172.8Z"/><path d="M1180.9 1549.4L1188.0 1560.9H1173.8Z"/><path d="M1181.9 1548.5L1189.0 1560.0H1174.9Z"/><path d="M1182.9 1547.6L1190.0 1559.1H1175.9Z"/><path d="M1183.9 1546.7L1191.0 1558.2H1176.9Z"/><path d="M1185.0 1545.8L1192.0 1557.3H1177.9Z"/><path d="M1186.0 1544.9L1193.0 1556.4H1178.9Z"/><path d="M1187.0 1544.0L1194.1 1555.5H1179.9Z"/><path d="M1188.0 1543.1L1195.1 1554.6H1180.9Z"/><path d="M1189.0 1542.2L1196.1 1553.7H1181.9Z"/><path d="M1190.0 1541.3L1197.1 1552.8H1183.0Z"/><path d="M1191.1 1540.3L1198.2 1551.8H1184.0Z"/><path d="M1192.2 1539.3L1199.3 1550.8H1185.2Z"/><path d="M1193.4 1538.3L1200.5 1549.7H1186.3Z"/><path d="M1194.5 1537.2L1201.6 1548.6H1187.5Z"/><path d="M1195.7 1536.0L1202.7 1547.4H1188.6Z"/><path d="M1196.8 1534.7L1203.9 1546.2H1189.8Z"/><path d="M1198.2 1533.4L1205.2 1544.9H1191.1Z"/><path d="M1199.6 1532.0L1206.7 1543.5H1192.5Z"/><path d="M1201.1 1530.5L1208.2 1542.0H1194.0Z"/><path d="M1202.7 1529.0L1209.8 1540.5H1195.6Z"/><path d="M1204.4 1527.4L1211.5 1538.8H1197.3Z"/><path d="M1206.2 1525.6L1213.2 1537.1H1199.1Z"/><path d="M1208.0 1523.8L1215.1 1535.3H1201.0Z"/><path d="M1210.0 1521.9L1217.1 1533.4H1202.9Z"/><path d="M1212.0 1519.9L1219.1 1531.3H1204.9Z"/><path d="M1214.1 1517.7L1221.2 1529.2H1207.0Z"/><path d="M1216.2 1515.5L1223.3 1526.9H1209.2Z"/><path d="M1218.4 1513.1L1225.5 1524.5H1211.4Z"/><path d="M1220.6 1510.5L1227.7 1522.0H1213.6Z"/><path d="M1222.9 1507.9L1230.0 1519.3H1215.8Z"/><path d="M1225.2 1504.9L1232.3 1516.4H1218.2Z"/><path d="M1227.7 1501.8L1234.8 1513.2H1220.7Z"/><path d="M1230.4 1498.4L1237.5 1509.9H1223.3Z"/><path d="M1233.2 1494.9L1240.3 1506.4H1226.1Z"/><path d="M1236.2 1491.3L1243.2 1502.8H1229.1Z"/><path d="M1239.4 1487.6L1246.4 1499.0H1232.3Z"/><path d="M1243.0 1483.6L1250.0 1495.1H1235.9Z"/><path d="M1247.0 1479.5L1254.0 1490.9H1239.9Z"/><path d="M1251.3 1475.1L1258.4 1486.6H1244.3Z"/><path d="M1256.1 1470.5L1263.2 1481.9H1249.0Z"/><path d="M1261.2 1465.6L1268.3 1477.1H1254.1Z"/><path d="M1266.6 1460.4L1273.7 1471.9H1259.5Z"/><path d="M1272.2 1455.0L1279.3 1466.5H1265.2Z"/><path d="M1278.1 1449.3L1285.1 1460.7H1271.0Z"/><path d="M1284.1 1443.2L1291.2 1454.7H1277.1Z"/><path d="M1290.5 1436.8L1297.6 1448.3H1283.5Z"/><path d="M1297.3 1430.0L1304.3 1441.5H1290.2Z"/><path d="M1304.4 1422.9L1311.5 1434.4H1297.3Z"/><path d="M1312.2 1415.4L1319.3 1426.9H1305.2Z"/><path d="M1320.0 1407.5L1327.1 1418.9H1313.0Z"/><path d="M1327.0 1397.2L1334.0 1408.7H1319.9Z"/><path d="M1334.1 1384.6L1341.2 1396.1H1327.0Z"/><path d="M1341.1 1369.1L1348.2 1380.6H1334.0Z"/><path d="M1347.1 1348.8L1354.2 1360.2H1340.0Z"/><path d="M1351.8 1325.6L1358.9 1337.1H1344.7Z"/><path d="M1355.6 1299.8L1362.7 1311.3H1348.5Z"/><path d="M1360.5 1271.2L1367.5 1282.6H1353.4Z"/><path d="M1366.0 1239.4L1373.1 1250.8H1359.0Z"/><path d="M1370.4 1204.0L1377.5 1215.5H1363.3Z"/><path d="M1375.1 1164.8L1382.2 1176.3H1368.0Z"/><path d="M1380.2 1121.2L1387.3 1132.7H1373.1Z"/><path d="M1383.6 1072.8L1390.7 1084.3H1376.6Z"/><path d="M1388.1 1019.0L1395.2 1030.5H1381.0Z"/><path d="M1397.5 959.3L1404.6 970.8H1390.5Z"/></g>
<polyline clip-path="url(#cl7)" fill="none" stroke="#00e800" stroke-width="2.5" stroke-linejoin="round" points="1171.4,1564.7 1171.9,1564.1 1172.5,1563.5 1173.5,1562.7 1174.5,1561.8 1176.2,1560.7 1178.0,1559.5 1179.3,1558.5 1180.6,1557.4 1182.2,1556.0 1183.8,1554.5 1185.4,1553.0 1187.1,1551.6 1188.7,1550.1 1190.4,1548.7 1192.0,1547.2 1193.5,1545.8 1194.9,1544.6 1196.1,1543.4 1197.3,1542.3 1198.7,1540.8 1200.1,1539.5 1201.9,1537.7 1204.1,1535.7 1206.4,1533.5 1208.9,1531.1 1211.6,1528.6 1214.2,1526.0 1216.7,1523.5 1219.1,1521.0 1221.1,1518.8 1223.1,1516.6 1225.0,1514.4 1227.0,1512.1 1229.0,1509.7 1230.9,1507.3 1233.0,1504.9 1235.0,1502.5 1237.1,1500.0 1239.2,1497.6 1241.4,1495.2 1243.6,1492.8 1245.7,1490.6 1247.9,1488.4 1250.1,1486.2 1252.4,1484.0 1254.7,1481.7 1257.0,1479.5 1259.4,1477.2 1261.8,1475.0 1264.2,1472.8 1266.6,1470.5 1269.0,1468.3 1271.3,1466.1 1273.6,1464.0 1275.9,1461.8 1278.1,1459.7 1280.4,1457.5 1282.7,1455.3 1285.0,1453.2 1287.3,1451.1 1289.6,1449.0 1291.8,1446.9 1294.0,1444.8 1296.2,1442.7 1298.4,1440.6 1300.6,1438.6 1302.7,1436.5 1304.8,1434.4 1306.9,1432.4 1309.1,1430.1 1311.4,1427.9 1313.7,1425.6 1315.9,1423.3 1318.2,1421.1 1320.3,1418.8 1322.4,1416.6 1324.4,1414.5 1326.3,1412.4 1328.0,1410.3 1329.6,1408.4 1331.7,1405.7 1333.4,1403.1 1334.9,1400.6 1336.4,1398.2 1338.0,1395.7 1339.7,1393.2 1341.4,1390.6 1343.2,1388.1 1344.9,1385.6 1346.5,1383.0 1348.4,1379.8 1350.1,1376.6 1351.9,1373.4 1353.6,1370.3 1355.4,1367.1 1357.2,1364.0 1359.0,1360.8 1360.6,1357.6 1361.9,1354.9 1363.0,1352.1 1364.1,1349.2 1365.2,1346.4 1366.3,1343.5 1367.6,1340.5 1368.9,1337.4 1370.2,1334.3 1371.4,1331.2 1372.6,1328.0 1373.5,1325.0 1374.4,1322.0 1375.2,1318.9 1375.9,1315.9 1376.7,1312.8 1377.5,1309.7 1378.3,1306.7 1379.2,1303.7 1380.0,1300.8 1380.8,1297.8 1381.6,1294.7 1382.5,1291.4 1383.3,1288.5 1384.1,1285.4 1384.9,1282.2 1385.8,1279.0 1386.6,1275.8 1387.4,1272.5 1388.1,1269.2 1388.8,1266.0 1389.3,1263.1 1389.8,1260.1 1390.3,1257.2 1390.7,1254.2 1391.1,1251.3 1391.5,1248.3 1391.9,1245.3 1392.4,1242.3 1392.9,1239.2 1393.6,1236.2 1394.2,1233.2 1395.0,1230.2 1395.7,1227.1 1396.5,1224.0 1397.3,1220.9 1398.0,1217.8 1398.8,1214.7 1399.5,1211.5 1400.1,1208.3 1400.6,1205.4 1401.1,1202.5 1401.5,1199.6 1402.0,1196.7 1402.3,1193.7 1402.7,1190.7 1403.1,1187.7 1403.5,1184.7 1403.9,1181.7 1404.3,1178.7 1404.8,1175.7 1405.3,1172.6 1405.9,1169.5 1406.6,1166.4 1407.2,1163.3 1408.0,1160.1 1408.7,1157.0 1409.5,1153.8 1410.2,1150.7 1410.9,1147.5 1411.6,1144.3 1412.3,1141.1 1412.9,1137.9 1413.4,1134.7 1413.8,1131.6 1414.1,1128.5 1414.4,1125.4 1414.6,1122.2 1414.8,1119.1 1414.9,1115.9 1415.1,1112.8 1415.2,1109.6 1415.4,1106.4 1415.6,1103.2 1415.9,1099.9 1416.2,1096.7 1416.5,1093.4 1416.9,1090.5 1417.4,1087.5 1417.8,1084.6 1418.3,1081.6 1418.9,1078.7 1419.4,1075.7 1420.0,1072.7 1420.6,1069.7 1421.2,1066.6 1421.8,1063.6 1422.4,1060.5 1423.0,1057.4 1423.5,1054.3 1424.0,1051.1 1424.5,1048.0 1425.0,1044.8 1425.4,1041.9 1425.8,1039.0 1426.1,1036.1 1426.4,1033.1 1426.7,1030.1 1427.0,1027.0 1427.3,1024.0 1427.6,1020.9 1427.9,1017.9 1428.2,1014.8 1428.4,1011.7 1428.7,1008.6 1429.0,1005.5 1429.3,1002.5 1429.6,999.4 1429.9,996.4 1430.3,993.4 1430.6,990.4 1431.0,987.4 1431.4,984.5 1431.9,981.4 1432.4,978.2 1432.9,975.1 1433.4,972.0 1433.9,969.0 1434.5,965.9 1435.1,962.9 1435.6,959.9 1436.2,956.9 1436.8,953.9 1437.4,950.8 1438.0,947.8 1438.6,944.8 1439.2,941.8 1439.8,938.8 1440.3,935.8 1440.9,932.7"/>
<g fill="#fff" stroke="#00e800" stroke-width="1.9"><path d="M1172.0 1557.8L1179.1 1569.3H1165.0Z"/><path d="M1173.0 1556.9L1180.1 1568.4H1165.9Z"/><path d="M1174.1 1556.0L1181.1 1567.5H1167.0Z"/><path d="M1175.3 1555.1L1182.3 1566.6H1168.2Z"/><path d="M1176.6 1554.2L1183.7 1565.7H1169.5Z"/><path d="M1177.9 1553.3L1185.0 1564.8H1170.8Z"/><path d="M1179.1 1552.4L1186.2 1563.9H1172.0Z"/><path d="M1180.2 1551.5L1187.3 1563.0H1173.1Z"/><path d="M1181.2 1550.6L1188.3 1562.1H1174.2Z"/><path d="M1182.2 1549.7L1189.3 1561.2H1175.2Z"/><path d="M1183.2 1548.8L1190.3 1560.3H1176.1Z"/><path d="M1184.2 1547.9L1191.3 1559.4H1177.1Z"/><path d="M1185.2 1547.0L1192.3 1558.5H1178.1Z"/><path d="M1186.2 1546.1L1193.3 1557.6H1179.1Z"/><path d="M1187.2 1545.2L1194.3 1556.7H1180.2Z"/><path d="M1188.3 1544.3L1195.3 1555.8H1181.2Z"/><path d="M1189.3 1543.4L1196.4 1554.9H1182.2Z"/><path d="M1190.3 1542.5L1197.4 1554.0H1183.2Z"/><path d="M1191.3 1541.6L1198.4 1553.1H1184.2Z"/><path d="M1192.3 1540.7L1199.4 1552.1H1185.2Z"/><path d="M1193.4 1539.7L1200.5 1551.1H1186.3Z"/><path d="M1194.6 1538.6L1201.6 1550.1H1187.5Z"/><path d="M1195.8 1537.5L1202.9 1549.0H1188.7Z"/><path d="M1197.0 1536.4L1204.0 1547.8H1189.9Z"/><path d="M1198.2 1535.1L1205.3 1546.6H1191.1Z"/><path d="M1199.5 1533.9L1206.6 1545.3H1192.4Z"/><path d="M1200.9 1532.5L1208.0 1544.0H1193.8Z"/><path d="M1202.4 1531.0L1209.5 1542.5H1195.4Z"/><path d="M1204.0 1529.5L1211.1 1541.0H1197.0Z"/><path d="M1205.8 1527.9L1212.8 1539.4H1198.7Z"/><path d="M1207.5 1526.2L1214.6 1537.7H1200.5Z"/><path d="M1209.4 1524.4L1216.5 1535.9H1202.3Z"/><path d="M1211.4 1522.5L1218.5 1534.0H1204.3Z"/><path d="M1213.4 1520.5L1220.5 1532.0H1206.4Z"/><path d="M1215.5 1518.4L1222.6 1529.9H1208.5Z"/><path d="M1217.7 1516.2L1224.8 1527.7H1210.7Z"/><path d="M1220.0 1513.9L1227.0 1525.3H1212.9Z"/><path d="M1222.2 1511.4L1229.3 1522.9H1215.1Z"/><path d="M1224.5 1508.8L1231.6 1520.3H1217.4Z"/><path d="M1226.8 1506.0L1233.9 1517.5H1219.8Z"/><path d="M1229.3 1503.1L1236.3 1514.6H1222.2Z"/><path d="M1231.9 1500.0L1238.9 1511.5H1224.8Z"/><path d="M1234.6 1496.7L1241.6 1508.2H1227.5Z"/><path d="M1237.5 1493.3L1244.6 1504.8H1230.4Z"/><path d="M1240.7 1489.7L1247.8 1501.2H1233.6Z"/><path d="M1244.3 1485.9L1251.3 1497.3H1237.2Z"/><path d="M1248.2 1481.9L1255.3 1493.3H1241.1Z"/><path d="M1252.5 1477.6L1259.6 1489.1H1245.4Z"/><path d="M1257.2 1473.1L1264.3 1484.6H1250.1Z"/><path d="M1262.2 1468.4L1269.3 1479.8H1255.2Z"/><path d="M1267.6 1463.4L1274.7 1474.8H1260.5Z"/><path d="M1273.2 1458.1L1280.3 1469.6H1266.2Z"/><path d="M1279.1 1452.5L1286.2 1464.0H1272.1Z"/><path d="M1285.4 1446.7L1292.4 1458.1H1278.3Z"/><path d="M1292.0 1440.5L1299.1 1451.9H1284.9Z"/><path d="M1298.9 1433.9L1306.0 1445.4H1291.9Z"/><path d="M1306.1 1427.0L1313.1 1438.5H1299.0Z"/><path d="M1313.4 1419.7L1320.4 1431.2H1306.3Z"/><path d="M1320.9 1412.0L1328.0 1423.5H1313.8Z"/><path d="M1328.2 1403.9L1335.3 1415.3H1321.2Z"/><path d="M1335.4 1393.7L1342.4 1405.1H1328.3Z"/><path d="M1343.0 1382.2L1350.0 1393.7H1335.9Z"/><path d="M1350.9 1369.0L1358.0 1380.5H1343.8Z"/><path d="M1359.3 1354.1L1366.3 1365.5H1352.2Z"/><path d="M1367.2 1335.1L1374.3 1346.5H1360.2Z"/><path d="M1375.2 1312.8L1382.2 1324.2H1368.1Z"/><path d="M1382.4 1285.7L1389.4 1297.1H1375.3Z"/><path d="M1389.6 1255.5L1396.6 1266.9H1382.5Z"/><path d="M1395.5 1221.9L1402.5 1233.4H1388.4Z"/><path d="M1402.7 1184.6L1409.8 1196.1H1395.6Z"/><path d="M1410.5 1143.3L1417.6 1154.7H1403.4Z"/><path d="M1415.6 1097.3L1422.7 1108.7H1408.5Z"/><path d="M1423.8 1046.2L1430.9 1057.7H1416.8Z"/><path d="M1430.0 989.5L1437.1 1001.0H1422.9Z"/><path d="M1440.9 926.5L1448.0 938.0H1433.8Z"/></g>
</g>
<rect x="1521.40" y="1206.30" width="218.60" height="308.40" fill="none" stroke="#000" stroke-width="2.6"/>
<line x1="1521.40" y1="1514.70" x2="1740.00" y2="1206.30" stroke="#bebebe" stroke-width="5.0" stroke-dasharray="35 19.9" stroke-dashoffset="0"/>
<path d="M1576.05 1514.70v-8M1630.70 1514.70v-8M1685.35 1514.70v-8M1548.73 1514.70v-5M1603.38 1514.70v-5M1658.03 1514.70v-5M1712.67 1514.70v-5M1521.40 1470.64h8M1521.40 1426.59h8M1521.40 1382.53h8M1521.40 1338.47h8M1521.40 1294.41h8M1521.40 1250.36h8M1521.40 1492.67h5M1521.40 1448.61h5M1521.40 1404.56h5M1521.40 1360.50h5M1521.40 1316.44h5M1521.40 1272.39h5M1521.40 1228.33h5" stroke="#000" stroke-width="2.4" fill="none"/>
<text font-size="27.5" text-anchor="middle" transform="translate(1521.40 1545.00) scale(1.13 1)">140</text>
<text font-size="27.5" text-anchor="middle" transform="translate(1576.05 1545.00) scale(1.13 1)">175</text>
<text font-size="27.5" text-anchor="middle" transform="translate(1630.70 1545.00) scale(1.13 1)">210</text>
<text font-size="27.5" text-anchor="middle" transform="translate(1685.35 1545.00) scale(1.13 1)">245</text>
<text font-size="27.5" text-anchor="middle" transform="translate(1740.00 1545.00) scale(1.13 1)">280</text>
<text font-size="27.5" text-anchor="end" transform="translate(1512.00 1523.70) scale(1.13 1)">0</text>
<text font-size="27.5" text-anchor="end" transform="translate(1512.00 1479.64) scale(1.13 1)">20</text>
<text font-size="27.5" text-anchor="end" transform="translate(1512.00 1435.59) scale(1.13 1)">40</text>
<text font-size="27.5" text-anchor="end" transform="translate(1512.00 1391.53) scale(1.13 1)">60</text>
<text font-size="27.5" text-anchor="end" transform="translate(1512.00 1347.47) scale(1.13 1)">80</text>
<text font-size="27.5" text-anchor="end" transform="translate(1512.00 1303.41) scale(1.13 1)">100</text>
<text font-size="27.5" text-anchor="end" transform="translate(1512.00 1259.36) scale(1.13 1)">120</text>
<text font-size="27.5" text-anchor="end" transform="translate(1512.00 1215.30) scale(1.13 1)">140</text>
<clipPath id="cl8"><rect x="1519.90" y="1204.80" width="221.60" height="311.40"/></clipPath>
<g>
<polyline clip-path="url(#cl8)" fill="none" stroke="#000000" stroke-width="1.4" stroke-linejoin="round" points="1520.3,1514.7 1521.9,1512.1 1523.4,1509.6 1525.0,1507.0 1526.5,1504.5 1528.1,1501.9 1529.7,1499.4 1531.4,1496.9 1533.2,1494.2 1535.0,1491.6 1536.9,1489.0 1538.9,1486.4 1540.8,1483.8 1542.8,1481.4 1544.8,1479.0 1547.0,1476.6 1549.3,1474.4 1551.6,1472.3 1553.9,1470.2 1556.2,1468.0 1558.2,1465.6 1560.0,1463.3 1561.8,1460.8 1563.5,1458.4 1565.1,1455.8 1566.6,1453.2 1568.0,1450.5 1569.3,1447.7 1570.6,1444.7 1571.7,1441.6 1572.7,1438.5 1573.6,1435.2 1574.4,1432.0 1575.3,1428.7 1576.1,1425.5 1576.8,1422.3 1577.5,1419.2 1578.2,1416.0 1578.8,1412.8 1579.4,1409.6 1579.9,1406.4 1580.4,1403.2 1580.9,1400.0 1581.2,1396.8 1581.6,1393.6 1581.9,1390.4 1582.2,1387.2 1582.5,1384.0 1582.8,1380.8 1583.1,1377.6 1583.4,1374.4 1583.8,1371.2 1584.1,1368.1 1584.4,1364.9 1584.7,1361.7 1585.0,1358.5 1585.2,1355.3 1585.3,1352.2 1585.5,1349.0 1585.6,1345.8 1585.8,1342.6 1585.9,1339.5 1586.0,1336.3 1586.2,1333.1 1586.4,1329.9 1586.5,1326.6 1586.7,1323.4 1586.9,1320.2 1587.0,1317.0 1587.1,1313.8 1587.2,1310.6 1587.3,1307.4 1587.4,1304.3 1587.4,1301.1 1587.5,1297.9 1587.5,1294.7 1587.6,1291.6 1587.7,1288.4 1587.8,1285.2 1588.0,1282.0 1588.1,1278.8 1588.2,1275.7 1588.3,1272.5 1588.4,1269.3 1588.4,1266.1 1588.5,1262.9 1588.5,1259.7 1588.5,1256.5 1588.5,1253.3 1588.5,1250.2 1588.5,1247.1 1588.6,1243.9 1588.6,1241.0 1588.7,1238.1 1588.7,1235.0 1588.8,1231.4 1588.9,1227.0 1588.9,1225.3 1588.9,1223.6 1588.9,1221.7 1589.0,1219.8 1589.0,1217.8 1589.0,1215.7 1589.1,1213.5 1589.1,1211.3 1589.2,1208.9 1589.2,1206.5 1589.2,1204.1 1589.3,1201.5 1589.3,1198.9 1589.4,1196.2 1589.4,1193.5 1589.5,1190.7 1589.5,1187.9 1589.6,1184.9 1589.6,1182.0 1589.7,1179.0 1589.7,1175.9 1589.8,1172.8 1589.8,1169.6 1589.9,1166.4 1590.0,1163.2 1590.0,1159.9 1590.1,1156.5 1590.1,1153.2 1590.2,1149.8 1590.3,1146.3 1590.3,1142.9 1590.4,1139.4 1590.4,1135.9 1590.5,1132.3 1590.6,1128.8 1590.6,1125.2 1590.7,1121.6 1590.8,1118.0 1590.9,1114.4 1590.9,1110.7 1591.0,1107.1 1591.1,1103.4 1591.1,1099.8 1591.2,1096.1 1591.3,1092.4 1591.4,1088.8 1591.4,1085.1 1591.5,1081.4 1591.6,1077.8 1591.7,1074.1 1591.7,1071.7 1591.8,1069.2 1591.8,1066.7 1591.9,1064.2 1591.9,1061.7 1592.0,1059.2 1592.0,1056.6 1592.1,1054.0 1592.2,1051.4 1592.2,1048.8 1592.3,1046.2 1592.3,1043.5 1592.4,1040.9 1592.4,1038.2 1592.5,1035.5 1592.6,1032.7 1592.6,1030.0 1592.7,1027.3 1592.8,1024.5 1592.8,1021.7 1592.9,1018.9 1592.9,1016.1 1593.0,1013.3 1593.1,1010.4 1593.1,1007.6 1593.2,1004.7 1593.3,1001.8 1593.3,998.9 1593.4,996.0 1593.5,993.1 1593.5,990.1 1593.6,987.2 1593.7,984.2 1593.8,981.3 1593.8,978.3 1593.9,975.3 1594.0,972.3 1594.0,969.3 1594.1,966.3 1594.2,963.2 1594.3,960.2 1594.3,957.1 1594.4,954.1 1594.5,951.0 1594.5,947.9 1594.6,944.9 1594.7,941.8 1594.8,938.7 1594.8,935.6 1594.9,932.4 1595.0,929.3 1595.1,926.2 1595.1,923.1 1595.2,919.9 1595.3,916.8 1595.4,913.6 1595.4,910.5 1595.5,907.3 1595.6,904.1 1595.7,901.0 1595.8,897.8 1595.8,894.6 1595.9,891.5 1596.0,888.3 1596.1,885.1 1596.1,881.9 1596.2,878.7 1596.3,875.5 1596.4,872.3 1596.4,869.1 1596.5,866.0 1596.6,862.8 1596.7,859.6 1596.8,856.4 1596.8,853.2 1596.9,850.0 1597.0,846.8 1597.1,843.6 1597.1,840.4 1597.2,837.2 1597.3,834.0 1597.4,830.8 1597.5,827.7 1597.5,824.5 1597.6,821.3 1597.7,818.1 1597.8,815.0 1597.8,811.8 1597.9,808.6 1598.0,805.5 1598.1,802.3 1598.1,799.2 1598.2,796.0 1598.3,792.9 1598.4,789.8 1598.4,786.6 1598.5,783.5 1598.6,780.4 1598.7,777.3 1598.7,774.2 1598.8,771.1 1598.9,768.0 1599.0,765.0 1599.0,761.9 1599.1,758.8 1599.2,755.8 1599.3,752.8 1599.3,749.7 1599.4,746.7 1599.5,743.7"/>
<g fill="#fff" stroke="#000000" stroke-width="1.3"><circle cx="1521.5" cy="1512.7" r="4.35"/><circle cx="1522.3" cy="1511.5" r="4.35"/><circle cx="1523.0" cy="1510.3" r="4.35"/><circle cx="1523.7" cy="1509.1" r="4.35"/><circle cx="1524.4" cy="1507.9" r="4.35"/><circle cx="1525.2" cy="1506.7" r="4.35"/><circle cx="1525.9" cy="1505.5" r="4.35"/><circle cx="1526.6" cy="1504.3" r="4.35"/><circle cx="1527.4" cy="1503.1" r="4.35"/><circle cx="1528.1" cy="1501.9" r="4.35"/><circle cx="1528.9" cy="1500.7" r="4.35"/><circle cx="1529.6" cy="1499.5" r="4.35"/><circle cx="1530.4" cy="1498.3" r="4.35"/><circle cx="1531.2" cy="1497.1" r="4.35"/><circle cx="1532.1" cy="1495.9" r="4.35"/><circle cx="1532.9" cy="1494.6" r="4.35"/><circle cx="1533.9" cy="1493.3" r="4.35"/><circle cx="1534.9" cy="1491.9" r="4.35"/><circle cx="1535.9" cy="1490.4" r="4.35"/><circle cx="1537.0" cy="1488.9" r="4.35"/><circle cx="1538.3" cy="1487.2" r="4.35"/><circle cx="1539.5" cy="1485.5" r="4.35"/><circle cx="1540.9" cy="1483.8" r="4.35"/><circle cx="1542.3" cy="1482.0" r="4.35"/><circle cx="1543.9" cy="1480.1" r="4.35"/><circle cx="1545.6" cy="1478.2" r="4.35"/><circle cx="1547.5" cy="1476.2" r="4.35"/><circle cx="1549.8" cy="1474.1" r="4.35"/><circle cx="1552.2" cy="1471.8" r="4.35"/><circle cx="1554.7" cy="1469.4" r="4.35"/><circle cx="1557.1" cy="1466.9" r="4.35"/><circle cx="1559.4" cy="1464.1" r="4.35"/><circle cx="1561.7" cy="1460.9" r="4.35"/><circle cx="1564.2" cy="1457.2" r="4.35"/><circle cx="1566.8" cy="1452.8" r="4.35"/><circle cx="1569.4" cy="1447.6" r="4.35"/><circle cx="1571.9" cy="1441.1" r="4.35"/><circle cx="1574.2" cy="1433.1" r="4.35"/><circle cx="1576.4" cy="1424.1" r="4.35"/><circle cx="1578.6" cy="1414.0" r="4.35"/><circle cx="1580.5" cy="1402.9" r="4.35"/><circle cx="1581.9" cy="1390.5" r="4.35"/><circle cx="1583.2" cy="1376.7" r="4.35"/><circle cx="1584.7" cy="1361.5" r="4.35"/><circle cx="1585.7" cy="1344.5" r="4.35"/><circle cx="1586.6" cy="1325.7" r="4.35"/><circle cx="1587.4" cy="1304.7" r="4.35"/><circle cx="1588.0" cy="1281.5" r="4.35"/><circle cx="1588.5" cy="1255.7" r="4.35"/><circle cx="1588.9" cy="1227.0" r="4.35"/></g>
<polyline clip-path="url(#cl8)" fill="none" stroke="#000000" stroke-width="1.4" stroke-linejoin="round" points="1521.4,1514.7 1523.5,1512.1 1525.5,1509.5 1527.6,1507.0 1529.6,1504.4 1531.7,1501.8 1533.9,1499.3 1536.2,1496.7 1538.5,1494.1 1540.9,1491.5 1543.3,1488.9 1545.6,1486.3 1547.9,1483.9 1550.1,1481.6 1552.2,1479.5 1554.4,1477.4 1556.5,1475.2 1558.5,1473.0 1560.4,1470.6 1562.4,1468.0 1564.4,1465.1 1566.3,1462.2 1568.1,1459.3 1569.8,1456.2 1571.4,1453.0 1572.7,1450.1 1574.0,1447.0 1575.2,1444.0 1576.3,1440.8 1577.3,1437.6 1578.3,1434.3 1579.2,1431.0 1580.0,1427.8 1580.7,1424.7 1581.3,1421.4 1581.9,1418.2 1582.4,1414.8 1582.9,1411.5 1583.4,1408.0 1583.9,1404.6 1584.2,1401.7 1584.6,1398.9 1584.9,1396.1 1585.2,1393.2 1585.5,1390.3 1585.7,1387.3 1586.0,1384.3 1586.2,1381.2 1586.5,1378.1 1586.7,1374.9 1587.0,1371.5 1587.2,1368.8 1587.4,1366.1 1587.6,1363.3 1587.8,1360.5 1588.0,1357.6 1588.1,1354.7 1588.3,1351.7 1588.5,1348.7 1588.7,1345.7 1588.8,1342.6 1589.0,1339.4 1589.2,1336.3 1589.3,1333.1 1589.5,1329.8 1589.7,1326.5 1589.8,1323.2 1590.0,1319.8 1590.1,1316.4 1590.2,1313.8 1590.3,1311.0 1590.4,1308.3 1590.5,1305.5 1590.6,1302.8 1590.7,1300.0 1590.8,1297.1 1590.9,1294.3 1590.9,1291.4 1591.0,1288.5 1591.1,1285.6 1591.2,1282.7 1591.2,1279.7 1591.3,1276.7 1591.4,1273.7 1591.5,1270.6 1591.5,1267.6 1591.6,1264.5 1591.7,1261.3 1591.7,1258.2 1591.8,1255.0 1591.9,1251.8 1592.0,1248.5 1592.0,1245.2 1592.1,1241.9 1592.2,1238.6 1592.3,1235.2 1592.4,1231.8 1592.4,1228.3 1592.5,1225.7 1592.6,1223.1 1592.6,1220.5 1592.7,1217.8 1592.8,1215.2 1592.8,1212.5 1592.9,1209.8 1593.0,1207.1 1593.1,1204.4 1593.1,1201.7 1593.2,1199.0 1593.3,1196.2 1593.3,1193.5 1593.4,1190.7 1593.5,1187.9 1593.5,1185.1 1593.6,1182.3 1593.7,1179.4 1593.7,1176.6 1593.8,1173.7 1593.9,1170.8 1594.0,1167.9 1594.0,1164.9 1594.1,1162.0 1594.2,1159.0 1594.2,1156.0 1594.3,1153.0 1594.4,1150.0 1594.5,1147.0 1594.6,1143.9 1594.6,1140.8 1594.7,1137.7 1594.8,1134.6 1594.9,1131.4 1594.9,1128.2 1595.0,1125.0 1595.1,1121.8 1595.2,1118.6 1595.3,1115.3 1595.4,1112.0 1595.4,1108.7 1595.5,1105.4 1595.6,1102.0 1595.7,1098.6 1595.8,1095.2 1595.9,1091.7 1596.0,1088.3 1596.1,1084.8 1596.2,1081.3 1596.3,1077.7 1596.3,1074.1 1596.4,1071.7 1596.5,1069.2 1596.5,1066.7 1596.6,1064.2 1596.7,1061.7 1596.8,1059.1 1596.8,1056.6 1596.9,1054.0 1597.0,1051.4 1597.0,1048.8 1597.1,1046.1 1597.2,1043.5 1597.3,1040.8 1597.3,1038.1 1597.4,1035.4 1597.5,1032.7 1597.6,1029.9 1597.6,1027.2 1597.7,1024.4 1597.8,1021.6 1597.9,1018.8 1597.9,1016.0 1598.0,1013.2 1598.1,1010.3 1598.2,1007.5 1598.3,1004.6 1598.3,1001.7 1598.4,998.8 1598.5,995.9 1598.6,993.0 1598.7,990.0 1598.8,987.1 1598.8,984.1 1598.9,981.2 1599.0,978.2 1599.1,975.2 1599.2,972.2 1599.3,969.2 1599.3,966.2 1599.4,963.1 1599.5,960.1 1599.6,957.0 1599.7,954.0 1599.8,950.9 1599.9,947.8 1600.0,944.8 1600.0,941.7 1600.1,938.6 1600.2,935.5 1600.3,932.3 1600.4,929.2 1600.5,926.1 1600.6,923.0 1600.7,919.8 1600.8,916.7 1600.9,913.5 1600.9,910.4 1601.0,907.2 1601.1,904.1 1601.2,900.9 1601.3,897.7 1601.4,894.6 1601.5,891.4 1601.6,888.2 1601.7,885.0 1601.8,881.8 1601.9,878.7 1601.9,875.5 1602.0,872.3 1602.1,869.1 1602.2,865.9 1602.3,862.7 1602.4,859.5 1602.5,856.3 1602.6,853.1 1602.7,849.9 1602.8,846.7 1602.9,843.6 1603.0,840.4 1603.0,837.2 1603.1,834.0 1603.2,830.8 1603.3,827.6 1603.4,824.5 1603.5,821.3 1603.6,818.1 1603.7,814.9 1603.8,811.8 1603.9,808.6 1604.0,805.5 1604.0,802.3 1604.1,799.2 1604.2,796.0 1604.3,792.9 1604.4,789.8 1604.5,786.6 1604.6,783.5 1604.7,780.4 1604.8,777.3 1604.8,774.2 1604.9,771.1 1605.0,768.0 1605.1,765.0 1605.2,761.9 1605.3,758.8 1605.4,755.8 1605.5,752.8 1605.5,749.7 1605.6,746.7 1605.7,743.7"/>
<g fill="#fff" stroke="#000000" stroke-width="1.3"><circle cx="1521.5" cy="1514.6" r="4.35"/><circle cx="1522.5" cy="1513.4" r="4.35"/><circle cx="1523.4" cy="1512.2" r="4.35"/><circle cx="1524.4" cy="1511.0" r="4.35"/><circle cx="1525.4" cy="1509.8" r="4.35"/><circle cx="1526.3" cy="1508.6" r="4.35"/><circle cx="1527.3" cy="1507.4" r="4.35"/><circle cx="1528.2" cy="1506.2" r="4.35"/><circle cx="1529.2" cy="1505.0" r="4.35"/><circle cx="1530.2" cy="1503.8" r="4.35"/><circle cx="1531.1" cy="1502.6" r="4.35"/><circle cx="1532.1" cy="1501.4" r="4.35"/><circle cx="1533.2" cy="1500.2" r="4.35"/><circle cx="1534.2" cy="1499.0" r="4.35"/><circle cx="1535.2" cy="1497.8" r="4.35"/><circle cx="1536.3" cy="1496.6" r="4.35"/><circle cx="1537.3" cy="1495.4" r="4.35"/><circle cx="1538.4" cy="1494.2" r="4.35"/><circle cx="1539.5" cy="1493.0" r="4.35"/><circle cx="1540.6" cy="1491.7" r="4.35"/><circle cx="1541.8" cy="1490.5" r="4.35"/><circle cx="1543.0" cy="1489.1" r="4.35"/><circle cx="1544.4" cy="1487.7" r="4.35"/><circle cx="1545.8" cy="1486.2" r="4.35"/><circle cx="1547.2" cy="1484.6" r="4.35"/><circle cx="1548.8" cy="1483.0" r="4.35"/><circle cx="1550.5" cy="1481.2" r="4.35"/><circle cx="1552.4" cy="1479.3" r="4.35"/><circle cx="1554.4" cy="1477.4" r="4.35"/><circle cx="1556.4" cy="1475.3" r="4.35"/><circle cx="1558.4" cy="1473.1" r="4.35"/><circle cx="1560.3" cy="1470.8" r="4.35"/><circle cx="1562.4" cy="1468.0" r="4.35"/><circle cx="1564.5" cy="1464.9" r="4.35"/><circle cx="1566.8" cy="1461.3" r="4.35"/><circle cx="1569.2" cy="1457.2" r="4.35"/><circle cx="1571.7" cy="1452.4" r="4.35"/><circle cx="1574.1" cy="1446.7" r="4.35"/><circle cx="1576.6" cy="1439.9" r="4.35"/><circle cx="1578.9" cy="1431.9" r="4.35"/><circle cx="1581.0" cy="1422.7" r="4.35"/><circle cx="1582.7" cy="1412.5" r="4.35"/><circle cx="1584.3" cy="1401.2" r="4.35"/><circle cx="1585.6" cy="1388.6" r="4.35"/><circle cx="1586.7" cy="1374.7" r="4.35"/><circle cx="1587.9" cy="1359.2" r="4.35"/><circle cx="1588.9" cy="1341.9" r="4.35"/><circle cx="1589.8" cy="1322.8" r="4.35"/><circle cx="1590.6" cy="1301.6" r="4.35"/><circle cx="1591.3" cy="1278.0" r="4.35"/><circle cx="1591.9" cy="1251.8" r="4.35"/><circle cx="1592.6" cy="1222.6" r="4.35"/></g>
<polyline clip-path="url(#cl8)" fill="none" stroke="#008000" stroke-width="1.4" stroke-linejoin="round" points="1633.8,1514.7 1636.0,1511.9 1638.1,1509.0 1640.1,1505.9 1641.4,1502.8 1642.4,1499.5 1643.6,1496.1 1645.2,1492.7 1646.9,1490.1 1648.9,1487.5 1651.1,1484.9 1653.5,1482.2 1655.9,1479.6 1658.4,1477.1 1660.8,1474.6 1663.3,1472.3 1665.8,1470.0 1668.3,1467.7 1670.9,1465.5 1673.5,1463.4 1676.1,1461.2 1678.6,1459.0 1681.2,1456.8 1683.9,1454.6 1686.5,1452.4 1689.2,1450.2 1691.8,1448.0 1694.2,1445.7 1696.6,1443.3 1698.7,1440.9 1700.7,1438.4 1702.6,1435.9 1704.5,1433.3 1706.3,1430.7 1708.1,1428.1 1710.0,1425.5 1711.9,1423.0 1713.8,1420.5 1715.8,1418.0 1717.7,1415.5 1719.6,1412.9 1721.4,1410.3 1723.3,1407.6 1724.9,1405.1 1726.3,1402.7 1727.7,1400.2 1729.0,1397.7 1730.5,1395.1 1732.2,1392.2 1734.3,1389.0 1736.7,1385.4 1737.7,1384.0 1738.8,1382.6 1739.9,1381.1 1741.1,1379.5 1742.4,1378.0 1743.7,1376.3 1745.1,1374.7 1746.5,1373.0 1748.0,1371.2 1749.5,1369.4 1751.1,1367.6 1752.7,1365.7 1754.4,1363.8 1756.1,1361.8 1757.9,1359.8 1759.7,1357.8 1761.5,1355.7 1763.4,1353.6 1765.3,1351.5 1767.2,1349.3 1769.2,1347.1 1771.2,1344.9 1773.2,1342.6 1775.3,1340.3 1777.4,1338.0 1779.5,1335.6 1781.7,1333.3 1783.8,1330.9 1786.0,1328.4 1788.2,1326.0 1790.4,1323.5 1792.6,1321.0 1794.8,1318.5 1797.1,1315.9 1799.3,1313.3 1801.6,1310.7 1803.8,1308.1 1806.1,1305.5 1808.3,1302.9 1810.6,1300.2 1812.9,1297.5 1815.1,1294.8 1817.4,1292.1 1819.6,1289.4 1821.9,1286.7 1824.1,1283.9 1826.3,1281.2 1828.5,1278.4 1830.7,1275.6 1832.8,1272.8 1835.0,1270.0 1837.1,1267.2 1839.2,1264.4 1841.3,1261.6 1843.3,1258.8 1845.3,1256.0 1847.3,1253.2 1849.3,1250.4 1850.8,1248.2 1852.2,1246.1 1853.7,1243.9 1855.2,1241.7 1856.6,1239.5 1858.1,1237.3 1859.6,1235.0 1861.0,1232.7 1862.5,1230.5 1864.0,1228.2 1865.4,1225.8 1866.9,1223.5 1868.4,1221.2 1869.8,1218.8 1871.3,1216.4 1872.8,1214.0 1874.2,1211.6 1875.7,1209.2 1877.2,1206.8 1878.6,1204.3 1880.1,1201.8 1881.6,1199.4 1883.0,1196.9 1884.5,1194.4 1886.0,1191.9 1887.4,1189.3 1888.9,1186.8 1890.4,1184.2 1891.8,1181.7 1893.3,1179.1 1894.8,1176.5 1896.3,1173.9 1897.7,1171.3 1899.2,1168.7 1900.7,1166.1 1902.1,1163.4 1903.6,1160.8 1905.1,1158.1 1906.5,1155.5 1908.0,1152.8 1909.5,1150.1 1910.9,1147.4 1912.4,1144.8 1913.9,1142.1 1915.4,1139.3 1916.8,1136.6 1918.3,1133.9 1919.8,1131.2 1921.2,1128.5 1922.7,1125.7 1924.2,1123.0 1925.6,1120.2 1927.1,1117.5 1928.6,1114.7 1930.0,1112.0 1931.5,1109.2 1933.0,1106.5 1934.5,1103.7 1935.9,1100.9 1937.4,1098.2 1938.9,1095.4 1940.3,1092.6 1941.8,1089.8 1943.3,1087.1 1944.7,1084.3 1946.2,1081.5 1947.7,1078.7 1949.1,1075.9 1950.6,1073.2 1952.1,1070.4 1953.6,1067.6 1955.0,1064.8 1956.5,1062.0 1958.0,1059.3 1959.4,1056.5 1960.9,1053.7 1962.4,1051.0 1963.8,1048.2 1965.3,1045.4 1966.8,1042.7 1968.3,1039.9 1969.7,1037.2 1971.2,1034.4 1972.7,1031.7 1974.1,1028.9 1975.6,1026.2 1977.1,1023.5 1978.5,1020.8 1980.0,1018.0 1981.5,1015.3 1982.9,1012.6 1984.4,1009.9 1985.9,1007.2 1987.4,1004.6 1988.8,1001.9 1990.3,999.2 1991.8,996.6 1993.2,993.9 1994.7,991.3 1996.2,988.6 1997.6,986.0"/>
<g fill="#fff" stroke="#008000" stroke-width="1.4"><path d="M1633.8 1509.7L1639.5 1518.9H1628.1Z"/><path d="M1634.7 1508.5L1640.5 1517.7H1629.0Z"/><path d="M1635.6 1507.3L1641.4 1516.5H1629.9Z"/><path d="M1636.5 1506.1L1642.3 1515.3H1630.8Z"/><path d="M1637.4 1504.9L1643.2 1514.1H1631.7Z"/><path d="M1638.3 1503.7L1644.0 1512.9H1632.6Z"/><path d="M1639.1 1502.5L1644.8 1511.7H1633.3Z"/><path d="M1639.8 1501.3L1645.5 1510.5H1634.1Z"/><path d="M1640.4 1500.1L1646.1 1509.3H1634.7Z"/><path d="M1640.9 1498.9L1646.6 1508.1H1635.2Z"/><path d="M1641.4 1497.7L1647.1 1506.9H1635.7Z"/><path d="M1641.8 1496.4L1647.5 1505.7H1636.1Z"/><path d="M1642.2 1495.0L1648.0 1504.3H1636.5Z"/><path d="M1642.7 1493.5L1648.5 1502.8H1637.0Z"/><path d="M1643.3 1491.8L1649.0 1501.1H1637.6Z"/><path d="M1644.0 1490.2L1649.7 1499.4H1638.3Z"/><path d="M1644.8 1488.5L1650.5 1497.8H1639.1Z"/><path d="M1645.7 1486.8L1651.5 1496.1H1640.0Z"/><path d="M1646.8 1485.2L1652.5 1494.5H1641.1Z"/><path d="M1647.9 1483.7L1653.7 1493.0H1642.2Z"/><path d="M1649.1 1482.2L1654.9 1491.4H1643.4Z"/><path d="M1650.4 1480.6L1656.2 1489.9H1644.7Z"/><path d="M1651.8 1479.0L1657.6 1488.3H1646.1Z"/><path d="M1653.4 1477.3L1659.1 1486.6H1647.6Z"/><path d="M1655.0 1475.5L1660.8 1484.8H1649.3Z"/><path d="M1656.9 1473.6L1662.6 1482.9H1651.1Z"/><path d="M1658.8 1471.6L1664.5 1480.9H1653.1Z"/><path d="M1660.9 1469.5L1666.6 1478.8H1655.2Z"/><path d="M1663.2 1467.3L1668.9 1476.6H1657.5Z"/><path d="M1665.7 1464.9L1671.5 1474.2H1660.0Z"/><path d="M1668.6 1462.5L1674.3 1471.7H1662.9Z"/><path d="M1671.7 1459.8L1677.4 1469.1H1666.0Z"/><path d="M1675.0 1457.1L1680.7 1466.4H1669.2Z"/><path d="M1678.4 1454.2L1684.1 1463.4H1672.7Z"/><path d="M1682.0 1451.1L1687.7 1460.4H1676.3Z"/><path d="M1686.0 1447.8L1691.7 1457.1H1680.3Z"/><path d="M1690.1 1444.4L1695.8 1453.7H1684.4Z"/><path d="M1694.1 1440.8L1699.9 1450.0H1688.4Z"/><path d="M1697.8 1437.0L1703.5 1446.2H1692.1Z"/><path d="M1701.2 1432.7L1706.9 1442.0H1695.5Z"/><path d="M1704.8 1427.8L1710.5 1437.1H1699.1Z"/><path d="M1708.6 1422.4L1714.3 1431.7H1702.9Z"/><path d="M1712.7 1417.0L1718.4 1426.2H1706.9Z"/><path d="M1717.0 1411.3L1722.7 1420.6H1711.3Z"/><path d="M1721.6 1405.1L1727.3 1414.4H1715.9Z"/><path d="M1726.4 1397.6L1732.1 1406.9H1720.6Z"/><path d="M1731.3 1388.7L1737.0 1398.0H1725.6Z"/><path d="M1736.8 1380.2L1742.6 1389.5H1731.1Z"/></g>
<polyline clip-path="url(#cl8)" fill="none" stroke="#008000" stroke-width="1.4" stroke-linejoin="round" points="1649.4,1514.7 1651.6,1511.9 1653.7,1509.0 1655.7,1505.9 1656.9,1502.8 1657.8,1499.5 1658.8,1496.1 1660.4,1492.7 1662.0,1490.1 1664.0,1487.5 1666.2,1484.9 1668.6,1482.2 1671.1,1479.6 1673.6,1477.1 1676.0,1474.6 1678.3,1472.3 1680.8,1470.0 1683.2,1467.8 1685.7,1465.6 1688.2,1463.4 1690.7,1461.2 1693.2,1459.0 1695.6,1456.8 1698.2,1454.6 1700.7,1452.4 1703.2,1450.2 1705.6,1448.0 1708.0,1445.7 1710.3,1443.3 1712.5,1440.9 1714.6,1438.4 1716.6,1435.9 1718.6,1433.3 1720.6,1430.7 1722.5,1428.1 1724.4,1425.5 1726.2,1423.0 1728.0,1420.5 1729.8,1418.0 1731.6,1415.5 1733.3,1412.9 1735.1,1410.3 1736.9,1407.6 1738.5,1405.1 1740.0,1402.6 1741.4,1400.2 1742.8,1397.7 1744.4,1395.0 1746.2,1392.1 1748.4,1389.0 1750.9,1385.4 1752.0,1384.0 1753.1,1382.5 1754.3,1381.0 1755.5,1379.4 1756.8,1377.8 1758.2,1376.1 1759.6,1374.3 1761.1,1372.5 1762.6,1370.7 1764.2,1368.8 1765.9,1366.8 1767.6,1364.8 1769.3,1362.8 1771.1,1360.7 1772.9,1358.6 1774.8,1356.4 1776.7,1354.2 1778.6,1352.0 1780.6,1349.7 1782.6,1347.4 1784.7,1345.0 1786.8,1342.7 1788.9,1340.3 1791.0,1337.9 1793.2,1335.4 1795.4,1332.9 1797.6,1330.5 1799.8,1328.0 1802.0,1325.4 1804.3,1322.9 1806.6,1320.3 1808.9,1317.8 1811.2,1315.2 1813.5,1312.6 1815.8,1310.0 1818.1,1307.4 1820.4,1304.8 1822.8,1302.2 1825.1,1299.6 1827.4,1297.0 1829.7,1294.4 1832.1,1291.8 1834.4,1289.3 1836.7,1286.7 1839.0,1284.1 1841.2,1281.6 1843.5,1279.0 1845.7,1276.5 1848.0,1274.0 1850.2,1271.5 1852.4,1269.0 1854.5,1266.6 1856.7,1264.2 1858.8,1261.8 1860.8,1259.4 1862.9,1257.1 1864.9,1254.8"/>
<g fill="#fff" stroke="#008000" stroke-width="1.4"><path d="M1649.9 1509.1L1655.6 1518.3H1644.2Z"/><path d="M1650.8 1507.9L1656.5 1517.1H1645.1Z"/><path d="M1651.7 1506.7L1657.4 1515.9H1646.0Z"/><path d="M1652.6 1505.5L1658.3 1514.7H1646.9Z"/><path d="M1653.5 1504.3L1659.3 1513.5H1647.8Z"/><path d="M1654.3 1503.1L1660.0 1512.3H1648.6Z"/><path d="M1655.1 1501.9L1660.8 1511.1H1649.3Z"/><path d="M1655.8 1500.7L1661.5 1509.9H1650.0Z"/><path d="M1656.2 1499.5L1662.0 1508.7H1650.5Z"/><path d="M1656.7 1498.3L1662.4 1507.5H1651.0Z"/><path d="M1657.1 1497.0L1662.8 1506.3H1651.4Z"/><path d="M1657.5 1495.6L1663.2 1504.9H1651.8Z"/><path d="M1657.9 1494.1L1663.6 1503.4H1652.2Z"/><path d="M1658.4 1492.4L1664.1 1501.7H1652.7Z"/><path d="M1659.0 1490.6L1664.7 1499.9H1653.3Z"/><path d="M1659.8 1488.9L1665.5 1498.2H1654.0Z"/><path d="M1660.6 1487.2L1666.4 1496.5H1654.9Z"/><path d="M1661.7 1485.6L1667.4 1494.9H1656.0Z"/><path d="M1662.8 1484.1L1668.5 1493.3H1657.1Z"/><path d="M1664.0 1482.5L1669.7 1491.8H1658.3Z"/><path d="M1665.3 1481.0L1671.0 1490.2H1659.5Z"/><path d="M1666.6 1479.4L1672.4 1488.6H1660.9Z"/><path d="M1668.2 1477.7L1673.9 1487.0H1662.4Z"/><path d="M1669.8 1475.9L1675.5 1485.2H1664.1Z"/><path d="M1671.6 1474.0L1677.3 1483.3H1665.9Z"/><path d="M1673.5 1472.1L1679.3 1481.3H1667.8Z"/><path d="M1675.6 1470.0L1681.3 1479.3H1669.9Z"/><path d="M1677.8 1467.8L1683.5 1477.1H1672.1Z"/><path d="M1680.2 1465.5L1685.9 1474.7H1674.5Z"/><path d="M1682.9 1463.0L1688.6 1472.3H1677.2Z"/><path d="M1685.8 1460.4L1691.5 1469.7H1680.1Z"/><path d="M1688.9 1457.7L1694.7 1467.0H1683.2Z"/><path d="M1692.2 1454.8L1697.9 1464.1H1686.5Z"/><path d="M1695.6 1451.8L1701.3 1461.0H1689.9Z"/><path d="M1699.3 1448.5L1705.0 1457.8H1693.6Z"/><path d="M1703.2 1445.2L1708.9 1454.4H1697.5Z"/><path d="M1707.1 1441.6L1712.8 1450.8H1701.3Z"/><path d="M1710.8 1437.8L1716.5 1447.1H1705.1Z"/><path d="M1714.2 1433.8L1720.0 1443.1H1708.5Z"/><path d="M1717.8 1429.3L1723.5 1438.6H1712.1Z"/><path d="M1721.5 1424.3L1727.3 1433.6H1715.8Z"/><path d="M1725.5 1418.9L1731.2 1428.2H1719.8Z"/><path d="M1729.7 1413.1L1735.5 1422.3H1724.0Z"/><path d="M1734.2 1406.6L1739.9 1415.9H1728.5Z"/><path d="M1738.9 1399.3L1744.7 1408.6H1733.2Z"/></g>
<polyline clip-path="url(#cl8)" fill="none" stroke="#00e800" stroke-width="1.4" stroke-linejoin="round" points="1589.3,1514.7 1591.2,1511.4 1593.2,1508.1 1595.1,1505.9 1597.3,1503.7 1599.5,1501.5 1601.9,1498.8 1604.4,1495.9 1607.3,1492.7 1609.2,1490.7 1611.3,1488.6 1613.5,1486.3 1615.9,1484.0 1618.3,1481.6 1620.7,1479.2 1622.9,1476.9 1625.1,1474.6 1627.4,1472.0 1629.7,1469.5 1631.8,1466.9 1634.0,1464.4 1636.2,1461.7 1638.5,1459.0 1640.4,1456.7 1642.3,1454.3 1644.3,1451.9 1646.3,1449.4 1648.4,1446.8 1650.4,1444.3 1652.4,1441.8 1654.5,1439.2 1656.5,1436.7 1658.4,1434.2 1660.4,1431.7 1662.4,1429.2 1664.4,1426.7 1666.4,1424.2 1668.3,1421.7 1670.3,1419.2 1672.3,1416.7 1674.3,1414.2 1676.2,1411.8 1678.2,1409.3 1680.2,1406.8 1682.2,1404.4 1684.1,1401.9 1686.1,1399.4 1688.1,1396.9 1690.1,1394.5 1692.1,1392.0 1694.1,1389.5 1696.1,1387.0 1698.1,1384.5 1700.1,1382.0 1702.1,1379.5 1704.1,1377.0 1706.1,1374.5 1708.0,1372.1 1709.9,1369.8 1711.9,1367.1 1713.9,1364.6 1715.8,1362.1 1717.7,1359.6 1719.6,1357.1 1721.4,1354.5 1723.3,1351.9 1724.9,1349.6 1726.4,1347.4 1727.8,1345.3 1729.2,1343.1 1730.7,1340.8 1732.4,1338.2 1734.4,1335.3 1736.7,1331.9 1737.6,1330.5 1738.6,1329.1 1739.7,1327.7 1740.7,1326.1 1741.9,1324.6 1743.0,1322.9 1744.3,1321.2 1745.5,1319.4 1746.8,1317.6 1748.2,1315.8 1749.6,1313.8 1751.0,1311.9 1752.5,1309.8 1754.0,1307.8 1755.5,1305.7 1757.1,1303.5 1758.7,1301.3 1760.4,1299.0 1762.1,1296.8 1763.8,1294.4 1765.5,1292.1 1767.3,1289.7 1769.1,1287.2 1770.9,1284.7 1772.7,1282.2 1774.6,1279.7 1776.5,1277.1 1778.4,1274.5 1780.3,1271.9 1782.2,1269.2 1784.2,1266.6 1786.1,1263.9 1788.1,1261.1 1790.1,1258.4 1792.1,1255.6 1794.1,1252.9 1796.2,1250.1 1798.2,1247.2 1800.2,1244.4 1802.3,1241.6 1804.3,1238.7 1806.4,1235.9 1808.4,1233.0 1810.4,1230.1 1812.5,1227.2 1814.5,1224.4 1816.6,1221.5 1818.6,1218.6 1820.6,1215.7 1822.6,1212.8 1824.6,1209.9 1826.6,1207.0 1828.6,1204.2 1830.6,1201.3 1832.5,1198.4 1834.5,1195.6 1836.4,1192.7 1838.3,1189.9 1840.2,1187.1 1842.1,1184.3 1843.9,1181.5 1845.7,1178.7 1847.5,1176.0 1849.3,1173.3 1850.8,1170.9 1852.4,1168.5 1853.9,1166.1 1855.4,1163.7 1856.9,1161.3 1858.5,1158.9 1860.0,1156.5 1861.5,1154.0 1863.0,1151.6 1864.6,1149.1 1866.1,1146.7 1867.6,1144.2 1869.1,1141.7 1870.7,1139.2 1872.2,1136.7 1873.7,1134.2 1875.2,1131.7 1876.8,1129.1 1878.3,1126.6 1879.8,1124.1 1881.3,1121.5 1882.9,1119.0 1884.4,1116.4 1885.9,1113.8 1887.4,1111.3 1889.0,1108.7 1890.5,1106.1 1892.0,1103.5 1893.5,1100.9 1895.1,1098.3 1896.6,1095.7 1898.1,1093.1 1899.6,1090.5 1901.2,1087.8 1902.7,1085.2 1904.2,1082.6 1905.7,1079.9 1907.2,1077.3 1908.8,1074.6 1910.3,1072.0 1911.8,1069.3 1913.3,1066.7 1914.9,1064.0 1916.4,1061.4 1917.9,1058.7 1919.4,1056.1 1921.0,1053.4 1922.5,1050.7 1924.0,1048.1 1925.5,1045.4 1927.1,1042.7 1928.6,1040.0 1930.1,1037.4 1931.6,1034.7 1933.1,1032.0 1934.7,1029.3 1936.2,1026.7 1937.7,1024.0 1939.2,1021.3 1940.8,1018.6 1942.3,1016.0 1943.8,1013.3 1945.3,1010.6 1946.9,1008.0 1948.4,1005.3 1949.9,1002.6 1951.4,1000.0 1953.0,997.3 1954.5,994.6 1956.0,992.0 1957.5,989.3 1959.0,986.7 1960.6,984.0 1962.1,981.4 1963.6,978.7 1965.1,976.1 1966.7,973.5 1968.2,970.8 1969.7,968.2 1971.2,965.6 1972.8,963.0 1974.3,960.4 1975.8,957.8 1977.3,955.2"/>
<g fill="#fff" stroke="#00e800" stroke-width="1.4"><path d="M1589.3 1509.7L1595.0 1518.9H1583.6Z"/><path d="M1590.0 1508.5L1595.7 1517.7H1584.3Z"/><path d="M1590.6 1507.3L1596.4 1516.5H1584.9Z"/><path d="M1591.3 1506.1L1597.1 1515.3H1585.6Z"/><path d="M1592.1 1504.9L1597.8 1514.1H1586.4Z"/><path d="M1592.8 1503.7L1598.6 1512.9H1587.1Z"/><path d="M1593.7 1502.5L1599.5 1511.7H1588.0Z"/><path d="M1594.8 1501.3L1600.5 1510.5H1589.0Z"/><path d="M1595.9 1500.1L1601.6 1509.3H1590.2Z"/><path d="M1597.1 1498.9L1602.8 1508.1H1591.4Z"/><path d="M1598.3 1497.7L1604.0 1506.9H1592.6Z"/><path d="M1599.5 1496.5L1605.2 1505.7H1593.7Z"/><path d="M1600.5 1495.3L1606.2 1504.5H1594.8Z"/><path d="M1601.6 1494.1L1607.3 1503.3H1595.9Z"/><path d="M1602.6 1492.9L1608.4 1502.1H1596.9Z"/><path d="M1603.7 1491.7L1609.4 1500.9H1597.9Z"/><path d="M1604.7 1490.5L1610.4 1499.7H1599.0Z"/><path d="M1605.8 1489.3L1611.5 1498.5H1600.1Z"/><path d="M1606.9 1488.1L1612.6 1497.3H1601.2Z"/><path d="M1608.0 1486.9L1613.7 1496.1H1602.3Z"/><path d="M1609.2 1485.6L1615.0 1494.9H1603.5Z"/><path d="M1610.6 1484.3L1616.3 1493.5H1604.8Z"/><path d="M1612.0 1482.8L1617.7 1492.1H1606.2Z"/><path d="M1613.5 1481.4L1619.2 1490.6H1607.7Z"/><path d="M1615.0 1479.8L1620.8 1489.1H1609.3Z"/><path d="M1616.7 1478.1L1622.4 1487.4H1611.0Z"/><path d="M1618.5 1476.4L1624.2 1485.7H1612.8Z"/><path d="M1620.3 1474.5L1626.0 1483.8H1614.6Z"/><path d="M1622.2 1472.6L1627.9 1481.9H1616.5Z"/><path d="M1624.2 1470.5L1629.9 1479.8H1618.5Z"/><path d="M1626.2 1468.4L1631.9 1477.6H1620.5Z"/><path d="M1628.2 1466.1L1634.0 1475.3H1622.5Z"/><path d="M1630.3 1463.6L1636.1 1472.9H1624.6Z"/><path d="M1632.5 1461.1L1638.3 1470.4H1626.8Z"/><path d="M1634.8 1458.4L1640.5 1467.7H1629.1Z"/><path d="M1637.2 1455.5L1642.9 1464.8H1631.5Z"/><path d="M1639.7 1452.5L1645.4 1461.8H1634.0Z"/><path d="M1642.4 1449.2L1648.1 1458.5H1636.6Z"/><path d="M1645.2 1445.8L1650.9 1455.0H1639.5Z"/><path d="M1648.2 1442.1L1653.9 1451.3H1642.5Z"/><path d="M1651.3 1438.1L1657.1 1447.4H1645.6Z"/><path d="M1654.7 1433.9L1660.4 1443.2H1649.0Z"/><path d="M1658.2 1429.5L1663.9 1438.8H1652.5Z"/><path d="M1662.0 1424.8L1667.7 1434.0H1656.2Z"/><path d="M1665.9 1419.8L1671.6 1429.0H1660.2Z"/><path d="M1670.1 1414.4L1675.8 1423.7H1664.4Z"/><path d="M1674.6 1408.8L1680.3 1418.1H1668.8Z"/><path d="M1679.3 1402.9L1685.0 1412.2H1673.6Z"/><path d="M1684.3 1396.7L1690.0 1406.0H1678.5Z"/><path d="M1689.5 1390.1L1695.3 1399.4H1683.8Z"/><path d="M1695.1 1383.2L1700.8 1392.4H1689.4Z"/><path d="M1701.0 1375.8L1706.8 1385.1H1695.3Z"/><path d="M1707.3 1368.0L1713.0 1377.3H1701.6Z"/><path d="M1713.9 1359.5L1719.6 1368.8H1708.2Z"/><path d="M1720.9 1350.2L1726.6 1359.5H1715.2Z"/><path d="M1728.3 1339.5L1734.0 1348.8H1722.6Z"/><path d="M1736.1 1327.7L1741.9 1337.0H1730.4Z"/></g>
<polyline clip-path="url(#cl8)" fill="none" stroke="#00e800" stroke-width="1.4" stroke-linejoin="round" points="1597.9,1514.7 1599.9,1511.8 1601.9,1508.9 1604.2,1505.9 1606.1,1503.4 1608.1,1500.8 1610.3,1498.2 1612.6,1495.4 1615.1,1492.7 1617.2,1490.5 1619.4,1488.3 1621.8,1486.0 1624.3,1483.7 1626.8,1481.4 1629.2,1479.1 1631.6,1476.8 1633.8,1474.6 1636.0,1472.4 1638.0,1470.2 1640.0,1468.0 1641.9,1465.9 1643.9,1463.7 1645.9,1461.4 1647.9,1459.0 1649.7,1456.7 1651.6,1454.3 1653.5,1451.9 1655.4,1449.4 1657.3,1446.8 1659.2,1444.3 1661.2,1441.7 1663.1,1439.2 1665.1,1436.7 1667.0,1434.2 1669.0,1431.7 1671.0,1429.2 1673.0,1426.7 1675.0,1424.2 1677.0,1421.7 1679.0,1419.2 1681.0,1416.7 1683.0,1414.2 1685.0,1411.8 1687.0,1409.3 1689.0,1406.8 1691.0,1404.4 1693.0,1401.9 1695.0,1399.4 1697.0,1397.0 1699.0,1394.5 1701.0,1392.0 1702.9,1389.5 1704.9,1387.0 1706.8,1384.5 1708.7,1382.0 1710.7,1379.5 1712.6,1377.0 1714.4,1374.5 1716.3,1372.1 1718.1,1369.8 1720.2,1367.1 1722.3,1364.5 1724.3,1362.0 1726.3,1359.5 1728.3,1357.1 1730.2,1354.5 1732.2,1351.9 1733.9,1349.6 1735.4,1347.4 1736.9,1345.3 1738.4,1343.1 1740.0,1340.8 1741.8,1338.2 1743.8,1335.3 1746.2,1331.9 1747.2,1330.5 1748.2,1329.1 1749.3,1327.6 1750.4,1326.1 1751.6,1324.4 1752.8,1322.7 1754.1,1321.0 1755.4,1319.2 1756.7,1317.3 1758.1,1315.4 1759.6,1313.4 1761.1,1311.4 1762.6,1309.3 1764.1,1307.1 1765.7,1304.9 1767.3,1302.7 1769.0,1300.4 1770.7,1298.1 1772.4,1295.7 1774.2,1293.3 1776.0,1290.9 1777.8,1288.4 1779.6,1285.9 1781.5,1283.3 1783.4,1280.8 1785.3,1278.1 1787.2,1275.5 1789.1,1272.8 1791.1,1270.2 1793.1,1267.5 1795.1,1264.7 1797.1,1262.0 1799.1,1259.2 1801.1,1256.4 1803.2,1253.6 1805.2,1250.8 1807.3,1248.0 1809.3,1245.2 1811.4,1242.4 1813.5,1239.6 1815.5,1236.7 1817.6,1233.9 1819.7,1231.1 1821.8,1228.2 1823.8,1225.4 1825.9,1222.6 1827.9,1219.8 1830.0,1217.0 1832.0,1214.2 1834.1,1211.4 1836.1,1208.7 1838.1,1205.9 1840.1,1203.2 1842.0,1200.5 1844.0,1197.8 1845.9,1195.2 1847.9,1192.5 1849.7,1189.9 1851.6,1187.4 1853.5,1184.8 1855.3,1182.3 1857.1,1179.9"/>
<g fill="#fff" stroke="#00e800" stroke-width="1.4"><path d="M1598.3 1509.1L1604.1 1518.3H1592.6Z"/><path d="M1599.2 1507.9L1604.9 1517.1H1593.4Z"/><path d="M1600.0 1506.7L1605.7 1515.9H1594.3Z"/><path d="M1600.8 1505.5L1606.6 1514.7H1595.1Z"/><path d="M1601.7 1504.3L1607.4 1513.5H1595.9Z"/><path d="M1602.5 1503.1L1608.3 1512.3H1596.8Z"/><path d="M1603.4 1501.9L1609.1 1511.1H1597.7Z"/><path d="M1604.3 1500.7L1610.0 1509.9H1598.6Z"/><path d="M1605.2 1499.5L1611.0 1508.7H1599.5Z"/><path d="M1606.2 1498.3L1611.9 1507.5H1600.4Z"/><path d="M1607.1 1497.1L1612.8 1506.3H1601.4Z"/><path d="M1608.0 1495.9L1613.8 1505.1H1602.3Z"/><path d="M1609.0 1494.7L1614.7 1503.9H1603.3Z"/><path d="M1610.0 1493.5L1615.7 1502.7H1604.3Z"/><path d="M1611.0 1492.3L1616.7 1501.5H1605.3Z"/><path d="M1612.0 1491.1L1617.8 1500.3H1606.3Z"/><path d="M1613.1 1489.9L1618.8 1499.1H1607.4Z"/><path d="M1614.2 1488.7L1619.9 1497.9H1608.4Z"/><path d="M1615.3 1487.5L1621.0 1496.7H1609.5Z"/><path d="M1616.4 1486.2L1622.2 1495.5H1610.7Z"/><path d="M1617.7 1484.9L1623.4 1494.2H1612.0Z"/><path d="M1619.1 1483.6L1624.8 1492.8H1613.4Z"/><path d="M1620.6 1482.1L1626.4 1491.4H1614.9Z"/><path d="M1622.3 1480.6L1628.0 1489.9H1616.5Z"/><path d="M1624.0 1479.0L1629.7 1488.2H1618.3Z"/><path d="M1625.8 1477.3L1631.5 1486.5H1620.1Z"/><path d="M1627.8 1475.5L1633.5 1484.7H1622.0Z"/><path d="M1629.8 1473.6L1635.5 1482.8H1624.0Z"/><path d="M1631.8 1471.6L1637.6 1480.8H1626.1Z"/><path d="M1633.9 1469.5L1639.7 1478.7H1628.2Z"/><path d="M1636.1 1467.2L1641.8 1476.5H1630.3Z"/><path d="M1638.3 1464.9L1644.0 1474.1H1632.6Z"/><path d="M1640.5 1462.4L1646.3 1471.7H1634.8Z"/><path d="M1642.9 1459.8L1648.6 1469.0H1637.2Z"/><path d="M1645.3 1457.0L1651.0 1466.3H1639.6Z"/><path d="M1647.8 1454.1L1653.5 1463.3H1642.0Z"/><path d="M1650.4 1450.9L1656.1 1460.2H1644.6Z"/><path d="M1653.1 1447.4L1658.8 1456.6H1647.4Z"/><path d="M1656.0 1443.6L1661.7 1452.8H1650.3Z"/><path d="M1659.1 1439.5L1664.8 1448.7H1653.4Z"/><path d="M1662.4 1435.1L1668.1 1444.4H1656.7Z"/><path d="M1665.9 1430.7L1671.6 1439.9H1660.1Z"/><path d="M1669.5 1426.0L1675.3 1435.3H1663.8Z"/><path d="M1673.5 1421.1L1679.2 1430.4H1667.7Z"/><path d="M1677.6 1416.0L1683.3 1425.2H1671.9Z"/><path d="M1682.0 1410.5L1687.7 1419.8H1676.2Z"/><path d="M1686.6 1404.8L1692.3 1414.0H1680.9Z"/><path d="M1691.5 1398.7L1697.2 1408.0H1685.8Z"/><path d="M1696.7 1392.4L1702.4 1401.6H1690.9Z"/><path d="M1702.1 1385.5L1707.9 1394.7H1696.4Z"/><path d="M1707.9 1378.0L1713.7 1387.2H1702.2Z"/><path d="M1714.1 1369.9L1719.8 1379.2H1708.4Z"/><path d="M1720.6 1361.6L1726.4 1370.8H1714.9Z"/><path d="M1727.5 1352.9L1733.3 1362.2H1721.8Z"/><path d="M1734.9 1343.2L1740.6 1352.5H1729.1Z"/></g>
</g>
<text x="1406.80" y="909.20" font-size="46" text-anchor="middle" fill="#000" >55% RH</text>
<text x="1250.50" y="995.30" font-size="61" text-anchor="middle" fill="#000" >(d)</text>
<text x="1438.50" y="1686.00" font-size="42.5" text-anchor="middle">Re (Z) [mΩ·cm<tspan font-size="25" dy="-17.5">2</tspan><tspan dy="17.5">]</tspan></text>
<text x="0" y="0" font-size="42.5" text-anchor="middle" transform="translate(975.50 1226.75) rotate(-90)">-Im (Z) [mΩ·cm<tspan font-size="25" dy="-17.5">2</tspan><tspan dy="17.5">]</tspan></text>
<rect x="1547.10" y="878.20" width="223.6" height="144" fill="#000"/>
<rect x="1537.60" y="868.70" width="223.6" height="144" fill="#fff" stroke="#1a1a1a" stroke-width="1.5"/>
<line x1="1541.7" y1="894.8" x2="1625.5" y2="894.8" stroke="#000" stroke-width="2.4"/>
<circle cx="1583.60" cy="894.80" r="5.75" fill="#fff" stroke="#000" stroke-width="1.5"/>
<text x="1633.20" y="906.50" font-size="36" text-anchor="start" fill="#000" >Pt/C</text>
<line x1="1541.7" y1="940.9" x2="1625.5" y2="940.9" stroke="#008000" stroke-width="2.8"/>
<path d="M1583.60 933.48L1591.02 946.64H1576.17Z" fill="#fff" stroke="#008000" stroke-width="1.5"/>
<text x="1633.20" y="952.60" font-size="36" text-anchor="start" fill="#000" >HM</text>
<line x1="1541.7" y1="987.3" x2="1625.5" y2="987.3" stroke="#00e800" stroke-width="3.0"/>
<path d="M1583.60 979.88L1591.02 993.04H1576.17Z" fill="#fff" stroke="#00e800" stroke-width="1.5"/>
<text x="1633.20" y="999.00" font-size="36" text-anchor="start" fill="#000" >HM/CF</text>
</svg></body></html>
